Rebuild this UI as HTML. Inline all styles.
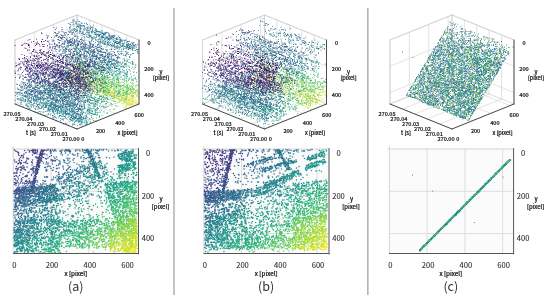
<!DOCTYPE html><html><head><meta charset="utf-8"><style>html,body{margin:0;padding:0;background:#fff}svg{display:block}text{font-family:"Noto Sans CJK JP","Liberation Sans",sans-serif}.b{stroke:#111;stroke-width:.24px}.l{stroke:#000;stroke-width:.22px}.t{stroke:#333;stroke-width:.08px}</style></head><body><svg width="550" height="300" viewBox="0 0 550 300" stroke-linecap="round" fill="none">
<rect width="550" height="300" fill="#fff"/>
<rect x="173" y="8" width="2" height="287" fill="#c4c4c4"/>
<rect x="367" y="8" width="1.6" height="287" fill="#b4b4b4"/>
<path d="M139 40L139 104" stroke="#dadada" stroke-width="0.75"/>
<path d="M77 129L139 104" stroke="#dadada" stroke-width="0.75"/>
<path d="M126.6 35L126.6 99" stroke="#dadada" stroke-width="0.75"/>
<path d="M64.6 124L126.6 99" stroke="#dadada" stroke-width="0.75"/>
<path d="M114.2 30L114.2 94" stroke="#dadada" stroke-width="0.75"/>
<path d="M52.2 119L114.2 94" stroke="#dadada" stroke-width="0.75"/>
<path d="M101.8 25L101.8 89" stroke="#dadada" stroke-width="0.75"/>
<path d="M39.8 114L101.8 89" stroke="#dadada" stroke-width="0.75"/>
<path d="M89.4 20L89.4 84" stroke="#dadada" stroke-width="0.75"/>
<path d="M27.4 109L89.4 84" stroke="#dadada" stroke-width="0.75"/>
<path d="M77 15L77 79" stroke="#dadada" stroke-width="0.75"/>
<path d="M15 104L77 79" stroke="#dadada" stroke-width="0.75"/>
<path d="M15 40L15 104" stroke="#dadada" stroke-width="0.75"/>
<path d="M77 129L15 104" stroke="#dadada" stroke-width="0.75"/>
<path d="M34.4 32.2L34.4 96.2" stroke="#dadada" stroke-width="0.75"/>
<path d="M96.4 121.2L34.4 96.2" stroke="#dadada" stroke-width="0.75"/>
<path d="M53.8 24.4L53.8 88.4" stroke="#dadada" stroke-width="0.75"/>
<path d="M115.8 113.4L53.8 88.4" stroke="#dadada" stroke-width="0.75"/>
<path d="M73.1 16.6L73.1 80.6" stroke="#dadada" stroke-width="0.75"/>
<path d="M135.1 105.6L73.1 80.6" stroke="#dadada" stroke-width="0.75"/>
<path d="M15 40L77 15" stroke="#dadada" stroke-width="0.75"/>
<path d="M77 15L139 40" stroke="#dadada" stroke-width="0.75"/>
<path d="M15 66.2L77 41.2" stroke="#dadada" stroke-width="0.75"/>
<path d="M77 41.2L139 66.2" stroke="#dadada" stroke-width="0.75"/>
<path d="M15 92.5L77 67.5" stroke="#dadada" stroke-width="0.75"/>
<path d="M77 67.5L139 92.5" stroke="#dadada" stroke-width="0.75"/>
<path d="M15 40L77 15" stroke="#cfcfcf" stroke-width="0.8"/>
<path d="M77 15L139 40" stroke="#cfcfcf" stroke-width="0.8"/>
<path d="M15 40L15 104" stroke="#cfcfcf" stroke-width="0.8"/>
<path d="M77 15L77 79" stroke="#cfcfcf" stroke-width="0.8"/>
<path d="M77 79L15 104" stroke="#cfcfcf" stroke-width="0.8"/>
<path d="M77 79L139 104" stroke="#cfcfcf" stroke-width="0.8"/>
<rect x="13.3" y="149.0" width="125.2" height="104.5" fill="#fbfbfb"/>
<path d="M51 149L51 253.5" stroke="#dedede" stroke-width="1"/>
<path d="M88.8 149L88.8 253.5" stroke="#dedede" stroke-width="1"/>
<path d="M126.5 149L126.5 253.5" stroke="#dedede" stroke-width="1"/>
<path d="M13.3 191.3L138.5 191.3" stroke="#dedede" stroke-width="1"/>
<path d="M13.3 233.6L138.5 233.6" stroke="#dedede" stroke-width="1"/>
<path d="M11.8 149L138.5 149" stroke="#d4d4d4" stroke-width="1"/>
<path d="M13.3 146.5L13.3 253.5" stroke="#d4d4d4" stroke-width="1"/>
<path d="M326.5 40L326.5 104" stroke="#dadada" stroke-width="0.75"/>
<path d="M264.5 129L326.5 104" stroke="#dadada" stroke-width="0.75"/>
<path d="M314.1 35L314.1 99" stroke="#dadada" stroke-width="0.75"/>
<path d="M252.1 124L314.1 99" stroke="#dadada" stroke-width="0.75"/>
<path d="M301.7 30L301.7 94" stroke="#dadada" stroke-width="0.75"/>
<path d="M239.7 119L301.7 94" stroke="#dadada" stroke-width="0.75"/>
<path d="M289.3 25L289.3 89" stroke="#dadada" stroke-width="0.75"/>
<path d="M227.3 114L289.3 89" stroke="#dadada" stroke-width="0.75"/>
<path d="M276.9 20L276.9 84" stroke="#dadada" stroke-width="0.75"/>
<path d="M214.9 109L276.9 84" stroke="#dadada" stroke-width="0.75"/>
<path d="M264.5 15L264.5 79" stroke="#dadada" stroke-width="0.75"/>
<path d="M202.5 104L264.5 79" stroke="#dadada" stroke-width="0.75"/>
<path d="M202.5 40L202.5 104" stroke="#dadada" stroke-width="0.75"/>
<path d="M264.5 129L202.5 104" stroke="#dadada" stroke-width="0.75"/>
<path d="M221.9 32.2L221.9 96.2" stroke="#dadada" stroke-width="0.75"/>
<path d="M283.9 121.2L221.9 96.2" stroke="#dadada" stroke-width="0.75"/>
<path d="M241.2 24.4L241.2 88.4" stroke="#dadada" stroke-width="0.75"/>
<path d="M303.2 113.4L241.2 88.4" stroke="#dadada" stroke-width="0.75"/>
<path d="M260.6 16.6L260.6 80.6" stroke="#dadada" stroke-width="0.75"/>
<path d="M322.6 105.6L260.6 80.6" stroke="#dadada" stroke-width="0.75"/>
<path d="M202.5 40L264.5 15" stroke="#dadada" stroke-width="0.75"/>
<path d="M264.5 15L326.5 40" stroke="#dadada" stroke-width="0.75"/>
<path d="M202.5 66.2L264.5 41.2" stroke="#dadada" stroke-width="0.75"/>
<path d="M264.5 41.2L326.5 66.2" stroke="#dadada" stroke-width="0.75"/>
<path d="M202.5 92.5L264.5 67.5" stroke="#dadada" stroke-width="0.75"/>
<path d="M264.5 67.5L326.5 92.5" stroke="#dadada" stroke-width="0.75"/>
<path d="M202.5 40L264.5 15" stroke="#cfcfcf" stroke-width="0.8"/>
<path d="M264.5 15L326.5 40" stroke="#cfcfcf" stroke-width="0.8"/>
<path d="M202.5 40L202.5 104" stroke="#cfcfcf" stroke-width="0.8"/>
<path d="M264.5 15L264.5 79" stroke="#cfcfcf" stroke-width="0.8"/>
<path d="M264.5 79L202.5 104" stroke="#cfcfcf" stroke-width="0.8"/>
<path d="M264.5 79L326.5 104" stroke="#cfcfcf" stroke-width="0.8"/>
<rect x="203.8" y="149.0" width="125.2" height="104.5" fill="#fbfbfb"/>
<path d="M241.5 149L241.5 253.5" stroke="#dedede" stroke-width="1"/>
<path d="M279.3 149L279.3 253.5" stroke="#dedede" stroke-width="1"/>
<path d="M317 149L317 253.5" stroke="#dedede" stroke-width="1"/>
<path d="M203.8 191.3L329 191.3" stroke="#dedede" stroke-width="1"/>
<path d="M203.8 233.6L329 233.6" stroke="#dedede" stroke-width="1"/>
<path d="M202.3 149L329 149" stroke="#d4d4d4" stroke-width="1"/>
<path d="M203.8 146.5L203.8 253.5" stroke="#d4d4d4" stroke-width="1"/>
<path d="M514 40L514 104" stroke="#dadada" stroke-width="0.75"/>
<path d="M452 129L514 104" stroke="#dadada" stroke-width="0.75"/>
<path d="M501.6 35L501.6 99" stroke="#dadada" stroke-width="0.75"/>
<path d="M439.6 124L501.6 99" stroke="#dadada" stroke-width="0.75"/>
<path d="M489.2 30L489.2 94" stroke="#dadada" stroke-width="0.75"/>
<path d="M427.2 119L489.2 94" stroke="#dadada" stroke-width="0.75"/>
<path d="M476.8 25L476.8 89" stroke="#dadada" stroke-width="0.75"/>
<path d="M414.8 114L476.8 89" stroke="#dadada" stroke-width="0.75"/>
<path d="M464.4 20L464.4 84" stroke="#dadada" stroke-width="0.75"/>
<path d="M402.4 109L464.4 84" stroke="#dadada" stroke-width="0.75"/>
<path d="M452 15L452 79" stroke="#dadada" stroke-width="0.75"/>
<path d="M390 104L452 79" stroke="#dadada" stroke-width="0.75"/>
<path d="M390 40L390 104" stroke="#dadada" stroke-width="0.75"/>
<path d="M452 129L390 104" stroke="#dadada" stroke-width="0.75"/>
<path d="M409.4 32.2L409.4 96.2" stroke="#dadada" stroke-width="0.75"/>
<path d="M471.4 121.2L409.4 96.2" stroke="#dadada" stroke-width="0.75"/>
<path d="M428.8 24.4L428.8 88.4" stroke="#dadada" stroke-width="0.75"/>
<path d="M490.8 113.4L428.8 88.4" stroke="#dadada" stroke-width="0.75"/>
<path d="M448.1 16.6L448.1 80.6" stroke="#dadada" stroke-width="0.75"/>
<path d="M510.1 105.6L448.1 80.6" stroke="#dadada" stroke-width="0.75"/>
<path d="M390 40L452 15" stroke="#dadada" stroke-width="0.75"/>
<path d="M452 15L514 40" stroke="#dadada" stroke-width="0.75"/>
<path d="M390 66.2L452 41.2" stroke="#dadada" stroke-width="0.75"/>
<path d="M452 41.2L514 66.2" stroke="#dadada" stroke-width="0.75"/>
<path d="M390 92.5L452 67.5" stroke="#dadada" stroke-width="0.75"/>
<path d="M452 67.5L514 92.5" stroke="#dadada" stroke-width="0.75"/>
<path d="M390 40L452 15" stroke="#cfcfcf" stroke-width="0.8"/>
<path d="M452 15L514 40" stroke="#cfcfcf" stroke-width="0.8"/>
<path d="M390 40L390 104" stroke="#cfcfcf" stroke-width="0.8"/>
<path d="M452 15L452 79" stroke="#cfcfcf" stroke-width="0.8"/>
<path d="M452 79L390 104" stroke="#cfcfcf" stroke-width="0.8"/>
<path d="M452 79L514 104" stroke="#cfcfcf" stroke-width="0.8"/>
<rect x="389.4" y="149.0" width="124.2" height="104.5" fill="#fbfbfb"/>
<path d="M427.1 149L427.1 253.5" stroke="#dedede" stroke-width="1"/>
<path d="M464.9 149L464.9 253.5" stroke="#dedede" stroke-width="1"/>
<path d="M502.6 149L502.6 253.5" stroke="#dedede" stroke-width="1"/>
<path d="M389.4 191.3L513.6 191.3" stroke="#dedede" stroke-width="1"/>
<path d="M389.4 233.6L513.6 233.6" stroke="#dedede" stroke-width="1"/>
<path d="M387.9 149L513.6 149" stroke="#d4d4d4" stroke-width="1"/>
<path d="M389.4 146.5L389.4 253.5" stroke="#d4d4d4" stroke-width="1"/>
<g transform="scale(0.5)">
<path stroke="#481a6c" stroke-width="3.00" d="M87 301zm-6 4zm-47-2zm20 15zm25-4zm1 1zm-4 12zm-40 10z"/>
<path stroke="#472f7d" stroke-width="3.00" d="M89 300zm-2 2zm0 0zm-1 2zm0-3zm0 1zm-1-1zm0 3zm-1-2zm0 5zm0 3zm0-10zm-1 0zm-1 9zm0 2zm0-4zm-1 0zm0-3zm-1 5zm-1 1zm0 0zm0 0zm-9-10zm-6 1zm-5 1zm-11 6zm-2 3zm-3 0zm-5 0zm-1-6zm0 3zm-1-3zm-7-5zm0 20zm9 1zm1-3zm2-3zm2 6zm4-7zm7 2zm23 2zm0 2zm0 3zm1-7zm0-1zm2 4zm2-2zm1-1zm0 1zm1-4zm0 2zm-5 10zm-3 7zm0 0zm-1-8zm0 2zm0 0zm-1 4zm-1 3zm-9-9zm-10 10zm-3-10zm-3 10zm-4 0zm-3 0zm-2-10zm-2 3zm-1 0zm0 1zm0 0zm-3-4zm-5 22zm2 0zm2-9zm1 9zm1-4zm7-2zm2-4zm19 3zm5-1zm4 4zm1 3zm2-4zm1 4zm1-6zm1 0zm-7 12zm-2 3zm-36-3zm3 11zm24-1zm11 3zm-8 19zm-14-5zm-10 2zm-4 7z"/>
<path stroke="#414487" stroke-width="3.00" d="M66 299zm30 0zm14 0zm74 12zm-11-9zm-52 0zm-16-2zm-4 0zm-8 1zm-1 0zm-4 7zm-2 0zm-1-6zm0 7zm0-6zm-1-2zm0 6zm-2-5zm-1 9zm-1-3zm-5-8zm0 2zm0 2zm-1 4zm-2-3zm-1-5zm0 2zm-1 3zm-1 2zm-1-6zm0-1zm0 1zm0 0zm-1 5zm0-3zm-2-2zm0 9zm0-6zm-3-3zm-3 3zm-3-4zm-4 5zm-3-4zm-18 1zm12 10zm3 4zm7 6zm12-2zm6-6zm2 0zm2 7zm0-6zm2 5zm1-3zm0-3zm0 3zm0 2zm1-6zm0 9zm2-2zm1 2zm1-2zm15 12zm-18-7zm-1 6zm-1-4zm0 0zm0 8zm0-2zm-1-1zm0-3zm0-3zm-2-1zm0 6zm0-3zm0 1zm-1-4zm0 8zm-2 1zm-9-10zm-8 3zm-3-1zm-4-1zm0 10zm-2-4zm-3-5zm-2-1zm0 2zm-3 8zm-5-2zm0 0zm-3-9zm2 14zm2 8zm1-6zm1-1zm5 6zm2-5zm2-3zm3 1zm3 2zm5 5zm6-7zm3 2zm1 6zm2-1zm0-2zm2-6zm1 10zm0-7zm1-1zm0 2zm1-5zm0 0zm0 10zm0-8zm0 1zm1 7zm0-8zm0 6zm0 3zm0-9zm0 5zm0 2zm0-1zm1-2zm0 1zm0-3zm0-3zm0 7zm38-7zm-40 11zm-1 5zm0-5zm0 1zm0 5zm-1 3zm0-7zm-1 1zm0-1zm-1 7zm0 1zm0 1zm-1-2zm0 1zm-14-5zm0-2zm-2 2zm-1-1zm-1 1zm-4-5zm0 7zm-3 3zm0-1zm-6 1zm-1-4zm-3-2zm-2 6zm-2-5zm0 5zm0 7zm0 4zm2-2zm1 4zm0-10zm0 4zm1 2zm11-7zm6 7zm1-4zm3 1zm1 0zm2 3zm5-2zm4-3zm0 1zm0-1zm1 5zm0-2zm0 1zm1-6zm0 5zm1 6zm0-11zm0 3zm0 2zm0-3zm1-1zm0 1zm-1 10zm-2 5zm0-4zm-1 6zm-1-6zm-1-1zm0 7zm0-1zm-1 2zm0 2zm0-6zm0-2zm0 7zm0-9zm-1 9zm0-2zm0 4zm-1-2zm0 1zm-4 0zm-3-7zm-2 7zm-3-6zm-3 4zm-4 2zm-2-2zm-1-5zm0 8zm-2-2zm-1-3zm-2 3zm-2-1zm0 3zm0 2zm2 2zm1-3zm5 9zm12-3zm7-5zm3 2zm0 4zm-21 14zm-6-9z"/>
<path stroke="#39568c" stroke-width="3.00" d="M132 299zm49 7zm0-2zm-1-1zm-1 3zm-1-3zm0 1zm-1-3zm-2-1zm-1 1zm-18 7zm-4-8zm-1 2zm-1 8zm-10-7zm-1-3zm0 3zm-2-3zm-1 2zm-1-1zm-2 0zm-2 5zm-1-5zm-7 4zm0-3zm-1 6zm-10-6zm-3-1zm-2 1zm-4 9zm-1-8zm0 3zm-1 0zm0-6zm-1 2zm-4-2zm-6 8zm-11 1zm-5-8zm-3 6zm-14 11zm0-1zm17 0zm4 2zm6 4zm3-8zm4 2zm2 1zm3-2zm3-3zm3 7zm1 0zm2 0zm0 3zm3-9zm2 8zm0-5zm17 3zm19 0zm2-3zm14-1zm-28 11zm-4-2zm-10 3zm-7 3zm-8-3zm-5 5zm-4-5zm0-2zm-3-2zm-1 4zm-1 7zm-1 0zm-11-2zm0-2zm0-4zm-1 8zm-1-1zm-4-4zm-5 3zm-2 2zm-1-9zm-1 4zm-23-2zm8 11zm9 5zm6-7zm2 3zm0-2zm1 5zm6 4zm20-5zm0-3zm1 1zm20-3zm27 2zm-14 10zm-8 9zm-5-6zm-21 2zm-4 0zm-16-6zm-2 6zm-1 2zm-3 2zm-4-7zm0-2zm-5 8zm-4-6zm-15 0zm-3 14zm2 3zm3-2zm1-3zm1-1zm2 4zm3 0zm1 2zm3-7zm1 6zm0-6zm1 2zm1 7zm3-7zm0 0zm0 1zm2 1zm0 1zm0 5zm1-7zm1 4zm0-5zm3 3zm0 2zm1-5zm1 6zm0-4zm0 3zm1-4zm0 6zm1-3zm2-7zm0 4zm3 5zm0-8zm1 3zm6 4zm5-7zm0 5zm19 4zm7-2zm1 14zm-14-9zm-8 3zm-2 5zm-1-1zm-7-5zm-1-2zm-1 6zm-1 2zm0-5zm0 7zm-3-7zm0 3zm-2-4zm0 4zm0 0zm-2-5zm-1 2zm-1-1zm-1 4zm-1-7zm0 5zm0-1zm0 5zm-1-8zm-1 2zm0-3zm0 2zm-1 5zm0 3zm0-7zm0 5zm0-3zm0 5zm-1-7zm0 8zm0-3zm-1 1zm0-6zm-1 6zm0 0zm-1 0zm-1-3zm0 3zm-1-7zm-2 2zm0-1zm0 6zm0-1zm-2 2zm0-2zm-1 0zm0-2zm-1-6zm-1 2zm0 3zm-1-2zm0-2zm0 5zm0 1zm0-4zm-2 6zm0-2zm-1-4zm0 8zm-1-11zm0 6zm0 3zm-1-3zm0 1zm0-3zm-2 4zm0-2zm0 5zm-1-2zm0-7zm0 7zm0-2zm0 1zm-2 0zm-1-3zm-1-1zm0 2zm-1-6zm0 10zm0-2zm0 3zm-1-2zm-1-6zm0 3zm-1-1zm-1 1zm-1 2zm-1 1zm0-1zm-2 3zm0-1zm-1 1zm0 4zm1 0zm1 8zm0-3zm1-2zm0 4zm2-5zm0-4zm1 1zm3 1zm0 3zm0 5zm0-1zm1-6zm0-2zm1 0zm0 5zm1-2zm2-4zm0 1zm1-1zm0 8zm0-2zm1-6zm0 5zm1-4zm1 9zm0-9zm1 1zm0-1zm1 7zm1-7zm1 3zm0 4zm3-9zm1 10zm1-5zm1 5zm1-7zm1 1zm0-2zm1 0zm0 3zm1 3zm2-5zm0 6zm2-6zm1-2zm4 1zm2 1zm4-1zm5-2zm5 3zm2 0zm-8 9zm-11 1zm-6 9zm-8 0zm0-6zm0 6zm-2-10zm-4 4zm0-4zm0 2zm-1 4zm-1 4zm-1-5zm0-2zm0-1zm0 7zm0-8zm0 8zm-1 0zm-3-4zm0 0zm-1-5zm-2 4zm0-3zm-3 6zm0-1zm-1-4zm0 6zm0-4zm-1-4zm0 0zm-1 9zm0-1zm0 3zm-3-7zm1 14zm0-2zm1 1zm1-2zm0-1zm1 3zm5-3zm8 3zm4-5zm0 5zm0 6zm-11 3zm-6 0zm-2 1zm6 25zm-7 7z"/>
<path stroke="#31688e" stroke-width="3.00" d="M165 299zm8 0zm1 0zm9 0zm17 0zm4 1zm-5 0zm-2 2zm-1 0zm0 6zm-2-7zm-1 5zm-2-6zm-9 11zm-2-3zm0-2zm-1-3zm0 5zm-1-1zm-1-5zm0 4zm0 2zm0 1zm0 1zm-1-10zm0 6zm0-2zm-1 1zm0 0zm0-5zm-1 1zm0 2zm0-2zm-1-1zm-1 1zm-2 0zm0 5zm-2-1zm-2-3zm-1 0zm-6-2zm-4 0zm0 7zm-8 3zm-2-2zm-4-5zm-1-2zm0 5zm-6-6zm-4 3zm-5-3zm0 10zm-5-8zm-26 8zm13 11zm3 0zm1 0zm2-7zm1 5zm6 4zm9-2zm5-5zm2 5zm0-3zm4 5zm15-11zm7 2zm5 9zm1-8zm4 2zm4-2zm2 8zm1-9zm1 0zm0-1zm1 3zm0-3zm0 0zm1 9zm0-3zm0-6zm0-1zm0 2zm1-1zm0 7zm1-2zm0 0zm2-6zm0 6zm0-1zm0 3zm0-3zm1 3zm2-3zm5 17zm-5-1zm-1-2zm0 3zm-1-10zm0 1zm0 0zm0 0zm-2 4zm-8 1zm-7 3zm0 0zm-2-2zm-10-1zm-4-2zm-15 6zm-1-8zm-2 5zm-8-7zm-2 8zm0 2zm-6-8zm0 0zm-2 2zm-1 2zm-22 3zm-5 2zm-3-9zm-12 20zm17-5zm10-4zm3 4zm1-1zm6 3zm5 2zm1-9zm11 11zm4-6zm1 5zm2-8zm1-2zm1 9zm6 0zm5-5zm3 1zm1-2zm23 5zm15-2zm1-1zm1-3zm4 9zm-40 11zm-6-2zm-1-6zm-4 4zm-4-6zm-1 2zm-3 5zm-1-5zm0 0zm-2 6zm-1 0zm0-1zm-1 4zm-3-11zm-3 2zm-1-2zm-3 9zm-4-4zm-1-5zm0 1zm-1 8zm0-8zm-3 9zm-3-3zm-4-1zm-3 5zm-9-5zm-3 0zm-28 14zm2-3zm18 4zm4-1zm1-5zm2-1zm1 6zm4 3zm4-1zm1-2zm3 3zm0-11zm3 10zm1 1zm9-10zm5 2zm1 5zm4-6zm2 2zm1-4zm3 6zm3-4zm3 1zm3-3zm-24 20zm-3-3zm-5-2zm0-3zm-1 10zm0-10zm-1 9zm-1-9zm-1 1zm0 2zm-1 1zm0 1zm-1-2zm0 8zm-1-5zm-1-5zm0 5zm-1-1zm0 4zm0-1zm-1-7zm0 2zm-1-3zm0 4zm0 0zm0 2zm-1-5zm0 0zm0 3zm-1 4zm-2 3zm0-7zm0-1zm-1 7zm0-10zm0 6zm-1-5zm0 3zm-1 3zm0-3zm0 6zm0-4zm-1 5zm0-6zm-1-2zm0 4zm0-5zm0 8zm-1-9zm-1 5zm0 3zm-1-4zm0 6zm0-5zm0 1zm0 2zm-1-4zm0-3zm0 0zm-1 9zm0-9zm-1 0zm0 0zm0 3zm0-4zm0 4zm0-5zm-1 5zm0 6zm-1 0zm0-11zm0 5zm0 2zm0 4zm-1-8zm-1 3zm-1-5zm-1 7zm-1-8zm0 4zm-3 1zm0-2zm0 3zm0 0zm-1 3zm-1-5zm0 0zm0 1zm0 3zm-1-4zm-2-1zm0 7zm-1 0zm-3 0zm-2-2zm-2-5zm-1 4zm0-6zm0 8zm0 0zm-2 2zm0-4zm-2 3zm0-2zm-3-1zm-1-3zm-2 6zm0 1zm-1-1zm-1 1zm0-4zm-1 4zm-1-6zm0 3zm0-4zm-1-1zm-1 5zm-1 2zm-2 0zm-7-4zm-4 4zm-1 5zm1-1zm2 2zm0 1zm7 5zm0-3zm1 1zm0 2zm1-10zm1 2zm1 6zm0-4zm1 6zm1-2zm0 3zm1-10zm0 5zm0 1zm1-2zm1 3zm1 3zm1 0zm0-10zm1 1zm1 3zm0 1zm1 4zm0-1zm0-4zm1-3zm0-1zm0-1zm0 3zm1 2zm0 0zm1 5zm0 0zm0-5zm1-1zm3 4zm0-8zm1 10zm0-2zm1 2zm3-2zm0-1zm2-6zm0 8zm0-6zm0-3zm2 1zm0 0zm1 4zm1 4zm1-2zm0-4zm1 6zm0-6zm1 2zm0 4zm1-5zm1-1zm0 0zm1-2zm0 10zm0-2zm0-5zm0 2zm1 0zm1-2zm0-2zm1 7zm0-3zm0 0zm2 5zm0-2zm2-7zm1-2zm0 11zm1-10zm0 10zm0 0zm1-9zm1 2zm0-2zm0-2zm2 4zm1 2zm2-6zm0 4zm1 5zm1 1zm0-2zm1-4zm0 1zm3 1zm1-5zm0 10zm1-4zm3 1zm2-6zm0 3zm3-5zm2 1zm3 2zm6 1zm15 0zm-10 9zm-13-1zm-3 5zm-9-4zm-1 6zm-1-6zm-4 6zm-1 0zm0-3zm-2 5zm-1-6zm-1 4zm-1-4zm0-2zm0 6zm-1-6zm-2 5zm-1 3zm-1-8zm-2 0zm0 0zm-1 3zm0 0zm-1-1zm0 6zm-1 0zm-1-8zm-1 3zm-2-1zm-2 7zm-1-1zm0-6zm-1 5zm0-2zm-3 0zm0 1zm0-2zm-1-2zm0 8zm0-9zm-1 9zm-2-2zm-1 2zm0-7zm-1 1zm-1 0zm0 1zm0 5zm-1-11zm0 1zm0 0zm-1 0zm0 5zm-1-2zm0 3zm-1 4zm-1-5zm-1 2zm0-6zm0-1zm-3 2zm-1-2zm0 3zm-1 2zm-1 0zm0 3zm0-3zm-2-4zm-1 1zm-1-3zm0 10zm-1 1zm-1-8zm0-2zm-1 3zm0 0zm-1 7zm-1-4zm0 3zm0-2zm-1-4zm0 3zm0-7zm0 8zm-1-6zm0 5zm-1-2zm-4-1zm0 7zm-1-11zm-1 7zm-1-2zm0 1zm0-1zm0 1zm-1 17zm2-11zm0 7zm0 4zm1-5zm0-3zm0-1zm0 6zm0-4zm2 7zm0-8zm2 3zm1 2zm0 1zm1-6zm5 1zm0 4zm2-5zm0 1zm2-2zm0 4zm1-4zm1 0zm1 0zm1 0zm1-2zm0 2zm1 3zm2-4zm0 9zm2-10zm0 4zm2-2zm1-1zm0 8zm0 2zm0-9zm2-2zm2 7zm1-5zm2 6zm0-5zm0 6zm0-6zm4 5zm24-6zm-15 10zm-7 2zm-2 3zm-12-3zm-4 5zm-1-2zm0-3zm-1 2zm-4-4zm0 2zm-2 0zm-2 5zm0 1zm0 0zm-1 3zm-1-11zm-1 7zm-3 1zm-1-2zm-2 3zm0-3zm-3 4zm0 0zm-4 0zm2 4zm0 2zm3 4zm1 3zm3-11zm1 10zm1-5zm0 5zm4-7zm5 8zm8-9zm1 8zm9-1zm10-9zm-16 13zm-11 2zm0 1zm-3-3zm-10 0zm-2 4zm-4 2zm-1-5zm9 16zm1-3zm3 0zm-11 12z"/>
<path stroke="#2a788e" stroke-width="3.00" d="M213 299zm43 6zm-5 4zm-1-8zm-3 3zm-3 4zm-1-1zm-1 1zm-4 0zm-1 3zm-7-10zm0 1zm-13 0zm-10-2zm-9 11zm-3-11zm-1 1zm0 5zm-3-1zm-4 3zm0-8zm-4 2zm0 5zm-1 3zm0-10zm-2 4zm-2 3zm-9-7zm-3 11zm-30-1zm-18 11zm21-4zm25 6zm4-5zm5-1zm6-2zm0-1zm1-2zm1 11zm3-10zm1 4zm1 1zm0-1zm1 6zm0-2zm1-1zm9-5zm2 1zm0 6zm1-7zm13 0zm15-1zm13 4zm14-1zm-19 14zm-31 2zm-3-9zm-1 7zm0-7zm-3 0zm-1 1zm-1 0zm-2 3zm-1-1zm0 8zm-1-5zm0 2zm-1-1zm0 4zm-1-10zm0 2zm0 3zm-1 1zm0-4zm0 5zm-1 0zm0-3zm0 0zm0-4zm0 7zm0 3zm-1-6zm0 4zm0-6zm-1-2zm-1 5zm0 1zm0-3zm-1 0zm-2 5zm0-6zm0 0zm-1 1zm-1-1zm0-1zm-4 9zm-1-1zm-10-1zm-1-3zm-2 4zm-2-1zm-12-8zm-8 9zm-33 1zm-12-2zm32 5zm3 7zm4-6zm1 5zm7 2zm3-6zm8-1zm0 3zm1 2zm1-8zm1 7zm0-1zm1 1zm1 2zm0 2zm1 0zm1-5zm0-2zm1-4zm1 8zm0 2zm1-4zm1 1zm2-7zm0 8zm3-7zm2 6zm1-7zm2 1zm1 7zm0-8zm1 6zm0-5zm3 4zm0-3zm0-1zm11 1zm1-1zm1 3zm2-4zm0 4zm1 3zm0 1zm0-3zm1 6zm0-2zm2 2zm9-4zm31 2zm-25 3zm-13 8zm0-5zm-1-1zm-1-2zm-1 4zm0 4zm0-1zm0-2zm0-1zm0-4zm0 9zm0-8zm-1-1zm0 3zm0 0zm0-1zm-11 4zm-2 4zm0-9zm-3 2zm-4 2zm0 2zm-5-2zm-2-4zm-1-1zm-1 0zm-7 8zm-4-3zm-2-5zm-1 0zm-2 8zm-1 3zm-1-9zm-1 8zm-2-4zm-1-2zm-2 3zm0-6zm-2 1zm-1 5zm-1-2zm-1-1zm-1 0zm0 5zm0-8zm-2 9zm-2-7zm-7-2zm0 5zm-2-1zm0 2zm-3 1zm-1 2zm-2-4zm-1 0zm0 1zm-1 4zm-9-1zm-13-4zm0 17zm10 0zm1-2zm0 1zm4 0zm1-1zm4-7zm4 2zm1 4zm0-4zm4 4zm4-2zm1 0zm0-4zm3 6zm0 1zm1-6zm2 8zm4-9zm1 5zm4-6zm0 1zm0 0zm1-1zm0 5zm0-1zm2 6zm9-8zm2 4zm1-3zm1 3zm1-3zm8 3zm12-1zm1 5zm-12 9zm-12 0zm-4-8zm-2 10zm-4-10zm-2 0zm-5 1zm-1 1zm0 3zm-7 5zm-2-9zm-2 4zm0-2zm-2 2zm0-3zm-2 2zm-3 4zm-4 2zm-1-1zm-1-3zm-1 2zm0-3zm-1 5zm-2-5zm-1 4zm0 1zm-1-8zm0 4zm0 1zm-1 4zm-1-8zm-1 6zm-1-8zm-3 3zm0-4zm0 2zm-1 3zm-1 0zm-2 2zm-3 2zm-1 0zm-1-8zm-1 4zm0 2zm0 3zm-2-1zm-6-7zm-3 3zm-1 2zm-4 3zm0-4zm-4 0zm0 2zm0 3zm-1-8zm-6 8zm-7-4zm-3 3zm2 12zm12-2zm2 1zm0 1zm2-6zm4 5zm0-1zm3-7zm0 8zm3-5zm1 2zm0-3zm0 5zm0-4zm0 2zm1-2zm0-3zm0 5zm0-4zm1-1zm2 0zm0 10zm0-10zm1 10zm1-4zm2-7zm1 5zm1 4zm0 2zm0-2zm1-1zm2-7zm1 9zm1-6zm0 7zm1-7zm0 7zm0-11zm0 11zm0 0zm2-4zm1-5zm0 3zm0-4zm1-1zm0 5zm0-4zm2 4zm1 2zm0 2zm0 0zm1-5zm1 7zm0-3zm0-8zm2 10zm0-5zm0-2zm1-1zm0 9zm0-8zm1 1zm0 5zm0 2zm0-8zm1 4zm1-1zm0 1zm0 1zm1-2zm2 4zm5 0zm1-7zm1 7zm2-4zm0-1zm1-3zm0 6zm11-5zm3 1zm3-3zm4 8zm3-1zm9-6zm-31 13zm-10-1zm-1 1zm-1-2zm0-1zm-5 6zm0-6zm-3 4zm-1-3zm-1 2zm0-2zm-1 0zm0-1zm-2 2zm-1 5zm0 0zm-1 0zm0-1zm-1-3zm0-1zm0-2zm0 4zm-1-2zm0 6zm0-5zm0 2zm0 5zm-1-4zm0 0zm-1 1zm0 0zm-1-3zm-1 0zm0 2zm-1 0zm-1-1zm-1-2zm0 2zm0-3zm0 4zm0 1zm0 3zm-1-7zm0-3zm0 3zm-1 5zm0-1zm0-1zm0 2zm-1-1zm0 1zm-1-2zm-2-4zm0 1zm0-3zm-1 2zm0 4zm0-5zm-1 4zm0-5zm0 8zm0 2zm-1 0zm-1-6zm-1 2zm-1 2zm0-8zm-1 9zm-1-4zm0 4zm-1-4zm0 5zm-1 0zm0-10zm-1 4zm-1-1zm0 5zm-1-3zm-1 1zm-2 0zm-1 3zm-1-7zm-1 9zm0-6zm-3 3zm-1 1zm-4-1zm0-2zm-2-6zm-2 2zm-5 5zm-1-2zm-1 4zm-1 2zm-1 0zm-6-4zm-1 4zm-5 11zm2-7zm10-1zm1-1zm0 7zm3-3zm1-3zm1 0zm6 4zm2 5zm7-11zm0 7zm2-4zm2 1zm0-2zm1-1zm4 3zm4-1zm0 1zm3 2zm0-3zm2 0zm1 8zm2-8zm0 4zm1 0zm1-5zm0-2zm0 2zm1 7zm2 0zm0-2zm6 1zm3-2zm2 1zm1-4zm0-1zm9 1zm5-2zm-9 18zm-1-3zm-7-1zm0 2zm0-2zm-7 0zm-3 6zm-2-9zm-3 0zm-1 1zm-4 2zm-2 4zm-2-6zm-4 5zm-2 4zm0 0zm-5-1zm0-1zm-1 3zm-1-1zm0-7zm-3-1zm-1 3zm0-1zm-2-3zm0 3zm-3-3zm-1 5zm0 5zm-1-4zm-1 3zm-3-10zm-4 6zm-1-5zm-3 7zm-1-2zm-1-5zm-1-1zm-4 6zm-9-2zm3 18zm1-3zm2 2zm2 2zm4-5zm0 5zm1-10zm0 10zm2-3zm2-2zm0 4zm1-1zm2-9zm1 6zm1-5zm0 4zm0-2zm1 3zm0 2zm0-7zm0 4zm1-3zm3 8zm1-9zm0 9zm1-3zm2 3zm1-7zm1 5zm0-3zm2 0zm0 4zm1-3zm0 2zm0-5zm1 6zm3-5zm0 6zm1-2zm0 1zm1-8zm0 8zm4-1zm0-5zm2-1zm5-1zm3 7zm6 2zm7-9zm5 3zm1 3zm4 1zm-13 6zm-18-1zm-1 2zm0 7zm-3-9zm-2 0zm-1 1zm-1 9zm-1-9zm-1 0zm0-1zm-1 6zm0-5zm0-1zm-2 2zm-2 0zm-2 7zm-2-3zm-1-6zm-1 2zm0 5zm-1-6zm-1 1zm0 5zm-1 3zm0-1zm-1-3zm-1-7zm0 10zm-2-10zm0 8zm0-5zm0 2zm0-3zm-2-1zm0 8zm-1 1zm0-7zm-3-3zm0 6zm-1-1zm0-2zm-1 8zm0-2zm0-1zm0-8zm-1 1zm0 0zm0 8zm0-7zm-1 5zm0 4zm0 0zm-1-11zm-1 2zm-2 7zm-1-4zm-2 0zm-2-1zm0-2zm-1 10zm0 5zm2 4zm0-2zm1 3zm1-6zm0 3zm0-1zm0 1zm0 3zm1-3zm1 1zm0-2zm0-3zm0 6zm1-9zm0 7zm1 2zm0-6zm0-2zm1 4zm0 2zm1-4zm0 6zm2-3zm0 3zm1-6zm0-1zm2 7zm0-4zm1 4zm1-7zm0 0zm0 8zm0-4zm1-1zm1-3zm0 9zm4-7zm0 0zm2 1zm1 0zm0 4zm1-3zm0 5zm1-10zm2 5zm3-5zm2 7zm4-4zm9-2zm5 5zm-23 8zm-1-2zm-1 2zm-1-3zm0 0zm-4 1zm-1 6zm-5-7zm-4 2zm-1 5zm-4-1zm0 3zm0-4zm-2-1zm0 7zm0-3zm-3 0zm0-6zm-2 1zm-1 4zm1 7zm2-1zm0 9zm1-10zm4 4zm2-2zm0 4zm3 1zm1-5zm0 6zm0-7zm0 5zm10-1zm5 0zm-13 9zm-4 5zm-8-6z"/>
<path stroke="#23888e" stroke-width="3.00" d="M207 299zm29 0zm34 11zm-3-10zm-1 3zm0 3zm-1 0zm0-2zm-1-4zm-1 7zm-2 0zm-1-4zm-1 2zm-1 3zm-1 2zm0-7zm-2 5zm-1-8zm-1 1zm0 7zm0-3zm0 0zm-1-4zm-1 4zm0-2zm-2 2zm0 4zm-1-2zm0 4zm-1-5zm0 0zm0 1zm-1-3zm-1 4zm-1 2zm-1-3zm-1-7zm0 9zm-5-8zm0 10zm-2-10zm-11 0zm-30 1zm-22 3zm-12-3zm22 19zm3-7zm6 0zm9 7zm19-5zm17-4zm1 0zm1 4zm0-4zm1 5zm0-3zm2 4zm0-1zm1-4zm1 5zm0-2zm1-3zm0 9zm0-5zm1 3zm1-8zm1 4zm2-2zm1 1zm0 4zm1 3zm0-2zm0-4zm2 1zm0 5zm0-9zm0 4zm1 5zm0-9zm1 8zm0-2zm1 4zm1-11zm2 9zm1-9zm0 7zm0-1zm1-6zm0 0zm1 1zm1 7zm2-1zm1-1zm3-3zm1 2zm0-1zm0 11zm-2-2zm-2-1zm-6 3zm-4 2zm0 4zm-1 1zm-4-4zm-3 5zm-1-1zm-1-5zm-2 2zm-1 0zm0 2zm0 2zm-2-1zm-1-3zm0 1zm-1 1zm0 2zm-1-4zm-1 0zm-1 4zm-24 0zm-2-2zm0-3zm-1 5zm-6-8zm-2 5zm-2-4zm-1 6zm-1-5zm-3 6zm-1-5zm0 2zm-1 1zm-1-9zm-1 8zm-1-1zm-2 1zm-1-7zm-1-1zm-2 3zm-3 6zm-2 2zm-32 8zm11 3zm1-2zm9-4zm1 0zm1 0zm0-4zm0 3zm1 1zm1-2zm2 9zm2-10zm1 6zm4 3zm5-8zm3 6zm1-5zm0 5zm1-2zm1-3zm0 6zm0-8zm1 1zm0 5zm1 4zm1-8zm1 5zm1 2zm1-1zm4-8zm0-1zm3 2zm1-2zm1 0zm0 10zm0-9zm2 6zm0 0zm4 2zm1 0zm0 1zm1-6zm8 4zm15-2zm2 4zm1-5zm4-2zm1-3zm1 6zm0-6zm2 1zm3 1zm0-1zm2 3zm2-4zm-4 15zm-24-3zm-3 8zm-14 3zm-1-10zm0 3zm-3 2zm0-1zm-1-1zm-3 3zm0 0zm-2 0zm-1-3zm-1-1zm-1 3zm0 0zm-2-3zm0 2zm-3-1zm0-2zm-1 1zm-1 7zm-1-4zm0-3zm0-3zm-2 11zm-2-3zm0-6zm-3 6zm0-4zm-1-1zm-1 2zm0 1zm-2 1zm-3 1zm-2-1zm-1-3zm0 0zm-4 1zm0-4zm-1 3zm0-3zm-6 3zm-7-4zm-17 10zm-14 9zm6-7zm6 11zm5-11zm0 2zm2 9zm1-9zm5 4zm2-1zm0 3zm3-5zm0 5zm4-4zm0 5zm4-4zm2 6zm1-5zm1 0zm1 4zm2-1zm0-7zm1 6zm2-8zm3 11zm2-9zm4 2zm4-3zm0 4zm0-3zm1 3zm2 0zm4-1zm3-3zm3 1zm2 0zm6-1zm1 2zm5 4zm0 2zm4 2zm16-5zm-13 8zm-17 0zm0 9zm-9-11zm-1 1zm-12 0zm-2-1zm-1 8zm-2-3zm0 4zm0 2zm-2-5zm0-6zm-1 9zm-5 0zm-1-7zm-2 1zm-2 5zm-2 2zm0-6zm-1-4zm0 2zm-1-1zm-3 5zm0-6zm-4 8zm-2 2zm-2-2zm-1-7zm-3 2zm-3 4zm0-7zm-2 11zm-3-5zm-2-4zm-8-1zm-9 7zm-2 1zm0-4zm-6 2zm-25 16zm13-7zm4 4zm7 3zm2-2zm10-3zm2 2zm2 0zm0-3zm4 0zm3 5zm3-7zm5 0zm0 7zm1-6zm1-3zm1 3zm0 1zm3 2zm2 4zm3-6zm5-5zm1 7zm0-1zm0 5zm1-2zm0 0zm1-9zm2 5zm0 3zm0-8zm1 8zm4 0zm4-5zm1 1zm1-2zm0 3zm0-1zm2-3zm2 1zm3 6zm4-4zm19 5zm4-7zm-27 16zm-13-2zm-1 7zm-4-4zm-11-2zm-7-4zm-1 1zm0-1zm-1-1zm-2 0zm-1 1zm-1 1zm-6 6zm-1-4zm-2 0zm-1-1zm0-3zm-1 4zm-1-3zm-2 5zm-2-2zm-1 7zm-2-10zm0 4zm0-3zm-1-1zm0 5zm-1 0zm0 0zm-1-4zm0 2zm-1 4zm-1-7zm-1 1zm-1-1zm0 4zm0 0zm0-2zm0-3zm-3 3zm-1 5zm0-5zm-1 3zm-2 2zm0-1zm0-4zm-1 0zm-3 0zm-1 6zm-1-9zm-1 9zm-6-6zm-21 8zm-9-6zm5 17zm11-5zm5 4zm6 2zm1-8zm3 6zm1-1zm3-8zm11 11zm1 0zm3-8zm0 4zm1 4zm3-1zm1-4zm0-3zm11 3zm12 4zm2-9zm3 1zm8-2zm1 8zm16-5zm-36 12zm-3 3zm-1-4zm-5 0zm-1 4zm0-3zm-1-3zm-2 6zm-3 1zm-2-3zm0 3zm0-1zm-1-1zm0-3zm-6 9zm-2-10zm0 8zm-1 0zm0-4zm-4-2zm0-1zm-1 5zm-1 2zm0 0zm-1-3zm0-5zm-3 9zm-1 1zm-1-2zm0-7zm-2 9zm-2-1zm0-10zm-1 4zm-2 2zm-1 1zm0-1zm-3-2zm0-2zm-6 1zm-1-1zm0 3zm-40 18zm5-8zm13 6zm3 1zm1 0zm1-4zm5 3zm1 2zm2-8zm0 5zm0-2zm0 4zm3-3zm1-1zm0-5zm2 10zm1-6zm0 6zm1-1zm0 0zm0-2zm2-1zm6 2zm2 1zm1-2zm0-1zm1 4zm0-7zm0-1zm0 6zm4-9zm0 7zm4-7zm1 7zm1 2zm0-3zm0-3zm1 0zm2 5zm1-2zm0 4zm2-4zm1 5zm1-9zm0 6zm2 1zm0-8zm1 10zm1-3zm0 0zm3-6zm0 8zm0-3zm3 4zm3 0zm1-11zm2 10zm1-8zm0 8zm12 5zm-1-2zm-6 3zm-8 3zm-1-4zm0 0zm0 3zm-2-4zm-3-2zm0 4zm-3-4zm-1 1zm-1 1zm-3 1zm-1 5zm0 0zm-1 0zm-1 1zm-1-9zm-1 4zm-1 3zm0 0zm0-5zm-1 0zm0-1zm0 5zm-4 5zm-1-1zm-1-9zm-5 2zm-4-1zm-2 6zm0-4zm0 1zm-1-2zm-1 1zm-2 4zm0-4zm-2-3zm-2 4zm0 2zm-1-3zm-2 4zm0 2zm0 0zm-1-9zm-1 9zm-1-2zm0-5zm-2 6zm-1-6zm0 5zm-5-7zm-3 8zm-5-2zm0 3zm-7-7zm-3 1zm-9 17zm0-5zm1-1zm3 5zm3-1zm0 2zm3 0zm3-2zm1-6zm1 4zm5-2zm1 5zm0-1zm0 1zm1-1zm3 1zm1-8zm1 6zm1-3zm1 5zm1-1zm0-3zm0-3zm0 3zm1 5zm1-4zm2 6zm0-11zm2 1zm1 6zm1 2zm2-9zm0 6zm1 4zm1-8zm1 0zm1 7zm0-1zm2-7zm0 2zm0-2zm0-1zm1 1zm0 7zm1-6zm0-1zm0 7zm0-6zm1 6zm1-2zm1 2zm2-6zm0 0zm1 0zm0 5zm7-2zm2-1zm4 2zm2-5zm2 2zm0 2zm5 4zm8-2zm-22 14zm-2 0zm-2-2zm-2 2zm-6-1zm-3-4zm-1-2zm-1 7zm-2-4zm-2 2zm-2-5zm0 5zm-2-4zm0 6zm-1-5zm-3 4zm0-5zm-1 1zm-1 4zm0-3zm0-2zm0-1zm-1 7zm-2-3zm-1-4zm-1 1zm0 7zm-1-10zm0 1zm0 6zm-2-7zm-1 9zm-1-6zm0 1zm-2 4zm-1 1zm0-8zm-1 5zm0 1zm-1-5zm0 9zm-1-5zm0-6zm-1 4zm0-4zm-1 7zm0 3zm-1-10zm0 6zm-1-4zm0 1zm-1 3zm0 3zm-1-7zm-1 6zm-2-7zm0 0zm0 10zm0-6zm-2 3zm0-4zm-3 1zm0 6zm-1-3zm0 13zm1-1zm0 3zm1 0zm1-6zm1 0zm0 3zm1-8zm1 0zm0 10zm0-6zm0 1zm1 1zm0 1zm1-4zm0-2zm0 10zm1-5zm0 3zm1-6zm1 3zm2 0zm1-4zm0 5zm1-4zm0 2zm1-3zm0 4zm1 2zm0 0zm0-7zm0 5zm1 2zm0-1zm0-3zm0 2zm1-5zm0 2zm2-3zm0 3zm3-1zm0 6zm0-6zm1 9zm1-8zm0 0zm1-2zm0 5zm0-6zm1 9zm0-1zm0-3zm1-4zm2 0zm0 9zm0-10zm6 4zm5 5zm9-1zm17-1zm-24 11zm-7 2zm-3-5zm-7 2zm-5 4zm-5-1zm0-5zm-1 5zm-1-5zm0 6zm0 0zm-2 1zm0-4zm-1-5zm0 7zm-3-3zm-1 0zm-2 2zm0 0zm0-1zm0 0zm-1-6zm0 7zm0 0zm0 4zm-2-10zm-1 10zm0-10zm-2-1zm1 13zm0 0zm0 0zm5-1z"/>
<path stroke="#1f988b" stroke-width="3.00" d="M273 310zm-1 1zm-4-2zm-3-6zm-1 3zm-2 1zm0 3zm0-4zm0-3zm0 8zm-3 0zm0-5zm-1 3zm0 1zm-1-2zm-1 2zm-2 1zm-2-10zm-3 6zm-8 2zm-1-1zm-3 1zm0 4zm7 1zm1-2zm1 7zm2-2zm0 0zm1 1zm1 3zm0-7zm1 8zm0-3zm1 3zm1-3zm1-7zm2 7zm0-5zm1 9zm0-9zm0 7zm1-7zm0 1zm1 2zm0 1zm1-3zm0 2zm1 6zm0-6zm0 0zm1 5zm0-3zm1-6zm1 8zm1-9zm3 0zm2 5zm1-2zm0 14zm-1-2zm0 1zm0-1zm-1 2zm-1 5zm0-4zm0-6zm0 6zm0 5zm-1-4zm0 0zm0-3zm-1 5zm0-3zm-1 4zm0-9zm-1-1zm-4 10zm0-5zm-1 2zm0 0zm-2-4zm-1 3zm0 1zm0 0zm-1 0zm0 4zm-1-4zm0-3zm-1-4zm0 10zm0-6zm0 1zm0-2zm-1 2zm-1 2zm-1 4zm0-4zm0-3zm-1 6zm-3-3zm0 2zm0 2zm-2-2zm-1 1zm0-3zm-1 3zm0 0zm-1-4zm-1 2zm-26-5zm-11 4zm-9 13zm3 2zm12-8zm7 6zm13-6zm9 2zm0 0zm1 5zm0-1zm0-6zm0 4zm2 0zm1-3zm0 4zm1-4zm1 5zm0 2zm1-6zm0-2zm0 2zm1 6zm0-9zm0-1zm1 0zm1 2zm0 3zm1-2zm1 8zm1-4zm1-2zm0-3zm0 0zm0-1zm1 2zm0 1zm1-2zm1 1zm0-1zm1 3zm2-5zm1 1zm0 1zm1 2zm2-3zm0-1zm3 5zm1 4zm1 0zm2-9zm1 2zm1-2zm1 0zm0 1zm1 8zm0 5zm-7 4zm-9-6zm0 5zm-7-3zm-1 0zm0 6zm-5-1zm-2-7zm-2 9zm0-6zm-2-1zm-4-2zm-9 9zm-1-3zm-2 5zm-1-6zm-5-3zm-1 6zm-3 1zm-2-9zm-3 0zm-3 8zm-14-1zm0 3zm-1-8zm-2 4zm-35 2zm-17 5zm34 7zm17 3zm2-3zm0-3zm7 5zm3-3zm2-4zm3-2zm0 3zm1-4zm6 10zm1-1zm2 0zm2-1zm1-2zm0 3zm0-8zm3 2zm2 7zm0-4zm1 1zm1 2zm1-5zm0 0zm3 1zm0-5zm1 8zm0 3zm1-3zm0-8zm0 7zm2-2zm0 3zm1 1zm0-4zm1 5zm0-7zm5 5zm0-1zm0 0zm3-4zm0 4zm1 3zm3-1zm6-2zm1-2zm2-1zm1 7zm0-8zm1 0zm3 4zm1-1zm3-1zm2 6zm5-4zm2-4zm-9 14zm0-5zm-2 4zm0-4zm-4 2zm-3 0zm-3 6zm-1 0zm0-7zm-4-1zm-2 2zm-3-2zm0 0zm0 7zm-2-7zm-1 6zm0 4zm-3-7zm0 0zm-1 0zm0-2zm-1 0zm-2 2zm-1 4zm0-3zm-2-1zm0-1zm-1 5zm0-6zm0 1zm0 6zm-2-8zm-1 0zm-1 11zm-1-5zm-1 5zm0-6zm-1-2zm0 6zm-1-7zm0 8zm0-7zm-1 6zm-2-8zm-1 2zm-2 0zm0 0zm-1-3zm0 6zm-4 2zm-6-6zm-5 4zm0 5zm-4-11zm-1 3zm-11 1zm-5-2zm-7 7zm-1-3zm0 0zm-5 2zm-4-4zm-37 11zm25 7zm0-1zm8-1zm2-4zm1 3zm0-5zm2 6zm15 1zm8-3zm0-2zm3 1zm0 1zm13 4zm4 0zm7-10zm5 4zm0-3zm2 10zm0-8zm3 0zm0 2zm6-1zm3 6zm4-8zm4 8zm2-4zm3-6zm6 9zm-12 6zm-9 6zm-1-2zm-9-5zm-8 3zm-4 5zm-5-10zm-24 11zm-2 0zm-3-5zm-6 2zm0-7zm-4 10zm-2-8zm0 1zm-4-1zm-1 3zm-3-3zm-1 5zm-30-6zm-5 9zm24 6zm13-3zm0 2zm5 6zm1-3zm10 3zm8-1zm3-4zm4 6zm30 0zm25-4zm-64 14zm-10-6zm-1-1zm-2 8zm-4-4zm-1-2zm-3 4zm-8 3zm-9-2zm-4 2zm-5-5zm-13 3zm-1-1zm-1-3zm0 3zm-4 3zm-8-1zm-33 12zm12-3zm9 3zm0-6zm3 3zm6-6zm8 10zm2-7zm0 2zm1 0zm3 3zm1-1zm0-1zm2-1zm1-2zm1 5zm1 1zm0 1zm0-7zm2 5zm0 1zm1 0zm0-3zm4 4zm1-7zm10 6zm7-4zm1-6zm2 2zm0 7zm2-8zm0-1zm1 11zm1 0zm4-1zm0 0zm2-2zm16 1zm17-1zm-38 4zm0 8zm-1-6zm-1 6zm-3 3zm-3-7zm-1 2zm0-4zm-2 2zm-1-2zm-4 6zm-2-2zm-2-4zm0-1zm-1 7zm0-7zm0 6zm-2-5zm0 7zm0-3zm-2-1zm-3 5zm0-9zm-2 9zm0-8zm-1 8zm0-4zm-1-4zm0 0zm0-2zm0 6zm-2-2zm0-2zm-3 3zm-2-3zm0 9zm-3-11zm0 10zm-1-6zm-1 1zm-2 2zm0-2zm-2 1zm-1 3zm-1-6zm-1 0zm0 8zm-5-5zm0-6zm-11 6zm0-2zm-2 5zm-8 1zm-1-8zm-11 21zm4-10zm0 0zm1 7zm5 2zm3-3zm5 0zm1-3zm1 3zm1-7zm1 0zm0 7zm1-1zm3 1zm0-5zm0-1zm0 7zm1 2zm3-4zm0-5zm2 8zm0-6zm1-3zm0 2zm1-2zm5 9zm0-7zm2 3zm1 0zm0 6zm0-4zm0 4zm1-2zm1 0zm0-2zm0-5zm1 6zm1-8zm0 7zm1-5zm1 8zm1-1zm1-2zm0-6zm0 7zm1-8zm1 0zm1 0zm4 6zm1-2zm2 6zm2-2zm3 0zm1-6zm1 2zm0 1zm0-1zm10 3zm2 0zm0-1zm2-1zm3 5zm15-10zm-22 12zm-10 2zm0 4zm-5-3zm-1-1zm-3 8zm-1-4zm-6 3zm-2-3zm0-4zm-1 4zm-2 2zm-1 1zm0-4zm-1-5zm-1 8zm0-7zm0 0zm-1 4zm-1-4zm-4 9zm-3-4zm0-5zm-2 4zm-2 2zm-2-3zm-2 5zm-1-1zm-1-8zm-1 1zm0 0zm0 6zm-1-1zm0 2zm0-7zm-2 0zm0 10zm-2-8zm-5 6zm-1-8zm-1 5zm0 3zm-2-3zm0 2zm0-8zm-1 4zm0 1zm0-1zm-1 2zm0 1zm-1-5zm0-2zm-1 11zm-6-2zm-1 2zm-1-6zm0 1zm-5 5zm-1-1zm0 1zm-1-5zm-10-2zm-6 7zm-1 10zm0 2zm4-1zm3-4zm3 2zm1 2zm1-7zm2 4zm0-5zm0 0zm0 5zm4-4zm1 7zm1 0zm1 0zm2-4zm0 1zm1-2zm1-5zm2 7zm3 0zm0 1zm5-2zm0-6zm2 8zm1-2zm1-1zm0 3zm0-6zm1 6zm1-8zm0 6zm1-5zm1 1zm3 0zm0 5zm1-2zm1-5zm1 1zm0 6zm0-1zm3 4zm1 0zm1-4zm4-1zm5 4zm0-8zm2 7zm1-8zm1 4zm1-2zm1-1zm3-1zm2 4zm2 3zm1 1zm5-1zm4 1zm-8 4zm-3 1zm-3 2zm-6 2zm-10 1zm-1 1zm-2 0zm-3-7zm0 7zm-1-4zm-6-1zm-2-1zm-2 8zm-1 0zm-1-4zm-1 0zm-2 1zm-1 5zm0-2zm-1 2zm0-11zm-1 11zm0 0zm-1-1zm0-5zm0-4zm-1 10zm-2-11zm-1 4zm-1-2zm0 5zm0 0zm-1-5zm0 0zm-1 9zm0-3zm-1-7zm0 8zm0 0zm-1 2zm0-4zm-1-2zm-1-1zm-1 3zm-1 2zm-1 1zm-1-2zm-1-5zm0 2zm-1-5zm0 2zm-2 3zm0-4zm-1 4zm0 5zm0-1zm-1-5zm-1 7zm-1-5zm-1-1zm-1-3zm0 2zm-3 7zm-4-11zm-2 12zm19 1zm6-1zm2 0zm11 0zm10 0z"/>
<path stroke="#22a884" stroke-width="3.00" d="M254 311zm6 7zm10 5zm2-8zm0 2zm-1 9zm-2 1zm0 4zm-1 2zm-2-7zm-3 5zm-3-4zm-2 1zm-1 2zm-7 1zm-9 3zm-3 7zm0 2zm2-1zm3-6zm6 3zm6-3zm1 4zm1-2zm0-2zm1 1zm10 10zm0-7zm2-4zm3 13zm-2 2zm-4 6zm0-2zm0 0zm0-7zm-4 1zm-8 7zm-14 0zm-1-1zm-2-2zm-3 4zm-45 7zm25 6zm4-1zm3-2zm1-6zm3 9zm1-1zm6-2zm1-1zm2 5zm1-4zm0 1zm2 0zm2-3zm1 2zm0 2zm1 1zm0-6zm1 4zm1-4zm1 7zm0-7zm0 5zm0-2zm1-3zm2 0zm0-2zm1 3zm0 4zm1 2zm1-8zm1 1zm0 6zm2-2zm0 3zm0-5zm2 2zm0-3zm4 0zm3 6zm1-8zm0-2zm1 3zm0 0zm0 4zm3 1zm0-5zm2 6zm0-4zm1 2zm1-3zm1 0zm-1 10zm0 7zm-3-9zm0 7zm0 0zm0-8zm-2 10zm-2-8zm-1-1zm-1 3zm0-1zm-1 8zm-1-5zm0-2zm-2-3zm-1 0zm-3 10zm-1-5zm-1 4zm0-9zm-1 3zm-1-2zm0 4zm-2-4zm0 4zm0-6zm-1 3zm0 6zm0 0zm-2-5zm-1 7zm0-4zm0 0zm-2 3zm-2 1zm0-11zm-1 11zm-1-8zm-4 0zm-1 4zm-1 2zm-1-3zm-3 3zm-1-3zm-1-2zm-1 0zm0 5zm-1 2zm0-7zm0-2zm-1 2zm-5 4zm0-3zm-1-3zm0 8zm-1 1zm-3-1zm0-4zm-1 3zm-24-6zm-4 2zm8 15zm3-2zm13 2zm1-8zm2 1zm0 10zm3-9zm1 6zm0 3zm0 0zm0-6zm0 5zm2-3zm1 3zm3 0zm0-1zm0 2zm0-3zm1-1zm1 1zm0-4zm2 5zm1-2zm2 4zm5-4zm0 2zm0-7zm1 1zm0 3zm1 4zm1-1zm1 0zm1-9zm1 0zm0 3zm0 2zm2-1zm1 0zm2-1zm1 8zm2-1zm3-6zm2 6zm2-9zm3 8zm0 1zm6-10zm2 7zm2-2zm1-3zm-5 11zm-3 2zm-4-2zm-6 0zm-6 8zm-4-2zm-1-7zm0 0zm0 3zm-2 2zm-2 4zm-4-6zm-1 7zm-1-1zm0-2zm-1 1zm-1-3zm-1-4zm-1-1zm-1 8zm-1-8zm0 10zm0-2zm-1-6zm-2 5zm0-2zm-1-5zm-1 5zm0 0zm-1 3zm-1-8zm-4 6zm-1 3zm0-7zm-11 8zm0-5zm-29 2zm-1-7zm-9 22zm24-7zm4-3zm4 6zm9-1zm14 0zm0-2zm3-2zm1-1zm1 7zm0 2zm0-6zm1 3zm1 1zm9-7zm6 0zm2 2zm0 0zm3 7zm1-5zm1-2zm4 5zm-13 16zm-3-9zm-3 3zm-2-5zm0 2zm-4 5zm-1-6zm0 1zm-2-2zm-7 1zm-4 3zm-6 1zm-1 0zm-12 4zm-9-9zm-4 11zm-22-8zm-7 3zm-48 17zm17-2zm5-1zm11 3zm10-1zm1 1zm9-2zm0 0zm0-6zm5 7zm2-1zm2 0zm0 2zm1-2zm1-9zm1 5zm1 0zm6 6zm3-3zm1 0zm1-6zm1 5zm0 1zm1-3zm3 5zm1-1zm0-7zm2 8zm4-3zm0 0zm0 0zm2 2zm1-8zm0 1zm16 4zm2 8zm-9 0zm-10 1zm-3 2zm-2-4zm-4 6zm-2-5zm0-2zm-2 7zm0-2zm-1-1zm-2 1zm-3-4zm-1 4zm-1-2zm-2 4zm0-5zm-2-1zm0 7zm-3 3zm0-1zm-1-3zm0-3zm0 2zm0 1zm-1-4zm-3 7zm0-6zm-2 7zm-1-1zm0-2zm-3-7zm0 6zm-2-7zm0 10zm0-8zm-1 8zm0-5zm-1 4zm0 0zm-2-1zm0 3zm-1-4zm-2-2zm-1 1zm-1-2zm-1 5zm-2 1zm-3-4zm0 3zm0-3zm-1 5zm-1-3zm-3-6zm-1 8zm-3-2zm-5 3zm-7-2zm-16 13zm3-10zm7 5zm1 0zm2-3zm1-2zm1 4zm0-4zm2 4zm10 4zm1-3zm1 0zm0 3zm1 0zm1-2zm0-1zm1-3zm0 3zm1 1zm1 4zm0-5zm1 1zm1-3zm1 3zm1-3zm3 8zm1-4zm2 1zm1 3zm2-7zm1 0zm1 5zm3-6zm1 4zm3-5zm1-2zm3 11zm1-2zm1-7zm2 2zm1-4zm0 4zm1 2zm2 2zm3-4zm0-3zm1 5zm2 1zm1 3zm9-2zm-14 9zm-3 1zm-2 1zm-2-7zm-3 7zm-2-7zm0 5zm-1 3zm0-8zm-1 2zm-2 3zm-5 4zm-1-7zm-11 3zm-3 6zm-1-7zm-3-1zm-1-3zm-3 3zm-2 0zm-2-3zm0 7zm-1 4zm0-6zm-3-4zm0 2zm0 2zm-3-2zm0 4zm0 2zm-3-1zm0-6zm-3 8zm-1-8zm-1 8zm-2-8zm0 9zm0-4zm-2-6zm-1 4zm-1 3zm-3 0zm0 0zm-1-1zm-1-1zm-10 2zm-4-1zm-7 1zm-3 2zm-24 3zm14 1zm2-2zm4 8zm2 3zm3-1zm9-1zm4-4zm0-1zm3 1zm1 4zm1 1zm0-8zm0 3zm3 2zm1 2zm0 2zm2-8zm3-3zm0 7zm1 0zm0 3zm2-6zm0 5zm1-4zm0 5zm0-7zm1 3zm4 5zm0-2zm2-6zm1 0zm0 3zm0-2zm0-2zm2 2zm0 4zm0-6zm1 0zm1 6zm1-2zm0 2zm0-3zm2-4zm3 10zm3-5zm11-3zm1 8zm4-8zm4-2zm8 5zm5 5zm-13 1zm-12 0zm-15 1zm-2 7zm-1-4zm-1-4zm-1 5zm0-4zm-1 4zm0-5zm0 1zm-2 3zm0-1zm-4 5zm0-6zm0-1zm-1 1zm-1 5zm-1 0zm-1 0zm0 2zm-1-7zm-1 2zm-1 7zm0-3zm-1-3zm0-1zm-1 7zm0-6zm-1 3zm-1-2zm0-3zm-2 7zm0 1zm-1-4zm-1-1zm-1 1zm-1 0zm0 4zm-2-4zm-1 0zm-5 4zm-5-3zm-4-5zm-2 1zm0 1zm-7-3zm-1 7zm-2 0zm-7 0zm-18-5zm-2 6zm52 3zm4-1zm11 0zm8 0zm2 1zm7-1z"/>
<path stroke="#35b779" stroke-width="3.00" d="M238 356zm2 14zm8-1zm0-3zm8-6zm3 7zm1 2zm3-4zm2 4zm2-6zm2 1zm2 2zm-1 11zm0 5zm-1 1zm-3-8zm0 5zm-1-1zm-1 1zm0-3zm-1-3zm0 9zm-1-4zm-2 2zm-1-4zm0-1zm0 7zm0-3zm-2-6zm-1 8zm-1-3zm-10 0zm-8-3zm-25 11zm9 3zm3 5zm4-9zm6 0zm0 1zm3-3zm2 2zm1 9zm1-7zm1 0zm3 5zm3 2zm0-1zm0 1zm1-4zm2 1zm1-1zm3 0zm1-5zm1 3zm0 6zm1-11zm3 5zm0 3zm1-6zm2-2zm1 1zm1 1zm1-1zm0 6zm1-3zm0 7zm2-10zm1 0zm2 0zm1 20zm-1 1zm0-7zm-4 8zm-1-1zm-1-3zm0-2zm0-4zm-4 5zm0 1zm-1 0zm-2-5zm-1 7zm-1-3zm-2-3zm0 7zm-1-1zm0-8zm-1 9zm0-9zm0 3zm-1-3zm0 6zm0 1zm-2 0zm0 3zm-1-8zm0-3zm0 9zm0-8zm-1 8zm-1-5zm-1 4zm0-6zm-1 0zm0 6zm-1-1zm0-1zm0-5zm-1 1zm-2 5zm-2-5zm0 1zm-2 4zm-2 2zm0-2zm0 2zm-2 0zm0-4zm-3 4zm-1 1zm0-7zm-1 5zm-2 1zm0-4zm0 1zm-1 4zm-1-2zm0 0zm-4 2zm-1-3zm-1-6zm-7 11zm3 6zm8-6zm0 10zm1-6zm3 4zm0-3zm1-4zm0 8zm2-8zm1 7zm0 3zm0-8zm1 0zm0 0zm1 3zm1-4zm1 2zm0 7zm2-4zm1-1zm1 2zm0-3zm1 2zm0-4zm0-2zm2-1zm4 5zm1 2zm1-3zm0-3zm0 9zm2-6zm0 3zm1 0zm1-4zm0-1zm1 1zm0 2zm1 1zm1-5zm0 1zm1 0zm0 7zm4 2zm0-4zm2-6zm1 10zm2-10zm5 0zm-6 11zm-3 7zm-1-4zm0-2zm-1 2zm-3-1zm-2 8zm-4-6zm-3 1zm-1 5zm-1-9zm0 6zm0-2zm0 1zm-1-4zm-2 1zm-1 7zm0-6zm-2 3zm-2-7zm0 5zm-1-3zm0-1zm-2 0zm-1 3zm-1 2zm0-4zm0 3zm0 4zm-3-2zm-1 1zm-1-4zm-1 4zm0 1zm0-8zm-1-1zm0 1zm-6 5zm-15 3zm-6 2zm-20-2zm-34 14zm22-3zm13 2zm2 1zm5-7zm0 6zm7 1zm1-2zm0-2zm0 3zm2 1zm1-4zm0-1zm4 4zm4-8zm5 8zm0 0zm3-4zm1 0zm3 4zm1 1zm1-7zm7 7zm3-11zm2 1zm1 2zm3 3zm0-3zm1 8zm4-6zm1 3zm0-1zm1-4zm4-1zm1 0zm4 0zm0 0zm2 6zm1-7zm11 0zm-12 15zm-15 0zm-15-1zm-3 5zm-2 0zm-4 3zm-1-6zm-1 6zm-1-4zm-2 0zm0-4zm-1 4zm-2-4zm-3-3zm-1 5zm-3 0zm0-5zm-1 11zm-4-2zm0-7zm-4 1zm-1-2zm-2 7zm-3 0zm-4 1zm0-2zm-1-3zm-1 5zm-3-8zm-1 10zm-2 0zm0-5zm0 3zm0-9zm-1 1zm-2 3zm0-3zm-3 5zm-1 3zm0-6zm-3 2zm-2 5zm-1-2zm-11-5zm-1 1zm-23 18zm15-6zm1 5zm5-9zm3 10zm1-3zm2 3zm3 0zm3-2zm3-6zm1 9zm0-2zm2-1zm1 3zm1-7zm0 5zm3-8zm0 7zm2-5zm1-3zm1 3zm1 0zm0 4zm1-6zm0 8zm3-4zm3 5zm1-4zm0 0zm1 3zm0 2zm1-10zm0 10zm1-3zm1-3zm11-1zm0 4zm0 2zm1-6zm3-3zm0 6zm0-4zm2 4zm0 0zm7-2zm5 6zm25-10zm-34 13zm-3-1zm-3-1zm-5 8zm-7-5zm-1-2zm0 3zm-5-3zm-3 1zm-1 8zm-2-9zm0 9zm-1-4zm-7-5zm-4 7zm0-3zm-1 5zm-3-4zm0 1zm0-4zm-1 1zm-2 1zm0-1zm-1 1zm-1-5zm0 5zm0 6zm0-1zm-2 0zm0-7zm-1 0zm-3 7zm0-7zm0 3zm-2 1zm-1-5zm0 1zm0 8zm-3-8zm-5 6zm-3-7zm-2 8zm-1-10zm-2 8zm-7-1zm-2 1zm-1-3zm-24 14zm0 3zm8-6zm7 6zm4 0zm2-2zm1 1zm1-1zm0 2zm1-7zm5 1zm7 0zm3 3zm0-4zm2 0zm0 4zm3-4zm1-3zm1 10zm0-1zm0-4zm1 6zm0-4zm0 1zm1-1zm2-6zm2-1zm0 9zm4 0zm0-7zm1-1zm1 0zm0 1zm0 3zm2-3zm0 7zm2-8zm0 8zm0-6zm2 5zm0-5zm0-3zm0 2zm1 6zm0-3zm3 5zm1-2zm1-1zm0 3zm3-10zm0 6zm1 1zm0-5zm2 4zm3 5zm6-10zm5 10zm21-8zm-28 10zm-9 2zm-3-2zm-2 2zm0 1zm-4-3zm-6 3zm-4-3zm-8-1zm-3 2zm-1-1zm-5 10zm0-10zm-1-1zm-4 3zm-5-2zm-4 8zm-3-2zm-1 1zm-6 1zm0-1zm-1 1zm-6 2zm-4 0zm0-6zm-6-5zm-3 4zm-2 3zm-13 2zm7 3zm16 0zm7 0zm17 1z"/>
<path stroke="#54c568" stroke-width="3.00" d="M266 369zm3 13zm-4-2zm-14 10zm14 4zm4-7zm4 8zm0-4zm1 5zm-1 10zm-1 1zm-1-9zm-1 7zm0-3zm-2-4zm-1 9zm-1-8zm-2 7zm0-8zm-2 7zm-1-2zm-1-6zm-2 8zm-2-6zm0 3zm-7 5zm-4-6zm-14-1zm-4 18zm10-3zm2-2zm6 3zm1 0zm1-8zm1 6zm4 5zm0-5zm0-3zm1 2zm0 1zm1-4zm1 2zm1 2zm0-1zm1 1zm0-3zm0-1zm3 0zm0 7zm1 0zm0-7zm0-2zm3 7zm1 4zm3-1zm0-8zm1 6zm0-3zm1 1zm1-3zm0 7zm2-6zm0 7zm0-1zm1 7zm-1-1zm0 4zm-2-3zm0-3zm-1-1zm0 6zm-1-5zm0 4zm-2-2zm0 2zm-1 1zm0 0zm-1-4zm-1 8zm-1-7zm0 5zm0-6zm-3 6zm0-6zm-1 4zm-4 4zm0 0zm-1-4zm-1 4zm-1-8zm-1-2zm0 1zm-1 3zm-1-1zm0 1zm-1-1zm0 2zm0 5zm-1-2zm-1 2zm-2-8zm-3-2zm-1 10zm0-2zm-2 0zm0 1zm-1-6zm-3-1zm0-2zm0 10zm-3-9zm-6-1zm0-1zm-1 7zm-30 16zm3-2zm11-8zm4 7zm2-3zm2 4zm8-4zm2 6zm3-9zm1 4zm1-3zm1 0zm2 3zm0 0zm0 5zm0-4zm1 1zm0 1zm1-1zm0-6zm2-2zm1 9zm1 0zm0-3zm0 2zm1-2zm0-5zm0 10zm1-3zm0 0zm0 2zm1-6zm1-3zm0 10zm2-5zm0-4zm1-2zm0 2zm0 9zm1-11zm0 8zm1-1zm2-3zm2-2zm1 4zm1-4zm0 7zm2-1zm0-7zm1 10zm0-1zm2-10zm0 7zm3 2zm1-1zm2-8zm1 10zm0-9zm0 8zm1-1zm1 3zm1-6zm-3 8zm-2 1zm-1 5zm-7-2zm-2-1zm0 5zm-2-9zm0 3zm-3 6zm-1-3zm0-2zm-1-1zm-1 4zm-1-7zm-2 4zm0 2zm0-4zm-2 1zm-2-2zm0 0zm-1 4zm0-4zm0 1zm-2-1zm0 7zm-1-7zm0 5zm0-6zm-1 5zm0 3zm-1-7zm-2 1zm-1-2zm0 1zm-2-1zm-1 5zm-1-5zm0 2zm0 6zm-3-2zm0-5zm-1 1zm-3 8zm-1 0zm-1-7zm-2 3zm0-4zm-1 7zm-1-1zm-4-1zm-1 0zm0-2zm-5 6zm0-6zm-15 2zm-4 1zm-27 13zm1 2zm6 0zm2-5zm3 2zm2 3zm10-10zm0 7zm2-2zm3-3zm3 4zm2 0zm1-3zm2 6zm0-8zm0 1zm0 4zm2-3zm1 1zm3 5zm1-9zm0 5zm1-3zm1 4zm1 1zm3-8zm1 8zm1-7zm0 6zm0-2zm0-4zm1 10zm0-10zm0 1zm1 4zm2-4zm1 0zm1 0zm0 8zm0 1zm0-11zm2 6zm1-3zm1 0zm1 1zm1-3zm0 10zm0-4zm1-1zm0-2zm0 0zm2-4zm0 8zm2-7zm2 3zm6 7zm0-9zm1-2zm1 2zm0 1zm1-2zm1 6zm1 1zm2-6zm2-2zm2 2zm0-2zm0 2zm3-2zm8 0zm9 9zm-21 11zm-19-3zm-1 0zm-1 3zm-2-6zm-3 7zm-6-3zm-1-1zm-1 2zm0-1zm-2-4zm0 9zm-1-8zm-1 2zm0-1zm-1 6zm-3 1zm0-7zm0 7zm-2-3zm-2 2zm-3-9zm-1-1zm-1 3zm-2 4zm0 1zm-1 3zm-1-8zm0 8zm-1 0zm0-10zm-1 0zm0 8zm-1 1zm-1-9zm-2 6zm-2-2zm-1 1zm0-5zm-1 7zm-1-1zm-2-4zm-1 0zm-1 3zm-1 5zm0-10zm-1 4zm0 4zm-2 0zm0-2zm-1 1zm-3-8zm-2 11zm-1-2zm-41 9zm29 5zm2-7zm5 7zm9-1zm2-8zm0 5zm0-3zm1 4zm2-8zm2 9zm2 1zm1-4zm0-4zm0-2zm1 11zm1-8zm4-2zm0 3zm0-2zm2 5zm1-3zm3 4zm0 2zm2-5zm1 5zm1-3zm4-4zm7 0zm0 1zm3-2zm0-2zm1 9zm5-3zm3-3zm1-2zm2 6zm-8 7zm-4 0zm0 1zm-9-2zm-2 0zm-1 3zm-3 0zm-15-1zm0 1zm-6-3zm0 0zm-6 3zm-1-1zm-1-1zm-1-1zm-4 2zm-7-3zm-4 1zm-16-1zm-16 12z"/>
<path stroke="#7ad151" stroke-width="3.00" d="M261 413zm12 5zm0-1zm1 10zm-2-4zm-1-1zm-2 9zm0-8zm-1 7zm-1-6zm-1 4zm-4-8zm-2 6zm-4 0zm-12 12zm0 5zm4-2zm5 1zm1-2zm2-5zm1 2zm0 3zm0 1zm1-2zm1 0zm0 1zm1-3zm1 5zm1-1zm1-1zm0-1zm0-1zm1 4zm1-6zm0 2zm1 2zm0 2zm0-1zm1-8zm1 7zm1 2zm0-6zm0 6zm1-2zm1-1zm0 0zm1-5zm0 4zm0 5zm0-5zm0 3zm1 6zm-1 2zm0-3zm0 0zm-2 7zm0-3zm-1-4zm-2 5zm0-7zm0 11zm-1-11zm0 1zm-1 5zm0 1zm-1-6zm-1 3zm0 1zm-1-3zm0 7zm-2-5zm-1 5zm0-8zm0-1zm-1 6zm0-3zm-1 5zm0-3zm0 1zm0-6zm-1 10zm-1-5zm0 1zm0-1zm-1 5zm0-1zm-2-1zm-1-2zm-1 5zm-1-1zm-1-6zm0 2zm0 1zm-1-6zm0-1zm-1 5zm-1 6zm0-9zm0 2zm0 6zm0-9zm-2 10zm0-2zm0-8zm-1 9zm-2-5zm0 3zm-1-7zm-1 4zm0-2zm0 5zm0-8zm-1 7zm-1-4zm-1 8zm-2-10zm-4 3zm-1 2zm-2-1zm-1 1zm0 5zm-29 10zm22 0zm0 1zm3 1zm0-10zm1 9zm0-1zm0-6zm0 3zm3-3zm1 6zm0-2zm0-1zm1 4zm1-4zm2-4zm1 6zm1-2zm1 2zm2-4zm0 6zm1-9zm0 5zm1-1zm1 0zm0-1zm3 7zm0-5zm0-2zm1 5zm1-1zm0-7zm1 2zm0 5zm0 1zm1 2zm0-4zm0-4zm1 7zm1 1zm1-8zm0 1zm1-2zm1 9zm1-7zm0 7zm1-4zm3-5zm0-2zm0 0zm2 11zm0-3zm1 1zm0-4zm0 4zm1-8zm0-1zm1 7zm1-3zm1 3zm1-2zm0-4zm3 1zm1-1zm0 10zm1-6zm1-1zm1 5zm0 0zm0 2zm1-3zm1-2zm0-6zm0 5zm0-5zm0 18zm-2-2zm-4-3zm-1 8zm-3-8zm-5 2zm-1-2zm-2 0zm-2 8zm0-3zm-2-2zm0-4zm0 4zm-1 1zm-1 5zm0-2zm-1-8zm-1 3zm-1 0zm-3 1zm0 2zm-1-5zm-3 9zm-4-5zm0-5zm-2 0zm0 9zm-1-7zm-1 1zm-1 6zm0 2zm-1-8zm-1 0zm-1 2zm-1 1zm-1 1zm-1-5zm0 6zm-1-2zm0-2zm-2 2zm-1-2zm-1-2zm-2 0zm-2 4zm-2 2zm-6 2zm-3-6zm-2 4zm0-6zm0 3zm-1 5zm-3-9zm-1 6zm-7 2zm-11 6zm2 2zm5 0zm1 4zm1-4zm7 4zm2-4zm1 0zm1-3zm4 0zm1-1zm1 9zm1-1zm5-6zm1 3zm2 5zm1-3zm3 1zm0 1zm4-10zm1 2zm0 6zm0-6zm2 4zm1 2zm1-1zm1-1zm2-3zm6-3zm10 4zm2 5zm2-9zm3 0zm1 0zm5 1zm4 1zm-5 14zm-20 1zm-13-3zm-2 4zm-3-5zm-7-1zm-1 7zm0-4zm-5-1zm-1 0zm-11 0zm-1-2zm-4 3zm-1 0zm-1 9z"/>
<path stroke="#a5db36" stroke-width="3.00" d="M258 439zm1 1zm3-2zm1 5zm1-1zm0 0zm4 0zm2 1zm1-3zm3 13zm-1 1zm-1-1zm0-3zm-1 2zm0-4zm-1 0zm-1 0zm0-1zm-1 1zm0 6zm0-2zm0-7zm0 0zm-1 8zm-4 0zm0-1zm0-5zm-2 2zm-2 4zm0-8zm-3 3zm-3 1zm-6 6zm-18-10zm-9 18zm5 2zm9 2zm4-2zm0-2zm0 2zm5 1zm1-1zm1 2zm3 0zm0-1zm1-7zm1 5zm3-2zm2 0zm0 1zm1-6zm3 9zm3 1zm0-2zm0-2zm0-3zm1 4zm0-3zm1 1zm0-2zm1 4zm0-1zm1-3zm0-2zm0 8zm2-10zm1 11zm0-11zm1 8zm0-7zm1 1zm0 1zm0 3zm1-1zm0 6zm1-2zm0 1zm0 1zm0-5zm1-2zm0 4zm0 3zm0 3zm-3 3zm0 6zm0-2zm-1-7zm0 0zm0 2zm-2 0zm0 1zm-1 3zm0-6zm0 2zm-1-1zm0-3zm-1 4zm0 3zm0 0zm0-6zm0 9zm-1-4zm-1 2zm-1-7zm0 2zm0 5zm-1-6zm0 3zm0-2zm-1 2zm0 4zm0 1zm-1-8zm0 0zm-1 1zm0 8zm0-1zm-2-1zm0-9zm0 0zm-2 10zm-1-4zm-1-6zm0 4zm-2 4zm-1 3zm0 0zm0-5zm-1-1zm0-3zm-1 3zm0-5zm-2 8zm0-7zm-1 5zm0-4zm-1 3zm0 0zm0-2zm-1-1zm0 0zm-1 1zm-1 6zm-2-5zm0-1zm-1-2zm-1 8zm0-4zm-2-2zm-2 2zm-1 1zm0 4zm-1-9zm0 3zm-1 3zm0-2zm-5 6zm-1-4zm0 1zm0-4zm-2-4zm-9 7zm6 9zm2 4zm2 3zm0-6zm1-3zm1 4zm1 1zm1 2zm0-7zm1-1zm0 0zm1 7zm0 2zm0-2zm0 3zm1-6zm3-1zm0 4zm1-2zm1-3zm0 0zm1 3zm0-1zm2 4zm1-5zm2 2zm0 1zm0 0zm3-5zm1 6zm1-6zm1-1zm0-1zm1 4zm0 0zm1 5zm0-9zm0 10zm2-8zm0 2zm0 6zm0-6zm1 3zm2-3zm0-4zm1 2zm1-1zm3 9zm0-3zm0-7zm1 0zm1 9zm0-5zm0 4zm0-8zm1 3zm1 8zm0-9zm0 7zm0-2zm0-2zm1 4zm1-5zm1 7zm0-9zm0 4zm0 1zm0-3zm0 0zm1-3zm2 7zm1 2zm1 0zm1-4zm1 5zm0-6zm1 0zm0-1zm1 5zm0-9zm0 17zm-4-4zm-2 0zm0 3zm-4-3zm-1 6zm-2-3zm0 7zm0-10zm-1 1zm-3 5zm0 4zm-2-7zm0 6zm-1-10zm-1 5zm0 4zm0 0zm-4-5zm0 5zm-2-5zm0-1zm-2-3zm-1 1zm-1 3zm-3 5zm-2 1zm-4-10zm-5 6zm0-5zm0 10zm-1 0zm-3-11zm-2 3zm-1-1zm-1 1zm0 5zm0-8zm-1 4zm-16-4zm49 12zm4 0z"/>
<path stroke="#d2e21b" stroke-width="3.00" d="M271 449zm0-5zm-29 18zm24-3zm4 8zm1 0zm2-5zm0-4zm1 18zm0-2zm-1 1zm-2 3zm-2-4zm0 2zm0-5zm-2 5zm-1-2zm0-5zm0 4zm-1 2zm-2 2zm-2-2zm0 3zm0-7zm-1 7zm-2-1zm-4-7zm-4 7zm-6-2zm-7 4zm-15 8zm3 0zm8 4zm4-5zm0-1zm1 6zm0-1zm1 1zm3-11zm0 9zm5 1zm0-2zm1 2zm1-4zm0 4zm1 0zm0-5zm2 0zm0 3zm1 3zm0-9zm4 9zm0-5zm2 4zm0-2zm1 1zm0-7zm1 2zm3 5zm0-7zm1 5zm3 1zm0 0zm1 3zm2-8zm0-2zm2 0zm0 1zm1 7zm-1 4zm0-1zm0 0zm-1 1zm-1 7zm0-2zm0-4zm-1 4zm0-2zm0 0zm0-2zm-1-2zm-1 1zm-1 10zm0-7zm0 6zm0-9zm-1 5zm-1-4zm-1-1zm-1 1zm0 5zm-1-3zm0 0zm-2 0zm-1 6zm0 0zm0 0zm0-5zm0 2zm-1 3zm0-4zm0 0zm-3 5zm0-9zm-1 1zm0 5zm0-2zm0 4zm-1 1zm0 0zm0-7zm-1 2zm0-1zm-1-4zm0 7zm0 0zm-1-7zm0 5zm0 5zm0-2zm-1-1zm0 1zm-2-4zm0 4zm-1-5zm-1 2zm-1-6zm-2 5zm0 2zm-1 0zm-3 2zm-3 1zm-1-3zm-3-1zm0 5zm0-9zm-1 2zm-2-1zm-1 7zm-3-9zm-1 4zm-1-2zm-2 7zm25 2zm8 0zm11 0zm4 1zm2-1zm2 0z"/>
<path stroke="#fde725" stroke-width="3.00" d="M269 472zm-16 10zm5 8zm9 1zm2 0zm2 0zm0 8zm-1 1zm-1-3zm-1 1zm0-6zm-1 4zm-2 3zm-3 4zm-1-2zm-11-7zm-14 7zm24 3zm1 1zm9-1zm2 1z"/>
<path stroke="#31688e" stroke-width="2.24" stroke-opacity="0.80" d="M104 116zm-28 39z"/>
<path stroke="#2a788e" stroke-width="2.24" stroke-opacity="0.80" d="M153 46zm-9 13zm4-1zm3 0zm3-9zm3-1zm-18 16zm-2 19zm-1 11zm-6-10zm0 0zm-2 3zm-4 6zm-10 13zm11-9zm-65 90z"/>
<path stroke="#23888e" stroke-width="2.24" stroke-opacity="0.80" d="M152 46zm-4 11zm0 0zm2 14zm0 0zm-8-8zm-12 19zm0-1zm19 0zm1 2zm0-10zm1 0zm3 0zm1 2zm4 7zm17 12zm-1-4zm0 0zm-9-3zm-15 3zm-12-5zm-1 6zm-1-7zm0 6zm0 0zm0-6zm0 7zm-1-6zm-2 6zm-4-6zm0-1zm0 0zm-1 3zm-5 6zm-8 14zm15-11zm1 7zm0 0zm6-1zm11-5zm2-1zm17 2zm1 3zm12 8zm-11 2zm-7-3zm-1 3zm-4 1zm-14 1zm-18-2zm-4 25zm-35 11zm9 5zm14-6zm-16 15zm-4 4zm0-3zm-9 5zm-1-4zm0 0zm-1-3zm-11 16zm12-7zm4 2zm4 15zm-2-4zm-18 3zm-6 4zm-16 9z"/>
<path stroke="#1f988b" stroke-width="2.24" stroke-opacity="0.80" d="M145 77zm5-4zm6 0zm6 5zm8 12zm-1 3zm-1-6zm-11 1zm-4 7zm-9-5zm-1 0zm0 0zm-6 4zm-4-1zm0 0zm-2 12zm1-2zm0-4zm1 4zm4-3zm0 2zm4 4zm3-8zm6 3zm3 4zm6-4zm12 1zm2 0zm2 2zm15 1zm9 12zm-27-5zm-7-3zm-2 10zm-3-7zm-1-2zm-1 2zm-1-1zm-2 7zm-4-8zm-1-1zm-1 1zm-2 0zm-3 3zm-3-3zm-3-2zm-3 1zm-3 7zm-6-1zm-7-6zm-7 19zm3 1zm17 0zm6-8zm12 4zm6-2zm6 5zm9-5zm-44 14zm0 4zm-11-8zm0-1zm0 0zm-1 0zm-19 8zm-7 9zm13-5zm5 2zm6 7zm11 2zm10 10zm-5-7zm-19 8zm-10-2zm-4 3zm-8-8zm-8 4zm0 1zm-5 2zm-3-1zm9 9zm1-3zm0 3zm9-5zm3 7zm5-7zm-2 17zm-16-4zm-19 7zm-1-6zm-1 4zm-1-1zm-2 5zm-1 5zm24-2zm15 0z"/>
<path stroke="#22a884" stroke-width="2.24" stroke-opacity="0.80" d="M183 95zm-41-1zm-9 9zm4-1zm13-2zm3 5zm0-3zm1 2zm1-8zm2 9zm0-6zm32 6zm5 14zm-3-1zm0 1zm-6-10zm-7 5zm-5 1zm0 0zm-4-2zm-2 1zm0-5zm-3-1zm-3 5zm-2 3zm0-6zm-3 2zm-1 4zm0-7zm-6 0zm-1 6zm-1-3zm-2 0zm-4-1zm-1-1zm-2 4zm-2 0zm0-5zm-2 10zm0 0zm14 4zm0-2zm3-1zm2 9zm1-7zm1-1zm2 6zm1 1zm0-5zm2 7zm3-5zm2 4zm3 0zm3-6zm0 4zm2-4zm3 4zm2 3zm4-6zm6 4zm2 1zm4 2zm7-8zm-18 11zm-6 3zm-7-4zm-13 5zm-10 3zm-12-1zm-3-3zm-4 4zm-12-9zm-5 1zm-8 22zm6-2zm4-7zm6 6zm3-8zm6 3zm0-3zm2 0zm0 11zm6-6zm1-2zm14 6zm3 1zm12 0zm28-5zm-33 11zm-6 3zm-2-2zm-17 1zm-1-6zm-2 1zm-12 4zm-5-5zm-7 8zm-1-3zm-9-4zm-4 10zm-3-1zm-1-3zm0 1zm0 5zm1 0zm3 9zm4-9zm5 1zm4 6zm7-3zm8 5zm4-7zm5 3zm2 0zm-13 14zm-1-6zm-6 9zm-11-1zm-7-10zm-2 8zm-12-7zm-1 6zm-5-4zm-9 18zm4-5zm23 3zm15-7z"/>
<path stroke="#35b779" stroke-width="2.24" stroke-opacity="0.80" d="M146 104zm0 0zm3-8zm36 21zm0 0zm0 2zm-6 0zm-24-5zm-3 5zm-4 0zm-1-4zm-4 3zm-5-3zm-3 14zm1-1zm0 0zm0 0zm3-2zm5-3zm4 6zm6 2zm9-5zm1 0zm1 5zm1-11zm5 10zm1-8zm1 5zm3 0zm0 0zm24 4zm0-10zm3 13zm-3 6zm-5-3zm-2 5zm-3-10zm-4 6zm-8 0zm-3 5zm-1-1zm-7-5zm0-5zm0 11zm0-7zm-1 5zm-4-9zm-1 8zm-1 0zm-5-8zm-1 5zm-3-1zm-7-4zm-3 10zm-1-5zm-16 5zm-5 6zm0 5zm0-5zm1 5zm0-1zm0 1zm0 2zm0 0zm0-3zm13 2zm4-5zm0 5zm0-7zm2 4zm7-5zm11-2zm18 9zm5-7zm0-1zm1 2zm1 7zm3-4zm1-6zm7 2zm3-2zm5 10zm8-1zm9-9zm2 5zm-21 8zm-3 3zm-29 7zm0-10zm-1 2zm0-1zm-6 4zm-1 4zm-3-1zm-2-3zm-7-3zm-1-3zm-1 4zm-1 2zm-9-4zm0 1zm-2-3zm-6 4zm-13 1zm-8 3zm-11 3zm-4-4zm0 6zm15 7zm17-1zm8-3zm4 2zm17-6zm10 0zm5 1zm4 3zm2-2zm1-1zm-19 12zm-2 4zm-1-2zm0 1zm-44 4zm-2-1zm-8-1zm-1-2zm-1 5zm-10-9zm-9 22zm8-4z"/>
<path stroke="#54c568" stroke-width="2.24" stroke-opacity="0.80" d="M159 114zm-24 14zm0 1zm1-1zm5 1zm1 2zm1-4zm1 2zm0 1zm1 0zm3 1zm6-3zm2-5zm3 2zm3-3zm1 3zm0-1zm2-1zm1 6zm5-5zm3 6zm0-1zm28 0zm8 11zm-2 2zm-7-3zm-2-7zm-3 2zm0 5zm-3-3zm-3 1zm-4 6zm-2 0zm-5 0zm0-2zm-1-2zm-1 4zm-3-5zm-1 1zm-1-2zm0 4zm-2-2zm-4-4zm-2 4zm0-3zm0 3zm-3-3zm-1-2zm0 3zm-1 0zm-1 1zm0 4zm0-6zm0-2zm-1 1zm-2-3zm-1 2zm0 1zm-2 1zm-1-2zm-3 9zm0-8zm-3 6zm-1-9zm-2 8zm0 0zm-1 0zm0-3zm-3 0zm-2 3zm-4 1zm-7 1zm-5-2zm-2 10zm1-2zm0 5zm0 0zm0-5zm1 5zm0 2zm0-7zm5 3zm1 4zm1-3zm4 3zm0-10zm4 7zm0-4zm4-1zm2 3zm1 1zm1-4zm4-2zm1 0zm2 10zm3-2zm0-6zm2 2zm2-2zm4-3zm1 3zm3 5zm1-3zm3-1zm0 0zm1 3zm0 0zm4 4zm1-6zm3 4zm2 2zm1-11zm2 4zm1 4zm0-8zm2 5zm1-1zm1-1zm2 2zm0-1zm1 2zm1 0zm2-6zm2 2zm2 6zm4-7zm1 8zm2 0zm6 0zm7-9zm1 4zm1 7zm4-9zm-2 18zm0 2zm-5-2zm-4 1zm-1 1zm0 0zm-3-2zm-2-4zm0 4zm-1-3zm-2 2zm-5-1zm-4-5zm0 8zm-1 2zm-6-5zm-2 0zm-1-1zm-5 3zm-5 1zm-15 2zm-5-4zm-2 1zm-5 1zm-2-2zm-3-1zm0 3zm-1-3zm-6-5zm-4 3zm-1 1zm-4-5zm-3 1zm-3 10zm-7-1zm-9 5zm1 0zm1-2zm20 5zm15 1zm8 2zm2-2zm4 1zm7-8zm0 0zm8 3zm2-1zm2 2zm3 1zm1 2zm0-7zm2 8zm12 3zm17-6zm2-3zm17 0zm5-2zm-14 13zm-34 2zm-3 8zm-6-2zm-9-1zm-1-3zm-5-3zm-2 5zm0 1zm0 0zm-2-7zm-11 10zm-4-10zm-5 3zm-1 5zm-3-7zm1 11zm46 2z"/>
<path stroke="#7ad151" stroke-width="2.24" stroke-opacity="0.80" d="M144 131zm0 0zm4-1zm9 0zm1-3zm1 2zm2 0zm0-6zm0 7zm9-3zm9 4zm26 11zm-3-2zm-2 1zm-2-5zm-2 3zm-4-6zm0 5zm-2-3zm0 8zm0-1zm-3-6zm-6 5zm-1-5zm-2 4zm-1 0zm-7 0zm0 2zm0-2zm-1-6zm-2 5zm0 1zm-1 2zm-2-1zm-2-6zm0 1zm0 1zm-1-3zm-2-2zm0 4zm-1 7zm0-4zm-1-2zm-3 0zm-1-4zm0 4zm-1-2zm-1 1zm-3-4zm-1 3zm-2 7zm-3-2zm-1 0zm-8 0zm0 1zm-2 1zm-11 11zm7-1zm0 0zm0 0zm4-6zm0 0zm4 2zm4-4zm3 1zm2 2zm2 5zm10 2zm1 1zm0-2zm3 0zm1-2zm0 0zm3-2zm0 6zm0-4zm1-5zm0-1zm3 8zm2-8zm4 5zm3-1zm2 3zm3-4zm0-2zm0 2zm1-2zm1 4zm0-6zm2 3zm0 0zm0-1zm2 1zm2 1zm1 7zm1-8zm0 2zm0 0zm1 6zm0-9zm1 9zm0-2zm0-7zm1 1zm3 4zm1-2zm1-1zm4-3zm2-1zm1 1zm2 10zm0-3zm0-8zm2 11zm9-8zm19 19zm-5-7zm-6 2zm-1-1zm-1-1zm-7 0zm-2 5zm0 1zm-2-8zm-1 5zm-1-4zm-2 3zm0-2zm-1 4zm-1-6zm0-1zm-2 4zm-2 3zm0-3zm-1 7zm0-7zm-1-2zm0 3zm0 4zm-1 1zm-1-5zm-2-1zm-3 1zm0 2zm0 1zm-2-2zm0-5zm0 7zm-1-7zm0 2zm-2 1zm0 3zm-1-6zm-1 0zm-1 6zm0-7zm-1 6zm-1-2zm-2-3zm-3 0zm-2 10zm0-1zm-1-4zm0-6zm-1 2zm0 0zm-2 0zm-1 1zm-1-3zm0 3zm-2-2zm-1 0zm-25 7zm-3 1zm-5-8zm-6 3zm21 11zm4-3zm5 4zm3-3zm4 1zm0 2zm8-1zm1 1zm0 5zm4 2zm2 0zm5-3zm1 1zm8 0zm1-1zm1-2zm3-2zm3-2zm1-2zm4 1zm3 3zm1-1zm0 4zm1-1zm0-3zm1-3zm2 8zm2 2zm1 0zm6-10zm7 8zm2-7zm-22 15zm-3-1zm-3 2zm-1-1zm-2 0zm-3-1zm-8-2zm-4-1zm-10 11zm-5-5zm-5 5zm-6-10zm-1 2zm-3 3zm-7 5zm36 2zm2 1z"/>
<path stroke="#a5db36" stroke-width="2.24" stroke-opacity="0.80" d="M142 129zm2 2zm5 0zm12-5zm8 1zm13 14zm-12 2zm-8-4zm-2-1zm0 1zm-1-1zm-1-3zm-4 3zm0-5zm-4 8zm-1-3zm0-6zm-22 19zm5 3zm4 1zm3-8zm0 5zm0-8zm4 5zm2 3zm1-7zm1 9zm1-4zm1 2zm1-6zm6 8zm1-6zm1 0zm1-3zm3 10zm0-5zm3 2zm0-8zm5 9zm1-5zm1-3zm0 10zm1-1zm1 0zm3-5zm4-1zm1 5zm4-2zm1 2zm2-3zm2-1zm3 4zm5-4zm2 0zm0 6zm8-3zm16 13zm-1 1zm0-1zm-1-1zm0 0zm-4 1zm0 0zm0-7zm-3 6zm-4 1zm-2-4zm-1 0zm-1-3zm0 4zm-2 2zm-2-8zm-1 10zm0 0zm-1-1zm-1 1zm0-8zm0 4zm-4 2zm-2 2zm-1-2zm-1 2zm-1-4zm-2 0zm0 1zm-2 1zm0-4zm-1 0zm-3 4zm-2-1zm-1 0zm-1-4zm0 4zm-1-6zm-3 7zm-2 0zm0-3zm-4 3zm0-2zm-2 1zm0-6zm-1 9zm-1 1zm-2-9zm-7-1zm-1 6zm0-2zm-3-4zm-2 5zm-2-5zm-1 3zm-2-1zm0 4zm0 4zm-6-1zm-2-7zm-1-2zm-1 3zm0 0zm-2 2zm-6-5zm-8 14zm27 1zm10-3zm3 10zm3-7zm4 3zm3-7zm1 6zm4 0zm2-6zm0 3zm0 1zm2 1zm0-3zm2 9zm0-5zm0 0zm3-1zm4 5zm1-1zm0-3zm0 1zm3 4zm2-4zm0 4zm3-9zm2 7zm2-5zm0 1zm0-2zm1-2zm0 8zm0 1zm4-7zm1 8zm4-6zm1-3zm1 7zm1-6zm1 0zm2 5zm1 1zm0-6zm5-2zm1 7zm1-8zm2 2zm1 8zm2-5zm0 4zm0-3zm1-1zm2-5zm5 8zm-1 9zm-7-1zm0 0zm-6-1zm0 2zm-1 6zm0 0zm-1-7zm-2 2zm-2-2zm0 2zm-3 1zm-3-1zm-1-1zm-3-5zm-2 0zm-5 2zm-2-2zm-2 2zm-2 1zm-3 2zm0 6zm-2-7zm-1 2zm-4-6zm-4 1zm23 13zm6-2zm17 5z"/>
<path stroke="#d2e21b" stroke-width="2.24" stroke-opacity="0.80" d="M167 142zm-1-1zm-16-3zm-1 3zm-2-6zm-1 8zm-1 0zm-10 8zm12 4zm0-1zm0 0zm0 1zm1-5zm5 2zm1-3zm0-4zm3 3zm0 2zm5 5zm1-9zm1 1zm0 7zm0 1zm2-9zm0-2zm1 8zm2 1zm3-9zm1 11zm4-9zm2 4zm4 5zm27 0zm14 12zm-3 0zm-9-10zm-2 10zm-3-6zm0-1zm-10 4zm-1 3zm-5 0zm-3-3zm-1-4zm-1-4zm-4 11zm-1-6zm-1 5zm-1-9zm0 10zm-1-4zm-3 3zm-4-1zm-2-8zm0 4zm-1 2zm0-7zm-2 0zm0 10zm-1-1zm-2-9zm0 11zm-1-7zm-3 3zm0-1zm0 1zm-1-2zm-2 6zm-2-6zm0-5zm-5 4zm-2-3zm0 6zm-1 3zm0 1zm-2-9zm-1 5zm-3 0zm-1-3zm0-3zm-5 5zm-1-2zm-1 1zm18 7zm2 2zm1 7zm1-6zm3 1zm5 1zm0-2zm1 3zm3 1zm1-7zm2 5zm1 4zm2 1zm0 0zm1-10zm2 2zm4-2zm0 0zm2 6zm2 3zm1-6zm3 5zm1 1zm0-8zm1-1zm0 1zm0 8zm1 1zm1-9zm1 9zm1-10zm0 11zm1-3zm1 0zm1 0zm2-5zm0 7zm1-4zm0-6zm1 0zm1 10zm0-1zm2-3zm0-6zm2 9zm0-4zm1 0zm1 5zm0-10zm0 10zm2-5zm1 2zm1 3zm1-7zm0 8zm3-5zm1-2zm1-2zm3 8zm5 1zm14-7zm7 16zm-1-2zm-1 5zm-1-11zm-1 9zm-5-2zm-1-7zm-4 7zm-1-7zm0 2zm-1 8zm-1-5zm0 0zm0 6zm-1-11zm0 5zm0-5zm-3 4zm-1 7zm-1 0zm-1-1zm-1-8zm-1 9zm-1 0zm-1-1zm-1-6zm-1 4zm0 0zm-1-5zm0 8zm0-2zm-1-8zm-1-1zm-2 6zm-1 4zm-1-8zm0 4zm0 0zm-3-4zm0 9zm-1-7zm0-3zm-2-1zm0 9zm-1-9zm-3 1zm-1 0zm-3 8zm-2 0zm-3-1zm-1-4zm-1-1zm-7-2zm-3-1zm0 6zm-7-5zm-2 3zm40 13zm3 3zm2-5zm1 2zm8-4zm1 0zm0 1zm3-2zm1 1zm0 0zm1 4zm1-3zm8 0zm1-2zm3 9zm15-1zm1-4z"/>
<path stroke="#fde725" stroke-width="2.24" stroke-opacity="0.80" d="M152 155zm8-3zm17 0zm35 12zm-16-5zm-5 3zm-2 5zm-2-1zm-1 0zm-7-5zm-1 1zm-2 3zm0-5zm-1 6zm-2 1zm-4-9zm-5 3zm0-2zm0-3zm-2 4zm-2 0zm-6-1zm-2 6zm0 0zm-2-6zm-10 0zm-6 3zm23 10zm12 4zm2-6zm4 2zm0-3zm1 9zm2-10zm1 5zm1 5zm1-9zm0 5zm1-4zm3-1zm1 7zm2 1zm0 0zm1-1zm1-6zm1 9zm2 0zm5-4zm1 2zm0 0zm0-6zm0-1zm0 3zm3-3zm2 4zm3-6zm1 8zm3-4zm4 7zm2-7zm24 19zm-6 0zm-1-5zm-1-3zm-2 7zm-1-1zm0-5zm-2 1zm-2 0zm-2 2zm0 0zm-1-2zm-1-3zm0 3zm-1-4zm0 3zm0 1zm0 6zm-1-10zm-1 3zm-1-4zm-2 8zm0 0zm-1-5zm0-1zm0 9zm0-10zm-1 7zm-1-7zm-1 1zm-2-1zm0 2zm0 0zm-1-3zm0 5zm-2 0zm0 0zm-1 0zm-1-3zm-1 1zm-1 2zm-1-2zm-2-1zm-3 2zm-13-2zm-2 8zm-12-10zm37 13zm21 7zm2 0zm0-6zm3 1zm0 2zm5 2zm1-7zm3 1zm5 3zm1 1zm0 2zm0-6zm0 1zm1 2zm0-2zm1-2zm0 2zm1 0zm2 0zm5 6z"/>
<path stroke="#414487" stroke-width="2.24" stroke-opacity="0.84" d="M113 70zm0 1zm0-1zm-1 1zm0 1zm4 7zm-36 37z"/>
<path stroke="#39568c" stroke-width="2.24" stroke-opacity="0.84" d="M142 45zm19 5zm-46 21zm-2 0zm0 0zm-1 0zm0 0zm0 1zm1 0zm3 2zm0 5zm1-4zm1 0zm0 5zm6 2zm1-8zm1 5zm15 12zm-13-7zm-4 4zm-8 6zm-15 0zm-1 0zm9 3zm0 15zm-7-3zm-1 8zm-9-5zm-22 16zm-8 14zm14 3zm-40 33zm15-8zm10 18zm-23 2zm-1-5z"/>
<path stroke="#31688e" stroke-width="2.24" stroke-opacity="0.84" d="M169 47zm-6 0zm-11-1zm0-2zm-2-1zm-4 1zm0-4zm0 4zm-9 3zm2 8zm2-6zm1 1zm4-1zm1-1zm6 6zm5 0zm0 0zm3-4zm1 3zm1 5zm4-7zm8-2zm8 16zm-5 4zm-1-3zm-11-1zm0 2zm-1-3zm-1-1zm-3-3zm-1 6zm0-3zm-4 3zm-5-3zm-4 2zm-2 0zm-3-3zm-2 0zm-3 1zm-3-3zm-5 7zm-13 12zm1 0zm2 2zm2 0zm2-3zm5-3zm4 6zm32 14zm-53 0zm-17 10zm3 2zm7-7zm22 7zm14-9zm4 0zm21 0zm-37 15zm-13 2zm-4-2zm-3-4zm-1 2zm-8-2zm-2 3zm-2 25zm-20 5zm-6 1zm-7-1zm-4 12zm0-1zm2 0zm0 0zm3-2zm2-4zm2 3zm5 2zm1 3zm2-5zm1 4zm1 1zm0-1zm18 8zm-24-5zm-2-1zm-2 7zm-4 0zm-3-1zm-1-2zm0 0zm-1 0zm0 6zm-3 1zm-1-7zm-4 5zm-6-1zm-8 14zm0 0zm2 1zm6-6zm3-4zm1 3zm0-3zm11 6zm1 4zm15-9zm-12 20zm-7-4zm-4-1zm-6-5zm-3 7zm-1-7zm-1 4zm-4 1zm-1 0zm-2 3zm-2-3zm-1 0zm0 6zm5 7zm2-1zm3-1zm14-4zm3 15zm-12 6z"/>
<path stroke="#2a788e" stroke-width="2.24" stroke-opacity="0.84" d="M173 46zm-9 1zm-2-2zm-3-2zm-2 0zm-2-3zm-6 0zm0 0zm-1 0zm-2 0zm0 4zm0 0zm-7 4zm1 11zm0-4zm0-1zm0 2zm0 1zm1-4zm7-1zm0 7zm1-2zm2 2zm3-5zm2-2zm1 2zm1-6zm0 5zm0-2zm1-1zm1 0zm1 8zm1-6zm1-1zm1 1zm4-1zm0 7zm0-5zm1 1zm1 0zm0 0zm1 4zm2-10zm1 7zm7 3zm8 7zm-6 1zm0-3zm-1 8zm-3-1zm-1-5zm-2-5zm-1 8zm-1-3zm-2 4zm-4-8zm-1 3zm-2 3zm-2 0zm-1 3zm-1-7zm-2 3zm-4-5zm-1 1zm0 0zm-1 1zm0-2zm-4 0zm-2 1zm-2-2zm0 7zm-2-1zm-1-5zm0 4zm-14 10zm7 6zm7 1zm7 1zm20-8zm1 1zm8-2zm1 9zm-25 11zm-2-4zm-1 3zm-4-7zm-3 5zm-1-1zm-2-5zm-3 1zm15 10zm1 1zm1 9zm5-10zm1 4zm19 2zm4 1zm-22 5zm-15 3zm-13 2zm-1-4zm-6 3zm-4 0zm-9 1zm-1-3zm-7 7zm-2 5zm5 7zm13-6zm2-3zm0 6zm1-1zm6 2zm6 2zm2 1zm-17 3zm-16 3zm-8-4zm-6 3zm-7 1zm0 0zm0 0zm0 0zm0 0zm-10 6zm0 1zm-5-1zm-12 11zm2 0zm12 1zm1 0zm2-1zm2 2zm0-2zm3-8zm7 1zm52 11zm-26 7zm-23 3zm-6-5zm-2-6zm-4 11zm-2-8zm-3 6zm-3-4zm-1-2zm0 6zm-1 0zm-2-4zm-1 2zm-2 2zm-1 1zm-1-7zm-1 0zm-2 7zm0 0zm0-5zm-1 2zm-7 2zm-6 9zm0-1zm0 0zm5 3zm3-5zm1 4zm0 2zm2-5zm4 2zm3-4zm3 4zm6 5zm1-7zm2 2zm0 0zm6-2zm18-3zm3 2zm4 7zm-18 6zm-17 2zm-2-4zm-5-1zm-1 1zm-1 4zm-3 2zm-1 0zm0 0zm-4-3zm-3 0zm-1-1zm-3 6zm-1 1zm-2-4zm-2-7zm0 0zm-1 5zm-1 0zm-3 0zm0 1zm-2 0zm0 2zm0 10zm1-5zm1 5zm4 1zm5 2zm5 2zm1 0zm3-10zm9 4zm1-4zm2 5zm1 1zm-4 15zm-11-3zm-9-6zm-1 1zm17 11z"/>
<path stroke="#23888e" stroke-width="2.24" stroke-opacity="0.84" d="M150 48zm4 11zm7-4zm4-4zm2 8zm24 10zm-11 1zm-1-5zm-1 3zm-7-1zm-8-1zm-3-2zm-1-1zm0-2zm-7 9zm-1-6zm-2-3zm-9 4zm-2-1zm-4 18zm0-5zm16-4zm13 10zm13-8zm4-2zm8 0zm15 20zm-4 0zm-3 1zm0-3zm-4 2zm-1-1zm-9 2zm-1-2zm-1-7zm-2 5zm-6-3zm-1 3zm-8 5zm-5-5zm-3 1zm-3 2zm-2-4zm-1-1zm-11-1zm0-3zm-2 1zm-7 4zm18 15zm6-1zm4-4zm2 6zm7-9zm2 1zm0 4zm0-5zm24 1zm3 10zm3-8zm5 5zm16 4zm-9 4zm-7-3zm-12 4zm-1-2zm-7 0zm0 2zm-1 6zm-1-11zm-7 5zm-1 5zm-3-5zm-1 0zm-5 3zm-22 1zm0 1zm-35-6zm33 18zm19-9zm5-1zm0 8zm3 0zm4-2zm18 5zm9-5zm18-1zm-23 10zm-49 7zm-3-2zm-18-6zm-4 8zm-1-1zm-9-4zm-13 3zm-1-2zm-20 5zm0-1zm10 9zm8-4zm9 4zm51 1zm4 14zm-4-7zm-7 4zm-5 4zm-9-11zm-1 11zm-6 0zm-8-5zm-4-3zm-12 6zm-4 0zm-8 1zm-6-10zm0 1zm-1 7zm-3-6zm-5 9zm-7-4zm-4 2zm0 0zm-10 6zm1 1zm8-3zm1 0zm7 9zm6-3zm2 2zm0-1zm1 1zm5-4zm1-2zm5 6zm0-5zm6 5zm1-8zm2 8zm0-5zm1-1zm2 7zm2-5zm1 6zm2-7zm1 4zm1-1zm1-6zm2 10zm21-8zm-29 12zm-6 3zm-2 2zm-1-8zm-3 0zm-2 6zm0 5zm-3-1zm-5-8zm-2 3zm-5-5zm-2 0zm-3 1zm0 1zm-4 1zm-12 8zm-3-1zm-9 1zm-1-3zm-10 13zm5-3zm4 2zm1 0zm1 1zm0-2zm1 1zm0 0zm1-5zm1 1zm0 0zm0 0zm1 0zm0 0zm1 2zm0 4zm3 0zm0-3zm1 1zm1-5zm3 8zm1-4zm1 3zm0-8zm1 7zm2-1zm1 3zm2-7zm0 5zm1-3zm4 0zm1 1zm1-7zm0 11zm0-9zm1 4zm7 0zm2 1zm0-3zm2 0zm11 4zm3-3zm14-2zm-9 13zm-7 0zm-8 2zm-2-2zm-1-2zm-6 3zm-4 4zm0-5zm-1-1zm-3 0zm-2 0zm-1 2zm-3-1zm0-3zm-2 5zm-3 3zm-3-2zm-1 3zm0-8zm-1 3zm-1-1zm0 2zm-9-1zm-2-1z"/>
<path stroke="#1f988b" stroke-width="2.24" stroke-opacity="0.84" d="M176 82zm18 13zm-6-1zm-1 1zm0-7zm-30 9zm2 6zm11-5zm0-1zm21-1zm10 5zm5-2zm2 5zm6-5zm-3 13zm-10 3zm-1 1zm-2 1zm-5-6zm-1 7zm-2 0zm0-6zm0 5zm0-4zm-1-1zm0 0zm-3-1zm-2 8zm-3-4zm-11 0zm-1 1zm-7-1zm-2-4zm-13 13zm1-4zm20 3zm0 5zm11-1zm1-6zm1-1zm3 2zm1 2zm2 6zm4-5zm1 1zm0-4zm6 7zm7-6zm1 3zm1 3zm2-1zm1-7zm0 4zm24 0zm-16 13zm-14-2zm-3-1zm-2 2zm-2-2zm0 2zm-4 0zm-1-1zm0 2zm0 2zm-5-7zm-1 9zm-1-4zm-1-6zm-6 3zm-3-3zm-3 0zm-57 16zm9 4zm5 1zm0-7zm6 4zm3-4zm1 1zm2 1zm8 3zm11 1zm3 2zm39-10zm-11 13zm-3 0zm-20 2zm-8-3zm-2 6zm-12 0zm-1 0zm-11-2zm-10 3zm-9-7zm-9 0zm-15 1zm-11 7zm-19 10zm25 2zm2-6zm5 4zm1 3zm2-7zm2 6zm2 3zm6 0zm3-4zm1 0zm2-5zm7-1zm10 4zm16 2zm5 6zm-13 5zm-9 3zm-11 2zm-1-11zm-2 11zm-5-1zm-3-3zm-4-4zm-6 2zm-2 3zm-2 0zm-1-8zm-7 4zm-9-4zm-3 3zm-36 15zm6-2zm0 4zm1 0zm3-4zm0 0zm4 6zm1-2zm4 0zm4-7zm13 0zm0 0zm2 3zm6-1zm5 0zm1 7zm1-3zm0-2zm5 0zm3 4zm0-4zm10 6zm2-7zm2 2zm22-4zm-17 10zm-12 2zm-2 2zm-1 4zm-5-7zm-3 7zm0-1zm-13-5zm-2 5zm-1-2zm0-5zm-2 3zm-4-3zm-8 0zm-2 4z"/>
<path stroke="#22a884" stroke-width="2.24" stroke-opacity="0.84" d="M161 94zm17 7zm25 2zm22 8zm-7-1zm-4 5zm-1-4zm-6 3zm-27 16zm7 0zm5-2zm0 1zm4 1zm7-3zm3 3zm0 0zm2-8zm2 3zm3 6zm3-2zm1 0zm1 0zm4 1zm1-1zm2-8zm8 20zm-2-6zm-9 5zm-2-7zm-8 3zm-3 0zm0-1zm-1 3zm0-1zm-5 4zm0-7zm-7 8zm-2-5zm0 2zm-2 1zm0-4zm-1-4zm-2 4zm-20 7zm-36 12zm21-6zm13 4zm0-5zm19 4zm2-5zm15-3zm2 4zm18-3zm16 1zm-17 18zm-22-3zm-6-2zm-2 0zm0-1zm-12 7zm-2-2zm-2-4zm-7-1zm-24 4zm-9-4zm-4-2zm-2 3zm-32 17zm41-4zm15 1zm6-2zm2-2zm11 4zm20-3zm14 5zm14 0zm29-1zm-84 12zm-5-1zm-4-4zm-4 7zm-6 0zm-9-2zm-8-5zm-3 10zm-2-1zm-2-5zm-25 3zm-1-1zm-1 1zm-24 13zm15-2zm3 0zm7 2zm6-3zm4 2zm5 0zm7-7zm2 10zm11-3zm1-6zm1 8zm15 0zm7-10zm26 16zm-38-1zm-12 8zm-7-11zm-1 4zm-3 3zm-3-5zm-2 5zm-10 3zm-5-9zm-4 6zm-3 0zm0-6zm-1 0zm9 11z"/>
<path stroke="#35b779" stroke-width="2.24" stroke-opacity="0.84" d="M215 117zm-1 13zm3-8zm6 1zm14 16zm-1 3zm-4 1zm-1-7zm-5-2zm-8 1zm-2 2zm-2 0zm-4-2zm-4 2zm0-3zm-1 1zm-15 19zm5-5zm1 2zm5-4zm2 7zm2-4zm3-1zm1 1zm1 5zm3-1zm2 1zm10-7zm6 1zm3 0zm6 0zm0-4zm13 12zm-4 6zm-12-7zm0 5zm-20-1zm-1-4zm-1 11zm-3-1zm-5-8zm-2 7zm0-9zm-10 4zm-6 7zm-4-1zm0-2zm-4 1zm-7-3zm-27 16zm8 0zm24-7zm7 6zm2-9zm5 0zm7 9zm0-8zm2 4zm3 2zm3 2zm2-9zm2 4zm2 5zm1-4zm47 10zm-40 5zm-7-2zm0 0zm-3-4zm-4-2zm-6 0zm-2 3zm-1-2zm-5 5zm-18 5zm-4-4zm-2 0zm-7-1zm-12-5zm-24 8zm-6 8zm7 6zm26-9zm11 1zm0-3zm0 2zm8-1zm0 0zm5 0zm7 3zm1 2zm10-1zm3 3zm27-3zm-66 7zm-14 3zm-4 4zm-15-1zm-5 0zm-11-4z"/>
<path stroke="#54c568" stroke-width="2.24" stroke-opacity="0.84" d="M202 141zm-7 11zm8 1zm3 1zm0 1zm1-3zm1 0zm7 3zm19-1zm2-4zm0 4zm25 11zm-4-5zm-4 2zm-1-1zm-6-1zm0-1zm-7-2zm-2 6zm0-5zm-1 2zm-1-3zm-1 2zm-1 3zm-2-4zm-5 8zm0-1zm-1-6zm-1 5zm0-5zm-3 1zm-3 4zm-1-3zm0 0zm-1 3zm-1-6zm-1-2zm-5 2zm0 8zm0-9zm-1-1zm0 11zm-5-11zm-6 8zm-3-5zm-1 7zm-4-1zm-1-5zm-9 19zm3-3zm13 2zm13-1zm6 1zm2-9zm2 0zm1 4zm2 1zm3-1zm3-4zm2 2zm4-1zm3 1zm1 2zm3 1zm1-2zm1 0zm0 1zm5-3zm3 2zm5-2zm8 1zm-25 11zm-5 9zm0-9zm-12 6zm-2 2zm-1 0zm-4-7zm-1 5zm0 0zm-1-6zm-4 8zm-1-6zm-7-3zm-4 0zm-21 5zm-3-5zm-7 7zm11 6zm12 4zm8 4zm4-9zm26 4zm12 2zm7-4zm-24 11zm-32 0zm-17-2zm-3 10z"/>
<path stroke="#7ad151" stroke-width="2.24" stroke-opacity="0.84" d="M210 153zm7-2zm8-1zm27 11zm-10 4zm-1-6zm0 6zm-2-1zm-1 0zm0 2zm-1-5zm0 2zm-1 3zm0-10zm0 10zm-1-1zm-1-4zm0 4zm-1 0zm-9-6zm0 6zm-11-7zm-1-2zm-12 10zm-3-2zm-2 15zm5-9zm1 1zm5-2zm2 7zm1-3zm3-2zm0-2zm3 3zm1 7zm1-6zm2-1zm3 0zm0-2zm4-2zm1 4zm0 6zm1-9zm0 7zm1 2zm3-8zm3 0zm2 6zm4-5zm4 5zm1 0zm0-6zm4 4zm0-6zm2 7zm1-2zm1 4zm1-1zm0 3zm0-9zm3-2zm6 7zm2 2zm1 0zm8 7zm-2 4zm-5-1zm-3 3zm-8-10zm-2 1zm-2 9zm-3-5zm-2-1zm-1 2zm-2-2zm-7 1zm0-1zm-2-2zm-4 0zm-1-2zm-4 1zm-7 4zm-2-3zm-1 4zm-6-2zm-1-3zm-3 6zm-1-7zm-5 4zm-1-1zm-8 17zm2-4zm5 2zm20-6zm15 6zm1-1zm1-2zm10 3zm13 0zm6-5zm-29 12zm-21-1z"/>
<path stroke="#a5db36" stroke-width="2.24" stroke-opacity="0.84" d="M241 155zm3 9zm-5-7zm-10 3zm-32 16zm24-5zm1 5zm0-8zm2 8zm0 0zm6 0zm5-4zm1-1zm0-1zm1 3zm4 2zm3-1zm1-3zm3 3zm4 5zm2-2zm5 2zm3-1zm1 1zm1 0zm3-2zm0 4zm-3 4zm-1-5zm-2 7zm-1 3zm-1-1zm0-8zm-2 0zm-2 7zm-1-1zm0 3zm-1-1zm-2-1zm-2-8zm0 0zm-2 6zm0 2zm-1-3zm0 4zm-2 1zm-3 1zm-1-4zm-1-4zm-1-3zm-3 10zm-6-3zm-1-6zm-1 0zm-2 3zm-8 4zm0 0zm-2-4zm-9 4zm19 4zm3 0zm0 10zm3-7zm0-1zm0 0zm3-2zm4 5zm1-4zm0 0zm3 5zm1-5zm7 3zm1-2zm1 9zm1-9zm0-1zm3 9zm2-2zm7-8zm1 11zm0-8zm7-3zm3 1zm-11 15zm-2-1zm-2 1zm-1 4zm-1-4zm-1-4zm-1 5zm-4-5zm-7 6zm-3-4zm-7 6zm-5-5z"/>
<path stroke="#d2e21b" stroke-width="2.24" stroke-opacity="0.84" d="M229 161zm14 12zm3 4zm8-5zm22 17zm0-3zm-2 5zm0-1zm-8-2zm-4 2zm-6-5zm-1 2zm-3-3zm-2 0zm-2 6zm-1-2zm-4-2zm0 0zm-6 1zm-9 4zm-11-11zm-3 14zm12-2zm4 4zm1-2zm4-1zm2 4zm3 1zm0 2zm4-4zm0 2zm1 2zm1-2zm2 3zm1 2zm2-8zm1 8zm1-5zm1-1zm2 6zm2-9zm3 0zm1 9zm1-6zm0 1zm0-2zm1 6zm0-4zm0-4zm0-2zm1 5zm1 3zm1-4zm0-3zm1 7zm3-1zm1 2zm4-8zm-4 17zm-4-3zm-1 4zm-1-6zm-1 4zm0-1zm-2 1zm0 1zm-1-1zm0-1zm-1 2zm-1-4zm-2 5zm-3-3zm-1 4zm-1 0zm0 2zm-1-3zm-1 0zm-4-4zm0 0zm-10-3zm-2 8z"/>
<path stroke="#fde725" stroke-width="2.24" stroke-opacity="0.84" d="M247 203zm10-4zm0-3zm1 1zm2-4zm1 5zm5 2zm5-5zm1 8zm2 0zm0-6zm2-4zm0 1zm0-1zm1 8zm0 0zm-3 6zm-1-3zm-1 6zm0-4zm-1 0zm-1-2zm-1 0zm-1 6zm0-1zm-1 2zm-1-4zm-2-3zm0 3zm-1 2zm-1-2zm-4 0zm-1-1zm0 2zm-1-4zm0 1zm-3 4zm-1-3zm-1 1zm-3-2zm-2 2z"/>
<path stroke="#481a6c" stroke-width="2.24" stroke-opacity="0.88" d="M55 119z"/>
<path stroke="#472f7d" stroke-width="2.24" stroke-opacity="0.88" d="M108 55zm3 4zm13 12zm-1 0zm-7-4zm-25 14zm15-1zm-1 14zm-8-10zm-26 18zm39-5zm-34 17zm-4-2zm-4-1zm-19 17zm0 0zm0 0zm6-6zm3 2zm8 3zm0-7zm35 9zm-41 5zm-8-2zm-21 23z"/>
<path stroke="#414487" stroke-width="2.24" stroke-opacity="0.88" d="M124 55zm2 16zm-4-2zm-4-4zm-2 2zm-4 0zm-2-2zm-19 16zm0 0zm3-5zm0 6zm1-7zm0 1zm3 6zm25-6zm0 1zm1-1zm5-1zm5-1zm1 8zm3-1zm2 1zm1 1zm3 1zm-26 1zm-9 3zm-14 4zm0-1zm-10 16zm3-1zm44-10zm-33 16zm-16 2zm-4 2zm-23 4zm2 4zm1 0zm4 1zm1-4zm0 10zm0-10zm5 0zm0 0zm0 0zm1 0zm1 0zm3 3zm0 4zm1-4zm1 0zm2 1zm4 6zm5-10zm0 8zm8-7zm0 7zm1-3zm8 6zm-11 5zm-7 3zm-7 2zm-4-8zm0 8zm-6-1zm-1-4zm-8-3zm0 0zm0 0zm-1 4zm-7 3zm-1-2zm0 0zm-1 0zm0 0zm-10 16zm6-4zm5-2zm26-1zm-14 8zm-17 11zm4 7zm3 11z"/>
<path stroke="#39568c" stroke-width="2.24" stroke-opacity="0.88" d="M160 56zm0 2zm21-1zm-7 4zm-43 9zm-8-10zm-5 3zm-7 2zm0 0zm-16 18zm9-3zm5-6zm9-1zm2-1zm1 3zm3 2zm2-4zm6 3zm3 4zm3 1zm1-1zm1 2zm0 1zm50-8zm-36 16zm-1 4zm-3-3zm-4-1zm-2-7zm0 7zm-2-7zm-1 5zm-2-5zm-1 2zm-3 1zm-7-1zm-3 1zm-2 5zm-5-5zm-6 3zm-2-3zm0 0zm-1-1zm-9 11zm19 5zm3-2zm4 4zm0 0zm1-4zm3 6zm2-10zm2 0zm23 11zm-8 3zm-12 3zm-3-1zm-1 1zm-4-1zm-6 6zm-1-7zm-3 5zm-2 0zm-26-6zm-9 5zm-9-2zm-4-2zm-1 11zm1-2zm5 4zm0-1zm1 8zm13-2zm48 1zm-16 7zm-6-1zm0 0zm-14 1zm-13-4zm-2 8zm-2-8zm-4-1zm-2 4zm-3 4zm-2-1zm-6 2zm-2-1zm-1-4zm-4 2zm-5 5zm-1-8zm-6 7zm-7 13zm0 0zm0 0zm11 0zm6-11zm2 1zm1 0zm2 10zm10-10zm1 1zm1 2zm6-2zm31 5zm-17 12zm-9 1zm-4 3zm-11-1zm-3-10zm-7 10zm-4-6zm-9-2zm-3 6zm-11 4zm2 8zm0-7zm6 5zm1-6zm1 8zm3 0zm3-4zm0 5zm8-6zm2-2zm1 1zm0 1zm4 7zm1-1zm2 0zm1-3zm0 4zm2 1zm2-4zm5 2zm3-3zm-1 12zm-5-3zm-10 7zm-5-1zm-4 0zm-4-6zm-5 7zm-2-3zm5 5zm2 1z"/>
<path stroke="#31688e" stroke-width="2.24" stroke-opacity="0.88" d="M125 59zm29-6zm2-1zm5 5zm5-1zm1-5zm2 1zm5 6zm0-3zm1 1zm1-4zm6 2zm2 1zm1 3zm5-1zm1 1zm20 9zm-2 2zm-9-6zm-5 6zm-4-5zm-1-3zm-4 2zm-1-3zm-2 2zm-3 0zm-2 9zm-2-9zm0 3zm-1-3zm-6-2zm0 0zm-55 8zm-4-3zm15 10zm0 0zm5 8zm30 0zm8-10zm5-1zm10 3zm13 5zm4-1zm4-4zm3-1zm8 6zm-30 9zm-23 4zm-2-7zm-4 4zm-9-1zm-13-3zm-18 4zm-17 2zm12 6zm2 1zm13 8zm24-4zm2-2zm6 6zm10-11zm13 0zm-17 14zm-2-1zm-10 7zm-16-1zm-5-7zm0 8zm-1-5zm-18 10zm13 6zm9-5zm14 12zm-38 0zm-1 6zm-7 3zm-24 0zm-7-6zm0 6zm-6-4zm-6-5zm0 4zm-1 0zm-1 14zm22-7zm2 1zm1 3zm8 5zm1-2zm13-2zm0 4zm3-10zm3 7zm14 1zm0-8zm-18 13zm-7 5zm-7 2zm-2-2zm-13-4zm-2 2zm-8 3zm0-6zm-12 9zm-2-6zm-3 6zm-3-1zm-1-7zm-1 0zm-7 21zm1-9zm0 0zm1 1zm2 3zm10 5zm1-2zm1-9zm0 8zm2-1zm0-3zm1 1zm3-1zm1 3zm1-4zm1 2zm2 4zm1-2zm4 4zm1-6zm0-3zm1 0zm3 1zm1 0zm1 0zm10 1zm2 3zm23 0zm0-5zm1 4zm-12 11zm-12 0zm0-5zm-2 1zm-4 6zm-3-5zm0 1zm-3 4zm-1-7zm0 1zm-2 4zm-3 6zm-5-10zm-1 8zm0-7zm-1 7zm-2-6zm0 6zm-2 2zm-1-11zm-1 2zm0 0zm-1-2zm-1 6zm0-2zm-1-3zm-1 2zm-1 4zm0-5zm-1 5zm-1 4zm0-8zm0 0zm-5-3zm-2 7zm0-1zm-1-5zm0 0zm-4 7zm7 4zm3 0zm1 1zm1 6zm0-5zm2 0zm1 0zm0-2zm3 6zm0 0zm2-4zm0 0zm4 4zm4 4zm1-2zm8 0zm1-4zm4 6zm7-4zm-25 6zm-3 1z"/>
<path stroke="#2a788e" stroke-width="2.24" stroke-opacity="0.88" d="M160 54zm10 3zm6 0zm2-2zm2 3zm1-6zm1 3zm2-1zm2 2zm0-2zm1-4zm6 9zm14 9zm0 1zm-3-2zm-5 2zm-1 2zm-5-9zm0 0zm0 0zm0 1zm-1 3zm-1 0zm-1-5zm0 3zm-2 4zm0 0zm-2-4zm-1 0zm0-3zm-5 10zm0 0zm-2-10zm-2-1zm-3 0zm0 4zm-4 5zm-2 0zm-2 1zm7 10zm1-8zm5 2zm1 0zm1-2zm1 0zm1 2zm0 9zm1-7zm1 4zm1-2zm0-2zm1 2zm1-2zm3 0zm1 3zm2-5zm2 9zm1-5zm2 1zm3-5zm3 3zm0 6zm3-2zm4-9zm2 10zm2 3zm-14 7zm-6-2zm-4-5zm-3 9zm-18-2zm-2-1zm-6-2zm-33 4zm10 10zm24-7zm7 7zm3 3zm4 0zm4-10zm1 6zm7-3zm1 6zm13-8zm3 8zm9 9zm-11-4zm-10 2zm-2 2zm-6-1zm-2-3zm-3 8zm-7-6zm-21 5zm-34-1zm-7 2zm-9 9zm20 0zm2 4zm5-2zm1 0zm3-7zm12 7zm3-4zm20-1zm29 8zm-18 1zm-14 3zm-1 0zm-1 0zm-4 6zm-15 0zm0-9zm-46 12zm25 3zm3 1zm4 1zm3 4zm-5 13zm-16-7zm-12 7zm-1-2zm-5-3zm-5 5zm-1-8zm-10 7zm-5-8zm-3 1zm-2 3zm-30 9zm23 8zm5-2zm1 0zm1-1zm5-8zm0 4zm6 3zm4-4zm1 2zm4 4zm1-6zm3 8zm4-3zm3-7zm3 7zm2 1zm2-3zm1-5zm0 5zm0-3zm1-2zm0-1zm1 9zm2-7zm2 0zm1-2zm2 1zm1 4zm11 1zm14 6zm-1 4zm-10 1zm-5 2zm-1-2zm-8 5zm-5 0zm-2-3zm0-5zm-2 0zm-1-1zm-5 5zm-1 2zm-6 1zm-1-1zm-11-4zm-2-2zm-1 2zm-1 4zm-2-6zm0 0zm-3 8zm-4-10zm-1 6zm-1 2zm-5 2zm-2-2zm-3-1zm-1-7zm-2 6zm-1-6zm-6 5zm0 2zm-1 5zm7 4zm2 4zm0 0zm2 3zm0-6zm1 4zm7-4zm3 5zm1-8zm4 0zm1 2zm0-4zm0 7zm1 0zm3-4zm1 3zm1-3zm2 2zm2-5zm10 4zm1 6zm5-4zm1 5zm12-2zm4-6zm0 0zm7 6zm10-9zm-33 13zm-4 9zm-6-3zm-5-4zm-3 5zm-3-7zm-1-1zm-4 9zm-2-4zm-2-5zm-5 2zm-1 8zm-3-3zm0-2zm-2 4zm-1-8zm-4 9zm-2-1zm15 4zm1 2zm0 6zm1-9zm4 1zm3 0zm4 0zm4 1z"/>
<path stroke="#23888e" stroke-width="2.24" stroke-opacity="0.88" d="M191 58zm9 11zm-7-9zm0 11zm0-2zm-8-5zm-16 5zm6 5zm7-2zm1 8zm1-6zm1 1zm0 0zm2 8zm3-7zm2 3zm1-5zm6 2zm4-3zm1 6zm1 3zm19 11zm-9-9zm-43 20zm3 1zm2 2zm0-7zm7 5zm1 1zm1 1zm2-3zm1 1zm0 0zm5-4zm2-1zm1 2zm2 0zm3 2zm0-4zm5 5zm2 0zm2 1zm5 1zm6 0zm4-4zm13 12zm-19 3zm-3-3zm-17-6zm-6 5zm-1 4zm-5-6zm0-4zm-4 8zm-10 0zm-14 3zm0 6zm6-2zm13 2zm10-4zm0 8zm1-4zm0-3zm3 1zm2 4zm0-3zm5-2zm9 3zm2-5zm0 6zm2 3zm2 0zm1-5zm7 2zm5 1zm3 3zm0 13zm-8-5zm-2-1zm-10 0zm-5-5zm-4 4zm-29 4zm-45 9zm2 1zm24 3zm5-3zm3 5zm20-3zm42-1zm8 1zm-32 6zm-19-2zm-23 7zm-7-1zm-1-5zm-10 0zm-48 12zm7 5zm9-3zm3-2zm1 9zm1-3zm5 4zm1-3zm0-2zm2 2zm8-4zm3 3zm6 3zm14-7zm1 8zm9-4zm-18 16zm-5-11zm-6 9zm-1-9zm-2 4zm0 1zm-1 1zm-3 2zm-11-8zm-1 0zm-2 1zm-5 7zm-2-1zm0-1zm-1-4zm-10 6zm-3-1zm-9 2zm0 0zm-14-3zm0-2zm-10 3zm9 8zm3 5zm2-7zm2 2zm0-2zm1 9zm3-3zm3-2zm0-5zm0 5zm1 0zm1-4zm1 6zm2-4zm5 2zm4 4zm1-7zm0 0zm2 2zm9-2zm4 9zm5-1zm1-10zm3 10zm1-6zm1 4zm0 2zm3-3zm2-7zm1 5zm2-3zm1-1zm3-1zm1 9zm8-7zm2-2zm1 8zm2-8zm6 1zm3 0zm-5 17zm-15-3zm-15 4zm-1 2zm0-9zm-1 3zm-1 8zm-3-1zm0-3zm-3-6zm-2 8zm-2 1zm-1-7zm-5 1zm-1-1zm-1 5zm-3-2zm-2 5zm-3-9zm-1 5zm-1 4zm-1-5zm0 4zm-2-5zm-4-3zm0-1zm-1 10zm0-2zm-3-9zm-1 5zm0-3zm-1 8zm-2-1zm0 1zm-1-3zm-3 2zm-4-2zm-1-1zm-11 0zm0-4zm1 12zm3 0zm10 5zm6-4zm0 5zm3-1zm2 3zm7-8zm6 4zm1 0zm1-4zm0 2zm1-4zm0 2zm3 1zm10 1zm5 6zm2-6zm3 2zm-36 7z"/>
<path stroke="#1f988b" stroke-width="2.24" stroke-opacity="0.88" d="M189 66zm5 6zm6 5zm1 27zm12-3zm5 5zm8 0zm10 9zm-7 4zm-5-9zm-13 4zm-6 3zm-3-7zm-12 13zm5 4zm7-3zm12 3zm4-3zm1 1zm0 1zm4 0zm1 0zm4-1zm5 0zm1-4zm9 8zm16 6zm-12-1zm-4-1zm-8 4zm-6 5zm-3 1zm-6-3zm-4-3zm-2 5zm0-7zm-1-1zm-6 1zm-2-3zm-8 11zm-15-7zm-12 3zm-37 12zm27-5zm13 7zm21-9zm16 4zm2-2zm10-2zm5 2zm0 6zm28 1zm-30 9zm-45-2zm-3 6zm-1-9zm-17 9zm-51 5zm4 4zm3 3zm1-3zm3-7zm22 9zm10-9zm1 5zm18-1zm19 1zm3-1zm2-1zm1 3zm0 0zm13-5zm3 6zm-1 14zm-52 0zm-3-1zm-5 2zm-10-1zm0-2zm-4 4zm0-1zm-4-5zm-6 3zm-1 1zm-1-3zm-2 5zm-1-1zm-5 0zm-1-5zm-8-3zm-9 21zm14-9zm3-2zm7 4zm5-1zm6-2zm1 10zm1 0zm2-3zm4 3zm7-11zm6 7zm8-7zm18 7zm6 2zm-42 4zm-6 5zm-1-1zm-7-5zm-1 10zm-3 1zm-12-9zm-2 3zm-1 0zm-4 5zm0-9zm-2 1zm-1 3zm-1 3zm0-7zm-1 8zm-1-5zm-1 2zm-4-3zm-2 4zm-2-4zm0 8zm-10-5zm-2 1zm-4 14zm29-5zm1-3zm0 4zm1-5zm2 0zm2 0zm4 5zm0-1zm3 2zm4-3zm0 4zm1-6zm1-1zm3 7zm4 2zm17-5z"/>
<path stroke="#22a884" stroke-width="2.24" stroke-opacity="0.88" d="M235 116zm-30 9zm8 4zm18-9zm9 4zm3 4zm2-4zm19 13zm-11 3zm-1-8zm-1 0zm-16 9zm-3-4zm-3-1zm-16 3zm-1 4zm5 1zm3 10zm0-8zm4 4zm7-2zm1 0zm0 3zm2 2zm4-5zm17-3zm13 6zm5 12zm0 0zm-9-5zm0 3zm-2-5zm-25 8zm-2-7zm0-1zm-7 1zm-2 0zm-6 2zm-1 8zm-6 0zm-5-7zm-10-2zm-42 6zm-8 4zm17 2zm5 2zm7 5zm7-3zm6-6zm3 11zm1-10zm6 1zm3 1zm3 2zm3 1zm6 4zm8-4zm0-4zm13 17zm-1 2zm-6-5zm-11 0zm-18 7zm-17-3zm-2 2zm-5-6zm-2 7zm-14-5zm-1-4zm-3 7zm-21-4zm-13 1zm4 16zm28-7zm4 4zm18-6zm5 6zm1-4zm1-3zm6 4zm9 4zm15 3zm-18 5zm-15 3zm-33-3zm-3 2zm-1-5zm-2-1zm0 6zm-2 2zm-11-3zm-7 3zm-22 8zm13-1zm9-2zm3 5zm0 0zm8-3zm4-2zm12 2zm5 4zm10 1zm6-8zm15 4z"/>
<path stroke="#35b779" stroke-width="2.24" stroke-opacity="0.88" d="M216 134zm2 20zm9 1zm3-1zm6-2zm14 2zm1-7zm22 16zm-5-6zm-1 3zm-2 6zm-1-6zm-6-3zm0 0zm-11 8zm-14-6zm-4 3zm-5 2zm-19 11zm7-1zm3 5zm0-1zm8-6zm1 1zm7-5zm0 5zm2 3zm4-6zm2 1zm1 0zm0 2zm14 2zm1-2zm2 5zm3 1zm6-1zm3 7zm-17-4zm-19 3zm-22 5zm-2-4zm-12 4zm-2-2zm-1 1zm-3 1zm-9-3zm-15 8zm39 6zm2 2zm15-9zm1-1zm9 0zm-22 16zm-10 2zm-6-2zm-6 2zm-1 5zm-1-7zm-5-3zm-19 9zm-19-7zm83 12z"/>
<path stroke="#54c568" stroke-width="2.24" stroke-opacity="0.88" d="M250 152zm7 9zm-1 1zm-8-3zm-20 8zm0-1zm-2 6zm5 2zm7 4zm4 0zm0-8zm2 8zm1-7zm1-1zm2 2zm6-1zm1 0zm1 4zm0-5zm2 4zm3 3zm0 2zm3-1zm1-3zm0 3zm0-5zm0 2zm0 0zm2-4zm5 0zm3 0zm-6 14zm-2-5zm-3 3zm-4 3zm-1 0zm-1 2zm-2-1zm0 0zm-1-5zm-2 3zm-4 3zm0-4zm-1-3zm-1 10zm0-11zm-1 0zm-1 11zm-4-2zm0-6zm-2-3zm-1 2zm-4 6zm-5 3zm-30 6zm4 3zm1-7zm5 9zm8-4zm8-2zm5-1zm19 4zm2-2zm2 2zm2-7zm9 1zm-41 14zm-5 3zm-5-3zm-19-3zm26 15z"/>
<path stroke="#7ad151" stroke-width="2.24" stroke-opacity="0.88" d="M263 166zm-9-2zm-1-1zm-20 10zm14 3zm2-8zm5 6zm0 2zm6-2zm2-1zm3 6zm0-11zm1 8zm3 2zm1-6zm2 2zm0-4zm3 0zm0 1zm0 8zm1 6zm-3-4zm0-1zm-2 7zm0-3zm-3 1zm-1 6zm-1-5zm-2 5zm0-8zm0 7zm0 0zm-1-5zm-1-5zm-1 2zm-5 2zm-1 3zm-1 2zm-4-1zm-3 3zm-5-11zm-1 3zm-1 4zm-7 4zm-32 1zm26 2zm10-1zm2 0zm4 2zm0-3zm9 8zm0-1zm1-7zm2 4zm-6 8z"/>
<path stroke="#a5db36" stroke-width="2.24" stroke-opacity="0.88" d="M261 165zm3 8zm5 5zm7-7zm0 14zm-1-3zm-3-1zm0 1zm-1 2zm0-3zm0 6zm0 1zm-4-2zm-1-4zm-2 8zm0-3zm0 3zm-2-6zm-5 4zm-8-6zm-2 0zm0 5zm-12 10zm5 5zm2-4zm1 2zm1-5zm4 7zm4-1zm0-2zm1-6zm11 9zm3-10zm1 4zm-13 12zm-2-1zm-3 8zm-2-10z"/>
<path stroke="#d2e21b" stroke-width="2.24" stroke-opacity="0.88" d="M274 190zm0-8zm-7 5zm-3 13zm4-8zm-7 13zm-10 5zm-5 5zm5 2zm1 0zm0 0z"/>
<path stroke="#fde725" stroke-width="2.24" stroke-opacity="0.88" d="M254 210z"/>
<path stroke="#440154" stroke-width="2.24" stroke-opacity="0.92" d="M52 97zm0 0zm0 0zm4 3zm5 15zm-22 4zm-1-1zm-5 13zm9-8zm-10 9z"/>
<path stroke="#481a6c" stroke-width="2.24" stroke-opacity="0.92" d="M83 66zm-28 34zm19 13zm-20 0zm-1 4zm-4-2zm0 1zm0-1zm0-4zm-1 7zm-10-1zm-6 9zm4 3zm0 0zm9-5zm1 3zm2-3zm3-4zm2 6zm0 1zm1 1zm1-7zm0 4zm1-3zm1 1zm3-3zm1 1zm1 10zm1-1zm1-8zm3 4zm16 0zm-4 7zm-4 1zm-2 8zm-5-10zm-3 0zm-10 2zm-4 3zm-11-2zm0 0zm-3 3zm16 17zm2-6zm3-1zm2 7zm-3 5z"/>
<path stroke="#472f7d" stroke-width="2.24" stroke-opacity="0.92" d="M113 56zm31 13zm-7 0zm-7-4zm-47 1zm0 0zm12 6zm2 0zm11 9zm13-6zm12 4zm3 5zm-17 1zm-9 25zm-14 9zm-8 0zm-15-7zm-5 7zm-18-3zm-1-1zm-16 16zm5-1zm2-2zm0-2zm7 4zm0-1zm3-6zm0 7zm0-7zm3 0zm2 8zm1-3zm4 1zm7-7zm2 5zm4 4zm1-1zm2 1zm2-1zm1 0zm5 1zm2-5zm6 2zm13-2zm22 7zm-39 0zm-7 1zm-9 3zm-3-5zm-2 2zm-1 1zm-2 8zm-1-6zm-6-5zm0 10zm-1-2zm-2 2zm0 0zm-1-9zm-2 4zm-8-2zm-1 1zm-1-2zm-3 3zm-2 4zm-4-9zm-2 10zm0 4zm1 1zm0-1zm5 3zm4 4zm3-5zm3 4zm4 2zm4-6zm7 2zm7-3zm3 1zm25 0zm13 5zm-45 3z"/>
<path stroke="#414487" stroke-width="2.24" stroke-opacity="0.92" d="M135 70zm-3-5zm-4 6zm-1-7zm-3-1zm-31 7zm-9-3zm39 9zm16-1zm2 4zm1 4zm1-5zm2 0zm4 1zm0 1zm5 1zm2-4zm0 6zm10-2zm2 14zm-5-1zm-1-2zm-5-3zm0-3zm0 3zm-16 0zm-1 2zm-12-2zm-3-2zm-6 5zm-5-1zm-3 2zm-2-5zm-13 10zm1 5zm2-2zm21-2zm10 2zm1-4zm5 2zm4 1zm9 3zm15-4zm10-3zm-29 14zm-5 9zm-13-6zm-5-3zm-17 5zm-3-6zm-5 6zm-9 4zm-5-4zm-25 1zm-1 14zm6-2zm7 0zm3-2zm3 2zm5 2zm10 0zm12-4zm3-2zm5 0zm12 6zm4-6zm8-2zm7 19zm-14-7zm-12 3zm-1-3zm-2 5zm-1-7zm-6 4zm-2-3zm-1 0zm-2 0zm-1-1zm-3 0zm0 11zm-1-11zm-2 3zm-1 3zm-7-4zm-1-2zm-2 3zm-1 6zm-2-9zm-6 2zm-19 8zm-19 0zm4 8zm9 5zm1 0zm1-1zm6-4zm2-4zm2 6zm3-2zm6-3zm1 1zm4 1zm15-4zm1 3zm1-3zm0 0zm1 1zm3 7zm2-1zm22-3zm18-4zm-40 15zm-10-4zm-13 5zm-11-3zm-5 5zm-8 6zm8 0zm16 2zm9 14zm-13 0zm-6-2zm-2 0z"/>
<path stroke="#39568c" stroke-width="2.24" stroke-opacity="0.92" d="M227 71zm-3 0zm-16-3zm-9 3zm-8-2zm-58-3zm-3 3zm9 13zm2-4zm4 3zm1-5zm6 5zm9-2zm3 2zm3 1zm50 7zm-38-3zm-6 3zm-2-3zm0 4zm-1-1zm-1 6zm-2-2zm-4-6zm-1-1zm-1 3zm0 0zm-4 1zm-1-3zm0-1zm-1 3zm0-1zm-3-4zm-2 0zm-2 2zm0-2zm-4 3zm-2-2zm-6 5zm-8 4zm-2 1zm-2-7zm-3 3zm-2 0zm-4 0zm-2-2zm-4 4zm-3 0zm22 10zm1 1zm9-6zm2 4zm7-6zm2 11zm6-2zm16-5zm2 2zm0-6zm2 7zm1 0zm1 2zm0-6zm3 7zm0-5zm1 4zm2-6zm2 3zm1 2zm2-1zm-10 12zm-8-4zm-2 1zm-30-4zm-4 2zm-12-2zm-5 4zm-6 1zm-10 1zm-14-5zm7 12zm17 2zm6 1zm14-3zm8 4zm0 3zm5-1zm4 3zm2-1zm0-9zm5 1zm9 4zm1 2zm13 5zm-12 11zm-6-5zm-3-1zm-6-1zm-18-4zm-2 11zm0 0zm-2-9zm-2 9zm-1-7zm-2-2zm-6-1zm-2 8zm0 0zm-1-3zm0-2zm-4 4zm-4-2zm-2-4zm-2 4zm-3-3zm-23 0zm-36 4zm39 8zm1-2zm8 1zm7 4zm1-1zm7-1zm3 3zm1 4zm3-11zm5 2zm3-1zm0 10zm5-8zm11-3zm4 2zm-13 10zm-1 1zm-18 10zm-7-10zm-7 4zm0 0zm-2-2zm-1 6zm-5-2zm-1-3zm0 3zm-1-3zm-10-4zm-1 2zm-16 1zm-17-2zm5 15zm27 3zm1 4zm1-4zm7-6zm8 4zm3 5zm3-5zm13 0zm2 0zm18-5zm14 4zm-22 13zm-10-4zm-4 10zm-3-5zm-3-1zm0-3zm-3 0zm0 3zm-1-5zm-10 7zm-4-4zm-2-1zm-1 4zm-2 1zm-1-3zm-1 7zm-1-8zm-3 8zm0-3zm-3-7zm-2 0zm-2 4zm-1 10zm10 3zm1 4zm5-4zm3 2zm4-6zm6 18zm-7-6z"/>
<path stroke="#31688e" stroke-width="2.24" stroke-opacity="0.92" d="M220 70zm-2 1zm0-3zm-4-3zm-1 0zm-1 2zm-2 1zm-2 1zm0 2zm-1-4zm0 2zm-1-3zm0 1zm-2-6zm0 5zm-2-2zm-1 5zm-2-5zm-1 0zm-1 4zm0 2zm-2-8zm-1 4zm-1-3zm-3 6zm-37 10zm11-4zm33-3zm1 1zm0-1zm2 11zm0 0zm1-3zm3-5zm1-1zm3 2zm1 3zm1-2zm0-2zm0 5zm2-3zm0 1zm1-3zm1-2zm0 3zm0-3zm2 2zm1 2zm1-5zm0 6zm1-6zm0 0zm1 3zm1 3zm2-5zm1 0zm2 2zm2 6zm2 1zm3 1zm-4 12zm-3-2zm-3-2zm-3-5zm-3 4zm-3 2zm-4-3zm-1-2zm-1 2zm-4-4zm-3 1zm-1-2zm-3 0zm-10 5zm-32 2zm0 0zm0 1zm0-3zm-10-2zm-20 15zm7-5zm21 10zm11-9zm4 6zm0 3zm2-9zm2-1zm2 6zm7-1zm2 0zm1 2zm2 3zm25-2zm4 4zm-18 9zm-2-3zm-9-7zm0 8zm-4 1zm-20 0zm-4 0zm-37 4zm7 4zm5-2zm8 3zm10-3zm3-1zm7 3zm3-3zm5 1zm40 0zm-35 10zm-2 7zm-22-3zm-3-1zm-11-1zm-4 8zm-4-2zm-2 0zm-28-6zm4 15zm4-1zm2-5zm1 10zm4-2zm2 2zm3 0zm25-6zm-7 13zm-32-5zm-60 18zm14 4zm20-1zm1 1zm21-6zm30-2zm3 9zm11-6zm0-3zm-18 18zm-4-4zm-4-2zm-4 6zm-2-5zm-2 2zm-2-4zm-3-1zm-1 5zm-1-3zm-1 7zm-1-6zm0-2zm0 9zm0-8zm0 7zm-1-8zm0-1zm-1 1zm-1 4zm0-4zm-1 0zm0 7zm0-7zm-1 3zm-5-3zm0 4zm-1-2zm0 4zm0-6zm-1 1zm0 3zm-1-3zm0 7zm-3-3zm-3 3zm0-8zm-3 5zm-1 0zm-1-2zm-3 6zm-3-6zm-5 4zm-4-6zm-1 0zm5 11zm1 4zm2-5zm1 9zm2 0zm0-9zm1 7zm0 0zm1-1zm2-2zm0-2zm0 0zm2 4zm5-1zm5 1zm1-2zm1 1zm3-1zm2-1zm5-1zm1 3zm0-4zm5 8zm1-7zm0 2zm3 5zm2-8zm0 2zm2 1zm3 6zm1-10zm1 8zm1 2zm11-7zm-13 13zm-3 4zm-2-8zm-1 0zm-2 1zm-3 6zm-4-4zm-1 8zm-2-5zm-3 4zm-3-10zm-2 10zm-4-9zm0 1zm-3 8zm-7 1zm3 2zm17 1zm8-2zm1 6zm19-3zm-25 11z"/>
<path stroke="#2a788e" stroke-width="2.24" stroke-opacity="0.92" d="M230 71zm-12-3zm-1-2zm-3-1zm-2-1zm-2 1zm0 3zm-1-2zm-3 1zm-1-3zm-3 0zm0 4zm-1-3zm0 0zm-2 5zm-1-7zm-2 0zm1 9zm4 10zm3-8zm0 1zm0-2zm2 2zm0-2zm0 2zm1 0zm1 8zm3 0zm1-9zm2 1zm1 0zm0 1zm1 0zm1 1zm0 6zm2-2zm0-4zm0 4zm1-7zm0-2zm0 1zm1 1zm0 4zm1-2zm2 0zm3-3zm6 4zm2 6zm3-7zm1 7zm3 9zm-1-2zm-1 5zm-2-2zm-2-6zm-1 3zm0 2zm-2-5zm-3 5zm-1-3zm0 2zm-2 0zm-2-1zm0-3zm-1 4zm-1-1zm-1 2zm0-3zm0-5zm-1 5zm-3-1zm-2-1zm-1 2zm0-3zm-1 3zm-3-5zm-1 3zm-1 0zm-3 0zm0-2zm-5-1zm-1 2zm0 4zm-3-2zm-25 5zm48 6zm3-1zm1-2zm27 0zm-16 20zm-2-1zm-13 3zm-11-3zm0-2zm-4 4zm-6-2zm-25-4zm-43 15zm7-2zm18-4zm10 5zm44-5zm3 8zm2 3zm7-1zm0-2zm2-7zm16 9zm4-3zm5-5zm-27 20zm-4-2zm-45-7zm-1 0zm-13-1zm0 0zm-1 8zm9 4zm6 9zm10 2zm7-1zm23-8zm-43 16zm-5 2zm-10-3zm-7 4zm0-8zm-13 9zm-3 0zm-4 0zm-3-2zm-39 10zm12-4zm19 5zm0-3zm2 7zm2-4zm5 3zm1-1zm11-9zm14 10zm1 7zm-9 1zm-6 1zm0-2zm-1 1zm-7-6zm0 8zm-1-5zm0 4zm-1 1zm-2 1zm-4-9zm-2 11zm-1-2zm-2 0zm-3-5zm-5-3zm0 5zm-4 5zm-13-11zm-5 11zm-9-2zm8 12zm1-1zm9-5zm1-3zm1 9zm0-9zm8 2zm1-1zm0 1zm3 4zm4-2zm2 5zm2-1zm3-4zm1 0zm3 7zm1-2zm3-2zm3-3zm1-4zm4 1zm1 10zm6-5zm1-2zm3 4zm2 0zm7 0zm8 3zm-20 9zm-4 2zm-11-2zm-3-1zm0-5zm-1 5zm-1-5zm0 6zm-1 0zm-1 0zm-2-8zm-8 9zm-2-1zm0 2zm0-3zm-1-2zm0-2zm-8-1zm-2 6zm-6-3zm0 1zm-1 0zm0 3zm-2-9zm0 11zm0-11zm0 4zm-1-1zm-2 1zm0 6zm0 1zm-1-4zm0 0zm-1 2zm0 0zm-4 10zm4 1zm5-1zm5-5zm1 2zm0-4zm1 6zm1-3zm1 1zm0 3zm2-6zm0 0zm2 2zm4 3zm3 0zm1 5zm1-10zm2 8zm1-5zm1-3zm6 4zm9 2zm2-5zm26 18zm-19 0zm-18-4zm-2 5zm-1-6zm-3 5zm-6-2zm-2-6zm-2 8zm-1 0zm-1-5zm0 0zm-11-1zm-4 1z"/>
<path stroke="#23888e" stroke-width="2.24" stroke-opacity="0.92" d="M204 71zm-9-8zm3 20zm7-8zm1-3zm11 7zm6-2zm0-1zm4-1zm3 2zm17 17zm-1-2zm-3 1zm-1-1zm-2 3zm-2-11zm-4 2zm0-1zm-1 7zm-3 1zm-1-6zm-1 2zm-8-4zm-3 0zm-3 1zm-2 8zm-1-6zm-2-4zm-3 2zm14 20zm17 1zm6-9zm5 13zm-15 0zm-2 0zm-9 7zm-6-6zm0-3zm-1 4zm-5 6zm-2 0zm-10-3zm-9-7zm15 12zm5 4zm1-5zm3 0zm3 6zm1-4zm2 1zm8-3zm1 1zm1 7zm6 2zm14 0zm1-9zm2 8zm12-6zm7 7zm-1 4zm-29 0zm-1 5zm-9-5zm-1 3zm-5 3zm-1-8zm-4 3zm-18-2zm-1 0zm-11 4zm-4 14zm21-5zm33 0zm14-2zm-9 15zm-37-3zm0 6zm-35 5zm-34 7zm24-1zm14-4zm1 10zm4-11zm17 16zm-20 0zm-3-3zm-6 9zm-4-4zm-6-2zm-3 7zm-3-7zm-5 4zm-2-5zm-3 8zm-1 0zm0-2zm0 2zm-4-6zm-3 3zm-7-8zm-2 1zm-3-1zm-2 6zm-1 2zm-12-1zm-21 9zm21 1zm10 2zm2 4zm2-3zm0-4zm2 6zm0-2zm13-2zm0 4zm2-8zm1 7zm7-8zm7 2zm2-3zm1 9zm2-3zm1 4zm22-1zm19-8zm10 14zm-44 2zm-13 0zm-6 1zm-4-6zm-4 2zm-4 7zm-3 0zm-2 1zm0-2zm-12 1zm-1 2zm-4-3zm-2 1zm-2 2zm0 0zm-6-7zm-2 2zm-2 2zm-8 3zm-2-7zm-4 16zm10 3zm5 0zm0-8zm2 2zm1 3zm2-6zm0 4zm1 4zm3-3zm0-1zm3-1zm1 4zm1-9zm0 2zm2 9zm1-3zm1-2zm2-3zm0 6zm1-3zm0 2zm1-3zm2-3zm1 7zm1 1zm0 0zm1-6zm5 7zm5-10zm3 8zm0-9zm2 6zm2-3zm8 0zm4 3zm9 2zm9-2zm-16 15zm-9-1zm-7-6zm-1 1zm0 0zm-1 5zm-4-5zm-4-3zm-3 4zm-2 1zm-1 0zm0 4zm-2-8zm-1 4zm-6-2zm-6 5zm-3-2zm-4-3zm0 3zm-8-5zm-2-1zm-6 3z"/>
<path stroke="#1f988b" stroke-width="2.24" stroke-opacity="0.92" d="M252 95zm0 17zm-1-2zm-14 3zm-1-3zm-26 6zm-2 13zm16-7zm6 5zm7 1zm12-1zm5-5zm11 4zm1-2zm1 4zm10 14zm-6-7zm-3 3zm-3-4zm-7-2zm0 8zm-11-7zm-6 10zm-3-5zm-22-2zm12 10zm8 1zm2 0zm2 5zm0-8zm0 4zm3 6zm7-8zm3 6zm13-8zm2 0zm0 0zm5 1zm-2 11zm-21 0zm-1 0zm-13 3zm-23 7zm-2-3zm-19 4zm-9-2zm15 3zm5 9zm4-2zm17-7zm14 18zm0 0zm-2-1zm-17-5zm-9 1zm-14 1zm-1-2zm-1 10zm0-4zm-17-5zm-4 10zm-29-4zm-17 7zm11 1zm6 1zm2 7zm10-2zm6-8zm2 10zm3-7zm14 5zm6-5zm4-1zm5 2zm9-2zm1 8zm4-7zm18-4zm-6 16zm-45 4zm-1-8zm-7 11zm0-2zm-8-1zm-1 0zm-5-8zm-2 9zm-6-2zm-2-5zm0 1zm-1-3zm-4 1zm0 10zm-5-7zm-1 5zm-7 1zm-14-2zm-1 7zm1-1zm2 5zm1-3zm1-3zm5 7zm2 0zm6 2zm0 0zm2-3zm1 0zm1 4zm2 0zm3-11zm7 5zm4 4zm0-3zm7-5zm5 4zm4-2zm2-1zm6 4zm8 0zm10-4zm2 12zm-9-2zm-6 9zm-7-6zm-6 8zm-2 0zm-2 0zm-10-10zm-1 6zm-1-2zm-3-5zm-1 5zm0-2zm-10-2zm-4 0zm-3 4zm-3 6zm0-9zm-3 8zm-4-5zm-13-1zm-18-2z"/>
<path stroke="#22a884" stroke-width="2.24" stroke-opacity="0.92" d="M261 142zm-2-3zm-4 4zm-9-1zm-1-10zm-7 11zm-5 1zm1 5zm16-1zm4 2zm1-2zm8 5zm14 1zm-5 5zm-1-3zm-4 10zm0-6zm-3-1zm-5-3zm-1 3zm-4-3zm-5 4zm-15-3zm7 21zm7 13zm-2-11zm-6 4zm-1 2zm0-1zm-2 3zm0 0zm0-4zm-1-3zm-4 2zm-4 4zm-11-6zm-11 3zm-18-2zm4 17zm6-2zm1-4zm8 6zm3 4zm0-4zm2-3zm4 2zm4 1zm4 2zm3 1zm0 0zm1 0zm-4 8zm0-1zm-11 3zm-1 3zm-6-5zm-10-5zm0 0zm-2-1zm0 0zm-38 18zm5 3zm4 2zm1-9zm4-2zm7 10zm2-7zm1 6zm4 2zm16-5zm14 4zm1 0zm0 0zm-11 5zm-19-3zm-2 3zm-12 3zm-9-6zm-2 8zm-4-8zm-14 1zm-15 1z"/>
<path stroke="#35b779" stroke-width="2.24" stroke-opacity="0.92" d="M247 151zm24 5zm0 0zm-37 19zm26-3zm-5 11zm-1 0zm0 1zm-1-1zm0 5zm-2 0zm0 0zm-5-2zm-8 3zm-31 5zm24 9zm8-1zm-6 10zm-2-1zm-15 2zm-4-5zm-1 7zm-5-11zm-19 13zm2 1zm6 1zm8 2zm11 5zm15-8zm-36 12zm-10 5z"/>
<path stroke="#54c568" stroke-width="2.24" stroke-opacity="0.92" d="M257 177zm3-1zm-6 7zm-1 2zm0 3zm-1 0zm-1-3z"/>
<path stroke="#440154" stroke-width="2.24" stroke-opacity="0.96" d="M56 80zm4-1zm7 4zm6-5zm7 14zm-5-8zm-1 4zm0-1zm-1 2zm-1-3zm-9-2zm-4 6zm0 4zm-2-5zm0 2zm-1-3zm-3-1zm-3-1zm-2 2zm-3 2zm-1 0zm0 0zm-14 1zm20 5zm9 4zm4 6zm2-3zm2-1zm5 3zm0-1zm8-4zm1 6zm3-1zm2 1zm-2 3zm-6 10zm0-8zm-1 6zm-6 0zm-2-4zm-1-1zm-4-2zm-20-1zm19 19zm10 3zm0 0zm5-4zm0-4zm0 4zm11 3zm1-5zm1 2zm1 1zm1-2zm3 5zm-10 6zm-3 5zm-6-8zm-4-2zm-2 3zm-10 3zm-1-1zm26 10zm1 1zm5-3z"/>
<path stroke="#481a6c" stroke-width="2.24" stroke-opacity="0.96" d="M103 75zm-24 14zm-2-2zm-33 4zm16 15zm7-4zm7 3zm5 0zm3-1zm79-1zm-71 16zm-7-10zm-2 6zm-6 3zm-1 0zm-1-1zm-7 0zm-5-4zm-23 15zm12-6zm3 1zm5 6zm7 2zm11-1zm4 1zm1-2zm1-5zm1-3zm1 5zm9 0zm4-4zm8 18zm-7-1zm-2-5zm-2 8zm-3-8zm0 5zm-1-1zm-1 3zm-6-8zm-1 5zm-2-1zm0 0zm-6-5zm-12 9zm-1 2zm-6-8zm0 1zm-1 4zm-1-5zm0 1zm-3-3zm-5 12zm13 3zm2-2zm5 3zm2-3zm2 0zm2 1zm1 1zm1 1zm1 6zm1-3zm3 0zm5-6zm4 4zm0-6zm4 4zm9 5zm2-7zm-9 11zm-4 5zm-6-4zm-4 9zm-9-4zm-4-2zm-6-3z"/>
<path stroke="#472f7d" stroke-width="2.24" stroke-opacity="0.96" d="M149 68zm-43 15zm57-5zm22 15zm-2-5zm-47 5zm-53-9zm97 12zm-20 13zm-15 9zm-12-2zm-40 1zm-2 2zm-46-2zm31 4zm5 10zm3-1zm3 1zm9-3zm9 3zm5-5zm5 4zm17-10zm9 9zm17 9zm-16 5zm-2-3zm-8-4zm-7 4zm-2 0zm0-6zm-2-2zm0 9zm-10-2zm-6 1zm-1 2zm-2 1zm-1-5zm-4-2zm-1 0zm-1-2zm0 5zm-1-2zm-2 4zm0-2zm-2-4zm0 2zm-4 2zm0-1zm-2 4zm-2-1zm-3-4zm-3 4zm-1-5zm-15 2zm-6-1zm6 7zm3 8zm3-1zm1 0zm6-4zm1 4zm0-2zm0 5zm2-6zm1 4zm0-4zm5 6zm3-8zm1-2zm2 9zm3-7zm10 1zm5 8zm2-2zm2-2zm0-6zm2 5zm1-4zm2 1zm0 1zm1-1zm3 2zm2 1zm10-6zm9 9zm1 1zm-9 8zm-4-3zm-2 1zm-10-2zm-1 0zm-6 5zm-12-5zm-3 4zm-3 0zm-4 0zm-2 5zm0-6zm-2-3zm-1 7zm0-3zm-1 3zm0-1zm-2 3zm0-11zm-4 8zm0 1zm-2-9zm-3 6zm-8-3zm23 9zm7 2zm10 3z"/>
<path stroke="#414487" stroke-width="2.24" stroke-opacity="0.96" d="M121 76zm37 6zm3-3zm3 0zm33 9zm-5 5zm-6-2zm-1 3zm-3-1zm-1-3zm0-1zm-5 6zm-5-1zm0-4zm-2-6zm-2 5zm-2-4zm0 1zm-10 2zm-6-2zm-6-2zm-39 5zm37 13zm1 4zm1-7zm4 4zm2-5zm2 0zm9 3zm3 3zm6 2zm9-8zm11 2zm8 4zm0-1zm2 0zm6 6zm-5 0zm-2 8zm-24 1zm-5-8zm-7 4zm-1-4zm-3 9zm-1-1zm-1-3zm-13 0zm-2-7zm-1 9zm-1-2zm-4-3zm-9 3zm-7-2zm-7 6zm-34 10zm30-2zm18-3zm7 7zm7-2zm4 1zm4-7zm3-3zm2 9zm14-1zm28 2zm2 1zm-40 2zm-8 6zm-10 1zm-8-8zm-1 9zm0-5zm-4 3zm-9 2zm-4 1zm-11-7zm-8 5zm-1-6zm-7 5zm-24-1zm7 14zm7 2zm26-10zm3 4zm6 6zm1-4zm3-5zm5 8zm1-7zm0-2zm1 8zm3-5zm8-2zm1 2zm1 5zm2-8zm5 10zm2 0zm15-6zm3 0zm-14 10zm-4 2zm0 1zm-4-4zm-4 1zm-2 1zm-6 0zm-1-3zm-2 3zm-1 0zm-1-1zm-1-2zm0 11zm-7-3zm-6-1zm-3 1zm-5-8zm-3 8zm-1-8zm0 2zm-1 9zm-5-4zm-1 2zm-2-5zm-2 4zm0-5zm0 5zm-1-2zm-5 2zm-3 0zm-3-8zm-1 1zm-1 10zm-3-8zm-3 2zm-5-2zm14 17zm9-3zm3-3zm10 0zm5 0zm5 1zm4 2zm16 8zm-1 1zm-15 4zm-8-5zm-2 0zm-1 8zm-1 2zm-1-9zm-6 3zm-10 0zm18 10zm6 2zm18-3z"/>
<path stroke="#39568c" stroke-width="2.24" stroke-opacity="0.96" d="M159 83zm10-3zm14 2zm9-1zm37-8zm16 7zm-13 5zm-32 10zm-2-7zm-19 5zm-1-2zm-13 1zm-16-6zm16 13zm1 0zm4 4zm5 2zm1-8zm3-1zm5 4zm3 1zm0-1zm1 6zm0-2zm0-1zm0-4zm2 4zm3-5zm2 4zm13 11zm-3-1zm-3-1zm-2 0zm-1 8zm-8-6zm-1 0zm-4 1zm-4-1zm-8-5zm-3 10zm-11-6zm0 1zm-4 5zm-8-9zm-33 15zm1 6zm4-2zm13 3zm9-2zm0-6zm4 3zm4 5zm5-7zm10 2zm6-3zm4 8zm1-2zm5-4zm4 1zm1 1zm2-2zm0 3zm3 1zm0 0zm2 0zm13-4zm12-4zm1 1zm8 9zm-2 4zm-26 5zm-9 2zm-2-7zm-4-2zm-3-1zm-1 2zm-1 7zm-1-9zm0 10zm-6-4zm-7 1zm-1 0zm-9-6zm-2 4zm-6-5zm0 9zm-9-4zm-3 0zm-69 7zm30 7zm15-2zm7 2zm4 2zm0 1zm2-1zm6-6zm0 0zm4 1zm2 2zm2 3zm3-5zm3 2zm2 3zm9-8zm3 3zm0-2zm1 4zm2-2zm1-3zm3 9zm6-8zm2 7zm9-6zm1 7zm1-9zm4 1zm17 5zm-44 9zm-2-1zm-3 3zm0 5zm-3-10zm0 2zm-1-3zm-22 4zm-5 5zm-9 0zm-5-9zm-1 7zm-11 4zm-3-2zm-8 12zm0-4zm2 6zm3-2zm7 0zm1-2zm11-2zm10-2zm0 8zm9-6zm12-4zm1-1zm1 8zm5-3zm6 4zm11 2zm-11 1zm-26 8zm-1-4zm-3-3zm-4 1zm-4 7zm-2-6zm-1 7zm-3-8zm-3 8zm-8 1zm-3 0zm-13-1zm-2-5zm-2 5zm12 3zm7-1zm0 4zm2 4zm2-3zm0 2zm1-1zm0 0zm0-4zm1 4zm2 1zm3 1zm2-1zm0 2zm0 0zm1-1zm6-6zm3 0zm1 0zm1 7zm4-7zm0 5zm3-3zm2 5zm17 0zm19-1zm-32 4zm-7 5zm-6-3zm-8 8zm-8-3zm-4 4zm-1 0zm-6-4zm3 8zm4 4z"/>
<path stroke="#31688e" stroke-width="2.24" stroke-opacity="0.96" d="M218 71zm-2 8zm2 0zm6-6zm1 1zm1 5zm1 4zm5-6zm1 2zm0 0zm1-2zm1 2zm2-7zm2 3zm3 4zm0 2zm8-1zm2 0zm3 3zm12 5zm-3 7zm0-10zm-1 6zm-2-2zm-1 3zm0 2zm-2-4zm-1 1zm-2 3zm-1-8zm-4 7zm-1-9zm-1 8zm0-4zm-3 2zm-4-6zm-1 1zm-1 3zm-1-4zm-1 1zm-1 2zm-2 0zm-1-1zm0 8zm-1-1zm-1-8zm0-1zm-12 7zm-40-6zm-14 15zm3 6zm20-1zm10 2zm3-4zm28-4zm14 3zm4-3zm1-2zm7 9zm2-7zm2 14zm-12-3zm-20 1zm-4 7zm-5 1zm-2-4zm-5-2zm-3 3zm-5-6zm-1 5zm-1 0zm0-1zm-5-6zm-1 4zm-1-1zm-1-1zm-3 0zm-1 0zm-22 0zm6 12zm2 1zm9 3zm2 2zm9-1zm3-4zm6-2zm7-1zm10 3zm5 6zm5-1zm15-3zm3 10zm-43 5zm-3-6zm0-1zm-1 9zm-8-4zm-1-1zm-7 3zm-2 0zm0-7zm-18 3zm-42 15zm19 4zm4-11zm4 6zm6 3zm1 0zm3-8zm6 4zm5 4zm1-7zm10 5zm5-4zm2-1zm0-2zm1 10zm5-7zm20 8zm-27 2zm-20 1zm-5 3zm-9-3zm-1 9zm-1 0zm-1-11zm-5 10zm-2-3zm-12 4zm-20 7zm2 2zm4-1zm2-3zm5 1zm9 3zm7-1zm0-2zm5 1zm10 3zm4-6zm9 2zm23 3zm2 5zm-31 10zm-7-3zm0-7zm-4 5zm-3-3zm-1 0zm-3 0zm-3 0zm-1-3zm-4 0zm-3 9zm-4-3zm-1 4zm-4 0zm-3-2zm-2-3zm-4-1zm-6 6zm-5-3zm-6 1zm-14-3zm2 7zm10 9zm4-4zm3 0zm1 0zm5 5zm2-1zm1-6zm2 8zm8-5zm2 2zm0 1zm2 2zm2 0zm0-9zm0 2zm1-4zm0 9zm1-1zm1-3zm1 3zm2-4zm1-3zm11 9zm2 0zm0-3zm1-3zm0 5zm2-2zm2-4zm9 6zm1-3zm1 0zm3-4zm-8 12zm-6 2zm-1 5zm-1 0zm-6-5zm-1 2zm-2 2zm-1 0zm-1-4zm-4 4zm-3-7zm0 2zm-1 1zm-7-1zm-3 8zm0 0zm-2-2zm-3 0zm-3-2zm0-5zm-2 7zm-2 0zm-1-3zm-3 4zm0-1zm0-4zm-1-1zm-2-3zm0 4zm-1 1zm-2 0zm-2 1zm-2-5zm-2 1zm9 12zm4-2zm0 2zm4 1zm3-3zm8 5zm6 0zm1 3zm0-4zm1-3zm0 8zm1-3zm3 4zm7-6zm0-4zm17 15zm-35 6zm-10-10zm18 20z"/>
<path stroke="#2a788e" stroke-width="2.24" stroke-opacity="0.96" d="M217 77zm6 0zm1-3zm0 6zm1-8zm2 4zm4 6zm1-4zm1-2zm1-1zm4 4zm1-4zm1 6zm0-5zm1 3zm0-3zm1 6zm0-2zm1 2zm2 0zm3-1zm7 2zm2 0zm2 0zm9 7zm0-5zm-2 9zm-1-6zm0 6zm-4-5zm-4-2zm0 8zm-1-7zm-1 1zm-1 1zm0-6zm0 10zm-1-5zm0 3zm0-3zm0 2zm-7-2zm0 2zm0 0zm-1-5zm-1 6zm-2-5zm-1-3zm-1 5zm-1-4zm-1 2zm0 7zm-1-7zm-1 8zm-1-8zm-5 8zm-1-10zm-44 18zm46-5zm2-2zm2 1zm0 6zm1 1zm0-2zm2-4zm1 0zm1 5zm6 0zm5 0zm2-6zm0 9zm0-9zm3 1zm0 7zm3-9zm1 1zm5 1zm8 1zm2 0zm1 7zm1-6zm-17 15zm-3-6zm-6 2zm-2 7zm-7-10zm-19 1zm-22 12zm21 3zm7 3zm5 4zm1-5zm3 5zm13-3zm14 0zm0-4zm-9 8zm-8 9zm-12-8zm-7 0zm-9 8zm-5 1zm-15-6zm-30 13zm33 0zm3-4zm36-1zm11 4zm-66 15zm-5 0zm-6-2zm-38 12zm22 4zm1-1zm30 0zm23 9zm-13-4zm-27 2zm-7 8zm-1-7zm-7 3zm-7-1zm-27 1zm-21 2zm8 7zm13 1zm2 1zm2-5zm7 8zm3-8zm1 10zm8-4zm7-1zm13-4zm0 8zm4-2zm1-5zm2 7zm2-3zm3-6zm3 2zm6 4zm2 3zm4 0zm7-3zm6-4zm-5 9zm-24 0zm-1 5zm-10 1zm-9 2zm-5-1zm-3-5zm-1 4zm-1-1zm0-3zm-5 2zm0-1zm0 1zm-4 3zm-8-5zm-3 2zm-1 7zm-2 0zm-1-1zm0-2zm-4 3zm-1-2zm0 1zm-3 0zm-3-3zm-6-1zm-7 3zm0-2zm6 14zm9-1zm0-3zm1-1zm2 6zm1 1zm4 0zm3-5zm1 1zm0 1zm2 3zm0-3zm2-1zm0 4zm0-10zm1 5zm2-4zm0 2zm1 7zm3-3zm0-5zm0-1zm4 0zm1-1zm0 9zm1-9zm2 6zm1-7zm0 6zm5 5zm4-7zm0 2zm1-6zm1 3zm1-1zm2 1zm6 6zm15 2zm2-5zm-19 6zm-4 10zm-1-10zm-3 10zm-1 0zm0-10zm-3 2zm-1 0zm-1 3zm-2-3zm-1 6zm-2-1zm-4-3zm-1 3zm0-1zm-1 5zm-5-4zm-2 3zm-2-9zm0 8zm-7-9zm-6 5zm-10 0zm3 9zm9-1zm1 4zm5-5zm4 6zm6 4zm7-10zm5 5zm9-1zm3-2zm2 1zm1-3zm1 0z"/>
<path stroke="#23888e" stroke-width="2.24" stroke-opacity="0.96" d="M219 78zm8 5zm5 0zm10 0zm8-2zm20 12zm-11 0zm-3-3zm0 1zm0 0zm-2 3zm-4-1zm-4-6zm-2 6zm-9 1zm11 4zm6 5zm5-5zm5-2zm3 3zm2 8zm3-11zm0 5zm1 0zm0 0zm3 1zm0-3zm1 5zm0 0zm1 2zm1-6zm-19 19zm-6-11zm-4 9zm-5-9zm-6 16zm14 3zm2 1zm1-5zm1-3zm3 5zm3 1zm4 2zm0 0zm0 0zm0 0zm0-4zm-17 18zm0-7zm-1-3zm-2 7zm-1-5zm-2-1zm-3 7zm0-2zm-1-2zm0 0zm-5-3zm-4-1zm17 13zm1 6zm2-5zm4 2zm0 0zm-51 17zm0 13zm0-10zm2 8zm29-3zm-15 12zm-20 4zm-13-2zm-14 4zm-20 8zm10 1zm2 3zm7-2zm5-2zm1-7zm0 4zm3 3zm4-4zm2 1zm3 0zm7 4zm8 3zm0-11zm1 11zm3-11zm7 4zm8 0zm-30 12zm-1 4zm-3 1zm0-3zm-2 2zm-4-5zm-2 7zm-1-3zm0-7zm-15 11zm0-2zm-4-3zm-1 1zm-1-5zm-1-2zm-2 3zm-7 7zm-2 1zm0-9zm-31 5zm-3 5zm2 8zm12 3zm5 0zm5-7zm3 1zm1 2zm2-4zm8-3zm13 6zm1 4zm0-5zm1 6zm2-3zm7-2zm1 4zm1-10zm1 3zm0-3zm1 5zm0-5zm1 9zm0-4zm1 5zm0-6zm4-3zm6 3zm1 4zm3-7zm1-1zm1 9zm-5 3zm-1 0zm-11 0zm-5 10zm0-3zm-4-1zm-7 1zm-2 2zm-1-1zm-3-2zm0 3zm-2-9zm-1 9zm-1-1zm0-3zm-1 3zm-1 1zm0-6zm-4 2zm0 0zm0-5zm-1 11zm-1-11zm0 1zm-1 3zm0 0zm-3-2zm-1-2zm-2 5zm-4-3zm-1-1zm-2 6zm-1-3zm-9-1zm6 17zm11-6zm5-2zm1 0zm0 0zm1 8zm1-7zm0 1zm2 6zm2 1zm0-6zm2-3zm1 1zm2 1zm3-1zm0 4zm1-3zm1 7zm4-4zm4 0zm2 1zm0 0zm1-6zm1 4zm0 5zm0-5zm0 0zm2 0zm1 2zm-11 6z"/>
<path stroke="#1f988b" stroke-width="2.24" stroke-opacity="0.96" d="M268 96zm-9 17zm-10 16zm-8 14zm-9-9zm16 17zm4-1zm1-2zm8 0zm-49 30zm1 13zm-42 10zm25 0zm3-7zm3-1zm1 4zm0 6zm1 0zm9-7zm1 0zm0 0zm1 3zm1 6zm-8 9zm-5-10zm-3 3zm-1 5zm-4 3zm-1-5zm-4 3zm0-5zm0 1zm-14-1zm-7-2zm-30 21zm25-2zm1-7zm13 5zm2-7zm0 1zm2 9zm0-4zm0-4zm8 2zm2 1zm0-2zm0 6zm3 1zm2-9zm2 15zm0 2zm-8-6zm-1 1zm-1 0zm-2 0zm-1 8zm-3-3zm-20 5zm-1-2zm-6-5zm0 6zm-1-1zm-5-2zm-1 4zm0-3zm-2-1zm-2 1zm-2-1zm9 8zm5 0zm5 4zm1-1zm5-3zm4 6zm1-1zm0-2zm0-5zm1 2zm6 1zm1 0z"/>
<path stroke="#22a884" stroke-width="2.24" stroke-opacity="0.96" d="M208 213zm0 1zm-2-1zm-3 0zm-15 14zm4-3zm8 1zm8-2zm0 1zm-9 9zm0 1zm0-2zm-4-3zm-2 7zm-13 3zm-8-2zm-33 2zm30 1zm8 0zm3 4zm7-3zm5 1zm0 0z"/>
<path stroke="#35b779" stroke-width="2.24" stroke-opacity="0.96" d="M199 233zm0 0zm-7 9z"/>
<path stroke="#440154" stroke-width="2.24" d="M83 83zm2-4zm3 4zm12 5zm-1 0zm-11 5zm0-4zm-2 4zm-1-4zm-28 2zm10 8zm1 0zm8 8zm4-6zm1 1zm1-3zm5 4zm1 0zm6 4zm0-2zm3-1zm4 1zm4 1zm7-4zm6 0zm10-3zm4 1zm49 19zm-13-5zm-7-2zm-4 5zm-3-8zm-2 5zm-1 2zm-5-5zm-1 4zm-3-2zm-15 2zm-1 2zm0 2zm-1-3zm-3-8zm-3 9zm-1-5zm-3 3zm-6-4zm-1 1zm-1 7zm0 0zm-2-1zm0-7zm-4-2zm-2 4zm-2-2zm0 4zm-1 3zm-2-4zm-2-3zm0 1zm0-1zm-2-2zm-1 2zm-6-3zm-9 2zm33 21zm7-9zm1-1zm2 1zm1 7zm1-8zm3 2zm2 0zm1 1zm0 1zm0 0zm1-5zm0 5zm0 0zm6 0zm0 4zm0 0zm0-2zm3 1zm0 1zm1-3zm1 3zm3-6zm1 6zm2-9zm2 10zm8-4zm2-4zm3 6zm0 2zm2-3zm10-2zm5 5zm1-1zm0 2zm4-5zm2-5zm-2 12zm-1-1zm-1 0zm-3 6zm0-5zm-1 0zm-3 2zm-1-2zm0 8zm-1-7zm-1 8zm-1 1zm0 0zm0 0zm-1-3zm-1 0zm-1-7zm0 4zm-3 5zm-1-10zm-1 5zm-2 5zm-1-5zm0 3zm-1-5zm-1 4zm0 3zm-2-2zm-1-7zm-2 6zm0 4zm-1-5zm0-3zm-1 3zm0-4zm-1-2zm0 2zm-3 7zm-1-8zm-5 7zm-3-7zm-1 3zm-6-1zm-6-1zm-1 4zm-1-2zm-1 4zm-1-1zm-1 3zm0-2zm-1 0zm-3-2zm-3 1zm-2 0zm-9-3zm-9 0zm-8-1zm-6-3zm9 15zm8-3zm14 0zm4 4zm5-4zm2 2zm5 2zm0 3zm1-2zm1-4zm0 3zm1 0zm2 2zm3-1zm3 3zm1 1zm3 0zm0-6zm2 3zm4 5zm1-8zm2 6zm2-3zm2 4zm1-6zm1-2zm3 1zm1 8zm0-4zm5-5zm2 9zm2 0zm6-7zm0-3zm3 10zm0-9zm2 1zm0 0zm0-2zm1 2zm0 0zm0 0zm-6 9zm-6 1zm-1 3zm-2-1zm-4-3zm0 6zm-1 5zm0-8zm-3 1zm-1 4zm-1-5zm0 0zm-1-2zm-1 1zm0 1zm0-2zm-5 9zm-3-2zm0 3zm-1-2zm-4-5zm-1-3zm-1 0zm-1 10zm-1-11zm-2 5zm-12 6zm12 2zm4 3zm12 3zm8 3zm7-5zm3-5zm3 1zm-47 15z"/>
<path stroke="#481a6c" stroke-width="2.24" d="M118 94zm-4-2zm-14 3zm-29-4zm32 9zm2-4zm71 22zm-36-9zm-9 2zm-10 8zm-13-8zm-4 5zm-1 0zm-7 3zm-11 10zm14 2zm1-3zm2-2zm5 0zm1-4zm3 7zm3-6zm0 7zm0-1zm1-1zm2 2zm4-5zm6 2zm6-7zm2 10zm2-1zm4 1zm49-5zm18 15zm-31-8zm-7 11zm-3-3zm-4 2zm-3-7zm-2-2zm-1 8zm-5 1zm-2-5zm0-2zm-2 2zm-1-2zm-11 8zm-6-8zm-3 2zm-2-5zm-1 10zm-1 1zm0-10zm-3 10zm-3-11zm0 7zm-3-1zm-2 3zm-2-9zm0 5zm-2 1zm0 4zm-2 0zm0 1zm-3-8zm-3 5zm-19 10zm7-1zm1 6zm0-1zm5-6zm6 1zm4-1zm1 4zm2-7zm2 1zm1 6zm1-4zm1-1zm1 2zm5 4zm0-8zm0 9zm1-6zm1-3zm0 6zm0-4zm1-1zm4 2zm1-1zm1 3zm1-3zm0 4zm2-5zm0 8zm1-7zm4-2zm0 7zm1 0zm0-3zm1 5zm1-9zm1 6zm1-3zm0 4zm3-4zm4 6zm0-3zm2-6zm2 1zm0 4zm2 3zm2 2zm3-6zm1 4zm1 1zm3 1zm0 0zm3-7zm1 3zm1 4zm3-1zm1-5zm2 6zm1-11zm0 3zm1 0zm0 0zm1-1zm0 1zm1 1zm3 8zm-5 3zm-2 7zm-3-1zm-1-3zm-2-3zm0 7zm0-5zm-1 1zm0 4zm-5-9zm0 6zm0 4zm0-1zm0 0zm-1 1zm0-5zm-2 2zm0 2zm0-10zm-1 10zm0-9zm-1 6zm0-7zm-2 11zm0-11zm-2 7zm-1-6zm-4 9zm0 1zm-3-9zm-2 1zm0-2zm-2 7zm0-1zm-1-1zm0 4zm-2-9zm-1 4zm0 1zm-1-1zm-4-5zm-2 9zm0-7zm-1 3zm-2 2zm0 4zm-1-1zm-1-9zm-1-1zm0 3zm0-1zm-1 3zm-1-2zm-1 2zm-2 0zm-3-4zm0 5zm-1 2zm-3-4zm-1 0zm0 5zm-4-1zm-4-8zm-5 2zm0 8zm-6-10zm-4 4zm-11-3zm21 14zm8-2zm6 3zm1-3zm1 7zm9 3zm4-7zm1 2zm2-6zm2 0zm0 6zm1-1zm4-4zm3-1zm0 9zm2-4zm0-3zm1 0zm1 2zm2-4zm1 6zm2-5zm6 2zm1 5zm0-3zm1 5zm1-5zm3-5zm0 7zm0-1zm4-5zm0 9zm1-9zm4 7zm0-7zm1 5zm0-4zm0-2zm0 7zm0 0zm1-5zm0 7zm1-4zm-10 18zm-1 0zm-5-2zm0 0zm-5-2zm0-3zm-2 3zm-8 2zm-1-3zm-1-2zm-1-2zm-21-2zm36 17z"/>
<path stroke="#472f7d" stroke-width="2.24" d="M186 91zm-67 3zm13 5zm28-1zm42-1zm1 1zm26 7zm-5 13zm-18-8zm-20 2zm-40 5zm-10 1zm-2-5zm-15 12zm37 1zm12 5zm0-5zm1 5zm2-5zm0 0zm4 3zm0-8zm2 8zm2 1zm2-6zm0-4zm4 10zm3-7zm1 8zm15-6zm5 10zm-1 5zm-10-3zm-10-4zm-5 6zm-12-7zm-19 11zm-6-1zm-8-7zm-31 8zm0-4zm-4-7zm-18 17zm0 0zm1 1zm4 2zm9-1zm0-3zm6 7zm1-3zm0-1zm2 2zm0 1zm1 1zm2 0zm1-10zm5 10zm3 0zm1-8zm0 1zm0 4zm1-1zm0-5zm2 1zm1-3zm1 6zm0-2zm2 3zm3-5zm1 0zm1 1zm2 7zm1-5zm0 5zm2-4zm0 3zm1-1zm0 3zm2-10zm0 1zm1 4zm3 5zm2-4zm6-2zm1 0zm1 3zm3 0zm0-2zm9 5zm0 0zm9-9zm16 3zm11-5zm-16 17zm0 3zm0 0zm-2-8zm-1 8zm-18-1zm-5 3zm0-4zm-2-1zm-3-1zm-1 6zm-1 0zm0 1zm-2-1zm-1-6zm-6-1zm-1 2zm-1 5zm0-1zm-3 1zm0 0zm0-5zm-1 1zm-1-2zm-4 6zm-2-3zm-3-3zm-1 6zm-2-10zm-2 9zm-1 2zm-2-9zm-1 3zm-1-3zm0 8zm-2 1zm-1-10zm0 6zm-1 0zm-2 1zm-1-1zm-1 1zm-6 3zm-1-1zm0 1zm-7-2zm0-2zm-1 8zm3 1zm6 5zm0-4zm4-5zm0 7zm1 1zm1-5zm2 7zm0-9zm0 3zm1-1zm0 1zm3 7zm2-5zm0-2zm5 5zm2-5zm1 7zm0-9zm6 1zm0 8zm5-7zm3 4zm1-6zm1 0zm0-1zm1 8zm1-7zm4 7zm1-6zm0 1zm1 4zm3-6zm3 0zm1 5zm0-5zm2-2zm0 4zm0 2zm1 3zm1 0zm2-5zm0-1zm1 1zm3 7zm1 0zm0 0zm0-9zm2 8zm0-3zm1-4zm2 3zm1-3zm1 6zm4-5zm2-3zm6 4zm-10 7zm-1 0zm0 0zm-3 2zm0-1zm0 1zm-4 8zm-2-6zm0-3zm-1 10zm0-10zm-4 1zm-1 9zm-3-10zm-1 2zm-4-3zm0 8zm-2-7zm-1 6zm-1-7zm-2 10zm-1-9zm-3 7zm0 3zm-4-7zm-19-2zm-1-2zm0 3zm0-3zm-3 0zm-5 8zm20 7zm9-3zm1 0zm7 3zm3 1zm5-3zm0 4zm-17 10z"/>
<path stroke="#414487" stroke-width="2.24" d="M198 95zm0 0zm-2 0zm-1-5zm-14-3zm-39 18zm4 2zm6-9zm42-2zm1 4zm9 4zm3-6zm1 7zm6-3zm8 1zm14 13zm-5-5zm-1-2zm-8 5zm-3-2zm0-3zm-4-1zm-10 5zm-8 4zm-3-1zm-6-3zm-3-2zm-6-2zm0 1zm-8 8zm-3-1zm-14-8zm-22 22zm27-2zm1-2zm0-4zm0 7zm2 0zm9-3zm6-1zm2 3zm0-6zm1 6zm2-5zm1-2zm3-1zm3 3zm1 3zm5-1zm5-1zm2 4zm2-5zm4-3zm4 3zm3 4zm1-4zm10 4zm6-5zm2-3zm2 4zm0-1zm-18 9zm0 7zm-10 2zm0 0zm-1-1zm0-6zm-1 7zm-1-9zm0 3zm0 6zm-2 0zm-1-2zm-2 3zm-2-6zm-1-2zm-1 3zm-6-3zm-2 8zm-13-8zm0-2zm0 10zm-1-4zm-1 3zm-9 0zm-6 0zm-4-4zm-4 6zm0 0zm-4-1zm0 0zm-6-2zm-19 3zm-15 11zm16-3zm4-3zm1 4zm5 1zm2-5zm3 6zm1-8zm2 8zm1 0zm4 1zm6-4zm2 4zm0-6zm4 6zm2-10zm1 3zm1-1zm2 1zm0 6zm2-6zm2-3zm0 10zm0-5zm3-6zm1 2zm0 2zm0 0zm1 1zm1-3zm2 0zm1 8zm1-1zm1 0zm1 0zm2-4zm0-4zm0 10zm1-6zm0 6zm5-11zm23 9zm4-7zm-8 20zm-1 1zm-7-10zm-4-1zm-3 5zm-5 2zm0-4zm-1-3zm-1 6zm-2 2zm-2 3zm-1-3zm-1-2zm-3-4zm0 6zm-2 3zm-1-2zm0-7zm-1 5zm-2-7zm-1 10zm-1-2zm-1-5zm-3 1zm-2 4zm-1 3zm0-11zm-2 4zm0-2zm0-1zm-6 10zm0-4zm0-5zm-1 2zm-3 5zm-3-1zm0 0zm-2-5zm-3 6zm-1-1zm-1-2zm-27 2zm-10 3zm-5-6zm1 13zm6-5zm5 8zm5 2zm5 0zm1-4zm1 0zm0 3zm1 0zm1 1zm1-10zm1 8zm2 1zm6-4zm8-6zm4 5zm4-3zm3 2zm7 2zm2-5zm0 5zm1 0zm2-4zm1 7zm2-3zm0 4zm1-5zm3 1zm3-3zm0 4zm5-2zm2-4zm0 3zm0 5zm2 1zm0-9zm5 13zm-8-1zm-1 4zm-4-4zm0 1zm-3 8zm-1-4zm0-3zm0 7zm-5-4zm-4-4zm-1 9zm-3-6zm-2-5zm-1 0zm-2 10zm-3-6zm-5-4zm-1 10zm-8-6zm-1-4zm-1 6zm-18 13zm3-7zm3 5zm10-1zm4-1zm2 1zm1 3zm1-3zm8-2zm4 3zm8-2zm9 9zm-18 11zm-8-3zm-2-1zm-7 3zm-2-1zm0-3zm-3 8zm25 1z"/>
<path stroke="#39568c" stroke-width="2.24" d="M272 90zm-8-4zm-4 6zm-5 1zm-61 13zm10-9zm8 2zm2 7zm4-1zm5-6zm19 7zm2 1zm-5 2zm-3 7zm0 0zm-1-2zm-8 4zm-1 1zm-2-7zm-1 2zm-3-5zm-2 5zm-2-4zm0 6zm0-3zm-4 6zm-1-11zm0 4zm-3 5zm-11-1zm-4 0zm0 2zm-12 0zm-9-5zm-10 12zm11 1zm1 3zm4 2zm1-1zm6-7zm5 4zm8 0zm9-7zm5 10zm2-1zm2-6zm2 2zm3-2zm3 4zm2 1zm3-7zm3 1zm1 0zm1 5zm2-3zm0 0zm4 2zm-7 11zm-4-2zm-9 2zm-3-1zm-6 4zm-3 1zm0-2zm-2-5zm-3 7zm-4-9zm-1 9zm-1-4zm-7-3zm-3-1zm-10 3zm0 0zm-11 3zm-28 14zm6 0zm26-9zm8 7zm5 4zm4-5zm4-3zm0-1zm4 0zm0 1zm6-1zm13 5zm3-6zm0-1zm7 5zm-14 17zm-5-7zm-1-1zm-2 7zm-4-6zm0-1zm-4 4zm-3-3zm-1 1zm-4-4zm-2 7zm-2 3zm-11 0zm-2-3zm-1 0zm-1 3zm-4-10zm-6 0zm-5 11zm-1-11zm-29 20zm5 3zm3-4zm9 4zm11-1zm14-6zm4 5zm1-1zm4-8zm2 9zm1-7zm1 4zm2-6zm5 4zm0-1zm10 0zm1 1zm-1 13zm-9-1zm-1-4zm-2 10zm-1-8zm-1 4zm-2-4zm-2-2zm-2 2zm-3 3zm-2 5zm-11-8zm-1 3zm-2-1zm-2-4zm-1 3zm0 4zm-3 4zm-1-2zm-6-3zm-1 2zm-1-5zm-4-2zm-7 1zm-19 19zm2 2zm2-2zm9-6zm6 0zm26-2zm0 3zm3-2zm5 2zm6-1zm7 6zm0 0zm0 0zm0 0zm3-5zm3 10zm-18 4zm-1 2zm-4 0zm-5-3zm-5 2zm-1-6zm-8 3zm-1 5zm0-4zm-5-3zm-1 3zm-6-1zm-5 1zm-5-5zm27 18zm5-5zm1 9zm2-2zm3-1zm0-7zm0 0zm1 3zm0 7zm0-7zm0-3zm4 2zm2 2zm0-2zm0 0zm-25 10z"/>
<path stroke="#31688e" stroke-width="2.24" d="M273 94zm-4-2zm0-1zm-1 0zm0 1zm-2 3zm-1-8zm-4 1zm-2 6zm-2-6zm-1 3zm0 4zm-42 6zm45-4zm2 0zm3 1zm2 2zm0-3zm-5 13zm-7-2zm-24 1zm-12 8zm-25-4zm-26 18zm41-10zm13 9zm19-5zm-18 9zm-2 1zm-3-3zm-9 4zm-5-3zm-22 20zm34-7zm0 6zm4-4zm6 2zm0 0zm0 0zm0 0zm-14 15zm-1 0zm0 0zm-9-3zm-2-1zm-10 4zm-2-6zm-18 8zm-36-10zm44 12zm12 7zm9-7zm3 2zm7 11zm-12 2zm-10-2zm-14 5zm-36 4zm-11-2zm15 14zm3-3zm1-1zm10-6zm3 9zm2 1zm1-7zm10 7zm4-7zm1 7zm1-1zm8-7zm6 7zm0 0zm2 1zm-6 3zm-15-1zm-2 5zm-3 3zm-4-5zm-7 1zm-3 1zm-1-1zm0 5zm-1-8zm-3 6zm-2 0zm-9-4zm0 2zm-1 0zm-1 4zm-7-8zm-7 2zm11 15zm0 4zm4-3zm3-3zm6 3zm1-1zm0-3zm0 4zm3 1zm0-2zm1 2zm1 2zm4 0zm2-8zm2-3zm1 1zm2 0zm10 9zm1 0zm3-5zm-10 7zm-1 6zm0 0zm-2-5zm-1 2zm-1-1zm0-1zm0 1zm0 4zm0 0zm0 0zm-1 3zm0-3zm-1-6zm-2 10zm-3-4zm-2 1zm-2-1zm0 0zm-3-4zm-1 7zm-2-3zm0-2zm-4-4zm-2 0z"/>
<path stroke="#2a788e" stroke-width="2.24" d="M271 89zm-3 2zm0 0zm-2 0zm-1-4zm-5 2zm-2 5zm0 1zm-10-8zm-2 4zm12 6zm2 1zm5 2zm0 0zm0 0zm0 7zm0 0zm0 0zm0 0zm-3 2zm-77 70zm17-7zm6 10zm-7-2zm-20 0zm-5 9zm-6-3zm-27 11zm13 3zm18 1zm2 1zm4-2zm5 1zm5 1zm4-2zm-2 4zm-1 3zm-23-2zm-1 1zm-4 7zm-5-5zm-4 0zm-5 0zm-16-3zm-11 14zm19 4zm7 4zm4-8zm6-3zm6 6zm4-5zm2 0zm5 2zm0 0zm-4 18zm-1 0zm0 0zm-3-2zm-1 2zm-2-3zm-1-1zm-2 1zm-1 0zm0 4zm-3-8zm-1 7zm-1 1zm0-1zm-1-8zm-7 8zm-5 4zm3 9zm3-2zm3-6zm5-1zm3 1zm1 7zm2-5zm0-3zm1 3zm1 0zm0 0z"/>
<path stroke="#23888e" stroke-width="2.24" d="M275 89zm-13 4zm-3 22zm-52 59zm0 8zm-10 20zm-11 4zm-8 16zm7 0zm0 0zm-12 8zm0 3zm-3 4zm-3 0zm-27 0zm15 14zm5-2zm0 1zm4-2zm0-4zm-13 13z"/>
<path stroke="#440154" stroke-width="3.00" d="M420 304z"/>
<path stroke="#481a6c" stroke-width="3.00" d="M435 299zm28 2zm0 5zm-1 1zm0 3zm-16-6zm-16 1zm-7-3zm-9 5zm0-4zm-3 3zm-1 3zm0-9zm2 15zm6-1zm1 4zm42-5zm1 8zm0 1zm-6 9zm-41 4zm-2-1z"/>
<path stroke="#472f7d" stroke-width="3.00" d="M467 300zm-1 0zm0 5zm0 1zm0-4zm-1 3zm0-1zm-1-1zm0 3zm0-5zm0 7zm0-6zm-1 7zm0-2zm-1 3zm0-10zm0 8zm-3 0zm-3-6zm-4 0zm-1 4zm-3 1zm-3-1zm0-6zm0 0zm0 11zm-1-1zm-1 1zm-2-1zm-2-10zm-1 2zm-4 3zm-4-3zm-1 0zm-2 0zm-1 0zm-1 8zm-4-10zm-1 5zm-2 5zm-2-4zm-1 3zm-1-4zm-3 11zm2-3zm4 4zm2-5zm0 8zm0-3zm1-5zm4 5zm1-2zm1 5zm2 3zm1-11zm2 7zm2 4zm1 0zm7-6zm1 6zm3-2zm1-3zm3-4zm1 9zm1-5zm3-3zm4 5zm2-5zm1-1zm0 0zm1 7zm1-6zm0 5zm1-7zm-3 13zm-1 6zm-1-5zm0 0zm-1 2zm0-2zm-1 6zm0-5zm-1 7zm0-8zm-1-2zm-1 10zm-4-10zm-1 3zm-3 2zm-1-6zm-10 3zm-2 5zm0-4zm-2 1zm0-5zm-5 3zm-4 0zm-1-3zm-3 8zm-1 1zm-2-8zm-3 4zm-1 0zm-1-5zm0 14zm5 4zm5-2zm0 2zm3 2zm2-6zm1-1zm1 5zm3-3zm2-1zm11 1zm3-1zm6 9zm1-8zm0 2zm1 0zm1 3zm0-7zm0 2zm1 1zm0-4zm0 3zm1 2zm1-3zm1-1zm-5 18zm-2-1zm0-4zm-16 2zm-1-4zm-1 8zm-8-5zm-12 7zm-2-10zm-2 21zm18-4zm1-4zm1 9zm16 0zm3-8zm3 7zm-4 4zm-2 10zm-11-7zm-13-4zm-7 3zm-5 0zm0 8z"/>
<path stroke="#414487" stroke-width="3.00" d="M485 307zm-4-3zm-8-2zm-4-1zm-2-1zm-1 1zm0 5zm-1-5zm0 7zm-1-6zm0-2zm0 10zm-1-2zm-1-3zm0 3zm-1 2zm0 0zm0-7zm0 1zm0 4zm0-6zm-1-2zm0 11zm-6 0zm-4-10zm-4 2zm-2 2zm-2-3zm-2 9zm-3-6zm-2 4zm-2-7zm-7 0zm-1 4zm-6-6zm8 20zm2-2zm1 1zm0-4zm0 5zm10 0zm3-1zm2-2zm5 0zm1 1zm2-5zm0 1zm1 9zm4-11zm0 6zm0-2zm0 3zm2-4zm0 7zm0-5zm0-4zm2 4zm0-3zm1 3zm0 0zm10 5zm-12 3zm0 1zm0 1zm-1-2zm-1 7zm0 2zm-1-5zm-1 6zm-1-5zm-1 3zm-1-3zm-2 0zm0-6zm-7 0zm-1 3zm-3 4zm-4-1zm-6 5zm-6-4zm-15-3zm1 17zm5 2zm8-7zm0-3zm2 6zm0-1zm3 4zm5-2zm2-3zm1-3zm0-2zm0 9zm0-3zm2 0zm0 0zm0 3zm2-6zm4 2zm1-5zm3 5zm3-2zm0-3zm0 10zm1-5zm1 5zm0-9zm1 3zm0-2zm0 4zm1-3zm1-2zm0 7zm1-7zm0-1zm9 11zm-12 9zm0-8zm-1 8zm0-5zm-1-3zm0 7zm0-6zm-1 1zm0-1zm0 10zm0-11zm-1 3zm0-2zm0 6zm0 4zm-1-7zm-1 4zm-3-4zm-2 2zm-1 4zm-2-9zm-6 0zm-1 7zm-6-7zm0 10zm-5 0zm-3-5zm-4-1zm0 5zm-6-3zm0 5zm2 10zm5-8zm1 6zm2-2zm0 3zm2-4zm0-5zm0 5zm1 3zm1 0zm0 1zm8-8zm1 2zm3-3zm1 7zm2-4zm2 7zm2-8zm1 0zm3-1zm0 10zm1-2zm0-3zm0-4zm0 9zm0-11zm1 9zm0 1zm0-4zm1 0zm0-4zm0 9zm0 0zm0-10zm1 2zm0 1zm0 2zm1-2zm1-4zm0 5zm3-2zm-6 10zm-1 4zm0-3zm-1 5zm0-5zm-1 9zm0 0zm-1-10zm0 5zm0 5zm0 0zm-3-11zm-4 10zm-1-3zm-5-2zm-8 6zm-2-7zm-3 2zm-2 5zm-1 0zm-1-1zm-1 0zm-1-4zm0 4zm-1-6zm-1 7zm-3 0zm0 6zm2 0zm3 4zm2-2zm0-6zm6 1zm1 3zm5 1zm1 4zm1-7zm2 7zm1-6zm6-1zm1 2zm4-4zm3 0zm1 1zm0 1zm6-1zm-35 10zm-4 6zm-3-6z"/>
<path stroke="#39568c" stroke-width="3.00" d="M498 299zm62 3zm-1 1zm0 3zm-1-2zm-1-4zm-1 2zm-1 1zm-3-3zm-16 2zm0 0zm-11 3zm-1-3zm-10 0zm-1 9zm-6-11zm-4 3zm-3-3zm-1 2zm-1-1zm-1 5zm-1 3zm-4-8zm-1 0zm-3 0zm-4 0zm0-1zm0 2zm-3 5zm-3 0zm-5-3zm-3-4zm0 9zm-1-9zm-5 5zm-5-5zm-8 1zm8 16zm14 2zm6-1zm4 1zm0-7zm3 7zm1 1zm0-2zm8-6zm10 4zm12 6zm7-2zm2-6zm2 0zm12 1zm2 4zm27 11zm-62-5zm-3 4zm0-4zm-3 2zm-6 2zm-7 4zm-11-2zm-1-6zm-7 7zm-9-4zm-4 1zm-2-3zm-44 16zm40 3zm3-7zm1 3zm7-2zm46 3zm-50 17zm-2-7zm-1 3zm-1 3zm0-8zm-1 2zm-1 2zm0 5zm0-9zm-1 2zm0 1zm-2 0zm-1 4zm-2-8zm-5 8zm-28 7zm5 6zm1-10zm4 1zm4 5zm9 1zm4-3zm1 7zm2-6zm3-1zm1 7zm0-7zm1 0zm1 6zm0-4zm1-3zm0 0zm1 5zm2 1zm2-3zm22 0zm3 16zm-10 0zm-1 1zm-1-3zm-4 3zm-1-1zm-6-2zm-2 2zm-4-10zm-1 4zm-1-3zm0 9zm-1-4zm0-3zm0 1zm0 7zm-1-5zm0 4zm0-3zm0 2zm-1-3zm0 1zm-4 2zm0 0zm-2 2zm-1-4zm-1 2zm-1-4zm0 5zm0 1zm-1-8zm-3 7zm0 0zm-4 0zm-2 1zm-4-1zm0-10zm0 11zm-8-11zm-5 8zm0 9zm1-3zm0 7zm0 1zm0-8zm0 5zm1-7zm0 3zm0-3zm1 9zm0-2zm0-4zm0 0zm1 5zm1 0zm2-4zm0 1zm1-3zm1-2zm0 1zm0 10zm0-4zm1 2zm0-2zm0-5zm1 1zm1-1zm0 9zm0-3zm0-3zm1-4zm0 6zm1 1zm0 3zm0-4zm0 3zm0-9zm0 5zm1-2zm0 0zm1 7zm0-5zm2-5zm0 10zm0-8zm1-3zm0 9zm0-2zm2 0zm0-6zm0 9zm0-5zm3-4zm1 6zm0 0zm0 0zm1-7zm0 0zm0 11zm0-5zm1 1zm1-5zm0 7zm0-9zm2 0zm1 5zm0 2zm1-1zm0 2zm1-7zm1 8zm0-8zm1-1zm0 11zm0-10zm2 0zm0 9zm0-9zm2 0zm0 6zm1-6zm4 9zm2-8zm4 4zm1 0zm2-6zm0 1zm0 1zm1-1zm1 0zm0 7zm3-7zm5 3zm-5 10zm-3-2zm-7 4zm-7-1zm0-1zm-4 3zm-2-5zm0 3zm-2-1zm0-2zm0 1zm-2 0zm-2 0zm-2 2zm0-1zm0 7zm-2-4zm0 0zm-2-5zm0 6zm0-6zm0 8zm-1-8zm0 6zm0-2zm-1 1zm0-5zm-1 6zm-1-2zm0 1zm0-5zm0 1zm0 1zm0-2zm-2 1zm0-1zm-1 6zm-1-5zm0 7zm0 0zm0-7zm0 4zm-1 0zm-1 3zm0-3zm-1 3zm0-6zm-1 1zm-1 3zm-1 2zm0-5zm0 2zm0 0zm-1 1zm0-3zm0-2zm-1 0zm-1 8zm0-3zm-1-4zm0 4zm0-5zm0 5zm-2-6zm0 7zm0-2zm-1-1zm-1 0zm0-4zm-1 13zm1 5zm1 3zm1 1zm5-7zm1 5zm1-6zm4 5zm7 1zm5-6zm-20 15zm-4 14z"/>
<path stroke="#31688e" stroke-width="3.00" d="M527 299zm12 0zm33 0zm10 2zm-4-1zm-1 6zm-12-4zm-1 8zm-1-2zm0 2zm0 0zm-1-5zm-1 2zm0-1zm0 0zm-1-4zm0 0zm0 8zm0-6zm0 1zm0 3zm-1-8zm0 11zm0-8zm0 2zm0 4zm-1-3zm0-5zm-1 2zm0 0zm-1-3zm0 6zm0-3zm0 2zm0-2zm-1-3zm0 4zm0 2zm-3 2zm0-6zm-1 2zm-2 5zm-1-9zm0 8zm-18 1zm-2-7zm-1-2zm-11 2zm-2-1zm-2 4zm-6-5zm1 23zm5 0zm3-7zm4 5zm0-1zm0 1zm1 2zm0-2zm1 2zm2-2zm0-7zm2 5zm1 4zm0-4zm2-1zm0 1zm1-1zm1-2zm0 3zm1 4zm1-5zm1 3zm1-4zm1 4zm1-2zm1 0zm1-4zm1 0zm1 4zm4-4zm5-3zm13 3zm1 2zm0-2zm2 1zm1 5zm1-2zm1 4zm1 0zm1-3zm3-4zm4 2zm10 5zm-11 6zm-1 0zm-2-3zm-3-2zm0 3zm-2-3zm0 5zm-1-5zm0 2zm-5 2zm-2 0zm-2 3zm-1 0zm-3 0zm-3 4zm-2-4zm-9 3zm-5 1zm0 0zm-1 0zm-4-10zm-3 3zm-1-2zm-4 0zm0 8zm-3-8zm-3 2zm-2-1zm-1-1zm-1 4zm-1 2zm-4-5zm0 2zm-1 2zm-1-6zm-1 2zm0 0zm-2 1zm-1 7zm-3-6zm-1 3zm-1-5zm-3 6zm-4-2zm-11-6zm10 13zm1 8zm8 0zm7-3zm3-3zm1-1zm2-3zm4 2zm1 6zm4 3zm6-4zm0 1zm0-6zm3 0zm1 0zm1 3zm1 2zm0 1zm5-7zm0 0zm1 0zm1 0zm1 1zm3 6zm1-7zm2-1zm29 2zm4-2zm2 3zm-24 13zm-44 4zm-9-5zm-9 6zm-1-5zm-3-3zm0 7zm-3-7zm-9 1zm-1-1zm0 8zm-6-2zm-2-4zm-37 12zm39 1zm5-2zm5 1zm5 6zm10-6zm7 1zm10 7zm2-7zm23 6zm-35 8zm-4 1zm-2 0zm-2-1zm0 2zm-3 1zm-1-1zm-5 0zm-4 1zm-2 2zm0-1zm0-1zm-1 2zm-4-3zm-7 3zm0 0zm-1 0zm-1-1zm-5 0zm0 0zm-4-2zm-3-5zm-2 7zm-4 1zm0-1zm0 0zm-14 1zm-5-1zm0 0zm-20 8zm1 1zm4 3zm4 1zm2-4zm3-1zm1-4zm1 2zm1 6zm1 1zm1-5zm0 5zm0-3zm1 2zm0-3zm3-6zm0 6zm1-5zm0 8zm3-5zm0-5zm0 4zm1 6zm1-6zm1-4zm0 7zm1-7zm0 11zm1-2zm1-4zm1 5zm1 1zm1-8zm0 7zm0-2zm0-2zm2-3zm0 8zm0-10zm0 7zm0-5zm1 8zm0-7zm1 4zm1 1zm0 1zm1-6zm1 1zm0-4zm1 2zm0 7zm0 0zm0-5zm1 3zm0 3zm1-6zm0 0zm0-1zm0 4zm2-3zm0 1zm0 0zm0 1zm0-6zm1 3zm0-2zm0-2zm0 2zm0 8zm1-4zm0-3zm2 0zm0 7zm0-8zm1 5zm2 3zm0-9zm0 9zm1-2zm0-3zm0-2zm1 2zm0 4zm0 2zm0-10zm2 6zm0-4zm1 5zm0-7zm0 8zm0 1zm0-10zm0 0zm2 6zm0 0zm0 0zm0-4zm0 9zm0-6zm1 2zm1 0zm2 0zm0-3zm0 0zm1 3zm1-2zm0 4zm0 1zm1-10zm0 3zm1 8zm0-7zm1-2zm1-2zm1 9zm5-8zm4 10zm5-11zm6 1zm-12 11zm-7 10zm-5-9zm-2-1zm-1 0zm-2 1zm-3-1zm-1 2zm-2 0zm-1-1zm-1 1zm-1-1zm-1 1zm-2-2zm0 0zm-1 2zm0-1zm-3-1zm-1 1zm-1 1zm-1 1zm-1 2zm0 0zm-1-3zm-3 3zm-2 0zm0-1zm-2-2zm0 9zm-1-11zm0 0zm0 4zm0 0zm-1-2zm0 1zm-1 2zm-1 1zm0-6zm0 4zm0 0zm0-2zm0 6zm-1-3zm-1 5zm-1-9zm-1 1zm-1 4zm-1 0zm0 1zm0 3zm-1-3zm-1-2zm-1 5zm-1-6zm0-4zm0 1zm0 3zm0 6zm0 1zm-2-3zm-1-3zm-1 0zm0 3zm-1-6zm-1 6zm0-1zm-8 1zm-1 3zm-3-9zm0 6zm-2 0zm0-2zm-1 1zm0 12zm0 0zm3-6zm1 7zm2-6zm1 0zm1 8zm3-10zm4 5zm3-4zm2 1zm0-1zm4-1zm2 6zm1 0zm3-6zm3 11zm1-11zm2 1zm0 2zm1 1zm1 5zm1 0zm9-2zm0 4zm1-9zm2 0zm0-2zm11 1zm-17 19zm0-5zm-2-1zm-4 3zm-1-5zm0 8zm-10-7zm0 5zm-5 2zm0-1zm-2-7zm-1 3zm0-3zm-1 0zm-4 3zm0 5zm-2 2zm-1-2zm-2-4zm-2-1zm-2 1zm0 7zm-1-6zm-1-4zm-2 10zm-1-10zm-2 0zm0 2zm3 10zm0 0zm0 2zm3 0zm2 8zm0-11zm0 4zm3-2zm0 4zm1-1zm1-4zm1-1zm2 9zm1-9zm2 10zm2-1zm5-4zm-14 7zm-1 4zm-2-3zm-7 1zm-1 1zm0 1z"/>
<path stroke="#2a788e" stroke-width="3.00" d="M621 300zm-6 0zm-6 2zm-2 0zm-3 0zm-8 2zm0-4zm0 0zm-3 0zm-4 2zm-2 0zm0 6zm-6-2zm-1 0zm-3-1zm-3-3zm-4 2zm-3 3zm-1-7zm-2 10zm-1-8zm-3 0zm0 8zm-3-8zm-1 4zm-1-2zm-2-4zm-2 2zm-13 0zm-26 21zm1-1zm11-2zm4 3zm0-3zm3-1zm0-3zm5-1zm3 2zm1-2zm0 2zm2-4zm1 6zm1 0zm1-1zm1-1zm3-1zm2 1zm2-1zm4-2zm1 2zm2-2zm4 1zm0 0zm0-2zm0-1zm1 2zm0 3zm0-2zm1 3zm1 0zm0 1zm1-2zm1 5zm1 1zm6-3zm1 3zm1-1zm0-1zm2-4zm0-5zm1 10zm2 0zm0-1zm2 2zm0 0zm0-9zm4 9zm0-1zm3-2zm24-5zm1 1zm14-4zm0 4zm-6 16zm-35-8zm-3 1zm-1 1zm-1-2zm-6 11zm0 0zm-2-3zm0 1zm0-7zm0 1zm0 1zm-1-1zm-1 2zm0 3zm-1-3zm0 0zm-1-4zm0 3zm-1 2zm0 4zm0-7zm-1-1zm0 1zm0 5zm0-1zm-1-6zm0 1zm0-1zm0 8zm-1-7zm-3 0zm-2 1zm0-1zm-1 1zm0 0zm-1 3zm-2 0zm0-2zm-2 3zm-1-3zm-1 2zm-1-1zm-2 2zm-2 4zm0-2zm-1-2zm-1 0zm-4 3zm-1-10zm-1 9zm0 0zm-1 1zm0-2zm0 3zm-2-2zm-4-8zm-5 10zm-4 0zm-18-1zm-6-5zm-3 11zm9 6zm10-7zm0-2zm2 5zm3-5zm1 4zm2-1zm1-1zm1 4zm1-4zm0-1zm1 5zm0-1zm0-6zm1 1zm2 4zm4 0zm0-3zm1-1zm0 3zm2-2zm1 0zm5 4zm5-6zm1 2zm3-2zm4 10zm3-8zm10 2zm1-3zm1 0zm1 2zm1 0zm0-3zm0 1zm1 2zm2-3zm3 10zm10-10zm4 6zm-12 7zm0 0zm-6 7zm-3-3zm-1 3zm0 0zm-8-2zm0 5zm-3-5zm-11 0zm-8 0zm-8 2zm-1-2zm0 0zm-12-4zm-8 2zm-2 4zm-8 1zm-32 7zm18 5zm25-5zm10 2zm3 4zm1 1zm0-5zm1 3zm0-4zm2 0zm1-1zm1 5zm1 1zm1 0zm0-1zm0-3zm2 1zm1 0zm1-2zm0 1zm1-3zm1 1zm1 4zm2-1zm0-4zm0 0zm0-2zm0 2zm1-2zm2 4zm2 3zm1-4zm0-3zm1 2zm0 2zm0 5zm3 1zm4 2zm-14 0zm-4 1zm-3-1zm-2 4zm-3 1zm0-4zm-1 6zm0-5zm-2 6zm0 2zm-1 0zm-3-11zm0 11zm-7-4zm-1-4zm-1 8zm-1 0zm0-3zm-4-4zm0 5zm-2 1zm-3-1zm0 0zm-5 1zm-1-5zm-1 4zm-6-2zm-1 2zm-6-1zm-1 2zm0 1zm0-1zm-4 0zm-7-2zm-1 1zm-1 1zm-6 0zm-14 1zm-10-1zm-22 10zm14 1zm7-9zm5 8zm3-2zm2-3zm2 7zm1-1zm3-5zm1 7zm1 0zm1-7zm0 2zm2-5zm2 10zm0-3zm0-3zm4-3zm0 5zm1-7zm1 11zm0-1zm3-8zm0 8zm0-3zm1-2zm2 3zm0-5zm1 8zm0 0zm0-6zm1 1zm1-3zm2-3zm1 6zm0-2zm1 1zm0-2zm1-2zm3 6zm1-1zm1-5zm0 3zm2 5zm0-9zm0 7zm1-7zm1 4zm0 1zm1 2zm0-7zm3 0zm3 5zm0 3zm0-5zm3 5zm1 1zm1-9zm3 1zm1 5zm1-6zm3 2zm0 4zm1-4zm3 1zm0 2zm1-4zm5 1zm0 2zm1-3zm1-1zm4 0zm1 1zm9 5zm13-3zm-13 14zm-12-3zm-31 2zm-5 5zm-2-9zm-3 6zm-1-2zm-5 0zm-1 6zm-1-8zm0 6zm-2-4zm-5-1zm0 4zm0 1zm-1 1zm-1-5zm-2-2zm0 2zm-2-4zm-1 5zm-1-4zm0 10zm-4-10zm0 0zm-4 3zm0 7zm-6-9zm-1 6zm0-1zm-4 1zm-1-3zm-1-3zm0 3zm-1-2zm-2 1zm-1 1zm-3 4zm-12 7zm5 1zm3-2zm1 2zm1-4zm0 4zm0 1zm4 5zm4-2zm1 2zm1-8zm0 6zm2-7zm0 7zm1 2zm2-4zm0 0zm2 0zm0 3zm1 0zm1 1zm3-9zm2 4zm1-5zm2 5zm0 1zm7 0zm1-4zm1 7zm0-5zm2-4zm3 7zm1-5zm2 1zm4-3zm1-1zm1 3zm2 1zm1 5zm1-5zm-10 10zm-5 2zm0 6zm0-7zm-2 6zm-4-6zm0 6zm-1-7zm-1 6zm0 3zm-1-3zm0-5zm0 1zm-2 0zm0 1zm-3 5zm-1-1zm-1-1zm0 3zm-1-9zm-1 8zm-1-9zm-7 3zm0-3zm-1 3zm0 3zm-2-4zm-1 6zm-3-4zm-4-1zm-1 3zm0 1zm-4 2zm-2-3zm-2-2zm0 2zm-3 0zm-3-1zm-1 3zm-3 0zm0 1zm-8 1zm-1 3zm1 0zm1-2zm1 5zm1 6zm0-5zm1-1zm3 4zm2 1zm0-4zm0-3zm1 7zm0-1zm1 2zm0-1zm1-9zm1 0zm0 3zm1 7zm1-11zm0 5zm1 5zm3-9zm0 8zm1-7zm1-1zm1 6zm0-5zm0 9zm1-8zm1-3zm0 0zm0 3zm1 8zm1-11zm1 5zm1 0zm1 4zm1-8zm0 4zm1 1zm0-3zm1 4zm3 1zm1 3zm0-5zm1-2zm0 2zm0 1zm0-4zm1-1zm2 2zm2 1zm3 4zm1 0zm1-3zm10-4zm2 0zm12-2zm-21 15zm-3 0zm-6-1zm-1 1zm-1 2zm-5 1zm0-2zm-2-2zm-3 3zm-1 2zm-3-2zm-1 1zm-2 4zm0 1zm-1-8zm0 2zm-1-2zm-1-1zm0 7zm-2-8zm0 4zm-2-2zm-1-1zm-1 5zm0 2zm-1-2zm-2 3zm0-4zm-1 3zm0-3zm-1-5zm-1 8zm-3-3zm-1 0zm-1-6zm-1 5zm0-4zm-1 1zm0 8zm0-8zm-1 17zm1-2zm0 2zm1 0zm1-4zm0 6zm2 0zm2-7zm1-2zm1 4zm1 6zm0-1zm1-2zm1 1zm0-6zm0 8zm1-10zm1 3zm0 1zm2 1zm5 1zm3-4zm1 8zm0-5zm2 1zm3-4zm31-2zm-35 16zm-1 0zm-2 3zm-8 3zm-3-1zm-4-7zm-1 8zm-4-4zm-2-4zm-1 20zm3-9zm0-1zm2 0zm1 5z"/>
<path stroke="#23888e" stroke-width="3.00" d="M624 299zm24 4zm0 0zm-2 8zm-1-7zm-2 6zm0 1zm-1-9zm-1 3zm-2-4zm0 7zm0 0zm0 3zm0-4zm-1 4zm-5-3zm-3 1zm-5 2zm-1 0zm-6-10zm-25 1zm-1-2zm-4 2zm-13-2zm6 21zm2 2zm5 0zm5 0zm13-11zm8 7zm1-3zm1 2zm0 1zm1-7zm0 1zm1 2zm1 4zm1 2zm0-1zm0-4zm2 2zm0 1zm1-5zm1 3zm0-3zm0-1zm0 0zm1 5zm1-1zm1-5zm0 0zm1 2zm0 2zm1 1zm2 0zm2-2zm0-2zm0 3zm0-4zm2 11zm2-11zm3 1zm2 0zm0 9zm2 0zm5-8zm-3 11zm-15 0zm-5 7zm0 1zm-2-7zm0 9zm0-4zm-6-2zm-1 6zm0-6zm-1 6zm0-1zm0-2zm0 2zm-3-3zm0 3zm-15-1zm-6-9zm-4 1zm0 0zm0 0zm-1 0zm0 0zm-1 1zm-3 0zm-2-2zm-1 3zm-3 5zm-1-7zm-2 2zm-1 3zm0-6zm-2 3zm0-3zm-2 2zm-1 1zm-1 0zm-4-1zm-1 1zm0 6zm-3-5zm-4 1zm0-1zm-1 1zm-5 2zm-19 8zm14-3zm6 5zm20 1zm5-6zm1 2zm3 1zm1 8zm5-5zm1 5zm1-3zm0 2zm2-1zm0 2zm0-5zm2 1zm1 2zm1-2zm2-2zm2 6zm3 0zm2 12zm0-9zm-2-2zm-2 4zm-2-3zm-8 2zm0-2zm-1 3zm-3 0zm0 2zm0-2zm-1 0zm0 4zm0-4zm-2 6zm0-7zm0-1zm-1 3zm-1 0zm0 0zm0-1zm0 2zm-1 4zm0 0zm0-7zm-4 8zm0-3zm0-4zm0-2zm0 5zm-1-5zm-2 3zm-1 1zm0 1zm-1 1zm-1-6zm-1 8zm0-4zm-1 2zm0-8zm-1 9zm-1-4zm-1 4zm-1 0zm-1 1zm0-1zm0 2zm0-3zm0 3zm-1 0zm-1 0zm0-1zm-10 1zm-1-11zm-11 4zm-12 0zm-7 2zm9 10zm2 6zm0 1zm1-2zm0 2zm0-2zm1-3zm0 5zm1-1zm0 1zm0 0zm1-2zm3 2zm1 0zm1-1zm1-8zm0 6zm1-7zm2 5zm0 3zm0-7zm1 4zm0-2zm2 6zm0-1zm0-3zm1 0zm0-4zm0 5zm2-3zm0 4zm0-5zm1 7zm1-3zm0-1zm1-4zm0 6zm0-3zm1 6zm0-3zm0 0zm1-3zm0-4zm0 1zm0 9zm1-9zm1-2zm1 0zm0 11zm0-11zm2 3zm0-2zm1-1zm0 8zm1-6zm1-1zm0 10zm1-5zm1-5zm2 7zm1-5zm0 0zm1-2zm0 4zm1 0zm1-4zm0 5zm0-5zm0 10zm3-8zm19 4zm2-7zm23 6zm15-1zm-38 10zm-2 2zm-9 2zm-7-2zm-7 2zm-3-5zm-3-1zm-1 9zm-1-9zm-2 9zm-2 1zm-1-4zm-2-5zm0-1zm-2 2zm0-3zm-2 5zm-3 2zm0-1zm-1 1zm0 0zm-1-1zm-1 2zm-1-8zm0 8zm-1 1zm-1-7zm0 0zm0-1zm-1 7zm0-7zm0 0zm0 8zm-1-6zm-1 6zm-1 2zm-1-6zm-1-5zm-1 2zm0 8zm-1-6zm-1-1zm0 8zm-2-6zm0-3zm-1 3zm0-2zm-1 3zm-1 0zm0-4zm0 9zm-1-5zm-3-2zm0-2zm-1 7zm-1 0zm0 0zm-1 2zm-1-3zm0-5zm-2 2zm-2 1zm-1-2zm-2 5zm-5-1zm-17 0zm-21 7zm14 8zm5 0zm2 0zm2-5zm1 3zm1 0zm10-1zm1 0zm0 0zm0-6zm3 5zm2-1zm1 3zm3-9zm0 7zm1 4zm0-5zm1-2zm0 0zm2-4zm3 0zm3 6zm1-4zm4 3zm0-2zm1-2zm1 2zm1 1zm0-4zm2 10zm2-10zm0 1zm2 3zm0 4zm1 1zm3 0zm3-7zm1 2zm1-1zm2-3zm3 6zm4-1zm3 2zm1-1zm1 0zm2 1zm0-5zm-12 17zm-2 3zm-2-8zm-10 5zm0-2zm-17 6zm-3-4zm0 4zm-5-9zm-4 6zm-2 2zm-1-5zm-1 4zm-1 2zm-10-1zm-6-10zm0 6zm-10 0zm-12 4zm-1 9zm2-2zm1-5zm4 8zm0-1zm6 1zm1-4zm2 7zm1-5zm3 5zm4-6zm1 4zm1 0zm1-5zm0-1zm3 7zm4-9zm0 8zm34-3zm21 3zm3-1zm-19 11zm-3-3zm-17 0zm-2-3zm-3 10zm-7-6zm-2-1zm-6 7zm-1-8zm-4 6zm-2-6zm0-2zm-1 5zm0 1zm-1-1zm0 2zm-1 0zm-3 3zm-2-3zm0-1zm-1-2zm-1-5zm-1 3zm-1-3zm0 9zm-2-9zm0 1zm-1 7zm-1-1zm0-6zm-1 2zm0-3zm-1 6zm0 2zm-1 1zm-1-3zm-1 1zm-6 2zm-2 1zm-1 0zm0-2zm-1 0zm-1-1zm0-4zm-6 8zm-4 0zm-4-6zm-7-5zm-12 11zm-9 12zm4 0zm3-10zm3 3zm0 6zm1-1zm4 0zm1-9zm0 4zm1-4zm1 3zm1 3zm2 3zm1-4zm1-3zm0 4zm0 5zm0 0zm1-8zm0 7zm1-3zm0-3zm1-4zm1 10zm1-7zm1 3zm1 0zm1-5zm1 4zm1-2zm1 3zm1 4zm0-6zm0-3zm1 8zm2-9zm1 5zm2 4zm1-7zm2 9zm1-5zm1-2zm0-3zm1 10zm1-11zm1 3zm0 7zm1-10zm1 5zm1 4zm2-2zm0 2zm1-1zm0-5zm1 2zm2 0zm2-2zm0 7zm1-10zm4 2zm3 0zm1-1zm5 1zm1 2zm0 5zm6-5zm7-2zm2 2zm9 1zm-22 7zm-8 6zm-10-6zm-1 5zm-7 6zm-2-7zm-1 0zm-3-2zm-1 1zm-4 6zm0-3zm-3-4zm0 9zm0-6zm-1-3zm0 1zm-1 7zm-4-10zm-3 5zm0-4zm0 5zm0 4zm-1-9zm-2 6zm0-3zm-1 0zm0-1zm-1-1zm-1 8zm-1-7zm0-2zm-1 8zm0-8zm0 4zm-1 0zm-1 4zm-1-3zm0-5zm0 6zm-1 4zm-2-7zm-1-4zm0 2zm-2 1zm0 8zm0 0zm-4-6zm-2 1zm0-4zm-1 0zm0 8zm0 0zm0-4zm0 5zm-3-4zm-1-2zm-2 6zm-3-3zm-1 13zm3-1zm1-2zm1 3zm3 2zm0-1zm0-4zm0 5zm1-3zm0 0zm4-7zm0 3zm2 6zm0-8zm2 0zm3 4zm1 0zm0-5zm2 8zm0 1zm3-10zm0 7zm1 1zm0-4zm1 1zm1-1zm1-3zm1 9zm1-10zm0 7zm0-7zm4 11zm1-10zm0 7zm0-5zm1 4zm0-1zm1 3zm0-6zm2 1zm0 2zm1-3zm0 7zm1-1zm1-4zm2-5zm0 8zm3-5zm1 6zm4-6zm2 2zm0 0zm2-3zm2 1zm0 4zm10 4zm21-2zm-22 13zm-19-6zm-3 6zm-2-5zm-1-3zm-1 2zm-1 6zm-3-3zm-1-7zm0 11zm-1-9zm0 8zm-1-7zm0 2zm-1 6zm-1-3zm0 0zm-1-7zm0 2zm-4-3zm0 10zm-1-2zm-2-4zm0 3zm-1-6zm-1 5zm0 1zm-1-5zm0 1zm-1-2zm-2 3zm0 6zm0 1zm-1-3zm0 1zm-1-7zm-1 5zm-2-6zm0 3zm-1 0zm-1-3zm0 2zm0 5zm-2-4zm0-3zm0 9zm0-1zm-1-7zm-1 4zm-1 3zm0-1zm0-2zm-2 4zm-1-1zm0-2zm-2-4zm-2 6zm0 3zm1 8zm0-8zm0 5zm0 1zm2 5zm1-10zm0 9zm1 1zm1-8zm1 8zm0-9zm1 7zm4 0zm1-4zm1 4zm1 2zm2-6zm3 0zm2 5zm2-5zm0-4zm1-1zm6 9zm1-3zm2 0zm0-2zm1 2zm2-6zm2 2zm5 4zm6 5zm-5 2zm-22 0zm-1 1zm0 1zm-5 2zm-1-3zm-2-2zm0 2zm-2 4zm-2-4zm-1 6zm-6-8zm-1 5zm-2-2zm6 9z"/>
<path stroke="#1f988b" stroke-width="3.00" d="M653 302zm-1-2zm-2 10zm-1-2zm0-1zm-2-2zm-1-5zm0 6zm-1 4zm-1-4zm-1-1zm-1 3zm0 0zm-4 3zm-2-2zm-5 2zm-23-10zm-19 22zm20-6zm7 1zm1-2zm2 0zm3 0zm1 2zm3-4zm2 3zm4 6zm1 0zm6-1zm2-9zm0 10zm4-11zm1 7zm1-5zm1 9zm0-4zm2 4zm0 1zm0 1zm-1 0zm-1-1zm-2 1zm0 2zm0 1zm-2-4zm-3 0zm-1 0zm-2 1zm0 5zm-1-6zm0 1zm-1 4zm0 0zm-1 1zm-1 0zm0-6zm-1 0zm0 3zm0 5zm-2-2zm0 3zm-1-1zm0-2zm-1 4zm0-9zm0 7zm0-5zm-1 4zm0 0zm-1 1zm-1-2zm0-3zm-1 3zm-1 2zm0-2zm0 3zm-1-6zm0-1zm-2 8zm0-7zm0 7zm0-3zm-1 2zm-1 0zm0 0zm-2 2zm0-4zm-1-1zm-55-4zm22 12zm2 8zm1-1zm8 2zm2-1zm1-2zm0-1zm0-2zm1 6zm13-8zm0 0zm0-3zm1 0zm0 3zm1 2zm2-3zm1-1zm2-1zm2 0zm3 5zm16 0zm-25 9zm-8 5zm-4-7zm-10 5zm-2-3zm-3 2zm0 0zm-1-4zm-1 7zm0-5zm-1 8zm0-10zm0 6zm0-5zm-2 2zm-3 2zm-3-2zm-1-2zm-2 10zm-1-6zm0 4zm-2 1zm0-4zm-2-1zm-30 2zm-2 15zm17-3zm1 3zm1-9zm7-1zm4 5zm3 1zm4-4zm6-2zm7 11zm0-5zm1 2zm2 1zm2 2zm3-1zm1 0zm2-2zm0 0zm1 1zm0-3zm5 1zm1 4zm1-1zm2-4zm1 1zm4 4zm1-6zm11 5zm0-1zm1-6zm2 4zm1 0zm1-3zm1 0zm2-4zm1 3zm2 0zm0 0zm4 0zm3 1zm12 2zm-29 10zm-1-4zm-6 0zm-2 6zm-2-5zm-2 3zm-1 5zm-2-8zm-1-1zm-1 0zm-1 5zm-3 0zm-3 1zm-2-5zm0 6zm-1-7zm-1 5zm-1-4zm-1-1zm-2 10zm0-2zm-2-8zm0 8zm-3-2zm-1 2zm-1 2zm0-4zm-1 4zm-4-1zm0-4zm-2-5zm-3 2zm-1 7zm-1-4zm-2 2zm-1-5zm-8 1zm-2 7zm-1 0zm-3 1zm-3-9zm-2 7zm-10 0zm-11-7zm-39 13zm24-1zm3 5zm4-4zm1 8zm1-7zm10 6zm1-9zm7 0zm4 10zm1-9zm9 4zm3 3zm2-4zm1 3zm2-3zm3-3zm2 7zm3-1zm1-3zm1-5zm1 7zm1-2zm2 2zm1 4zm3-6zm0 4zm7-7zm0 0zm3 0zm1 0zm0-2zm2 0zm2 1zm5 5zm0-4zm3 1zm11 4zm-8 8zm-9-3zm0 6zm-1-1zm-1 2zm-1 0zm-3 0zm-5-4zm-10 3zm-1-4zm-3 1zm-6 1zm-3 0zm-2 4zm-4 3zm-7-8zm0 3zm-1 0zm-5 1zm-4-1zm-3 5zm-12-3zm-5-2zm-1 3zm-4 2zm-32 12zm5-4zm11-2zm11 5zm4 0zm0 1zm3-5zm1 3zm3-5zm1 5zm6 1zm4-1zm1-3zm1-5zm8 7zm2-3zm0-4zm7 10zm1-11zm2 0zm0 1zm7 2zm0-2zm9-1zm0 7zm1-6zm0 6zm1-4zm2-3zm0 2zm11 4zm11 8zm-21 5zm-20-4zm-4 0zm-2 7zm-1-6zm-6 0zm-9-1zm0 3zm-9 1zm-1-2zm-1 6zm-1-7zm-2 7zm-1-4zm0 0zm-7 0zm-6 2zm-4-2zm-4-6zm-2 2zm-1 4zm-2-3zm-5 5zm-4-8zm-5 3zm-9 7zm-7-3zm-11 2zm-12 6zm7 5zm5 2zm4-3zm3 1zm1-5zm3 1zm5 4zm0 0zm2 0zm0-5zm1 3zm1 1zm2 1zm1-6zm4-3zm0 5zm2 0zm1 6zm0 0zm2-9zm2 2zm1-4zm1 8zm0-5zm2 7zm1-4zm3-2zm8-1zm3 1zm8 2zm0-5zm3 0zm5 8zm1 2zm3-3zm1-1zm2-6zm2-1zm4 3zm16 1zm-5 17zm-4-3zm-7-1zm-7-5zm-8 2zm-1-2zm-7 11zm0-3zm-3 3zm-5-3zm-1-6zm-1 9zm-2-4zm-2-6zm-6 2zm0 8zm-2-9zm0-1zm-2 10zm-2-2zm-1 0zm-1-4zm0-1zm-1 5zm-1-7zm-1 3zm-1 3zm0-2zm-1 0zm-1-1zm-2 6zm-2-11zm-2 7zm-2-6zm-1 3zm-2 1zm0-3zm-1 8zm0-7zm-4 0zm0 3zm-2-5zm-1-1zm-4 10zm-1-2zm-3-2zm-5 3zm-16-5zm-16 13zm5 3zm1-3zm10-3zm8 9zm7-1zm1 1zm0-5zm2 4zm0-1zm3-8zm0 5zm0 4zm0-10zm0 10zm3-1zm1-7zm2 5zm1-4zm2 5zm1-1zm3-7zm0 6zm1-2zm0-4zm1 0zm1 2zm1 9zm3-4zm0-6zm1 1zm0 0zm0 1zm1 8zm0-3zm2 3zm3-3zm6-3zm0 1zm2-4zm2 5zm2-6zm0 1zm0 6zm1-8zm1 9zm0-3zm1 0zm1-6zm0 3zm1 5zm4-8zm0 7zm8 2zm1-2zm2 3zm3-6zm1 1zm3 3zm2-3zm4 4zm12-8zm-17 18zm-11-5zm-3 2zm0 2zm0-5zm-5 6zm-1-5zm-3 6zm-2 1zm-2-1zm0 3zm-6-8zm0 7zm-3-9zm-4 3zm-1 1zm-7 2zm-4 4zm-1 0zm-2-1zm0 0zm-1-3zm0 1zm-2-8zm0 5zm-3-2zm-1-2zm0 2zm0 8zm-1-8zm0-2zm0 6zm0-7zm-1 10zm0-3zm0-1zm0-4zm0 7zm-2 0zm-2 1zm0-4zm-1 2zm-1-8zm-1 9zm-1-1zm-1 2zm-2-9zm0 5zm-2 5zm0 0zm0 0zm-1-5zm0 4zm0-6zm-1-2zm0 8zm0 1zm-1 0zm0-2zm-1-1zm-1-8zm0 11zm0-3zm-4-1zm-3-3zm-1 5zm-1 1zm-3-5zm-4 4zm0 0zm-5-7zm-3 4zm9 11zm3-1zm0 6zm1 1zm4-7zm2-4zm1 7zm3-4zm2 0zm1 2zm1 6zm1-8zm1-3zm0 10zm1-2zm0 3zm1-9zm2 7zm0-9zm0 11zm1-10zm0-1zm2 7zm1-7zm1 5zm2 3zm2-3zm2 4zm0 0zm0-2zm1-2zm1-3zm2 5zm0-1zm1 1zm1 3zm0-10zm2 8zm0-3zm1-2zm0 2zm1-4zm0-1zm0 3zm1-1zm0 2zm2 7zm4-8zm0-3zm5 6zm12-2zm1-1zm2 5zm10-2zm-1 9zm0-2zm-7 1zm-7-2zm-6 1zm-1 4zm-11-4zm-5-1zm-1 3zm-3 1zm-4 1zm0-3zm-3 3zm-1-1zm-3 1zm-1-1zm-1 7zm-4-10zm-3 4zm-5-1zm-1 3zm0-3zm-3-4zm0 8zm-3-4zm-1-2zm0 5zm0-6zm-6 6zm-4-5zm-7 9zm-1-8z"/>
<path stroke="#22a884" stroke-width="3.00" d="M644 310zm-24 10zm29 0zm2 4zm0 1zm-7 0zm-10 6zm-10 0zm-1 3zm-23 13zm32-5zm1 0zm10 1zm-35 28zm2 0zm1 0zm2-2zm3-5zm1 2zm1 3zm0-4zm5 4zm0 1zm0 1zm3-4zm3 1zm2 3zm1-6zm3 4zm1-3zm3 5zm2-9zm2 0zm4 9zm1-9zm1 6zm1 0zm2-8zm1 3zm0 3zm0 12zm-1 1zm-1 1zm-1-3zm0 4zm-1-6zm-4 4zm-2-1zm-1-4zm0 4zm-1 1zm0 1zm0 0zm-1-1zm-1-2zm0-3zm-3 3zm0 2zm-1-7zm0 6zm0-5zm0-1zm-1 3zm0 3zm-1-2zm-4 6zm-1-5zm-2 6zm0 0zm0-8zm-5 1zm-1 1zm-2 0zm-1 3zm-3 1zm0 1zm-2 1zm-2-1zm0 0zm-1-4zm-1 2zm-1 2zm-1 0zm-1-1zm-1-8zm-1 2zm-3 5zm0-3zm-3-1zm-1 2zm-4-4zm-15 2zm-6 12zm5-3zm3 10zm3 0zm0-5zm2 0zm0 0zm0 1zm3 0zm0 0zm1-7zm3 9zm1 2zm0-7zm1-3zm1 2zm1 4zm2-1zm3 3zm3-7zm1-2zm0 10zm1 0zm1-8zm2 5zm3-4zm3 2zm0-5zm0 4zm1 4zm1-3zm1-3zm1 9zm2-9zm0 2zm1 5zm2-6zm1 1zm1-3zm1 2zm1 0zm4 6zm1-4zm1 4zm0-8zm4 2zm1 4zm0-4zm0-1zm1-1zm2 6zm3-3zm1 7zm6-8zm3 0zm0 20zm-14-11zm-1 9zm-2-7zm-4-1zm0 9zm-7-8zm-4 8zm-2-7zm-1 1zm-1 0zm-6 3zm-7 3zm-2-1zm-7-4zm0-3zm-1 5zm-1-5zm-1 9zm-1-11zm-1 1zm-1 0zm-2 6zm-5-4zm0 4zm-2 1zm-1-8zm-4 11zm-6-1zm-5 0zm0 1zm-1-1zm-10-1zm-5-3zm-20 13zm5 3zm22-9zm9 7zm1-6zm3 3zm3-5zm0 9zm4 1zm7-8zm3 8zm2-2zm0-8zm1 10zm2-10zm2 8zm1-6zm1 3zm1 5zm0-8zm3 0zm2 8zm0 1zm7-1zm2-10zm1 3zm2-3zm5 5zm2-2zm4-3zm19 7zm-27 12zm-10 1zm0 2zm-9-4zm0 3zm-1-5zm0 5zm-1-8zm0-1zm-6 2zm-2 2zm-1-4zm-1 4zm0-1zm-3-2zm-1 8zm-2-3zm-3-1zm-1 4zm-2-3zm-1-5zm-8 9zm0-2zm-3-7zm-5 8zm-3-4zm-4 3zm-2-6zm-3 6zm-1-6zm-1 7zm-4-6zm-1 6zm0 0zm-11 0zm-36 13zm10-6zm5 7zm14-3zm4 3zm4-8zm1 1zm4-2zm0 5zm1-7zm4 7zm0-1zm1-1zm1-1zm3 7zm0-2zm1 1zm2 0zm0-6zm1 1zm2 3zm2 3zm5-7zm1-2zm2-1zm11-1zm3 3zm0 8zm4-7zm2-4zm2 4zm4-4zm2 7zm1-1zm20 0zm-39 6zm-3 7zm-10 0zm-2 3zm0-6zm-1 1zm-1 1zm-3 1zm-2-7zm-2 6zm-1-3zm-2 3zm-4 3zm-2-7zm-1 9zm0-9zm-6 3zm-1 2zm-3-1zm-3 2zm0-2zm0-6zm-3 11zm0-6zm-1 2zm-3 0zm-3-6zm-10 6zm-8 4zm-1-7zm-3 4zm-4-8zm-3 5zm-34 13zm3 3zm29-9zm5 7zm0-4zm1 3zm2-1zm2 2zm1-6zm1 8zm1-4zm9-4zm3 10zm1-10zm1 3zm2-4zm1 8zm1-1zm0 1zm6-2zm5 4zm0 1zm0-3zm0-6zm3 6zm0-8zm0 3zm1 8zm1-11zm6 8zm0 1zm0-4zm6 2zm6-5zm10 0zm14 13zm-12 5zm-10-2zm-2-1zm0 0zm-7 4zm-2-7zm-6 2zm-5 3zm-2-1zm-2-5zm-1 8zm-1-3zm-3 5zm0-6zm-1 5zm-1-3zm0-4zm-1 7zm-1-1zm-2-1zm-3-7zm-1 9zm-1 0zm-1-1zm0 2zm-1-1zm0-2zm-1-2zm-2-2zm0-3zm-1 5zm0 5zm-1-7zm-2 3zm0 2zm-1-9zm0 10zm0 0zm-1 1zm-1 0zm-1-2zm0-7zm-2 7zm0-5zm0 1zm-5 0zm-1-1zm-1 0zm0 6zm-1 1zm-3-4zm0-5zm0 9zm-2-1zm-2-1zm0-3zm0 4zm0-8zm0 3zm-1-4zm-3 0zm0 5zm-2-3zm-2 1zm-5 7zm-10-11zm-5 11zm-13-1zm-1-8zm-15 20zm28-6zm8-1zm0-1zm2 5zm0-1zm3 5zm2-1zm1-4zm1 0zm2-3zm3 2zm0 2zm1 4zm1-2zm1-2zm1-7zm1 2zm0 4zm1-5zm1 7zm0-4zm1-2zm0 9zm1-7zm0-2zm1 5zm1-5zm7 4zm1 5zm4-11zm0 7zm0-5zm0 6zm0 1zm1-4zm0-1zm1-3zm0 5zm0-3zm0 8zm1-1zm0 0zm1-9zm1 0zm0 0zm0 4zm0-5zm0 10zm2-4zm1-1zm5 3zm3 0zm2-8zm0 5zm0 2zm0-3zm3 3zm0 1zm0-3zm3-5zm0 3zm1 0zm5 0zm0 3zm1 5zm3-4zm3-2zm7 0zm2-5zm-9 14zm-13-2zm-6 6zm-6-5zm-2 3zm-1 1zm0-4zm-1 2zm0-1zm-1 0zm-2-1zm-1 2zm-5-3zm0 0zm-3 1zm-1 2zm-1 3zm-1-3zm-4 1zm0 0zm-1 4zm-1-5zm0-2zm-1 1zm0 1zm-3 0zm0-2zm0-1zm-1 0zm-1 7zm-5-7zm-1 2zm0 2zm-2-1zm-2-3zm-1 0zm-2 1zm0 4zm-2-4zm0-1zm-1 0zm-4 0zm-3 0zm-2 3z"/>
<path stroke="#35b779" stroke-width="3.00" d="M634 368zm1-4zm4 6zm11 0zm0 0zm3-4zm0-1zm1 6zm0 8zm-2-6zm0-1zm0 11zm-1-3zm-2-4zm0 7zm0-5zm-2 5zm0-5zm-3 0zm0-4zm-5 9zm-1-1zm-5-1zm-1 2zm-4 0zm-2-5zm-23 4zm2 4zm7 6zm6-3zm0 1zm2 0zm0-1zm1 4zm9-2zm1-3zm1 1zm1 4zm0-7zm1 6zm2 1zm1-3zm1-5zm1 7zm0-1zm1 0zm0-1zm2-4zm0 1zm2-2zm3 2zm1 7zm1 1zm2-4zm2 4zm1-6zm0-2zm-1 12zm0 0zm-3 1zm0 4zm-4-4zm0 1zm-1 0zm0-1zm-2-4zm-2 4zm-2 2zm0-6zm-5 9zm-2-4zm-3 2zm0 2zm0-6zm0-3zm-1 11zm-2-5zm0 5zm-3-10zm-1 3zm0-1zm-1 3zm-2-5zm0 9zm-2 1zm0-6zm-1 6zm0-1zm-1 0zm0-4zm-3 5zm-1-4zm-3 2zm-4-2zm-2 0zm0-5zm-1 7zm-1-6zm0 6zm-3 0zm-9-4zm-1 2zm-26 15zm8-4zm5 3zm12-2zm1-4zm2 5zm6 2zm4-8zm0 4zm2 4zm2-6zm0 5zm1-5zm1 3zm3 3zm2-10zm0 1zm0 4zm1-4zm0 8zm2 0zm3-7zm2 2zm0 7zm1-7zm3-2zm1 2zm0 2zm1 2zm1-6zm2 6zm0-3zm0 5zm1-4zm2 4zm2-3zm0-5zm1 9zm2-6zm1 2zm1 4zm0-3zm1 1zm1-2zm1-7zm1 7zm1 0zm2 1zm2 1zm1-9zm0 3zm0-3zm1 3zm4-1zm1 1zm0-3zm2 6zm-1 7zm-20 3zm-3 0zm-3 1zm0-3zm-2 0zm0 5zm-1 4zm-2-4zm0-1zm-1 2zm-1-2zm-4-5zm-3 3zm0-2zm-4 6zm0 3zm-1 0zm0-3zm0-6zm0 3zm-1 2zm-1-5zm-2 3zm0-3zm0 4zm-4 3zm0-6zm0 4zm0-5zm-2 2zm0-2zm0 3zm0-1zm-1-1zm-1 1zm-1 5zm-3 2zm0-2zm-1-3zm-6 2zm-3-5zm0-2zm-5 5zm-7 5zm-20 0zm5 10zm10-5zm3 6zm2 1zm5-2zm2 1zm0-7zm2-2zm3 9zm1-9zm2 6zm2-4zm1 2zm1 0zm0 5zm1-2zm1-6zm4 1zm2 8zm0-7zm8 5zm1-6zm11 2zm1 0zm3 1zm8-6zm12 2zm-37 12zm-7 0zm-8 6zm-1-5zm-2 8zm-3-1zm-1 0zm-3-1zm0-6zm-1 5zm0 2zm-1-6zm-1 4zm0-5zm-1 3zm0-6zm-1 9zm0-2zm-1-4zm-1 6zm-2-5zm-1 1zm-1 1zm-2-1zm-1 5zm-3-5zm-1 5zm-1-3zm-1 0zm-2-3zm-2-4zm-1 7zm-3-1zm-4 2zm-1-8zm-3 8zm-1 2zm-2-2zm-37 10zm27 1zm3-3zm2 4zm11-4zm4 3zm2 1zm3-3zm4 4zm1-1zm0-5zm0 5zm1-1zm1 2zm4-5zm3 2zm1-2zm0-1zm20 6zm-4 10zm-18-1zm-2-3zm-3 6zm-2-8zm0 1zm-2-2zm0 9zm-3-5zm-2 3zm-1 3zm0-4zm-1-3zm0-3zm-1 7zm0-2zm-2 4zm-4-3zm-2-1zm-1 2zm-2 4zm-1 0zm-1-5zm-3 3zm-3-1zm0-8zm0 3zm0 6zm-1-7zm-1 5zm0 4zm-1 0zm-1-6zm0-2zm0 1zm-3-3zm-5 10zm-5-2zm0 2zm-1-2zm-2-7zm0 7zm-1-3zm-8 1zm-6 4zm-7-11zm-2 10zm-3-9zm-2 4zm-14 17zm2-4zm7 2zm5-6zm5 4zm4 3zm0-5zm1-3zm2 4zm1-2zm0 5zm0-5zm1 6zm0-2zm3 2zm2 1zm0-1zm0-9zm1 4zm0 1zm0 2zm0-4zm1-2zm0 0zm4 8zm2 2zm0-3zm1 0zm0-2zm2 5zm0-11zm0 11zm2-6zm0-3zm2 6zm0 3zm1-1zm0-5zm4 5zm1-8zm2 8zm1-1zm0-7zm3 5zm1-4zm1 6zm2-9zm3 3zm0 7zm2 1zm4-9zm1 4zm1-6zm0 4zm2 0zm1 1zm1-1zm3 3zm5-6zm0 1zm5-1zm5-1zm2 12zm-7 1zm-5 1zm-11-2zm-1 0zm-2 0zm-7 4zm-4 0zm-3 0zm0 1zm-3-5zm-2 4zm-2-2zm-1 2zm-4 2zm-2-3zm0-1zm-1 1zm0 0zm-1-3zm0 0zm-4 2zm-2 0zm-1 0zm-1-1zm-1 7zm-5 3zm0-8zm-2 4zm-1 0zm-1-1zm0-3zm-2 3zm-4-2zm-1-2zm-3 1zm-1-3zm-4 2zm-1 5zm-4-4zm-1 1zm0 1zm-2-5zm-2 3zm-12 3zm-12-1zm60 7z"/>
<path stroke="#54c568" stroke-width="3.00" d="M653 381zm-32 14zm17-2zm11-1zm4 2zm0-3zm0 11zm-3-3zm-3-2zm-3 10zm-6-9zm0 3zm-4 5zm0-3zm-10 2zm-16 13zm5 0zm1-1zm4-5zm3 4zm6 2zm5-4zm1 4zm1 0zm1-8zm4 6zm0-7zm3 5zm2 1zm1 1zm1 1zm1-5zm0-1zm0 8zm2-2zm2 1zm1-2zm0-3zm1 3zm2-6zm-3 11zm-1 10zm0 0zm-1-5zm-1-5zm0 1zm-1 0zm-3 7zm-1-7zm0 6zm-2 1zm-1-5zm0 3zm-1 4zm-2-10zm-2 5zm0-6zm-4 6zm-1-3zm0 4zm-1-3zm-2 1zm-2-2zm0 1zm-4 0zm0-2zm-1 0zm-1 2zm-4 3zm-1-4zm0-1zm-1 7zm-1-6zm-6 7zm-20 12zm4-3zm0 0zm1-3zm1 2zm0 2zm2 0zm0-2zm1-1zm0 2zm1-3zm0-2zm1-2zm0 9zm0-4zm2 6zm1-7zm1 5zm3-4zm0 6zm0-7zm2 0zm0 2zm3 4zm0-6zm1-1zm0 3zm2-2zm1 1zm0 1zm1-5zm2 0zm0 3zm1-3zm0 4zm2 1zm0-6zm1 3zm1 5zm0-2zm0 1zm1-2zm0-2zm3 0zm2-3zm2 5zm0-4zm2 2zm3-2zm2-1zm4 4zm0-2zm1 0zm2-1zm4 1zm0 1zm1-2zm4 5zm-23 8zm-5-1zm-1 10zm-3-2zm-6-2zm0-7zm-5 7zm-3 2zm-1-5zm-2-2zm0 9zm0-4zm-2 1zm-4-8zm-2 1zm0 10zm-1-8zm-2 7zm0-6zm-1 0zm-2-3zm0 4zm0-4zm0 4zm-1-2zm0 1zm-1-1zm0 7zm-1-10zm-2 2zm-2 5zm0 0zm-5-3zm-1 3zm-2-2zm-2 1zm0-4zm-20 16zm6 5zm0-5zm2 5zm3-1zm0-2zm9-5zm0-2zm2 6zm1 4zm1-7zm0-2zm2 5zm2-4zm3 2zm2-3zm8 8zm0-9zm0 4zm1 0zm2-5zm1 5zm3 4zm9-7zm4 7zm1 2zm17 0zm-12 2zm-8 3zm-4 1zm-5-5zm0 5zm-1-4zm-2 8zm-2-5zm0 1zm-6-5zm-2 2zm-2 4zm-3 3zm-3 1zm-1 0zm-4-1zm-4-1zm0 2zm0 0zm-1-3zm-2-1zm-1-3zm-3 8zm0-1zm-1-6zm-1-1zm-1-3zm-1 8zm0-2zm0 2zm-1 0zm-5 2zm-4-3zm-3 4zm-2-8zm-2 8zm-10 0zm-30 9zm0-6zm13 3zm12 0zm0 3zm1-7zm4 6zm6 1zm0-2zm2 4zm2-6zm0 4zm2-2zm1-4zm1 4zm1-1zm1 4zm1-6zm0 4zm0-4zm2 4zm4 3zm3-1zm1-9zm0 7zm2-7zm1 4zm2 1zm2-3zm1 5zm1 3zm2 1zm1-10zm1 9zm2-5zm1 0zm1 4zm1-9zm1 2zm0 0zm0 0zm4-2zm1 11zm3-1zm14-3zm8-1zm14-3zm-44 10zm-6 5zm0-6zm-9 3zm-1 0zm-2 1zm-6-2zm-2-2zm-1 3zm-3-3zm0 1zm-1-1zm-1 2zm-2 7zm-1-3zm-1 1zm-6-5zm0-2zm-9 5zm0 0zm-5-4zm0 1zm-8-2zm-8 11zm-1-11zm-24 3z"/>
<path stroke="#7ad151" stroke-width="3.00" d="M652 429zm-1 1zm-1-7zm-2 8zm-2-5zm-1 3zm-1 2zm-2-3zm-1 0zm-1-7zm-1 9zm-40-2zm-7 13zm4-1zm0 3zm1-7zm2 0zm5 0zm2 7zm2-7zm1-1zm3 5zm2 2zm1-3zm4 3zm0-3zm2-2zm0-3zm2 2zm0 4zm0-3zm0 1zm1 3zm3-1zm1-2zm5 1zm1-5zm0 6zm0-1zm4-3zm1 5zm1-2zm0 0zm0-4zm0-1zm1 0zm2-2zm0 4zm0 4zm1 1zm2-6zm1 5zm2-8zm0 11zm1-8zm0 3zm1 5zm1-11zm1 2zm-3 15zm0-3zm-4-1zm-4 1zm-3 1zm-5-2zm-1 0zm-1 3zm0 5zm-1 0zm-3 0zm-2-2zm-3-7zm-1 2zm-2 4zm-1-6zm0 1zm0 2zm-1 2zm-1-5zm-1 8zm0-8zm-1 9zm-2 1zm-1-9zm-1 2zm0 2zm0-1zm-1 7zm-2-3zm-1-3zm-1 5zm-1-8zm-1 1zm-1 1zm0 4zm0-1zm0 3zm-1-9zm0 4zm-2-5zm-1 0zm-1 2zm-4 0zm-2 5zm-3-2zm-2 2zm-1 4zm-1 2zm3 4zm0 5zm0-7zm0-2zm3 4zm2 0zm0-2zm2 3zm1-3zm0 5zm0-8zm1 5zm5-1zm0 6zm1-5zm0 3zm1-6zm2 7zm2-7zm2 0zm0 6zm4 1zm0 0zm1 0zm0-4zm2 4zm1-6zm0 1zm0 4zm2-4zm1 5zm4-3zm1-5zm0 7zm0-5zm2 1zm2 3zm2-6zm3 6zm2-2zm1 0zm0 4zm1-5zm3-3zm2 10zm2-4zm6-5zm-3 17zm-1 2zm-12 0zm-5-5zm-8 4zm-2-5zm-1 7zm0 1zm0-9zm-3 5zm-1 0zm-1 3zm-2 1zm0-6zm-1-2zm0 7zm-1-4zm0-2zm-1 6zm-1-8zm-1 3zm0 2zm-1-2zm0-5zm-3 10zm-1-3zm-3 1zm-1 3zm0-5zm-1-3zm0 0zm0 4zm-1-2zm0-1zm-1 4zm0-1zm-3-1zm0 5zm-1-9zm0 5zm0-2zm-1-5zm-1 9zm-1 0zm0-1zm-1 2zm0-3zm0-5zm-1 7zm0-4zm0 2zm0-1zm-4 5zm-1 0zm-3-5zm-13 2zm-6-6zm-15 21zm4 0zm6-8zm11 5zm1 2zm1-10zm0 3zm3 7zm1-4zm2 5zm2-9zm1 9zm0-3zm1-8zm2 0zm1 5zm0 1zm3-3zm1-3zm0 0zm0 7zm0-1zm1-1zm0 0zm4 4zm0-9zm1 8zm0-2zm1-2zm0-2zm3 8zm0-1zm1-4zm2 5zm0-6zm0-4zm0 3zm4 0zm2-1zm1 7zm1-5zm1-1zm2 8zm0-3zm1-4zm4-3zm1 1zm1 2zm7 1zm1-5zm1 10zm2-10zm6 2zm14-2zm-24 13zm-14 8zm-10-5zm-2-4zm-1 2zm-4-1zm-1 2zm0-3zm-3 5zm-3-1zm-4-4zm-2 3zm0 0zm-1 7zm-1-8zm0-2zm-3 5zm-4 0zm-3 5zm-11 1zm-7-7zm-5-3zm-2 5zm-6-6z"/>
<path stroke="#a5db36" stroke-width="3.00" d="M653 431zm-30 9zm0-5zm3 0zm2 5zm4 1zm2 1zm7-1zm1 2zm0-6zm3 5zm1 0zm1-2zm1 2zm0-3zm0-3zm1 3zm1 4zm1-6zm0 1zm-1 15zm-3 1zm0-2zm-1 3zm-2-10zm0 8zm-1-5zm-1 1zm-1 0zm-2 4zm0 1zm-2-4zm0 0zm-1 4zm0-10zm-2 7zm-1 0zm-4-5zm0 3zm-4 5zm-1-1zm0-3zm-1 4zm-5-4zm-1 1zm-6 4zm-6-2zm-1-6zm-17 19zm0-7zm9 6zm4-6zm2-2zm0 5zm3-5zm1 10zm0-6zm2 2zm1 2zm0-6zm1 7zm5-2zm3-8zm3 2zm3 7zm1-6zm0 2zm1 2zm1 1zm0 3zm1-3zm0 2zm0-6zm0 5zm1-3zm1 4zm1-6zm0-4zm1 8zm0-8zm0 11zm0-11zm1 8zm1 1zm0-1zm1 1zm0-8zm1 1zm1 1zm1 0zm1 1zm0 7zm1-5zm2-1zm1-3zm0 5zm0-7zm1 1zm0-1zm1 2zm0-2zm0 2zm0 3zm1 6zm1-8zm0 6zm2-3zm2-5zm0 7zm2-3zm1 13zm-1 0zm-7-3zm-2-3zm0 5zm-2 0zm0 5zm0-2zm-2-2zm0-1zm-1 6zm0-9zm-1 6zm-2-3zm-2-3zm0 1zm-1 7zm-1-3zm-1-3zm-1 1zm0 0zm-1 2zm-1-2zm-1 0zm-1 2zm-1 4zm0-1zm0-4zm-1 3zm-1-8zm-1 2zm-2 8zm0-2zm0-4zm-2 4zm0 2zm-1-2zm-3-3zm0-3zm-1 3zm0-3zm-1-2zm-1 8zm0-1zm-2-4zm0-1zm0 8zm-2-7zm-1-2zm-3 8zm-1 0zm-1-8zm-1 6zm-1-2zm-1-4zm-1 2zm0 7zm-1-9zm-1 5zm-2 4zm-6 12zm1-7zm0-1zm1 8zm0-1zm1 0zm2-1zm0 1zm1-8zm0-2zm3 4zm1 6zm1 0zm3-1zm0-4zm3-2zm2 6zm1 1zm1-3zm0 1zm0-3zm1-3zm0 7zm1-6zm0-3zm2 4zm1 3zm2 1zm0 0zm1-6zm1 3zm2-3zm1-1zm2 5zm1 4zm0-6zm0 0zm1 6zm1-8zm0 5zm0-4zm2 5zm0-8zm1 0zm0 2zm4 6zm0-1zm1 4zm4-1zm0-10zm0 7zm2-1zm3-2zm1 7zm6-7zm0-2zm1 13zm-2-3zm-2 0zm-3 1zm-2-1zm-2 4zm-2-1zm-3-1zm-4 2zm-3-3zm0 2zm0 5zm-2-1zm-1-4zm-4-3zm-4 4zm-2 3zm-2-6zm-4 4zm-1-3zm-1 0zm-1-1zm-2 1zm-3 5zm0-4zm0 1zm-2 1zm0 0zm-2-4zm0 0zm-5 2zm0 3zm-1 0zm0-2zm-4 5zm-2-3z"/>
<path stroke="#d2e21b" stroke-width="3.00" d="M647 454zm-3-6zm-2 5zm-13 12zm0-1zm1-1zm3 1zm1-7zm4 3zm2-4zm3 4zm1 6zm2 1zm3-8zm3 1zm2 8zm-2 4zm-2-1zm0 1zm-2 0zm0-2zm-1 2zm-1 4zm0 0zm-5-1zm-1-7zm-4 7zm-1 2zm-3-3zm0-1zm-4 3zm-1 3zm0-2zm0-9zm-2 11zm-3-2zm-1-5zm0 3zm-12-1zm-22 8zm22 0zm8 9zm3-5zm1 1zm2 4zm1 0zm6-2zm1-6zm0-3zm1 1zm2 8zm0 2zm2-4zm0 1zm0-5zm5 8zm2-3zm0 1zm0-9zm1 7zm1 2zm0-7zm1 8zm1-10zm0 2zm0 4zm0-4zm1 7zm1-7zm0 2zm3-4zm0 7zm0-3zm2 5zm-1 4zm0 1zm-4-1zm-1 1zm-3 5zm-1-4zm-1-2zm-2 5zm-5-3zm-2 3zm-5 1zm0-4zm0-1zm-1-1zm-1 1zm-1 2zm-2-4zm0 4zm-2-1zm-1-3zm-1 6zm-4 2zm0-4zm-7 2zm0-4zm-2 2zm0 0zm-2 1zm-2 1zm-1-3zm-1 1zm-3-2zm-4 0zm-9 1z"/>
<path stroke="#fde725" stroke-width="3.00" d="M639 463zm13 5zm-3 9zm-5-3zm-2 2zm-17 9zm11 6zm5 0zm8-5zm4-2zm1 9zm-2 1zm0 4zm-1-3zm-1 3zm-1-6zm0 3zm-1 4zm0 1zm-1-6zm-4 5zm-10-7zm-1 6zm-1-1zm-6-1zm-4 1zm-5-2zm-10-2z"/>
<path stroke="#31688e" stroke-width="2.24" stroke-opacity="0.80" d="M492 103zm20-5zm-44 32z"/>
<path stroke="#2a788e" stroke-width="2.24" stroke-opacity="0.80" d="M503 82zm0 1zm5 0zm-9 14zm0-1zm12 2zm4 0zm-26 39zm-42 25zm-9 8zm4 5zm-10 5zm-8 9z"/>
<path stroke="#23888e" stroke-width="2.24" stroke-opacity="0.80" d="M519 51zm-16 31zm5 1zm8-2zm11-5zm36 15zm-32-6zm-8 3zm-12-2zm-3-2zm-11 9zm-2-6zm-1 4zm-6 10zm0 1zm11-5zm0-1zm0 0zm0 1zm4 7zm12 1zm21 2zm9 5zm-5 5zm-7-9zm-13 0zm-15 4zm-5 0zm-5 1zm-19 18zm11-2zm0-8zm29-1zm39 5zm-34 10zm-28 4zm-17-7zm-3 10zm31 4zm-40 21zm-17-6zm0 0zm-9 9zm0 3zm11-5zm3 6zm15 15zm-8-7zm-11 5zm-11-6zm-5 5zm-2-2zm-6 5zm2 9z"/>
<path stroke="#1f988b" stroke-width="2.24" stroke-opacity="0.80" d="M542 83zm24 10zm-4-2zm-14-4zm-11 4zm-8-6zm-1 1zm-1 8zm-26-2zm13 9zm1 4zm1-3zm0 0zm2 4zm3 0zm2-8zm4 5zm1-5zm5 9zm28-3zm3-4zm-5 9zm-1 10zm-2-1zm-4-2zm-8 0zm-9-7zm-26 8zm-4-7zm15 14zm8-1zm5 1zm4 1zm2 5zm5-4zm7 5zm5-5zm-4 11zm-1-3zm-24 5zm-45-5zm5 21zm1 0zm2-5zm5 2zm43-8zm-23 21zm-19 0zm-12 2zm-1 0zm-7-11zm-9 5zm0 0zm0 0zm-14 0zm-1 2zm-14 10zm7 3zm0-3zm1-1zm0 4zm15 2zm6-6zm10 0zm4-1zm1 0zm4 0zm-7 16zm-12 2zm0-8zm-2 2zm0 0zm0-3zm-5 3zm-1 4zm-1-7zm0 1zm0 3zm-5 5zm-1-8zm-2 4zm-2 0zm-5 1zm-2-2zm-4-3zm0 0zm0 0zm0 0zm-5-1zm-9 12zm0 0zm2 5zm1 2zm12-3zm46 4z"/>
<path stroke="#22a884" stroke-width="2.24" stroke-opacity="0.80" d="M532 94zm-20 11zm3-1zm0 1zm0-1zm14 3zm2 0zm18-4zm5 4zm1-9zm19 11zm-8 3zm-7 7zm-2-1zm-6-7zm-3 6zm-2-3zm-7 5zm-2 0zm-1-5zm-6 5zm-1-10zm-1 1zm-3 1zm-1-2zm-13 0zm-4 5zm0-1zm-17 15zm28-8zm3 2zm1 7zm1-6zm5 2zm0 6zm4-6zm7 1zm0 2zm4 3zm0 0zm24-5zm-3 8zm-2 8zm-6-6zm-15-3zm-8 10zm0 0zm-3-5zm-6 3zm-27-1zm-12 6zm5 9zm4-8zm2-1zm7-1zm6 9zm25-9zm8 1zm4-1zm9 3zm-29 18zm-9-4zm-2-1zm-6 2zm-6-2zm-7 3zm0-7zm-1 8zm-4-2zm-3-5zm-3 0zm-6 8zm-4-10zm0 0zm-1 0zm-2 7zm-5-2zm-21 17zm0 1zm16 0zm3-1zm1-10zm8 0zm1 8zm0-1zm2-3zm1-2zm11 0zm11 4zm1 5zm5-8zm0-3zm3 0zm0 11zm10-7zm7 3zm0-1zm2 3zm-2 9zm-17 1zm-2-2zm-5 5zm-1 0zm-7-10zm-5 10zm-15 0zm-5-7zm-7 0zm0 2zm-2 1zm-1-3zm-1-2zm-5 10zm-2-5zm0-5zm-1 5zm0-3zm0 3zm-10-3zm-10 1zm18 13zm21-3zm2 3zm2-4zm9 6zm0-2zm12-5z"/>
<path stroke="#35b779" stroke-width="2.24" stroke-opacity="0.80" d="M531 107zm51 12zm-12-5zm-42 1zm-15 12zm5-2zm10-5zm15 1zm2 1zm17 7zm11-4zm17 18zm-9-7zm-4 6zm-20-7zm-3 5zm-4-1zm-8-1zm-22 1zm-4-2zm-5 5zm-12-9zm-2 4zm-1-5zm-6 19zm0 0zm0 0zm2 0zm3-6zm6 10zm21-8zm16 0zm17-1zm6 7zm17-4zm5 1zm-9 9zm-10-2zm-5 3zm-12 0zm-1 6zm-1-5zm-10 1zm-13-6zm-3 6zm-1 2zm-7-5zm0 0zm-1 0zm0 0zm-9 6zm-3-7zm-1 5zm0-1zm-2 0zm0 5zm-7-9zm-4 0zm0 9zm-1-1zm-21 13zm16-8zm10 8zm19-5zm7 5zm1-9zm0 6zm2-3zm3-3zm0 6zm2-5zm3 4zm2 1zm10 3zm4-5zm1-5zm16 16zm-2-1zm-25 7zm-14-8zm-5-2zm-1 6zm-5-3zm-10 0zm-2-4zm-3 3zm0 0zm-2 7zm-2-1zm-2-1zm-20 4zm10 5zm7 2zm17-5zm15 0z"/>
<path stroke="#54c568" stroke-width="2.24" stroke-opacity="0.80" d="M535 119zm-8-5zm-32 16zm17-2zm0 1zm7-2zm4 0zm0 0zm3 1zm3-4zm1 2zm2 4zm3 1zm0 0zm62 6zm-13 5zm0-4zm-1 2zm-4-2zm-7 5zm-5-8zm-1 6zm-3-9zm0 7zm-2-6zm-2 2zm-6 1zm-10 4zm-3-2zm-2 1zm0 0zm-1-6zm-3 9zm0 0zm-4-4zm-1-5zm0 6zm-2-2zm-1 4zm-1-2zm0 4zm-2-11zm-2 0zm-4 3zm-3 5zm-2-2zm-4 5zm0-4zm-9-6zm0 0zm-1 9zm-10 13zm2-4zm10-2zm7-5zm0 0zm1 0zm1 2zm2 0zm1 2zm1 5zm1-5zm1-1zm3 8zm5-1zm1-8zm2 5zm3-7zm5 2zm1-1zm1 9zm3-1zm7-3zm2-2zm2-3zm1 9zm3-1zm3-7zm3 7zm0 0zm3-3zm5-5zm5 5zm4-3zm9-1zm3 1zm9 8zm5-5zm3 4zm-22 3zm-14-1zm-8 10zm-2-9zm-2 1zm-12 0zm0 2zm-4 0zm-3 0zm0 4zm-4 2zm-4-6zm-6 0zm-3 2zm-1 5zm-5-8zm-12 5zm-3 1zm-13-8zm0 1zm21 21zm6-2zm3-8zm7 9zm15-10zm3 2zm4 2zm5-2zm10 4zm2-3zm13-3zm-15 16zm-9-2zm-12 8zm-37-6zm-6 5zm0-8zm-1 8zm-19-3zm-9-5zm43 12zm42 10z"/>
<path stroke="#7ad151" stroke-width="2.24" stroke-opacity="0.80" d="M511 129zm11-2zm1 0zm2-7zm1 8zm5 1zm5 2zm1-6zm0 6zm5 0zm2-11zm0 9zm43 14zm-11-3zm-3 2zm-1-6zm-4 1zm-3-2zm-4 7zm-1-8zm-6 1zm-3 6zm-1-3zm-1 5zm-1-6zm-1 0zm-4 3zm0-5zm-3-1zm-1 9zm0-2zm-2-6zm-2 6zm0-9zm-1 10zm-1-10zm-8 10zm-14-2zm-4 1zm-8-8zm-5 12zm1 5zm6 0zm3-5zm0-1zm4 0zm1 11zm7-11zm2 0zm0 0zm1 2zm0-1zm5 9zm3-1zm9-6zm2 1zm0 5zm1-1zm2-7zm12 6zm2-4zm2 4zm0-6zm0 2zm3 3zm3 5zm1-4zm5-7zm8 11zm7-7zm8-4zm1 1zm2 5zm9 17zm-12-5zm-3 3zm-3-6zm0-1zm-1 2zm-2-1zm-3 2zm-2 0zm-2-5zm-5 10zm-1-10zm-1 4zm-5 1zm-3 1zm-7-3zm-4 2zm0-4zm-2 5zm-1 2zm-2-5zm0-1zm0 9zm0-6zm-1 1zm-1 0zm-2-6zm-2 8zm0-3zm0-3zm-6-2zm-2 3zm-3 2zm-1 1zm-5-1zm-2 5zm-9-8zm-1 5zm-3 3zm-2-7zm-2 0zm-4-2zm-4 5zm0-1zm-1 0zm-1 4zm20 4zm1 4zm9-3zm2 5zm2-3zm1-2zm2 1zm3 1zm1 3zm2-1zm1 2zm3-1zm4-6zm6 6zm10 4zm9-1zm0-8zm3 1zm2 5zm1 1zm0 0zm4-8zm1 0zm7 3zm26 4zm-33 5zm-2 10zm-2-3zm-16-5zm0 7zm-8-10zm-4 4zm-6 6zm-2-6zm-1 0zm-1-4zm-2 11zm-9-7zm-22-1zm-11 4z"/>
<path stroke="#a5db36" stroke-width="2.24" stroke-opacity="0.80" d="M523 131zm3-10zm0 5zm4 5zm2-1zm1 0zm64 13zm-10 0zm-21 0zm-3-10zm-21 7zm-13-4zm-4 6zm-9-6zm-22 14zm11-6zm6 9zm2-9zm10 10zm4-3zm3-6zm1 6zm9 2zm0-9zm1 0zm0 9zm12-2zm2-5zm0 7zm8-1zm1-2zm0-1zm1 6zm6-7zm1 7zm1-8zm0 2zm3 2zm2-5zm2 9zm2-9zm4 6zm1-3zm2-3zm7 5zm10 16zm-2-2zm0-4zm-3 3zm-2 0zm-4 0zm-3-3zm-5-1zm-2 0zm-1 5zm-3 0zm-7 1zm-3-6zm-1 6zm-3-9zm-2 6zm-3-7zm-1 9zm0-9zm-6 3zm-1-3zm-1 6zm0-3zm-1-1zm-3-1zm-4 3zm-5 5zm0-1zm-2-6zm-5 0zm-1 2zm-7 7zm-4-2zm-2-1zm0 1zm-2 0zm-2-8zm-2 2zm-2-1zm-1 5zm-1-2zm-1 5zm-1-7zm-1 0zm-1 5zm-1 1zm-1-2zm-6 0zm0 0zm0 0zm-1 3zm-1-5zm0 0zm0 0zm12 14zm2-7zm2 1zm4 6zm0 1zm1-5zm4 0zm3 7zm2-4zm3 1zm2 1zm1 1zm0-1zm0 3zm1-3zm2-3zm0-2zm5 4zm5-7zm3 3zm2 6zm1 0zm0-3zm9-5zm1 2zm2-2zm2 6zm0-5zm1 3zm1-1zm0 0zm2 2zm7-6zm11 6zm6 4zm12-10zm8 5zm1 3zm0 1zm3-3zm2 9zm-13-2zm-5 1zm-2 2zm-8 3zm-11-7zm-3 9zm-2 0zm-14-5zm0 5zm-4-9zm-1 2zm-1 1zm0 3zm0-6zm-2 1zm0 7zm-5-7zm-2 3zm0-4zm-4 4zm-1-1zm-23-3zm51 13zm6 2zm4 5zm10-3z"/>
<path stroke="#d2e21b" stroke-width="2.24" stroke-opacity="0.80" d="M526 128zm5 10zm-4 4zm0 0zm0 0zm-8 11zm10 0zm2-4zm3-5zm3 10zm1-10zm1 3zm3 7zm3-2zm20 3zm1-3zm5-3zm3 3zm2-5zm18 2zm12 17zm-1 1zm-11-6zm-1 6zm-7-4zm0-5zm-2 7zm0 1zm-2-8zm0 8zm-4-3zm-5 0zm-1 3zm-2-7zm-4-3zm-5 7zm-3 4zm-1-5zm-5-2zm-1 7zm0 0zm-2-6zm-6 5zm-2-3zm-5-4zm-7-3zm-4 8zm-7 0zm-2-1zm0-2zm-4-2zm-1 1zm0-2zm0 1zm-2 2zm-12 2zm-3 1zm-1 1zm25 6zm2 1zm0-1zm6 8zm1-4zm10-6zm0 0zm0 9zm0-9zm4 2zm6 5zm1 1zm2-8zm3 7zm10-4zm4 5zm2-6zm2 7zm1-8zm2-2zm3 10zm3-6zm1 7zm3-11zm2 6zm0 0zm0-6zm7 5zm4 0zm4-3zm5 2zm2 7zm4-10zm0 8zm6-6zm6 12zm-1 5zm-4-8zm-4 0zm-3 10zm-2-4zm-4 0zm-2-3zm0 6zm-2-3zm-2 0zm-2-3zm-2-1zm-3-2zm-2 5zm-1 6zm-5-7zm-2 0zm-6 5zm0 0zm-2 0zm-3 2zm-3-1zm-2-2zm-1-2zm0-5zm-3 4zm-2-1zm-13 3zm-12-5zm64 11zm8 1zm5-1zm0 0zm1 4zm14-1z"/>
<path stroke="#fde725" stroke-width="2.24" stroke-opacity="0.80" d="M520 154zm4-1zm1-2zm11-6zm3 10zm7-6zm5-1zm9 7zm32 11zm-2-7zm-5 8zm-6-2zm0-9zm-15 8zm-4-1zm-2-3zm-5 5zm-2 1zm0-10zm-9 1zm-1 4zm-3-1zm0-3zm-1 0zm0 4zm-2-2zm0-1zm-1 0zm-23 0zm0 3zm0-3zm30 20zm2-7zm3 3zm9-2zm0-1zm1 3zm5 1zm2-7zm1 7zm2 2zm2-4zm1 6zm7 0zm0-1zm3-3zm0-7zm5 11zm2 0zm18-9zm11 6zm7 3zm6 3zm-2 3zm-7 4zm-2-9zm-1 0zm-1 0zm-1 9zm-4-1zm0-5zm-5 3zm-3 0zm-1-5zm-5 1zm0 5zm-2 2zm0-8zm-2 5zm-1-6zm-8 3zm-9 1zm-4 5zm-3-9zm11 16zm20-1zm9-3zm3 0zm4 0zm4 4zm1-3zm0 1zm2-1zm1 3zm1-2z"/>
<path stroke="#414487" stroke-width="2.24" stroke-opacity="0.84" d="M474 81zm31 8zm-34 15zm6 3zm2-3zm-14 5zm-1 1zm-8 4z"/>
<path stroke="#39568c" stroke-width="2.24" stroke-opacity="0.84" d="M491 65zm-3 4zm-1-4zm-1 0zm-2 0zm-11 16zm1 0zm0 0zm0 0zm29 5zm-1-1zm-7 9zm-1-2zm-2-4zm-1-4zm-10 7zm0 0zm0 0zm-5-1zm-8 3zm-8 14zm5-1zm1-3zm1 0zm2 3zm2-2zm11-5zm0 9zm-2 5zm-6 3zm-1-5zm0 0zm-9 4zm-5-3zm0 6zm-4-10zm-15 23zm11-8zm-3 16zm-10-6zm-10 14zm13 8zm1-11zm2 5zm-39 27zm52 3z"/>
<path stroke="#31688e" stroke-width="2.24" stroke-opacity="0.84" d="M533 47zm-2 0zm-9-5zm-1 0zm7 9zm3-1zm4 0zm21 16zm-8 3zm-5 1zm-2 0zm-1-3zm-1 1zm-8-8zm0 3zm-14-2zm-10 1zm-16 5zm-1 1zm-1 0zm-3-3zm-6 15zm26-1zm12 11zm-3 1zm-2 3zm-2-2zm-6-1zm-10-1zm-4 2zm-1 0zm-9-1zm0-1zm-21 17zm3 0zm13-11zm0 0zm1 11zm2-10zm4 2zm11 2zm-12 15zm-5-2zm-9 2zm0 0zm0 1zm-5 1zm-4-6zm27 16zm6-5zm46-3zm-61 16zm-41 5zm0 2zm-9 4zm5 5zm10-6zm0 5zm0-1zm19-3zm61 0zm-68 12zm-8 4zm-1-6zm-10 3zm-3 5zm-4-7zm-2 8zm-20 10zm3-4zm1 0zm0-1zm0 1zm0 0zm7 4zm2 2zm1-10zm2 0zm8 7zm0-4zm7 3zm0 0zm8 0zm1-1zm8-2zm-25 12zm-6 2zm-5-5zm-11 17z"/>
<path stroke="#2a788e" stroke-width="2.24" stroke-opacity="0.84" d="M528 44zm-2-7zm-1 6zm-4-1zm10 9zm6-2zm8 4zm5 5zm17 8zm-6-2zm-17-4zm0 7zm-4 2zm-3-8zm-36 8zm-2-5zm-2 0zm-9 2zm-3 0zm9 8zm9 4zm17-1zm7 4zm1 0zm9 13zm-17-8zm-6 4zm-3-2zm-1 3zm0 3zm-3-1zm-22-4zm-10 7zm1 3zm22-3zm23 2zm4 6zm1 3zm7-2zm3-8zm5 10zm7-5zm2 1zm1 12zm-16 2zm-6 2zm0-10zm-15 3zm-1-1zm-44 10zm42 9zm15-1zm19-6zm10 6zm-60 4zm-38 6zm-4 2zm-5 2zm-6 7zm1 1zm2 0zm1-3zm1 4zm1 1zm1-4zm7 6zm56-11zm2 6zm1 5zm7-4zm-59 9zm-3-1zm-3 7zm-7-2zm-4-7zm-12 3zm-5 7zm0 0zm-18 11zm0 0zm6-7zm3-3zm2 5zm3-4zm9 5zm1-3zm3 0zm2 1zm0 3zm3-2zm3-1zm0 2zm2-2zm0 7zm3-4zm2-7zm1 9zm2 1zm0-6zm14-4zm2 5zm9 7zm-29 1zm-3 5zm-4 3zm-5-7zm0 5zm-2 2zm-2-6zm-2 3zm0 0zm-1 2zm-3-7zm-4 3zm-6-3zm-4 2zm-2 1zm-2 12zm3-2zm2-2zm3 8zm2-1zm1-3zm1 5zm2 1zm2 0zm1-8zm3 8zm2-5zm2-4zm3 0zm0 2zm9 4zm-5 7zm-6 0zm-1 0zm-27 1z"/>
<path stroke="#23888e" stroke-width="2.24" stroke-opacity="0.84" d="M559 60zm-10 11zm-60 9zm16-6zm55 19zm-19 0zm-4-2zm-5 4zm-7-4zm-11 4zm-11-10zm-8 6zm19 16zm15-4zm5-7zm3 6zm3-6zm2 3zm0 7zm0-9zm7 8zm13-1zm6-6zm7-2zm0 0zm1 8zm5-3zm-22 15zm-14-8zm-6 0zm-18 6zm-6-2zm-5 6zm-1-2zm-3 2zm-18 3zm25 2zm4 2zm4 3zm17 0zm0 3zm2-2zm13-8zm3 7zm14-7zm2 1zm4 2zm12 3zm-34 16zm-54-7zm-58 14zm9 4zm25-3zm24-6zm6-1zm0 2zm1 1zm1-2zm5 2zm12 5zm20-1zm-61 11zm-4-4zm-12 2zm-6 7zm-8-2zm0-1zm0-8zm-14 4zm-17 19zm4-7zm4 6zm7-10zm8 5zm4-3zm1 6zm7 2zm2 1zm2-2zm0-8zm3-1zm2 3zm1 0zm0 1zm2 3zm1-4zm1 3zm2 0zm5-2zm0-1zm8 4zm3 3zm8 1zm21 2zm-6 6zm-36-4zm0 6zm-5 2zm0-9zm-3-1zm-3 9zm-3-1zm-2 0zm-1-4zm0 2zm-3 0zm-2-2zm-2-3zm-3 5zm-4 3zm0-5zm-1-3zm-3 4zm-2-3zm-2-3zm-4 7zm-5 4zm0 0zm-3-3zm-7-7zm0 9zm-5 9zm0 0zm10 4zm2-6zm2 3zm3-2zm6-6zm5 11zm0-7zm0 6zm3-6zm1 6zm2-3zm0 0zm2-3zm3 7zm3-5zm5-6zm1 10zm2-1zm1-6zm6 3zm3 5zm23-8zm-35 12zm-2 1zm-1 1zm-3-3zm-16 4zm0 0zm-5-5zm-2 0zm-5 2zm0-3zm-2 1zm-20 0z"/>
<path stroke="#1f988b" stroke-width="2.24" stroke-opacity="0.84" d="M525 107zm59-4zm-24 13zm-4-1zm-3-2zm-40-1zm-6 6zm54 8zm4-3zm9-2zm1 1zm6 1zm3 13zm-7 0zm-2 7zm0 0zm-1-1zm-17-8zm-1 2zm-28-2zm-17 5zm-30 15zm24-7zm1-3zm15 4zm7-4zm33 6zm18-4zm8 1zm-54 19zm-3-10zm-19 1zm-29 4zm-18 16zm2-8zm13 4zm1-1zm2 2zm0 3zm1-2zm1 1zm2-3zm1 5zm4-8zm5 2zm10 4zm7 3zm28-9zm11 5zm-26 14zm-2-5zm-2-1zm-1-1zm-4 3zm-2 0zm0 2zm0-7zm-2 4zm-3 3zm-4-1zm-4 4zm-4-6zm-11 3zm-4 2zm-2 2zm-4-3zm-1 1zm0 0zm0-1zm-1 0zm-3-2zm0-4zm-2 6zm-15-4zm-3 3zm0 0zm-1 4zm-7-2zm-1-5zm-33 15zm1-1zm13 3zm11-7zm1 0zm5-2zm2 8zm0-1zm7 0zm2 2zm5-3zm3 0zm0 1zm2-5zm2 3zm4 2zm2 2zm1 0zm5-5zm2 5zm1-6zm0 5zm1-3zm2 6zm0 0zm0-2zm0-7zm2 8zm2-8zm1-2zm1 1zm0-1zm1 5zm1-4zm0 6zm0 4zm1-5zm1-4zm0-1zm1-1zm9 4zm17 3zm-8 12zm-37-1zm-9-2zm-4-4zm-10 10zm-11-2zm-12-7z"/>
<path stroke="#22a884" stroke-width="2.24" stroke-opacity="0.84" d="M576 102zm36 29zm5 6zm-21 1zm-8-6zm-4 11zm0-10zm-1 0zm-6 10zm-2-1zm0-4zm-18-5zm-25 13zm15 3zm20 6zm6-9zm3 1zm4 3zm0-5zm3 0zm1 5zm3-2zm6 7zm12-4zm8-5zm-39 14zm-23 6zm-58 10zm17 2zm1 0zm11-4zm4 3zm13-8zm8 9zm12-2zm0 5zm-16 3zm-4-3zm-12 8zm-1 0zm-5-2zm0-5zm-2 5zm-2-6zm-2 4zm0 3zm-2-1zm-1-4zm-2 0zm-3 1zm-8-3zm-3 5zm-3 5zm-5 0zm-23-2zm3 4zm1 1zm1 3zm1 0zm6 5zm6-2zm4-3zm3 4zm1-5zm6-1zm3 5zm1-4zm11 4zm6 2zm3-3zm23 1zm4-6zm-10 11zm-4 1zm-20 6zm-3-1zm-2-5zm-2 8zm-1-5zm-6-3zm-4-1zm-19 2zm-21 3z"/>
<path stroke="#35b779" stroke-width="2.24" stroke-opacity="0.84" d="M602 131zm8 11zm-3-1zm-8-3zm-12 4zm-20 1zm-22-11zm18 23zm4-2zm6-7zm2 3zm11 5zm6-10zm4 6zm1 0zm9-4zm4 3zm6 5zm11-5zm-20 13zm-5-2zm-1 4zm-3-8zm0 2zm-2 0zm-1 3zm-15 2zm-4-3zm-2-1zm-8-2zm-6 10zm-3-5zm-28 17zm2-1zm14 1zm20-10zm0 1zm6-1zm1 0zm3 4zm18-4zm-1 18zm-11 3zm-11 0zm-3-4zm0 3zm-8-1zm-1 1zm-7 0zm-3-1zm-7-6zm-1 1zm-2-2zm-15 3zm0 7zm-4-2zm-37 11zm7 2zm16-5zm16 6zm10-8zm2 5zm7-2zm3-2zm7 4zm0-3zm1-5zm1 7zm5-7zm12 8zm0-4zm12 5zm-4 11zm-1-3zm-26-1zm-28-4z"/>
<path stroke="#54c568" stroke-width="2.24" stroke-opacity="0.84" d="M596 138zm-30 17zm5-2zm5 2zm13-8zm8 0zm3-1zm2 2zm3 5zm9 1zm8-6zm3 7zm0 11zm-3-8zm-1 7zm-1 1zm-1-6zm-9 4zm-1-8zm0 11zm-2-9zm-1 3zm0 2zm-2-3zm0 1zm-1-2zm-2-3zm-4 0zm-2 0zm-2 1zm-4 9zm-4-4zm0 1zm-2 2zm-3-2zm-8-2zm-5-1zm-15 5zm4 10zm6-6zm12 4zm0 4zm5-2zm2 3zm2 0zm0-5zm2-1zm1 2zm7-3zm0-2zm5 4zm3 5zm21-5zm-5 7zm-14 1zm-11 2zm-5 4zm-9-7zm-1 0zm-16 10zm-14-4zm-16 15zm46 0zm2 0zm6-6zm4 0zm5 5zm15 5zm-23 3zm-45-4zm-30 7z"/>
<path stroke="#7ad151" stroke-width="2.24" stroke-opacity="0.84" d="M588 151zm10-7zm6 6zm5 1zm1 4zm1-2zm2 1zm2 1zm2-2zm13 14zm-2-2zm-6-2zm-2 4zm-2-11zm0 3zm-1 8zm-1-3zm-2-2zm0 4zm-2-2zm0 2zm-4-2zm-1 2zm-1-3zm-1-2zm-3-4zm-8 4zm-12 4zm-8-8zm-1 6zm0-2zm-13 11zm0-4zm3 7zm2 4zm2-3zm13-5zm18-2zm0 0zm0-1zm0 3zm8 8zm5-9zm0 6zm1-2zm8-1zm3-3zm9 7zm4 2zm1 10zm-7-3zm-3-2zm-1-1zm-2-1zm0 0zm-4-1zm-6 1zm-7 0zm-3-1zm-2 7zm-2 1zm-3-4zm0 0zm-2-1zm-5 5zm-2-4zm-5 1zm-7 3zm0-9zm-4 2zm-2 5zm-1-1zm-3-3zm-4 1zm1 11zm3 0zm8 1zm17-3zm5 4zm4-4zm3 7zm22-3zm1 0zm8 7zm-3 1zm-25-1zm-2 3zm0-1zm-21 7zm-16-5zm-2-1z"/>
<path stroke="#a5db36" stroke-width="2.24" stroke-opacity="0.84" d="M634 164zm-4 3zm-11-1zm-9-1zm-2 2zm-2-7zm-2 2zm-1 3zm-21-2zm3 12zm12 1zm1-8zm9 0zm1 10zm1-1zm4-6zm7 3zm8 4zm3 0zm2-9zm11 10zm4 10zm-5-4zm-4 5zm-1 0zm-3-2zm0 1zm-7-8zm0 4zm-8 3zm-4 2zm-1 0zm-1 1zm-7 0zm-1-6zm-3-3zm-3 3zm-1 6zm-4-1zm-3 0zm-11 1zm-3-8zm-4 6zm5 4zm6 5zm0-6zm1 2zm2 0zm3 0zm3 6zm1-5zm0 6zm1 2zm7-4zm0 4zm3-9zm2 7zm0 0zm4-7zm2-1zm0 8zm4 1zm2-5zm1 5zm1-5zm0-1zm3 4zm7 2zm0 0zm1-3zm1 0zm4 1zm1 1zm-4 3zm-3 0zm-5 0zm-5 3zm-4-1zm-7 8zm-5-3zm-1-1zm-1-6zm-6 5zm-34-5z"/>
<path stroke="#d2e21b" stroke-width="2.24" stroke-opacity="0.84" d="M609 173zm15 5zm1-4zm2 5zm5-3zm20 15zm-1-1zm0-9zm0 9zm-1-2zm0 0zm-1-3zm-3-2zm0 2zm-4 0zm0 6zm-1-7zm-1 7zm-1-4zm-5 1zm-2-4zm-4-1zm-16 5zm-10 14zm5-9zm3 1zm2 1zm4 6zm1-6zm1 2zm7 6zm3-6zm1-1zm1 3zm1-3zm3 4zm3 0zm0-6zm1 6zm0 1zm0 0zm1 0zm5 0zm1-3zm3 0zm3-4zm0 0zm-20 15zm-9-3zm-6 4zm-1 5zm0-3zm-9-1zm-2-7zm-1 5zm-9-2zm-1-1z"/>
<path stroke="#fde725" stroke-width="2.24" stroke-opacity="0.84" d="M606 179zm41 3zm-1 8zm-12-3zm0 4zm-1-9zm-5 9zm-18-2zm-7 1zm3 8zm4-5zm7-1zm6 10zm2 0zm4 1zm1-1zm0-6zm4 3zm3-3zm4-1zm0 4zm0 1zm1 0zm6 3zm-1 1zm-12 3zm-3 3zm0-3zm-8-2zm-3-1z"/>
<path stroke="#481a6c" stroke-width="2.24" stroke-opacity="0.88" d="M454 77zm-37 51zm5-4zm1 0zm3 2zm1-6zm3 12zm-21 8zm0-1z"/>
<path stroke="#472f7d" stroke-width="2.24" stroke-opacity="0.88" d="M453 77zm0 0zm15 41zm-51 10zm0 0zm4-1zm2 3zm0 0zm2 0zm1-4zm2 1zm2 1zm1 2zm1-5zm6 6zm0-4zm2-3zm2 5zm10-3zm13 0zm-11 9zm-17-1zm-8-2zm-10 0zm0 0zm-11 8zm-3 5z"/>
<path stroke="#414487" stroke-width="2.24" stroke-opacity="0.88" d="M481 58zm0 0zm12 6zm-4 1zm-3-5zm-2 2zm-17 7zm-2-1zm0 0zm0 0zm-13 9zm10-3zm4 6zm57 0zm4 35zm-21-7zm-16 9zm-1 0zm-9-1zm-13-3zm0-4zm-2 7zm-10 3zm-8-4zm-19 12zm1 0zm18 3zm3-10zm4 6zm7 1zm1-3zm5 5zm15-3zm2-6zm26 10zm-38 2zm-8 7zm-11-7zm-4 1zm-2 2zm-5 1zm-1-2zm-4 4zm0 4zm-4-6zm-11 6zm-7-1zm1 6zm3 5zm2-7zm1 8zm21-2zm5 1zm1-4zm21-2zm-25 11zm-26 0zm-2 1zm20 25z"/>
<path stroke="#39568c" stroke-width="2.24" stroke-opacity="0.88" d="M566 59zm-7 7zm-20-4zm-6 4zm-29 1zm-2-4zm-1 7zm-2-7zm0 1zm-2 1zm0 1zm0-5zm-2 5zm0-1zm0 0zm-10-5zm-1 0zm-1 11zm-6 10zm23-4zm9-3zm5-2zm1 1zm4 6zm1 16zm-7-2zm0 1zm-8 1zm-1-1zm-4-6zm-15-2zm-3-1zm6 21zm5-3zm17 1zm1 0zm1 2zm2 0zm21-9zm2 2zm-11 12zm-9-3zm-5 4zm-4 6zm-3-10zm-4 11zm-1-3zm0-7zm-10 9zm-27-1zm0-6zm-3 1zm7 9zm5 1zm2 1zm2 0zm5 1zm4-1zm2-2zm11 2zm11 7zm21 6zm-25-2zm-18 0zm-11-1zm-1 6zm-3-7zm-9 5zm-4 4zm-36-2zm6 6zm35-1zm2 4zm17 6zm14-5zm-26 11zm-5-3zm0 4zm-2-4zm-3 9zm-9-1zm-1-9zm-1 0zm-13 4zm-4-3zm-2 0zm-9 7zm-9-4zm0 2zm-2 2zm-4-7zm1 14zm3 8zm2-6zm9-4zm13 9zm2-7zm0-2zm2 3zm7 4zm8-6zm-16 21zm-1-8zm-4 5zm-1-3zm-2 1zm-4-2zm-8-3z"/>
<path stroke="#31688e" stroke-width="2.24" stroke-opacity="0.88" d="M541 58zm1-1zm6 2zm14-5zm1 5zm18-2zm8 11zm-18-7zm-3 9zm-7-3zm-4 0zm0 3zm-63-2zm-10-8zm-7 9zm-4-6zm3 20zm18-3zm1 0zm15-7zm0 5zm4-2zm1-3zm1 7zm7 2zm15 1zm7-11zm0 0zm16 0zm1 6zm0 0zm24 2zm-18 7zm-4-2zm-7 10zm-31-10zm-1 10zm-1-11zm-1 7zm-6 0zm-5 1zm-19-7zm-5 10zm-1-6zm-8-3zm-2 11zm35 9zm0-6zm0 5zm4-3zm6-6zm6 9zm4-2zm8-3zm1 1zm39 14zm-35-4zm-9 1zm-2-4zm-2 0zm-7 6zm-1-2zm-4-1zm-10 3zm-5-5zm-13 9zm-5-7zm-5 11zm26 3zm24 12zm-21-5zm-8 2zm-55 10zm14 9zm0-4zm14-2zm21 7zm1-9zm4 6zm-14 15zm-5-10zm-6 4zm-2 3zm-1-4zm-5 6zm-1-6zm-9 6zm-1-3zm-1 3zm-3-9zm0 6zm-3-6zm0 0zm0 8zm-2 2zm-4 0zm-11-4zm0 0zm-4-2zm-13 15zm2 4zm2-7zm1 7zm3-3zm2 3zm4-1zm15-1zm2-4zm1 4zm1 2zm1 0zm2-11zm5 7zm1-4zm2-2zm1 3zm1 6zm4 0zm10-2zm1-7zm6 2zm2 3zm0-4zm-35 12zm0-1zm-2 8zm-1-9zm-3 2zm0 0zm-1 2zm-4 6zm0-10zm-2 7zm-5-7zm0 0zm-1 11zm-13-1zm13 10zm6-3zm0-3zm5 9zm6-10zm2 1zm2-2zm17 0z"/>
<path stroke="#2a788e" stroke-width="2.24" stroke-opacity="0.88" d="M551 57zm32 11zm-8 2zm0-2zm-5-1zm-4-7zm-8 7zm-6-1zm-5-1zm-29 6zm-9-10zm-30 0zm9 13zm24 7zm7-8zm28-1zm5 2zm5 5zm6 3zm8-3zm8-6zm0 5zm1 5zm1-3zm1-8zm1 1zm1 7zm9-4zm2 1zm1-3zm3 0zm-28 13zm-2-1zm-29 3zm-1 5zm-8-4zm0-2zm-3 0zm-7-1zm-13 6zm-12 13zm19 0zm11-5zm8-3zm5 2zm18 6zm0-1zm17-5zm29 17zm-12-6zm-10 5zm-2-3zm-16-3zm-12 4zm-1 0zm-8-3zm-18-3zm-14 2zm-2 5zm-2-2zm31 8zm5 0zm21 5zm3-2zm5-4zm3 2zm-40 20zm-14-9zm-25 11zm56 1zm9 9zm-22 6zm-2-3zm-3 1zm-6-2zm-33 11zm-1-2zm-13-5zm-10 1zm-4 4zm-12-8zm-16 4zm11 18zm0 0zm1-4zm0 2zm4-8zm2 10zm6-2zm2-1zm11 1zm5 1zm8-9zm6 5zm2-3zm5 7zm3-1zm-1 8zm-2-5zm-19 11zm-5-6zm-1-4zm-2 1zm-1 6zm-3-2zm-6 4zm0-6zm0-3zm-1 8zm0-7zm-1 1zm-1-2zm0 7zm-2-5zm-4-3zm-1 9zm0-6zm-11 3zm-2 2zm0 1zm-1-1zm-4-5zm-11 0zm4 11zm7 3zm2 0zm1 5zm10 0zm5-7zm2 0zm2-3zm0 8zm1 2zm4-5zm2 0zm0 0zm1 6zm3-5zm6 3zm8-3zm3 1zm9 7zm-14 3zm-10-4zm-5 9zm-1-3zm-6-3zm-2 4zm-10-8zm-3 9zm-2-2zm-3 1zm0-5zm17 12zm6 2z"/>
<path stroke="#23888e" stroke-width="2.24" stroke-opacity="0.88" d="M570 58zm7 12zm0 0zm-9 0zm-16 3zm41 7zm-9 13zm-38 1zm-1 1zm-23-2zm17 7zm6 3zm4-6zm22 3zm11 5zm35 11zm-10-4zm-3 7zm-5-6zm-1 0zm-2 2zm0-3zm-6 3zm-2-6zm-5 8zm-5-6zm-2-1zm0 5zm-8 2zm-4-1zm-21-5zm10 17zm1-1zm24 1zm11-2zm17 1zm29-2zm-21 12zm-4 2zm-1-5zm-3 4zm0-4zm-3 0zm-40 6zm-32 2zm-10 11zm12-5zm6 0zm8 6zm1 0zm43-2zm2-7zm12 10zm3-1zm-72 13zm-47-1zm-37-6zm-2 14zm28 3zm4 0zm2 2zm7-3zm19 1zm17 2zm27-11zm-16 17zm-6-3zm-1 4zm-12 2zm-9 3zm-1-11zm-1 1zm-3 9zm-12-4zm-3-6zm-1 5zm-7 6zm0-9zm-4 5zm-5-1zm-2 1zm-17 4zm-2-6zm-11 8zm13 0zm2 0zm4 6zm7-4zm1 6zm3-2zm3-6zm2 9zm2-2zm1 3zm3-6zm3-4zm2 10zm3-9zm4 6zm10 0zm2-2zm4-6zm5 3zm2 1zm2-4zm13 19zm-3-1zm-6 3zm-1-9zm-2 0zm-2 10zm-12-4zm-1 3zm-11-6zm-2 5zm-3-5zm-3 3zm-1-1zm-1 6zm-1-6zm-5-4zm-1 9zm0-10zm-2 8zm-2 3zm-2-7zm-1-1zm-14 0zm-10 8zm-8-3zm-2 5zm15-1zm5 2zm0 3zm4-4zm1 2zm1 0zm6-3zm4 5zm9-2zm10 3z"/>
<path stroke="#1f988b" stroke-width="2.24" stroke-opacity="0.88" d="M547 97zm57 14zm-8-3zm-9 21zm10 2zm8-9zm1 4zm26 6zm-16 3zm-7 3zm-1-3zm-3 2zm-14 1zm-2 2zm-17-6zm-17 4zm0 4zm-9-9zm-4 16zm50 0zm1 1zm2-3zm1 3zm5 3zm3-1zm4 2zm2-3zm2 6zm0 0zm-28 4zm0-1zm-21-2zm0 1zm0 0zm-89 17zm2-2zm44 0zm33-3zm7 2zm5 6zm39-10zm-35 19zm-8-5zm-12 0zm-7-2zm0 1zm-7 8zm-10-2zm-3-1zm-1 3zm-30-4zm-20 11zm8-1zm1 5zm1-4zm4 5zm1-3zm4 1zm1-7zm3 6zm10 1zm2 3zm0-4zm2 0zm1-3zm0 3zm1 3zm0-2zm4 2zm1-4zm1 5zm1-1zm1-4zm5-1zm3 0zm4-1zm1 3zm2-5zm6 4zm9-1zm31 2zm-1 7zm-25 7zm-10 0zm-5 0zm-10 2zm0-11zm-1 4zm-1 4zm-1-7zm-2 6zm-2 1zm-1 1zm-2-9zm-2 10zm-2-1zm-2 2zm-2-6zm-3 3zm-1-6zm-3 8zm-6-8zm-2 8zm-1-5zm-2 5zm-3 1zm-2-11zm-9 3zm-3-2zm-7 8zm-17-8zm15 15zm10 4zm1-3zm2-5zm1 0zm4 3zm2 6zm11-5zm5-4zm1 0zm2 1zm23 1zm4 7zm3-8z"/>
<path stroke="#22a884" stroke-width="2.24" stroke-opacity="0.88" d="M623 122zm11 1zm-2 17zm-3 3zm-7-2zm-6-8zm-12 3zm-4-1zm-23 8zm15 6zm5 2zm10 4zm25-11zm18 21zm-29-8zm0 5zm-8-4zm-8 0zm-5 2zm-6 4zm-3 2zm13 7zm1 1zm1-1zm4 10zm-3-3zm-29 5zm-20 4zm-30-9zm-28 16zm2 3zm52 3zm4-3zm20-6zm7 5zm-4 11zm-1 6zm-16-9zm-9-2zm-11 11zm-1-6zm-3 5zm-2-3zm-6 1zm-3 2zm-1 0zm-5-1zm-1-6zm-7-1zm-2 4zm-5-6zm-1 1zm-10 1zm0 16zm31-5zm37 3zm14 0zm16 7zm-42 1z"/>
<path stroke="#35b779" stroke-width="2.24" stroke-opacity="0.88" d="M607 152zm27 1zm1 1zm2 0zm15 5zm-2 6zm0 0zm-1-2zm-1-1zm-2-6zm-11 11zm-8-1zm-1-1zm-1 0zm-1 1zm-12-4zm-5-2zm-2-1zm-43 17zm21 1zm12-9zm3 6zm5-1zm4 0zm1 4zm4-6zm11 5zm9 1zm3-5zm6-3zm0-1zm0 11zm-16 3zm-2 1zm-2 2zm-10 3zm-12-5zm-25 15zm4 4zm8 1zm11-2zm6 1zm17-10zm-21 14zm-2 0zm-29 3zm-27 5zm-8 0zm-3-2zm-1 4zm40 1z"/>
<path stroke="#54c568" stroke-width="2.24" stroke-opacity="0.88" d="M652 159zm-1 6zm-1-2zm0 0zm-2-1zm-2 3zm-1 2zm0-1zm-3-1zm-2-1zm-2-1zm-4 2zm-3-4zm-12 6zm-3-2zm-11-5zm-15 11zm3 7zm10-6zm4-1zm1 3zm3 2zm2 3zm1-1zm4-5zm3 1zm5 5zm0-6zm2 1zm1-6zm2 10zm4-2zm1-8zm1 6zm1 0zm1 1zm3-2zm1 1zm2 1zm1-2zm4-1zm-20 14zm0-5zm-3 10zm-1-1zm-3-9zm-6 9zm-3-4zm-3 2zm0 0zm0 0zm-1-6zm-7 7zm-12 10zm5 1zm3 1zm15-3zm2 4zm1-9zm1 5zm1-1zm2-3zm1 8zm11-3zm-12 12zm-12-5zm-14-1zm-3 6zm-2-3zm-1 6zm-10-1zm15 3zm1 11z"/>
<path stroke="#7ad151" stroke-width="2.24" stroke-opacity="0.88" d="M636 163zm-1 4zm0 0zm-4-8zm-8 7zm-29 11zm25 2zm2 0zm4-9zm2 1zm2 2zm6-3zm2 4zm1 2zm2-5zm2-1zm3 9zm1-7zm1 2zm0 0zm1 0zm-12 17zm-1 0zm0 0zm-6-1zm0-6zm-2 7zm-3-11zm-3 2zm0 9zm-1-9zm-3 5zm-2-1zm-2-6zm-3 2zm-5 1zm-3 7zm-3-2zm-1 4zm8 9zm3-8zm2 8zm2-4zm0 2zm2-6zm3 4zm4 2zm3-5zm4-1zm2 0zm1 4zm-11 13zm-2-4zm-1 1zm-3-2zm-2 5zm0-1zm0-2zm0-3zm-1 2zm-4 0zm-43 9zm43 5z"/>
<path stroke="#a5db36" stroke-width="2.24" stroke-opacity="0.88" d="M643 167zm-5 12zm8-2zm0 2zm-4 12zm0 0zm-1 0zm-2-5zm-1-2zm-2 7zm-7-9zm-5 9zm-1-7zm-18 14zm6-3zm2 7zm4 1zm7-2zm1 2zm0-2zm6-2zm1 0zm1 3zm0 0zm3-10zm-10 16zm-6-1zm0 5zm-3-1zm-1-3zm-4-3zm-1 1zm6 10z"/>
<path stroke="#d2e21b" stroke-width="2.24" stroke-opacity="0.88" d="M636 175zm-4 22zm3 2zm-14 5zm0 6zm-4 5zm-6-8zm11 11z"/>
<path stroke="#440154" stroke-width="2.24" stroke-opacity="0.92" d="M434 90zm-14 14zm7 3zm7-1zm0-4zm2 2zm2 0zm5 6zm-3 8zm-1-2zm-20-2zm-2 5zm0 0zm-10 5zm4 2zm7 2zm3 2zm12-3zm10 1zm13 3zm-44 3zm-3 0zm19 15zm5 0zm2 6z"/>
<path stroke="#481a6c" stroke-width="2.24" stroke-opacity="0.92" d="M419 104zm9-4zm0 0zm0 0zm0 0zm19 6zm0 8zm-6 1zm-6-6zm-3 10zm-8-5zm0 1zm0 0zm-5 0zm-12 9zm9-4zm7 11zm1-5zm6 3zm3-4zm3-4zm2 7zm0-8zm1 3zm0 7zm1-9zm10 7zm10 14zm-1-9zm-8 4zm-4-3zm-4 4zm-1 3zm-2-9zm0 2zm0 6zm-1 0zm-3-7zm-5 9zm-4-9zm-6 5zm-6 2zm-5 7zm0 0zm5 2zm4-4zm5 7zm0-5zm2-3zm1 10zm3-2zm2-4zm0 1zm1-2zm6 3zm2-4zm3 0zm2 1zm0 4zm2 3zm6-4z"/>
<path stroke="#472f7d" stroke-width="2.24" stroke-opacity="0.92" d="M457 74zm20 6zm4-1zm0-5zm7 3zm-29 17zm-22 5zm42-1zm4-2zm-59 18zm4 12zm16 4zm12 0zm6 1zm8-1zm20 12zm-1 1zm0-7zm-16 1zm-1 4zm-2 0zm0-7zm-2 0zm-1 0zm-1 1zm0 1zm-2-1zm-2 7zm-1-5zm-3 5zm-1 1zm0-10zm-2 7zm0-6zm0 9zm-1-1zm-1-5zm-1 5zm-1-7zm0-2zm0 5zm-1 2zm-1 0zm-1-1zm-1-1zm-1 2zm-2-1zm-3-2zm-1 0zm-2 3zm-2-5zm-3 0zm-1 6zm-8 1zm-3-10zm-4 18zm0-6zm6 9zm8-6zm3 2zm2 4zm5-1zm1-6zm6-2zm3 1zm3 4zm6-4zm3-1zm1 3zm6-1zm10-1zm-23 16zm-7 5zm-3-5zm-9 1zm14 11zm6-5z"/>
<path stroke="#414487" stroke-width="2.24" stroke-opacity="0.92" d="M514 69zm-8-2zm-33 12zm20 0zm4-3zm13-3zm10 4zm4 2zm7 3zm1-3zm10 6zm-10 7zm-37-4zm-8-3zm-18 9zm-9 12zm16-9zm1 0zm0 0zm18 2zm12 5zm3-8zm2 9zm48 4zm-7-1zm-21 6zm-68 1zm-19 15zm29 0zm4 1zm11-3zm2 3zm2-3zm6 3zm0-7zm1 3zm2 0zm33 11zm-2 3zm-11-6zm0-2zm-1 1zm-1-2zm-17 0zm-1 7zm0-1zm-1 2zm-12-2zm-3-4zm-13-2zm-7 10zm-2-4zm-1 0zm-10 1zm-4-7zm-12 4zm-8 14zm3-2zm7 3zm31-4zm0 3zm1-4zm3 7zm7-8zm1 0zm2 3zm0-3zm1 5zm1 2zm0-6zm7 0zm14-1zm-5 14zm-16 5zm-19-4zm-1 0zm-4 0zm-1-4zm0 0zm-1 0zm-7 2zm-8 4zm0 0zm-4 2zm-5-5zm-2 1zm-8-2zm-5 5zm9 6zm15 5zm8-1zm7 3zm1-3zm12 0zm-15 15zm-3-1zm-14 0zm-5-2z"/>
<path stroke="#39568c" stroke-width="2.24" stroke-opacity="0.92" d="M573 71zm-63-2zm-37 5zm17 7zm7-6zm2 4zm20 1zm0-5zm1 2zm1 2zm4-4zm1-2zm3 4zm1 1zm2 4zm40-9zm23 22zm-8-6zm-19 0zm-21 1zm-3-5zm-2 5zm-5 2zm-2-7zm-1 2zm-39 5zm-13-5zm27 14zm8-3zm9 5zm6-2zm4 1zm11 2zm9 3zm6-8zm6 13zm-2-1zm0 8zm-1-8zm-1-1zm-5-2zm0 1zm-8-1zm-7 10zm-1-2zm-7 0zm-2-3zm-2 1zm-3-2zm-3-1zm-17-1zm-22 16zm7 2zm0-7zm0 7zm1-3zm3 6zm1 0zm1-4zm5 1zm0-2zm5 5zm3-4zm1 0zm4 4zm19-1zm10-7zm2 3zm2-5zm1 0zm2 4zm-19 16zm-1-6zm-1 4zm-3-1zm-1-5zm-2-1zm-4 4zm-1 0zm-1 2zm-6 2zm0-8zm-2 0zm-5 0zm-2 1zm-9 0zm-2 8zm-18 1zm-33 9zm11 0zm13-2zm6 0zm4 1zm8 2zm15-3zm2-5zm29 1zm-15 14zm-21 3zm-1-6zm-1 0zm0 9zm0-1zm-2 0zm-2-8zm-5 7zm-3-1zm-7-3zm-1-1zm-3 5zm-3 1zm-4-5zm-24 15zm6 1zm3 1zm2-6zm2 0zm7 2zm4 7zm3-4zm9-7zm0 5zm2 1zm0-1zm17-5zm5 1zm10 4zm-25 9zm-2 6zm-6-6zm-8 2zm-4 6zm-3-7zm-5 1zm-5-1zm-2 8zm-1-3zm-2 1zm-2 2zm-1-10zm-5 6zm18 10zm13-2zm3 0zm5 0zm6-2zm-5 17z"/>
<path stroke="#31688e" stroke-width="2.24" stroke-opacity="0.92" d="M598 69zm-5 2zm-11 0zm-1-2zm-10 0zm-2-4zm-60 15zm15-8zm53 4zm0 4zm15-6zm7 2zm1-1zm7 6zm1-4zm1 5zm14 6zm-11-2zm-16 7zm-4-4zm-13-3zm-28 8zm-9-1zm-2-3zm-1-4zm-2 0zm-5 3zm-14 6zm-12-1zm-6-3zm-3-4zm-6 0zm22 20zm2-9zm5 0zm1 2zm0-3zm23 5zm4 3zm1-1zm2 1zm2 1zm0-10zm2 6zm0-6zm2 7zm2 1zm14 3zm-2 7zm0-1zm-8-4zm-14 1zm-4 8zm-11-4zm-13 3zm-3-1zm-5 0zm10 14zm6-6zm1-2zm6 4zm10 1zm39-4zm38 7zm-63 5zm-14 8zm-11-2zm-4 1zm-1-4zm-2-2zm-5 0zm-23-2zm-33 20zm19-2zm13 1zm33-7zm2-2zm26 5zm7 8zm-9 10zm-20-6zm-22 0zm-1 1zm-1 2zm-1-2zm0-1zm-5-2zm-4 6zm0-1zm-8-4zm-4-1zm-1-1zm-2 5zm-2-1zm-9-3zm-10 4zm-26 9zm3-1zm5 3zm3 4zm3-4zm6 3zm8-2zm1-3zm9-4zm14 5zm2 4zm13-2zm4-1zm2 1zm41-4zm-47 14zm-6-4zm-9 5zm-2 1zm0 1zm0-7zm-3-1zm-1 8zm0 3zm0-11zm-1 3zm-1-3zm-3 4zm-1 4zm-1-7zm-4 9zm-1 1zm-7-3zm-6-8zm-1 1zm-4 2zm-3-2zm-12 11zm4 1zm11 1zm4 4zm1 0zm1 2zm2-8zm2 8zm2-4zm0-2zm0 8zm5-10zm4 3zm2-1zm1-2zm0 1zm4 6zm0-6zm2 2zm2-2zm3 3zm1 0zm1-4zm0 4zm22 18zm-10-10zm-14 11zm-12-11zm-3 10zm0-4zm-8-5zm-1 5zm-7-2zm19 16zm2-7zm2 8zm5-4zm23-1z"/>
<path stroke="#2a788e" stroke-width="2.24" stroke-opacity="0.92" d="M591 71zm0-2zm-7 1zm-8 1zm-1-2zm-62 6zm31 8zm25-11zm13 10zm1-7zm4 5zm0 1zm8-1zm1-7zm2 1zm2 4zm1 0zm3 3zm7-7zm0 10zm0 7zm-3-5zm-2-1zm-6 3zm-6 6zm-3-6zm-3-2zm-1 7zm-25 2zm-3-7zm-17 2zm0-6zm-4 8zm-8-6zm-4 0zm-3 14zm23 1zm17 3zm1 3zm5-3zm16 0zm2 3zm4-11zm14 0zm0 21zm-34-1zm-8 2zm-3-4zm-35 5zm-2 2zm15 3zm8-2zm12 9zm22-3zm1 2zm8-7zm3 6zm1 2zm1-1zm1-5zm2 6zm11-4zm2 4zm22 1zm-28 2zm-2 4zm-57 8zm1 8zm2-7zm5-2zm7 5zm7 3zm38-6zm-30 18zm-3-2zm-21-1zm-2 2zm-54-4zm-21 12zm1 4zm0-2zm5 2zm4 2zm2-8zm3 4zm5 5zm3-3zm3-5zm21 8zm0-6zm43-1zm-31 16zm-15-1zm-3-1zm-2 0zm-1 0zm-3 3zm-10-2zm-6-7zm-1 7zm-3-4zm-6 2zm-1 4zm-4-2zm-4-6zm0 9zm-7-4zm-2 0zm-4 3zm0 1zm12 8zm2-1zm2 5zm1-6zm3-1zm2 8zm2-8zm4 2zm1 2zm0-6zm2 8zm1-5zm1-1zm3 0zm1 7zm3-3zm1 3zm0-9zm1 4zm1 2zm2-7zm0 7zm2-7zm3 9zm2-8zm7 1zm9 5zm4 0zm-13 6zm-1 5zm-4-6zm0 10zm-2-1zm-2-3zm-2 0zm-2 4zm-6-2zm-6-5zm0-2zm-1 5zm0-3zm-2 8zm0-9zm0 3zm-1 2zm-2-6zm0 4zm0 1zm0-3zm-1-1zm-3 0zm-3 1zm-1 4zm-1 4zm0 0zm0-1zm-1 1zm-1-10zm0 8zm-3-1zm-2 2zm-1-2zm-18-8zm17 23zm0-9zm2 6zm1-7zm3 8zm1-2zm4-7zm1 10zm1-10zm0 0zm1 11zm1-4zm0-3zm5 1zm7-5zm0 2zm0-1zm2 0zm7 3zm3-2zm5 8zm11-6zm-26 12zm-15-4z"/>
<path stroke="#23888e" stroke-width="2.24" stroke-opacity="0.92" d="M618 85zm-6 3zm-3-1zm-6 2zm-21-3zm-5-2zm-25 14zm10-1zm52 0zm-1 22zm-86-4zm49 9zm11 3zm8-6zm6 4zm19-4zm2 3zm1-1zm2-1zm1 1zm1 2zm5 2zm2-4zm4 10zm-23 3zm-4 7zm-21-5zm5 16zm6-8zm1 0zm6 3zm-27 18zm-8-2zm-3-2zm-18 2zm-40 13zm19-9zm47 4zm9 4zm9-9zm12 11zm0-2zm-39 12zm-41-9zm-1 6zm-46 11zm10 0zm4 5zm6-9zm10 3zm3 2zm3 0zm4-2zm0 2zm2 0zm9 3zm4 1zm1-7zm7-2zm13 6zm-3 9zm-10 0zm-3 3zm0 4zm-8-4zm-7 2zm-9-8zm-1 7zm-6 2zm-4-7zm-1 6zm-1 0zm0-2zm-10-2zm0 6zm-2-7zm-4 4zm-3 3zm-5 0zm-19 5zm10 6zm9-1zm3-9zm10 8zm1-3zm11 4zm3-7zm3 2zm2 1zm1-4zm4 7zm3 3zm0-10zm3 6zm1-4zm3 1zm3 7zm10-7zm18 2zm3-3zm5 7zm-18 8zm-21-3zm-3 2zm-2-2zm-1 1zm-11-1zm-2-3zm0 4zm-2 0zm-4 4zm-1-6zm-5 2zm-3-1zm-1-2zm-4 0zm-10 2z"/>
<path stroke="#1f988b" stroke-width="2.24" stroke-opacity="0.92" d="M625 104zm-13 14zm-2-1zm16 7zm8-4zm17 8zm-15 9zm-9 4zm-12-4zm-26 4zm19 8zm8 5zm19-4zm2-2zm6 9zm-22 4zm-5-4zm-3 3zm-4 5zm0-9zm-28 21zm14-5zm19 4zm4-6zm-30 19zm-2-2zm-63-2zm-4 6zm-3-4zm42 5zm4 2zm3 9zm12-6zm5 1zm11 3zm4 3zm-13 8zm-7-4zm-7-1zm-5-3zm-10 8zm-9 2zm0 0zm-5-6zm-1 4zm-2 0zm-2 0zm-2-3zm-29-4zm-39 20zm29 2zm21-11zm1 4zm4 3zm0-6zm2 2zm1 2zm2 4zm2-1zm0-2zm2-2zm2-2zm0 6zm5-8zm1 10zm1-3zm0-4zm0 2zm1 2zm1-3zm1 4zm2-6zm0-2zm2 8zm1-2zm1-5zm3 10zm8-5zm0 0zm1 1zm1 3zm0-3zm26-5zm-15 10zm-4 2zm-5-2zm-8 2zm-11-2zm-1 7zm0 0zm-8-7zm-2 3zm-1 0zm-13 0zm-3 7zm-1-2zm-3-5zm-2-3zm-2 0zm-15 2z"/>
<path stroke="#22a884" stroke-width="2.24" stroke-opacity="0.92" d="M638 125zm-8 26zm7-3zm6 9zm-12 7zm-1 1zm-14-8zm-13 17zm18 4zm-36 10zm-6-6zm-3 18zm6 0zm12-3zm7 10zm-11 6zm-20 2zm0-4zm-4-4zm-41 10zm6 5zm1 2zm4-2zm10-6zm1 5zm5-2zm3 2zm9 0zm15-3zm7-1zm2 1zm0 0zm3-2zm-18 12zm0 0zm-13 5zm-1-4zm-4-1zm-20 0zm-15 9zm-5-7z"/>
<path stroke="#35b779" stroke-width="2.24" stroke-opacity="0.92" d="M637 137zm1 27zm-15-3zm-3 17zm10-5zm-12 9zm-43 21zm19-6zm10 11zm-34 5zm-41 13zm62-7zm1-3zm2 0zm1 11zm0 0zm-31 5zm-9-1z"/>
<path stroke="#54c568" stroke-width="2.24" stroke-opacity="0.92" d="M625 179zm-8 3zm-25 40zm3 5z"/>
<path stroke="#7ad151" stroke-width="2.24" stroke-opacity="0.92" d="M616 190z"/>
<path stroke="#440154" stroke-width="2.24" stroke-opacity="0.96" d="M433 70zm3 13zm27 8zm-4 3zm-1-4zm-5 2zm-1-1zm-2 0zm-6-1zm-6-6zm-5 2zm-11 3zm1 10zm5-3zm5 1zm2 4zm17 2zm7-6zm3 1zm2-1zm1 0zm2 0zm3 4zm4 18zm-7-6zm-5 3zm-4 3zm-4-4zm0 2zm-10 2zm-5-2zm-2-6zm0 7zm-4-10zm-3 5zm14 8zm1 10zm2-9zm3 5zm1 0zm1-6zm4 2zm1 1zm1 7zm0-9zm1 9zm2-6zm6-1zm4-3zm1 4zm3-3zm11 9zm-6 8zm-2 0zm-4-2zm0 0zm-26-1zm-7 2zm-5-2zm-1 0zm8 13zm10 4zm10-3zm7-2zm1-4zm0 3zm-8 16zm-8-3zm-4-4z"/>
<path stroke="#481a6c" stroke-width="2.24" stroke-opacity="0.96" d="M466 111zm-2 1zm-2 2zm-8 3zm-4-1zm-1-8zm7 18zm5 5zm2-6zm6 6zm1 0zm2 0zm2-5zm0-1zm1-2zm1 8zm8 12zm-7-7zm-2 7zm-2-6zm-2 0zm-1 6zm-5-6zm-1 2zm-11 1zm-10 1zm-2 11zm1 2zm3-4zm2 0zm5-3zm4 0zm1 0zm1-1zm2 0zm0 5zm0-3zm2 1zm1-5zm6 2zm2 7zm1 0zm6-4zm0 0zm3-4zm2 1zm0 6zm1-8zm0 8zm12 3zm2-2zm18-1zm-7 5zm-6 7zm-4 0zm-3-7zm-6 3zm-1-3zm0 7zm-6-2zm-2 0zm0-5zm-1 5zm0-2zm-4-1zm-5 5zm-4-3zm-3 5zm0-4zm-3-2zm-2 0zm-4-3zm-2 7zm-4-2zm43 7z"/>
<path stroke="#472f7d" stroke-width="2.24" stroke-opacity="0.96" d="M538 84zm-21 6zm-7-4zm-22 5zm-14-1zm10 10zm13 5zm7-7zm6 1zm0 11zm-23 1zm-44 2zm0 0zm15 15zm12-6zm40 21zm-35 0zm-14-1zm-17 4zm3 1zm0-1zm9 5zm3-7zm1 8zm3 2zm2-9zm1 4zm2-3zm2 8zm1-2zm1-8zm0 11zm0-2zm3 1zm2-8zm2 2zm4 0zm0 3zm1 1zm0 2zm1-5zm1-2zm3 1zm2 4zm3 1zm5-1zm1 0zm0 1zm0-7zm1 7zm0 0zm1 0zm0 0zm3-5zm1 7zm1 0zm3-5zm1-6zm2 0zm2 7zm0 1zm3-4zm5 1zm3 17zm-5-4zm-1-2zm-3 0zm0 7zm-3-9zm-7-2zm-4 3zm0-2zm0 10zm-2-10zm-3 1zm-1 0zm-7 7zm0 2zm-1-9zm-2 3zm-3 5zm-2-10zm-1 0zm-6 4zm-1-2zm-2-1zm0 10zm-2-4zm-3-7zm-7 3zm0-3zm-3 3zm17 9zm3 1zm21 12z"/>
<path stroke="#414487" stroke-width="2.24" stroke-opacity="0.96" d="M489 78zm52 4zm34 11zm-2 0zm-19-6zm-3 0zm-10 6zm-5-9zm-10 8zm-15 7zm11 4zm-8 5zm-22 4zm-7 4zm0 13zm20-5zm2 1zm1-5zm8 3zm30 6zm25 1zm18-8zm-43 19zm-8-2zm-2-4zm-11 6zm-5-2zm-46 4zm-6 2zm3 7zm14-6zm5 7zm0-5zm1 7zm5 0zm1-3zm1 0zm0 0zm2 2zm2 1zm9-3zm1-1zm2-5zm4 8zm0-7zm2 5zm2-1zm3-2zm1 3zm6-4zm2-3zm3-1zm16 5zm4 0zm4 2zm20 6zm-48 2zm-5 6zm-5 0zm-2-3zm-1 4zm-1-3zm-1-2zm0 5zm-2-6zm-3 3zm-2-1zm-3 4zm0-5zm-2-1zm-8-3zm0 3zm-13-3zm-2 10zm-4-2zm-2-8zm-1 10zm-2-3zm0-1zm-7 1zm-14 2zm-4 8zm2-6zm2 9zm10 0zm7-4zm2 1zm1 0zm1-3zm1-3zm1 9zm0 1zm1-5zm1-4zm0 7zm4-4zm5-2zm4 3zm0 0zm0 6zm1-9zm2 1zm1 3zm18-2zm-1 13zm-1-5zm-23 7zm-6 2zm-2 0zm-6-3zm-6 0zm-1-3zm17 13zm5-1zm1-2z"/>
<path stroke="#39568c" stroke-width="2.24" stroke-opacity="0.96" d="M516 83zm20-3zm90 11zm-17-5zm-36 6zm-2 1zm-1 1zm-2 0zm-3-2zm-1-4zm-5 6zm0-1zm-5-8zm-3 2zm-1-1zm-2 9zm0-8zm-20 6zm-9-9zm-10 5zm-2 4zm-4-7zm-3 6zm-2 2zm0 12zm2-7zm6-2zm4 1zm16 4zm17 4zm3-1zm19-5zm4 0zm1 0zm7-1zm6 2zm19 1zm31-6zm-34 20zm-13 3zm-10-4zm-3 4zm-24-8zm-2-1zm-5-2zm-6 9zm-15-2zm-4-1zm1 8zm7 4zm35-1zm1 1zm2 5zm13-2zm4-4zm1-5zm5 8zm6-4zm3-1zm6 2zm2 1zm-19 10zm-2 0zm-1 0zm-4 4zm-2 0zm-2 0zm0-1zm-2 0zm0 0zm0 0zm-1-1zm-3 0zm-1-1zm-15 1zm-6 2zm-7 1zm-1 1zm-5-5zm-23 6zm20 3zm4 4zm1-4zm5 2zm2 1zm3-4zm2 0zm1-1zm4 2zm7-1zm0 0zm2 5zm4-1zm0 3zm6 0zm3 3zm1-9zm1 4zm0 4zm-26 8zm-3-1zm-11-5zm-12 5zm-2-1zm-5 0zm-1-1zm-1 6zm-3-9zm-4 5zm-11 0zm-20 1zm-29 1zm20 11zm13 1zm6 1zm11-7zm3 7zm5-3zm9-5zm0 10zm2-9zm9 8zm1-6zm8 3zm3-1zm4 5zm3-4zm4 1zm13 13zm-37-8zm-1 11zm-18-11zm-2 8zm-5-5zm-2 4zm-1-1zm-5 3zm-2-3zm-9 2zm-2 1zm-12-5zm10 8zm5 5zm6 6zm0-8zm1-2zm2 7zm7-3zm6-3zm1 1zm4 6zm11-6zm3 3zm-10 12zm-13 3zm-8-9zm0 6zm5 8zm10 4zm3-5zm28 2z"/>
<path stroke="#31688e" stroke-width="2.24" stroke-opacity="0.96" d="M528 83zm69-2zm27 1zm22 7zm-4 3zm-7-4zm-1 5zm-8 2zm-2-1zm-1-2zm-1-1zm-3 3zm-2-5zm-6-5zm-4 1zm-2-1zm-33 10zm-3-1zm-15-9zm-5 1zm-36 15zm15 2zm12 4zm10-10zm11 1zm3 2zm2 3zm3-1zm1 3zm8 1zm0-6zm10 3zm8 4zm24-1zm1-2zm2-3zm11-4zm3 10zm0 0zm-5 4zm-10-2zm-33 1zm-1 2zm-1 2zm-13 3zm-3 2zm-4-2zm-6-7zm-8 4zm-3 2zm-2-5zm-1 0zm-3-1zm-21 10zm39 9zm0 0zm2 1zm5-2zm0 1zm5 3zm11-10zm4-1zm0 11zm3-6zm7-3zm3 3zm30-1zm-30 17zm-6-7zm-13 3zm-1-4zm-2 5zm-1-6zm-5 4zm0 2zm-2 0zm-1-6zm-8 1zm-4 4zm-4 0zm0 0zm-16 0zm-19 14zm26-6zm3 3zm1 0zm8 7zm13 0zm1-11zm7 8zm13 0zm-9 9zm-9-1zm-1-3zm-26 1zm-27 12zm0 0zm1 0zm2-2zm4 5zm7 2zm4 2zm5-2zm1 4zm0-11zm27 6zm11 5zm3-11zm-5 20zm-35-8zm-5 8zm-3-4zm-5 4zm-7 2zm-6 1zm-6-6zm-3 3zm-3 3zm-3-5zm-8 4zm-6-4zm-16 4zm-2 10zm8 3zm3-5zm2 0zm2-1zm11 0zm1 2zm3-7zm1 11zm1-10zm2 10zm2-3zm1-6zm2 8zm6-4zm1-6zm4 6zm5 5zm7-8zm0 0zm8 3zm10-5zm4 7zm4-1zm-20 7zm0 0zm-1 8zm-4-8zm-1 6zm-1-3zm-2 0zm-5 0zm-2-1zm-3 1zm-1-1zm-8-3zm-7 1zm-3-1zm0 2zm-2-3zm-6 9zm-2-2zm-4-3zm-4 6zm-3-9zm-5 0zm14 14zm6-2zm4 6zm6-7zm1 2zm1 0zm4 8zm1-7zm6-2zm0 0zm3-1zm4 5zm5-2zm23 6zm-24 4zm-12 2zm-16-3zm17 14z"/>
<path stroke="#2a788e" stroke-width="2.24" stroke-opacity="0.96" d="M630 80zm19 10zm0-1zm-1 0zm-4 4zm-2 2zm-2-1zm-4-10zm-1 5zm-8-4zm-1 0zm-2-1zm-5 1zm-2 4zm-1 0zm-34 6zm-63 4zm16 7zm4-4zm13 1zm8-1zm2-6zm10 6zm8-1zm2 6zm28-3zm1-4zm3-4zm2 5zm0 0zm2-3zm2 0zm1 8zm3-2zm4-2zm6-5zm2 1zm1 8zm5-6zm7-2zm-17 12zm0 0zm-16 9zm-4-2zm-18 2zm-32 8zm6 0zm18 2zm7-4zm6 2zm4-5zm9 4zm7-6zm3 1zm1 7zm9-4zm5 4zm-7 8zm-4 4zm0-7zm0 7zm0-3zm-1 1zm0-1zm0 1zm0-1zm-9 2zm-30 0zm0 0zm-18 0zm-11-4zm36 13zm4-3zm19 7zm0 0zm-12 5zm-19 3zm-35 6zm-21 5zm71 11zm-20 6zm0 0zm0 0zm-2-1zm-6-2zm-16 6zm-9-3zm-1-1zm-2 4zm-2-6zm-3 4zm-6-7zm-1 8zm-6-4zm-3-5zm-20 5zm0 16zm8 1zm14-3zm11 0zm0-1zm1-3zm7 2zm0-2zm1 3zm2-2zm3-2zm9 1zm1 0zm1 1zm0 6zm2-2zm0-7zm14-1zm4 1zm-5 13zm-5 3zm-10 2zm0 0zm-8-1zm-1 2zm-11 0zm-1-8zm0 9zm-2-2zm-3 1zm-4-8zm-1 8zm-3-3zm-2-1zm0 4zm-2-1zm-1-6zm-1-2zm-1 1zm-1 4zm-1 5zm-1-10zm-2 0zm-1 3zm-3-3zm-1 2zm-3 1zm-1-3zm-3 0zm-3 8zm-2-8zm0 4zm-4-3zm-6 0zm-11 7zm13 7zm1 8zm0 0zm5-6zm1 4zm1-2zm5 4zm2-3zm1-8zm2 10zm1 0zm0 1zm4-7zm3 0zm3 3zm6-5zm3 5zm2-5zm12 3zm2-2zm1 1zm3-4zm11 0zm-11 17zm-6 1zm-11-5zm-5 9zm-1-5zm-1 3zm0-7zm0-1zm-5 6zm0-6zm-3 1zm-4-1zm0 2zm-5 7zm-12-9zm19 12zm3 11zm19-9zm2 7zm0 0z"/>
<path stroke="#23888e" stroke-width="2.24" stroke-opacity="0.96" d="M632 86zm-54 11zm20 10zm15-10zm16 1zm17-2zm3 1zm-19 18zm-33 1zm-7-8zm-1 8zm-16 6zm14 3zm14-3zm12 0zm24 6zm0 0zm-12 10zm-1-1zm0 0zm-24 45zm0 0zm-2 0zm-1-1zm-35 0zm-22 10zm-13 0zm-12 10zm17-1zm11-5zm9 6zm1-6zm7 5zm4 2zm2 1zm2 0zm18-7zm0 0zm-10 11zm-5-2zm-4 10zm-6-3zm-2 3zm-5-5zm-1-1zm0 4zm-10-6zm-1 2zm-1-5zm-8 1zm-8 3zm-1 0zm-3 5zm-32 13zm11-3zm11 4zm15-2zm1-4zm2 6zm1-5zm0-6zm0 0zm1 7zm1-2zm4 5zm2-7zm0 1zm2-1zm0 0zm7 2zm1-4zm2 1zm1 1zm2-2zm1 2zm1 1zm4-3zm0-1zm0 0zm3 7zm1 1zm2-6zm1-2zm1 1zm-7 19zm-6-6zm0 6zm-2-4zm0 1zm-7-2zm-2 4zm-1-7zm-1 5zm-5 3zm0-7zm-7-1zm-4 3zm-1-1zm0 7zm-1-7zm-1 3zm-20-1zm25 16zm2-6zm3 0zm12 0zm2 5zm0-7zm6 1zm5-1zm-29 14z"/>
<path stroke="#1f988b" stroke-width="2.24" stroke-opacity="0.96" d="M625 137zm-25 45zm-2-1zm-12 15zm-26 17zm0-1zm-9-2zm-20 17zm5-3zm1-4zm11 3zm4 2zm2 2zm0-2zm4-8zm3 4zm3 1zm7 1zm-2 5zm-2 3zm0-1zm-5 2zm0 1zm0 0zm-2 3zm-6 0zm-1 2zm-3-3zm-16-4zm-1 5zm-2 0zm-2 2zm0 1zm-15-7zm-10 0zm11 12zm30 3zm1 0zm0 0zm0 0zm2-5zm8-1z"/>
<path stroke="#22a884" stroke-width="2.24" stroke-opacity="0.96" d="M570 204zm-8 17zm5 2zm-7 15zm-17-4zm2 13zm0 0z"/>
<path stroke="#35b779" stroke-width="2.24" stroke-opacity="0.96" d="M556 241z"/>
<path stroke="#440154" stroke-width="2.24" d="M432 106zm0-2zm18 3zm24-5zm1 5zm0-4zm1-4zm1 8zm0-4zm3 2zm2-2zm4 1zm12 0zm19 1zm17 5zm-3 7zm0-8zm-6 10zm0-4zm-2 4zm-3-4zm-2 0zm-2-3zm-3 6zm-1-7zm-3 7zm-7-9zm-1 5zm-3 0zm-1-3zm-1 8zm-1-10zm-6 7zm-1-7zm-8 10zm-1 0zm0 0zm-1 0zm-6-5zm-2 0zm-2 5zm-1-5zm-4-1zm-1-4zm-15 1zm-1 9zm5 5zm19 4zm4-1zm2 3zm7 0zm1-7zm1 3zm1 0zm2 0zm2 2zm1 3zm1-3zm1-5zm3 3zm1 0zm0-1zm2 1zm0 0zm1 1zm0-2zm1 1zm1-5zm0 0zm2 3zm5-2zm2-2zm1 11zm1 0zm1 0zm0-1zm1-4zm0-2zm2 0zm2 7zm1-10zm1 1zm0 5zm1-7zm0 9zm1-7zm1 2zm1 4zm0-8zm1 10zm1-2zm2 1zm4-7zm0 3zm1 1zm1 1zm1-5zm0 2zm1 1zm2 2zm0 2zm2 2zm0-5zm4 0zm0-4zm1 6zm1-2zm3 5zm1-3zm1 3zm2-1zm1 1zm-1 4zm-1 0zm0 3zm0-4zm0 8zm-1-4zm-1 1zm-1 3zm0-8zm-4-1zm0-1zm0 11zm0-3zm-2-4zm0 5zm-2 2zm0-10zm-2 10zm-1 0zm-1-1zm-1-7zm0 5zm0-4zm0 4zm-1 0zm-1-6zm-1 9zm0-9zm0 7zm-1-1zm0 1zm-1-1zm0-2zm-1 0zm0 0zm-1-4zm0 4zm0 1zm-1 2zm0-7zm-1 2zm0 2zm-1 5zm-3-7zm-1 1zm-1-2zm0 7zm-2-7zm0 8zm0-9zm-4-1zm0 0zm-2 9zm0-4zm-1 0zm0-6zm-1 11zm0-6zm-2-5zm0 9zm-2 2zm0-1zm-1-4zm0 3zm-2-7zm0 3zm-3-4zm-1 7zm0-7zm0 7zm-2 0zm0 3zm-1-5zm0-1zm-1 6zm-1-5zm-1 0zm0-4zm-1 0zm-1 3zm-1 1zm-3-1zm-1-2zm-3 1zm-2 1zm0-4zm-1 4zm-2-5zm-10 1zm7 22zm3-7zm19-2zm3-2zm2 3zm1 1zm3 1zm7 1zm4 1zm1-3zm0 4zm2 0zm1-3zm0 6zm0-10zm0 4zm0 0zm1 1zm0 3zm2-7zm1 6zm1-8zm5 3zm0 7zm2 0zm1 1zm0 0zm1-4zm0 4zm0 0zm0-1zm1-5zm0 0zm1 2zm0 4zm0-11zm2 10zm1-2zm5 3zm0-11zm0 3zm1 5zm4-8zm-2 13zm-1 1zm0 9zm-1-2zm-1-6zm0-2zm0 7zm-8-1zm0-7zm0 0zm-4 9zm-4-7zm-1 9zm-1-9zm0 9zm-1-11zm0 0zm-1 1zm-2 10zm-1-2zm-1-2zm-1 2zm-1 0zm-1 2zm-2-11zm-2 0zm-2 6zm-7 5zm-2-6zm-5-2zm-2-3zm-1 9zm-3-3zm-4-2zm-14 3zm-3-2zm23 8zm11 6zm1 0zm8 0zm3-3zm9 0zm0-4zm2 0zm1 1zm4 9zm2-7zm0 7zm2-10zm0 4zm0 0zm2 4zm2-6zm0 1zm-18 15z"/>
<path stroke="#481a6c" stroke-width="2.24" d="M481 91zm-9 3zm11 13zm81 12zm-5-2zm-58-7zm-8 0zm-2 0zm-2-2zm-26 14zm5 5zm21 0zm7-4zm8 0zm12 4zm9 4zm23-2zm3-3zm18 8zm-17 4zm-3 5zm-2-4zm-1 2zm-3-6zm-5 5zm-7-1zm-7-2zm-5-4zm0 8zm-1 2zm-2 0zm-5-1zm-3 1zm-2-1zm-2 0zm-1-1zm-6-2zm-2 0zm-3-1zm-1-5zm0 0zm-1 0zm-13 7zm-3 14zm16-10zm4 1zm8 6zm2-3zm4 3zm11-5zm0 4zm1-2zm0 3zm1-4zm2-3zm1 1zm0 5zm1 3zm2-9zm1 11zm1-8zm1 6zm3 0zm1-3zm0 5zm2-4zm2-6zm4-1zm1 10zm0 1zm2-3zm0-4zm4 5zm2 0zm-2 14zm0 0zm-1-2zm0 0zm0 0zm0-8zm-1 4zm-2 1zm0 2zm-1 0zm0-8zm-1 3zm-1 7zm-2-4zm-2 1zm-4-2zm0 0zm-1-3zm0 7zm-1-6zm-1-2zm-4 1zm0 6zm-1 2zm-5 1zm0-5zm-1 0zm0 3zm-2 0zm-3-6zm-1 2zm-1 5zm-1 0zm-3-3zm0-4zm0 3zm-4-3zm-1 2zm-1 1zm0-3zm0 0zm-2 8zm-1-1zm0-5zm-1-4zm-2 6zm-4 3zm0 1zm-1 0zm-2-7zm-1 4zm-4-4zm-2 6zm-2-5zm-1 0zm-2 4zm0-4zm-4 12zm8-4zm3 8zm2-7zm0 2zm1 1zm4-4zm1 3zm1 3zm1 0zm2-4zm0 0zm1-3zm3 2zm0-2zm1 0zm2 0zm3 11zm5-2zm2-6zm3 4zm0 3zm2-6zm0-2zm0 0zm1 4zm0 0zm4-3zm1-3zm1 9zm0-5zm2-3zm1 5zm3-2zm2-1zm0 6zm1 1zm5-6zm0-3zm1 8zm0 0zm0 0zm1-8zm0 2zm2-1zm2 4zm1 0zm1-6zm1 1zm3 3zm-12 13zm0-2zm-6-3zm0 4zm-1-3zm0 0zm-1 4zm-1 1zm0 1zm0 0zm-3-3zm-3 1zm-2-2zm-6 3zm-5-4zm-16-2z"/>
<path stroke="#472f7d" stroke-width="2.24" d="M483 93zm8 14zm51 0zm3-9zm47 2zm-17 19zm-4-3zm-40-8zm-3 11zm-2-3zm-6-4zm-1 18zm22 3zm-3 4zm-45 7zm5 11zm7-7zm17 7zm1 0zm4-7zm1-2zm14 9zm7-1zm15 6zm-2 6zm-5 0zm-7-9zm-1 10zm0 0zm-6-4zm0 0zm-3 0zm-1 4zm0-2zm-1 0zm0-4zm-2 5zm0-4zm-1 5zm-1-7zm-2 3zm0-4zm0 1zm0-1zm-1-1zm-1 7zm-2-2zm0 2zm-2-3zm-4-1zm-1 0zm-1-1zm-5 3zm-1 2zm-9-5zm-2 7zm-1-2zm-7 0zm-5-1zm-2-5zm-14-1zm-5 8zm21 4zm0-2zm0 2zm1-2zm5 0zm3 9zm1-3zm1-5zm0 8zm2 0zm3 1zm1-6zm1-1zm3 6zm5-9zm0 0zm0 7zm1 1zm2-3zm0-4zm1 2zm1 4zm2 4zm1-1zm0-2zm1-2zm1 1zm3 1zm1-2zm1 0zm2-3zm0-3zm0 8zm2-8zm1 5zm0-1zm1-1zm1-1zm1 9zm2-5zm1-3zm2-1zm1 5zm1 1zm0 2zm3-8zm2 4zm0 4zm0 1zm1 0zm0 0zm1-11zm0 11zm0 0zm3-9zm1 5zm0 1zm2-7zm3 8zm-7 4zm-3 0zm-3 1zm-2 0zm-1-2zm-1 6zm-1 0zm0 0zm-3-3zm-1 0zm0 0zm-1 2zm-5-5zm0 0zm-3 6zm0-4zm-3 6zm-3-5zm-1 3zm0-1zm-3-2zm-3 1zm0 0zm-4-3zm-14 3zm-4-1zm13 20zm3-4zm21 0zm4-3z"/>
<path stroke="#414487" stroke-width="2.24" d="M566 88zm-9 17zm22-4zm11 1zm3 1zm13 2zm-38 7zm-17-1zm0 4zm-7-2zm-20 0zm2 7zm7 10zm18-3zm10 1zm1-4zm1 4zm6-5zm9-2zm-29 32zm19 2zm12 0zm13-9zm-9 11zm-14 5zm-3 2zm0 2zm0 1zm-2-10zm-1 9zm-1-10zm0 8zm-2 0zm-6 1zm-7-5zm-7 6zm-8-4zm-2-1zm-1-3zm-5-2zm-1 0zm-5 11zm-6-4zm-8 1zm-1 1zm-18-2zm0 16zm10-3zm1-3zm14 5zm0 0zm0-5zm2-5zm4 4zm2-1zm1-1zm4 0zm1 2zm2 0zm5 6zm1-7zm1 4zm3-6zm0 4zm4 1zm1 1zm1-5zm1 0zm1 6zm1 0zm3-4zm4-1zm2 0zm1 4zm0 0zm1-5zm0 5zm0 0zm0 1zm2-3zm1 0zm0-2zm1 6zm1-9zm0 9zm2 7zm-2 4zm-2-8zm-4 5zm0-5zm0 1zm-1-1zm0 0zm-4 3zm-1 0zm-1-3zm-12 8zm-5-3zm-1-2zm-3-1zm0 3zm0 0zm-2 3zm0-8zm-5 8zm-1 1zm-3-8zm-14 9zm-1-4zm-3-2zm-3 7zm-2-9zm-1 7zm7 10zm1-4zm4 4zm2-4zm14 5zm3 0zm4 1zm9-6zm3 3zm-6 7zm-1 7zm0 0zm-2-2zm-10-3z"/>
<path stroke="#39568c" stroke-width="2.24" d="M557 83zm15 12zm0 0zm-1-6zm-2 4zm-38 14zm10-1zm1-4zm24 3zm16-6zm3-1zm5 1zm2 4zm10 1zm6 3zm5 11zm-3-7zm-4-3zm-5 6zm-2 2zm-14 3zm-5-10zm-3 7zm-2-1zm-6 4zm-9 0zm-13 0zm-7-8zm19 19zm1-2zm1-5zm7-1zm6 1zm3 4zm14 0zm18 1zm5 5zm-30 9zm-4-4zm-4 3zm-51 14zm13-1zm4-9zm7 0zm7 9zm23-6zm3 1zm3-3zm2 0zm2 0zm1 15zm0-1zm-7 1zm-2-3zm0 0zm-3 3zm-1-3zm0 6zm-1-6zm0 0zm-1 4zm0 0zm-3-4zm-1 7zm-2 0zm-1-8zm-4 2zm0 1zm-1 2zm-8 4zm-11-2zm-5-8zm-9 10zm-22 11zm31 2zm0-4zm3-5zm9-1zm4 8zm2-7zm5 7zm4 11zm-3-3zm0-4zm-1 0zm0-1zm-3 2zm-1-1zm-2 4zm0-5zm-9 5zm-1-5zm-3 5zm0 5zm-14-6zm0 7zm-3-1zm-4-9zm-10 6zm-2 3zm-5-4zm-5-1zm0 14zm2-6zm0 4zm1 0zm11 6zm3-4zm2 3zm3-5zm2 4zm6-4zm2 1zm0 1zm0 4zm2-10zm6 5zm3-2zm3 2zm4 3zm8-9zm2 1zm-13 17zm0 1zm-6 3zm-7-2zm-1 0zm-3-4zm-2 1zm-2-2zm-2 1zm-1 7zm-5-11zm-8 2zm-1 2zm-1-1zm-4 9zm28 0zm-2 18zm-5-2z"/>
<path stroke="#31688e" stroke-width="2.24" d="M542 102zm38-6zm9 5zm18 5zm30-9zm0 0zm0 0zm0 0zm1 0zm-22 13zm-4 8zm-12-8zm-2 2zm0 6zm-1-4zm-9-1zm-16 6zm-8-2zm0-6zm-4 4zm-12 2zm21 4zm3-1zm9 7zm1-3zm1 4zm8 3zm20-1zm1-10zm-7 20zm-7-7zm-13 9zm-5-4zm-6 2zm5 14zm14-10zm2 3zm-5 14zm-1 6zm0-1zm-7-10zm-16 32zm-2-5zm0 1zm-15 4zm-42 13zm14-1zm14 3zm11-5zm14-5zm1 0zm3 0zm3 2zm-14 10zm-5 3zm-1 3zm-6-3zm-1 6zm0-6zm-1 0zm-1 2zm-4-2zm-1 6zm-6 1zm-6-9zm-2 7zm-14 2zm15 6zm8-3zm3 0zm4-2zm7 3zm2 5zm0 1zm10-7zm-17 19zm-4-2zm-3-7zm-1 4zm-2 5zm-1-8zm-9 4z"/>
<path stroke="#2a788e" stroke-width="2.24" d="M598 105zm39-7zm-24 12zm-10 5zm-24-6zm-7 10zm9 5zm0 3zm19 1zm5 4zm-2 0zm-9 10zm-6-6zm7 8zm4 0zm0 0zm0 0zm-10 19zm-43 14zm31-8zm-19 15zm-26 18zm7-3zm27-4zm1 0zm0 0zm-8 10zm-1 0zm-1 2zm-1 6zm0-1zm0 0zm-33-5zm3 12zm12 8zm2-11zm1 2zm1-1zm2 1zm-7 19zm-1 0zm-2-9zm0 9zm0-6zm-1 5zm-3-2zm0 0zm-6 1zm-4 3zm10 9zm0-5zm0 0zm3-2zm0 0zm1 0z"/>
<path stroke="#23888e" stroke-width="2.24" d="M615 127zm-17 16zm-65 92zm-2 12zm3-7z"/>
<path stroke="#1f988b" stroke-width="2.24" d="M554 218z"/>
<path stroke="#472f7d" stroke-width="2.32" stroke-opacity="0.80" d="M877 100zm14-1zm-13 15zm-5 26zm-4 2zm-12 14zm-11 4zm-19 19zm20-3zm4 13zm-16-1zm-22 3zm8 1zm29 9zm4-8zm-2 12z"/>
<path stroke="#414487" stroke-width="2.32" stroke-opacity="0.80" d="M899 59zm16 6zm-5 4zm-2-3zm-19-3zm-2 4zm-8 13zm2-2zm1-2zm11 4zm1-5zm1-3zm1 4zm10 8zm-6 7zm-2 0zm-3-1zm-11 0zm-1 4zm-8-2zm-8 14zm4 0zm1 1zm3-4zm2 0zm7-5zm2 8zm1-7zm3 0zm2 1zm3 0zm2 1zm4-3zm-8 19zm-5-2zm-1-1zm-7 5zm-1-11zm-5 3zm-6 4zm-8 2zm0-5zm-3 4zm2 15zm4-1zm5-2zm7-8zm0 6zm7 1zm1-5zm3-1zm0 0zm6-1zm-12 19zm0-2zm-4 4zm-1-1zm0-4zm-1 4zm0-5zm-3 3zm-7-3zm-3 6zm-8-6zm-1-1zm-8 4zm-10 16zm5 0zm3-5zm4-5zm0 4zm3 5zm9-1zm1 3zm2-9zm2 4zm5-4zm2 0zm2-1zm4 7zm-6 11zm-3-2zm-6 2zm0-2zm-2 4zm0-2zm-1 1zm-2-3zm-7-4zm-6 0zm-2 3zm-2 3zm-11 14zm4 1zm5-1zm17-1zm8 2zm1-4zm-4 16zm-2-6zm0-4zm-5 8zm-4-3zm-1-1zm-3-4zm-2 0zm-7 6zm-1 1zm-7-2zm-5 0zm-1 5zm-1-10zm-3 12zm5 2zm2 0zm3 1zm5-1zm2 2zm5 4zm1-5zm3 5zm2-8zm0 3zm4 7zm2-5zm1 2zm3-2zm-3 7zm-4 1z"/>
<path stroke="#39568c" stroke-width="2.32" stroke-opacity="0.80" d="M895 58zm13-9zm1 5zm2-6zm-11 17zm0-4zm0 6zm-2 1zm-9-3zm-2 4zm-6 9zm2-3zm3 5zm5 2zm3-5zm3 3zm5-1zm6-7zm-10 22zm-1-9zm0 2zm-7 2zm-1 4zm-4-9zm-1 10zm-1-3zm0-1zm0 5zm-3-6zm-2 3zm-1-7zm0 1zm-1 9zm-5-1zm-7 10zm4 1zm3 2zm2-2zm5-8zm2 2zm0 1zm1-4zm0 5zm2 6zm0-8zm4 0zm3-1zm6 5zm0 2zm4-7zm-3 10zm0 4zm-6-3zm-1 3zm-1-2zm-2 0zm-1 9zm-5-9zm-1 7zm-1-9zm0 3zm-2 7zm-1-5zm0 4zm0 0zm-1-6zm-6 1zm-2 7zm-2 0zm0-4zm-3-6zm-2 4zm-1-1zm-1 3zm-1 1zm0 9zm8 1zm1-1zm14 4zm1 1zm2-3zm2-1zm0-4zm3 6zm-6 4zm-1 0zm-1 10zm-3-6zm-1 1zm-2-3zm-3 8zm0 0zm-3-8zm-4 2zm-4-4zm-4 10zm-3 0zm-1-4zm-1-2zm-1-4zm-2 8zm-2-3zm0-1zm-2 3zm-3 4zm-2 11zm7-6zm0 4zm0-1zm2-5zm4 0zm2 7zm2 2zm2-6zm2 0zm0 4zm4-6zm1 5zm1-1zm1 4zm2-1zm1-3zm4 4zm1-1zm2-7zm-9 13zm-2 7zm-1-1zm-2-2zm-1 2zm-5-7zm-1-3zm-3 8zm-3-1zm-1 3zm-1-8zm-5 2zm-3 4zm-3 3zm-4-10zm-2 2zm5 10zm0-1zm3 6zm1-6zm0 1zm4 2zm2-3zm0 0zm1 11zm0-6zm4 0zm1 1zm2-1zm0 6zm3-8zm1 5zm5-6zm1 0zm3 3zm2-4zm-6 13zm-6 2zm0 4zm-3-3zm0 2zm-4 3zm-4-6zm-2-2zm-1 4zm-2-3zm-6-2zm0 5zm-1-1zm-1 2zm-3 3zm-1-1zm-6-3zm-1-4zm-1 3zm-7 5zm0-2zm15 4zm1 3zm1-1zm3 3zm10-1zm4-4zm1 4zm1 7zm2-5zm0-2z"/>
<path stroke="#31688e" stroke-width="2.32" stroke-opacity="0.80" d="M896 53zm5 6zm6-2zm6 13zm-7-8zm-2 2zm-1-2zm-4 2zm-9 19zm4-5zm0 3zm7-3zm2 4zm0-7zm1-2zm4 0zm0 9zm2-5zm-6 13zm-4-5zm-4 2zm0 8zm0-9zm-1 6zm0-2zm-4-6zm-5 0zm-4 8zm-1-8zm-1 11zm-1-1zm-1-5zm-4 4zm-2 0zm-1 1zm-4 4zm0 6zm3-6zm3 2zm1 4zm1-4zm3 0zm3 6zm5-1zm3-1zm0-3zm3-1zm3 0zm1 4zm2 6zm-1 2zm-4-2zm-2 2zm-7 0zm-1-3zm-2 3zm-2 7zm-1-6zm-7-2zm0 5zm-1-7zm0 2zm-1 6zm0-6zm0 1zm-1-1zm-1-1zm-3 9zm-6-3zm-2 3zm-8 12zm0 0zm3-1zm5 1zm1-5zm1-6zm3 0zm2 10zm1-2zm1-3zm0 6zm1 0zm0-10zm1 2zm1 4zm3-3zm0-4zm0 1zm1 0zm2 6zm2-2zm4-3zm1 6zm2-1zm4-6zm0 7zm-3 5zm-1 4zm-3-3zm-1 0zm-8 6zm-3-7zm-1 2zm-2 5zm-8 3zm-1-10zm-1 5zm-1 2zm0 0zm0-1zm-5-6zm-4 6zm-3 4zm-3 8zm3-2zm4 4zm1-1zm1-6zm1 0zm8 1zm0 3zm4-6zm0 5zm0 0zm3 5zm6-8zm1 2zm7 4zm-6 7zm-1-2zm-1 6zm-4 1zm-3-6zm-4 5zm0 0zm-3-6zm-1 3zm0 3zm-4 1zm0-1zm-3-1zm-5 4zm-1 0zm-2-5zm-9-1zm-9 15zm1-3zm0 2zm4-3zm1 5zm2-6zm1 8zm0-2zm1-2zm2 3zm2-9zm5 11zm0-5zm1 4zm2-9zm4-1zm2 8zm2-2zm2 5zm2-5zm3 3zm1-9zm4 6zm2-3zm-6 17zm0-8zm-3 3zm0 2zm-3-5zm0 10zm-3-7zm-2 6zm-2-6zm-1 3zm0-1zm-1-5zm0 10zm-2-8zm-2-1zm-1 9zm0-10zm-3 3zm0 5zm-4-1zm-4-3zm-8 5zm-2 0zm0-9zm-3 12zm5 1zm0 0zm4 2zm13-3zm1 7zm4-2zm1 6zm4-2zm0-4zm3-5zm1 3zm3-3zm2 0z"/>
<path stroke="#2a788e" stroke-width="2.32" stroke-opacity="0.80" d="M901 59zm4 0zm4-9zm3 8zm3 10zm-2 1zm-6-3zm-2-5zm-2 9zm0-1zm-8-7zm-1 3zm-1 1zm-2-6zm-2 6zm-2 2zm-8 13zm2-3zm1 5zm2-1zm0-10zm1 5zm2 5zm2 0zm11-5zm1-1zm1 1zm1 0zm-4 17zm-1 0zm-1-9zm-2 10zm-5-2zm0-1zm-3-6zm0 1zm-2 4zm-5-1zm0 5zm-2-4zm-12 12zm1 0zm1-4zm1 2zm1 1zm1 3zm3-1zm0 2zm0-6zm0-2zm3 3zm4 1zm2 2zm1-6zm2 6zm3 1zm4 0zm3-2zm-2 6zm-8-1zm0 9zm-5 1zm0-8zm-3 4zm-1 5zm-1-2zm0-1zm-1-3zm-2-1zm-4 7zm-2-11zm-2 11zm-2-9zm-4 7zm-10 13zm1-2zm1-1zm3-2zm0-3zm2 3zm5 5zm1-5zm1 6zm1-11zm1 1zm1-1zm4 9zm11-5zm1 5zm0 1zm0-1zm1-2zm4-2zm3-4zm-8 18zm-1 4zm0-5zm-2-5zm-1-1zm-1 7zm-5-5zm-1 2zm-1 5zm-2-6zm0 6zm-1-8zm-1 6zm-1 1zm0-4zm-1 4zm-6 0zm-3-6zm0 3zm-1 5zm-1-1zm0-4zm-1 1zm0 1zm-6-4zm-1 2zm-2 6zm-2 0zm-8 12zm4-1zm0-4zm4-4zm0-2zm1 7zm3 3zm1-2zm1 2zm1-7zm0 2zm2-1zm2 0zm0-4zm6 2zm0 1zm1 1zm3-2zm0 2zm5 3zm3-7zm0 11zm4 2zm-4 1zm-2 4zm0-6zm-3 6zm-1 4zm-2-9zm-1 8zm-2-8zm0 3zm-2 4zm-1-8zm-1 8zm-5-5zm-1 6zm-1 1zm-3-10zm0 9zm-1-6zm0 3zm-2 5zm-1-9zm-1-2zm-1 4zm-3 4zm-2-7zm0 2zm-3 2zm-10 16zm4 2zm1-3zm0-8zm5 5zm1 3zm2-5zm0 0zm2-1zm1 9zm1-11zm3 4zm1-3zm2 10zm1-8zm1 2zm3-4zm3 6zm2 1zm1 3zm0-3zm5-8zm1 3zm0 3zm1 4zm0-10zm1 6zm1 1zm1-7zm3 0zm-4 12zm-4 11zm-5-10zm-1 5zm-3-1zm-1 4zm0-4zm-1 6zm-2-2zm0-4zm-5 6zm-3-1zm0-4zm0 4zm-2-8zm-4 5zm-1-5zm-1 2zm-1 5zm0-3zm-2 0zm-4 1zm-2-2zm-4-5zm0 1zm0 0zm-3 5zm15 7zm6 5zm3-6zm4 11zm0-7zm2-3zm1 6zm1-3zm9-3zm-10 12zm-1 0z"/>
<path stroke="#23888e" stroke-width="2.32" stroke-opacity="0.80" d="M904 47zm-4-3zm0 14zm13-5zm9-1zm-19 15zm-1 3zm-1-2zm-5-2zm-2-1zm-2-1zm-1 5zm-12 11zm1-1zm4-4zm5 3zm2 4zm3-4zm1-3zm3 2zm3-1zm2 2zm1 3zm3 3zm-5 2zm-2 8zm-1-6zm0 5zm-1-1zm0-6zm-1 8zm-5-1zm-4-1zm-10-2zm0 4zm-3-3zm-5 8zm0-3zm12 4zm1-3zm2 5zm1 0zm7 1zm3 2zm2-6zm3-3zm-8 14zm-4 6zm-1-1zm-1 4zm0-11zm-1 3zm0-3zm-2 9zm-7-6zm0-2zm-3 3zm-1 6zm-2-10zm-1 5zm-3 3zm0 2zm-3-8zm0 9zm-6-3zm-9 15zm3 0zm0 0zm3-10zm0 3zm0-1zm9-2zm1 8zm3-5zm1 3zm1 4zm0-11zm2 3zm0 1zm0 6zm5 1zm0-2zm0 0zm1-3zm1 5zm2-9zm5-2zm5 4zm-9 13zm0 0zm-1 6zm-1-5zm-1-3zm-6 5zm0 0zm-2 1zm-1-4zm-1-1zm0 2zm-1 1zm-3 1zm0-4zm-1 1zm-10 1zm0 3zm0-8zm-1 8zm0-2zm0-1zm-1-2zm-1 7zm-4-5zm-3 2zm-1 1zm-6 8zm0 5zm3-2zm1 0zm3 0zm2-8zm1 7zm1-3zm2 4zm5-5zm2-1zm5 6zm0-3zm6-4zm4 3zm3 3zm2 2zm4-8zm-9 18zm-1 0zm-1 2zm-1 0zm-1-8zm-1 1zm-1 9zm-2-1zm-3-2zm-1-5zm-5 3zm0 5zm-1-11zm-6 4zm-1-4zm0 11zm-1-5zm-2 5zm-1-11zm0 8zm-1-3zm0 0zm-1 1zm-1 4zm-9-7zm-10 19zm2-5zm0 3zm7 0zm0 2zm1-5zm1-4zm4 2zm1 1zm0 2zm2 0zm3-6zm0 6zm3-4zm0 6zm2 0zm3-8zm2 8zm1-3zm1 1zm0 2zm1-1zm0 2zm0-7zm1 1zm3 1zm4 4zm2-5zm0 3zm1-2zm-6 11zm-1 2zm-1 0zm-1-5zm-4 10zm-3-7zm-2 3zm-2-1zm0 0zm-2 6zm-1-4zm-1-2zm-2-5zm-1 9zm-6-3zm-1 0zm-2 2zm-2-7zm-2 8zm-2-5zm-6 9zm13 3zm0-1zm9-3zm0 3zm1-3zm0 8zm4-2zm1-3zm1 3zm3 5zm3-7z"/>
<path stroke="#1f988b" stroke-width="2.32" stroke-opacity="0.80" d="M907 46zm-13 11zm0 0zm1-2zm19 10zm-19-5zm-9 17zm0 4zm2-1zm9 1zm2-7zm6 1zm1 5zm1-7zm-4 17zm-2 5zm-2-9zm0-1zm-2-1zm-34 23zm7-3zm3 2zm2-1zm1 2zm4-3zm0 2zm1-2zm2-1zm1 2zm10-7zm-2 13zm-2-1zm-2 7zm-2-8zm-10 2zm-5-3zm0 2zm-3 4zm-1 3zm-2-4zm-4 2zm-1-3zm-1 8zm4 4zm0-4zm7 5zm4 1zm6-2zm1 4zm10-7zm-10 21zm-4-7zm-1-1zm-1 9zm-1-8zm-2 6zm-9 1zm-1 1zm-1-11zm-5 9zm0-9zm-1 8zm-20 13zm5 2zm1-7zm6-4zm2 10zm1 0zm4-4zm4-5zm0 3zm4 7zm2-5zm1 1zm2-4zm1 7zm1 0zm0-8zm6 2zm0 3zm1-1zm-3 11zm0-5zm-1 5zm-2 6zm-8-10zm-1 5zm-19-5zm-3 8zm-3-3zm-3-6zm-2 7zm-2 1zm-6 10zm2-2zm6 5zm1-2zm2 0zm2-1zm5-2zm1-4zm5 7zm1-5zm3 0zm1 1zm3 6zm0-3zm4-6zm3 8zm4-4zm-6 10zm-7 9zm-3-9zm-3 1zm-1 7zm-6-9zm-4 1zm-7 8zm-3-10zm-11 9zm5 3zm2 1zm3 1zm4 0zm0 2zm2-3zm6 4zm3 2zm1-1zm2-2zm1 5zm4-3zm0-4zm0 6zm2-8zm1 3zm0-3zm0 8zm1-5zm1-2zm0-1z"/>
<path stroke="#22a884" stroke-width="2.32" stroke-opacity="0.80" d="M902 48zm3 3zm10-3zm-12 23zm-12-5zm-3 0zm-2 5zm-7 10zm8-3zm14 4zm2-2zm1-4zm1 1zm1 9zm-5 5zm-2-3zm-5-4zm-1 3zm-5 4zm-1-4zm-1-3zm-11 3zm-7 11zm6 4zm4 0zm1 0zm3-6zm6 10zm2-10zm4 10zm0-1zm1-6zm1-3zm2 8zm-8 11zm-9 2zm-2-3zm-9-4zm-3 1zm-2-1zm-4 0zm-1 3zm-11 17zm14 0zm3-9zm19 8zm-24 4zm-5 10zm-3-3zm-12 8zm8-2zm7 3zm10 4zm2 1zm5-1zm1-8zm0 11zm-5 11zm-1-11zm-1 8zm-2-7zm-3 9zm-4-9zm-9-1zm-6 10zm-8 1zm-5-5zm-9 14zm6 0zm4 0zm1-5zm1-1zm0 0zm4 7zm4 2zm12-4zm4 2zm6-3zm-4 11zm-4-4zm-2 1zm-5 3zm-8 5zm-1-4zm-2 2zm-10-1zm-2 0zm-1 1zm-2-7zm-4 10zm23 8zm0-4zm4 1zm8 0zm4-3zm-12 11z"/>
<path stroke="#35b779" stroke-width="2.32" stroke-opacity="0.80" d="M901 45zm1 6zm10 15zm-7 5zm-24 10zm12 7zm-7 7zm-5 5zm0 9zm-10 5zm-7 5zm-8-2zm16 12zm-17 5zm-2 6zm-5-5zm-4 19zm5-6zm24-1zm-4 20zm0 0zm-20 0zm-7-11zm-13 15zm1 7zm2-3zm25 1zm7 2zm-14 12zm-10-3zm-5-1zm-3 10zm17 0z"/>
<path stroke="#54c568" stroke-width="2.32" stroke-opacity="0.80" d="M905 71zm-18 9zm9-7zm-12 19zm-2-2zm-7-4zm22 12zm-31 22zm15 4zm-18 23zm-11 24zm-5 16zm-30 4zm31 15z"/>
<path stroke="#7ad151" stroke-width="2.32" stroke-opacity="0.80" d="M910 69zm-4 2zm-1-5zm-12 4zm-6 11zm5 1zm14-4zm-17 20zm5 1zm-14 13zm-32 19zm33 8zm-15 0zm-1 3zm-3-3zm-6 11zm3 17zm-32 7zm2 4zm10-8zm6 7zm-3 10zm-3 2zm-4-5zm-3 12zm8-4zm4 0z"/>
<path stroke="#a5db36" stroke-width="2.32" stroke-opacity="0.80" d="M901 68zm-14-1zm-4 5zm14 12zm-17 4zm2 15zm8-6zm8 9zm-18 8zm-5 1zm-4-2zm-10-3zm-5 20zm17-3zm7 10zm-6 0zm-37 23zm-13 15zm18 4zm14-9zm-24 24zm23-2z"/>
<path stroke="#d2e21b" stroke-width="2.32" stroke-opacity="0.80" d="M894 58zm8-7zm-12 10zm0 3zm-3 6zm11 11zm1 9zm-5 5zm-7-3zm-10 3zm14 12zm-36 12zm21 3zm2 21zm-7-9zm-3 2zm-2 6zm-1 0zm-8-6zm-13 16zm2-1zm6 0zm6 3zm17 2zm-4 1zm-3 5zm-6-3zm-8 8zm-6-3zm-23 14zm3-8zm7 6zm15-8zm8 6zm-5 17zm-1-1zm-10-9zm-10 12zm12 4zm2-1zm9-4z"/>
<path stroke="#fde725" stroke-width="2.32" stroke-opacity="0.80" d="M901 56zm-12 43zm8 6zm-23 14zm-22 7zm7-2zm0 5zm13-2zm-21 16zm-8 12zm2-11zm10 6zm10 14zm-29 4zm15 0zm15 4zm-20 10zm-13 2zm-5 3zm-3-3zm-2 3zm12 5zm20 4z"/>
<path stroke="#472f7d" stroke-width="2.32" stroke-opacity="0.87" d="M915 100zm5 6zm-2 12zm-1-8zm-12 0zm-2 5zm21 14zm-39 18zm23 14zm-28-3zm14 11zm-37 38z"/>
<path stroke="#414487" stroke-width="2.32" stroke-opacity="0.87" d="M923 58zm3 5zm-20 19zm4 0zm4-5zm3 4zm9-3zm8 3zm3 0zm0 2zm3-11zm1 7zm4 6zm-11 9zm-9-6zm-3-4zm0 1zm-6 10zm-6-2zm-1-2zm-10 13zm6 0zm2 2zm0-7zm2 3zm6-1zm1-4zm8 10zm4-5zm2 5zm1-3zm-8 12zm-3 3zm-2-8zm-1 7zm-2-3zm-3 4zm-2-7zm-6 5zm-7-7zm-1 14zm1 2zm6-6zm9 6zm1-4zm11 0zm-15 10zm-6 4zm-4 7zm-20 6zm4 0zm1-5zm4 0zm1 3zm0 6zm4-5zm2 5zm1-7zm2 8zm7-9zm4 17zm-2-2zm-5 7zm0-6zm-2 2zm-3 0zm-1-3zm-5-2zm-4 2zm0 7zm-6-11zm-2 8zm-2 3zm-1-1zm-12 11zm6 0zm1 1zm0-6zm1-2zm2 9zm2-7zm7 6zm5-3zm0 4zm6-6zm1 3zm1-7zm8 10zm-9 2zm-1 3zm-2 2zm-4-4zm-2 5zm-3-4zm-1 3zm-7 4zm-4-3zm-5-1zm-1 0zm-8 15zm3-9zm10 2zm1 0zm1 3zm9-5zm2 6zm2 7zm-10-1zm-5 7zm-2-2zm-2 0zm-5-4zm-6 3zm22 8z"/>
<path stroke="#39568c" stroke-width="2.32" stroke-opacity="0.87" d="M947 70zm-7-7zm-2 0zm-7-3zm-8 6zm-7 10zm4 5zm2 1zm14-9zm4 8zm-12 6zm-2 8zm0-7zm-2 7zm-1 0zm0-2zm-2 1zm-5-6zm-6-1zm-2 2zm-4 2zm-2 16zm4-1zm0 0zm3-9zm5 2zm3 4zm1-2zm0-1zm1 5zm10 9zm-3-6zm0 10zm-2-8zm-4 2zm-8 7zm-6-11zm-4 3zm-11 18zm1-5zm2 2zm1-3zm1 7zm1 0zm2-10zm0 7zm2 3zm6-5zm3-1zm1 2zm1 1zm5 1zm1-4zm0-1zm2 0zm3 6zm0 2zm1-2zm1-8zm-7 14zm-1 5zm-4-5zm-6 8zm-1-11zm-4 7zm0-7zm-2 1zm-2 1zm-3 5zm-5-5zm-1 3zm-3 2zm-4-1zm-1 2zm-2 8zm1 0zm6 2zm1 3zm4-2zm9-6zm0 3zm1 5zm1-3zm5 1zm0 2zm1-3zm0-2zm1 5zm4-7zm0 3zm-6 15zm0-4zm-1-3zm-1 0zm-1 7zm-8-5zm-1 3zm-2 1zm-2 3zm-1-3zm-1 4zm-1-10zm0 3zm-13 7zm-7 4zm3 7zm1-3zm1 3zm0-4zm3-1zm1-1zm0 0zm1 7zm0-7zm1-4zm3 6zm1-5zm4 10zm2-9zm3-1zm0 0zm4 2zm5 5zm0-7zm0 14zm-3 2zm-1 3zm-1 0zm-2-5zm0-2zm0 0zm-2 0zm-2 2zm0 0zm-2-3zm-3 1zm-12 9zm-1-7zm-7 8zm-1-8zm0 7zm-5 6zm0-1zm1 8zm4-7zm5 5zm1-4zm1 0zm2-4zm0 0zm0 6zm2-2zm0 4zm5-6zm2-1zm3 2zm3-1zm-3 15zm0 3zm-2-7zm-6 4zm-1-1zm-1 0zm-1-3zm-3 3zm-4-3zm0 4zm-5 0zm-5 0zm-1-5zm-1 1zm0-1zm-3 1zm26 10z"/>
<path stroke="#31688e" stroke-width="2.32" stroke-opacity="0.87" d="M924 58zm1 0zm17 6zm-2 2zm-6-3zm-3 7zm0-7zm-1 4zm-12 2zm3 12zm1-9zm0 6zm3 3zm12 0zm4 11zm-1-5zm-3 8zm-2 0zm-3-1zm0-5zm-1-5zm-2 4zm-1 6zm-2 1zm-1 0zm-3-2zm0 1zm-4-6zm-6-4zm-3 8zm-10 10zm1 5zm2-9zm0 8zm1-1zm2-9zm1 6zm1-1zm2-4zm3 0zm0 6zm1 3zm1-4zm0 5zm4-1zm1 0zm4-8zm6 4zm3 4zm1-7zm1 6zm-4 8zm-1-1zm-4-3zm-1 0zm-1 2zm-1 1zm-1-3zm-6-1zm-2 0zm0 10zm-2-9zm0 2zm-5 0zm-3 4zm-1-6zm0 5zm-2 2zm0-7zm-2 5zm-4 7zm3 9zm1-6zm0-2zm1-2zm5 7zm3 4zm0-7zm0-4zm1 2zm2 2zm5-4zm1 3zm2 6zm0-7zm4 6zm4-6zm-16 10zm-3 8zm-3 1zm-5-1zm-1 1zm-1-6zm-2 5zm-1 0zm0-5zm-5 1zm-4 4zm-1 2zm-1 0zm0 0zm-1-1zm0-2zm-4 15zm2-9zm1 4zm0-5zm2 10zm4-7zm1 0zm11-1zm1 5zm3 1zm2-5zm9 2zm-7 8zm-2 10zm-1-8zm0-2zm0 2zm0 4zm-2-3zm0 0zm-1-2zm-2 6zm-1 2zm-3-7zm-7-2zm-2 9zm-1-9zm-2 0zm0 8zm-2-7zm-4 4zm-6 5zm-2-3zm-1 15zm0-2zm1-5zm5 1zm2 0zm3 6zm2-1zm1-8zm0 7zm3-7zm3 4zm2 3zm1-7zm3 5zm0-1zm1 3zm2-3zm0 1zm0-4zm0-2zm1 7zm0 0zm0 3zm1-11zm1 2zm4-2zm0 3zm-7 10zm-3 10zm-8-10zm-1 9zm-1-4zm0 5zm0-3zm-2-6zm-4-1zm-1 3zm-1-2zm-5 5zm-4 2zm0 1zm-3 0zm-1 0zm-8 9zm5 0zm1-4zm3-2zm0 4zm2-2zm0 1zm0-2zm5 7zm2 2zm1-1zm2-1zm1-2zm6-3zm0-2zm2 6zm0-7zm1 0zm0 4zm1 2zm0 2zm2-3zm4-5zm-6 14zm-2-2zm-5 0zm-2 2zm-7 3zm0-3zm-4 3zm-8-4zm-6-1z"/>
<path stroke="#2a788e" stroke-width="2.32" stroke-opacity="0.87" d="M925 57zm24 8zm-3 6zm-4-9zm-12 3zm-6-1zm-2-1zm-2 1zm-3 18zm8-3zm1-1zm2 5zm9-2zm1-9zm2 10zm1-5zm2 14zm-9 2zm-6-7zm-1-1zm-2 8zm0-7zm-5 5zm-4 0zm-1 4zm-1-11zm-5 10zm-1-8zm-2 7zm0 0zm-2-1zm-5 13zm1 2zm2-9zm1 9zm1-10zm0 9zm4-3zm1-2zm8-5zm0 8zm1-2zm0 1zm4-7zm3 1zm0 3zm1 6zm2-8zm3 0zm0 2zm8-3zm-9 14zm-4-1zm-4-2zm-3 0zm-1 10zm0-6zm-1 3zm-1 2zm-2 1zm-5 0zm-4 0zm0-7zm-1 0zm0-3zm-2 11zm0-10zm-3-1zm-1 11zm0-10zm-4 7zm-8 11zm2-5zm2-1zm1 10zm1-8zm2 4zm0 0zm1-5zm2 1zm0 4zm2 4zm1-1zm1-2zm1 2zm1-6zm6 7zm2-3zm1-2zm5 2zm5-8zm0 2zm1 6zm4-6zm-5 10zm-9 7zm0 1zm-4-4zm0 5zm-1-9zm-2 2zm0 3zm-2-1zm-2-1zm0-2zm-4 4zm0 5zm-3-7zm-2 4zm-4-2zm-1-1zm0-4zm0 9zm-1-3zm0-5zm0 4zm-1 2zm-3 1zm-3 4zm2 7zm3 0zm1-6zm3 1zm2 7zm0-8zm9 0zm2 1zm0 0zm2 5zm1-1zm0-1zm1-5zm1 9zm1-7zm2 3zm2 3zm1-4zm2 0zm-8 13zm-2-4zm-2 9zm-1-2zm-2-2zm-3-6zm-1 10zm-5-4zm-1-1zm-5 6zm-2-6zm0-5zm-2 1zm-1 5zm0-1zm-1 4zm0-6zm-2-1zm-3 9zm-2 0zm0-7zm0 9zm2 10zm3-9zm1 3zm1-2zm1 3zm0-4zm4 5zm2-5zm3 1zm0 1zm0-2zm2-2zm0 10zm2-3zm1 3zm1-9zm2 9zm2-4zm1 2zm-4 15zm-2 0zm-2-1zm-5-6zm0 1zm0 4zm-4-7zm-1 1zm-1-1zm0 6zm-6-5zm0-3zm0 0zm-2 5zm-5-2zm-4 8zm-2-8zm-1 3zm-4 10zm2-3zm1 8zm2 0zm0-4zm0-4zm4 3zm3 2zm1-6zm1 11zm1-6zm0 2zm2 3zm1-10zm0 11zm1 0zm1 0zm1-3zm8-4zm2-2zm0 9zm5-7zm-6 11zm-2 1zm0-2zm-4 5zm-9-6zm0 5zm-4 0zm-1 4zm-2-3zm-1-3zm-1 0zm0-3zm-1 6zm-2-5zm-1-2zm-2 4z"/>
<path stroke="#23888e" stroke-width="2.32" stroke-opacity="0.87" d="M951 70zm-7-6zm-3 3zm-8 1zm-3-1zm-5 2zm-1 2zm-1-8zm-7 12zm3 4zm6 2zm3 1zm1 1zm2-2zm3-9zm4 5zm3 4zm3-9zm-4 12zm0 10zm-4-5zm-1-4zm-1 8zm-1-6zm-9-3zm-4 9zm-1-4zm-1 1zm-1-6zm-3 9zm-1-2zm0-5zm-1 6zm-3-6zm-2 4zm-1 8zm0 0zm1 5zm4-7zm1 0zm2 8zm1-4zm11 2zm0 4zm3 1zm2-9zm2 2zm1-2zm3 7zm0-6zm0 5zm-9 6zm-1 4zm-2 0zm-3-4zm-1 3zm0 5zm-1-5zm-1 5zm-3-4zm-2-5zm-2 0zm-3 3zm0-1zm-1 3zm0-4zm-1 8zm-1-1zm-1-1zm-2-4zm-1 0zm-4-4zm-1 5zm-1 2zm-2 4zm-6 5zm2 2zm2-5zm2 7zm0 1zm0-7zm5 7zm4-2zm2-4zm1-2zm4 0zm0 3zm2 7zm2-4zm1-4zm3 6zm0-5zm0-4zm4 6zm1-6zm-3 15zm-1-3zm-6 2zm-2 0zm0 7zm-1-9zm-1 0zm-1 1zm-4 5zm-3-4zm-1 7zm-1-9zm-1 4zm0-4zm-1 4zm0 2zm-1 5zm-1-8zm0 7zm-1-4zm-2-3zm-6 3zm0 4zm0-4zm-3 5zm-8 12zm2 0zm1-7zm2-4zm0 8zm2 2zm4-3zm1 2zm7-9zm1 3zm1 5zm1-8zm1 3zm0-1zm6 8zm2-7zm12-1zm-8 15zm-1-2zm-3 7zm-4-10zm0 0zm0 6zm0 4zm-4-9zm-3 4zm-3 3zm-2-7zm-2 1zm-1 7zm-6-5zm-2 3zm-4 2zm-1 0zm0 1zm-1-1zm-1-6zm0 6zm-4 3zm1 5zm2 1zm2-3zm4 4zm3 0zm1-7zm0 7zm0-7zm1 1zm4 2zm0 5zm2 3zm1-10zm1 2zm1 4zm1-4zm1 6zm0-8zm1-1zm1 3zm1 1zm7 3zm-6 8zm0 5zm-1-2zm0-5zm-1 1zm0 8zm-1-1zm0-7zm-2 4zm-1-3zm0-2zm0 5zm-1 1zm-1-5zm0 5zm-1-3zm-4 0zm-1-1zm-2 4zm0-5zm-1 0zm-2 8zm-1-1zm0 0zm-2-8zm-3-1zm-3 1zm0 10zm-2-7zm-1 5zm-4-8zm-1 10zm0-1zm-6 13zm4-8zm1 0zm1-3zm2 9zm1-1zm0 3zm1-5zm0 2zm0-2zm3 3zm0 1zm0-8zm1 4zm0-1zm7 5zm4-4zm0 5zm3-6zm2 2zm2 4zm1-9zm3 4zm2-4zm-5 19zm-1-9zm-2 7zm-3-3zm-1 0zm0 2zm-2 4zm-7-7zm-2 7zm-1-10zm-1 3zm-1 0zm-2-1zm-2 0zm-4 3zm-2-5zm-3 4z"/>
<path stroke="#1f988b" stroke-width="2.32" stroke-opacity="0.87" d="M922 56zm16 11zm0 2zm-14 5zm1-2zm0 2zm1 0zm2 2zm1 2zm3-2zm12 6zm0-10zm5 1zm-8 11zm-11 4zm-6 3zm-4 4zm-3-7zm-5 3zm0 2zm-7 6zm3-3zm1 4zm1 5zm2-7zm1 3zm5-2zm5-2zm7 3zm5 4zm1-5zm1 0zm-12 19zm-2-8zm-4 3zm-7-1zm-2 7zm-4-1zm-16 13zm7-8zm1 6zm4-6zm2 5zm0-6zm3 2zm5 6zm3-8zm1 8zm2-5zm2-3zm1 1zm0 8zm3-8zm-6 15zm0-5zm-2 6zm-3-3zm-3 0zm-1 6zm-1-5zm-3 6zm0-3zm0-1zm-1 3zm-5-2zm-6 3zm-9-1zm-3 10zm2 1zm3 0zm1-8zm2 6zm1-4zm2 8zm4-1zm3-6zm5 1zm3-1zm0 6zm10-9zm2-1zm-16 22zm-11-5zm-1 5zm-5-9zm-1 3zm-1-4zm-1 10zm0-6zm-2 5zm-2-7zm-1 3zm-2 6zm-1-6zm-2 4zm-5 1zm6 12zm2-10zm0 7zm8 3zm5-6zm2 0zm1 7zm8-7zm3 0zm-6 14zm-6 5zm-5-6zm0-3zm-1 4zm0-1zm-5 0zm-1 2zm-1 4zm-1-3zm-8-7zm-3 0zm-2 5zm-7 16zm1-3zm8 4zm16-7zm2-2zm4 5zm1 4zm0-2zm2-2zm5-5zm-20 18zm-1-2zm-3 5zm-1-6zm-2-3zm-1 2zm-1-1zm-5 0zm-2 2z"/>
<path stroke="#22a884" stroke-width="2.32" stroke-opacity="0.87" d="M913 72zm10 4zm4 6zm5 0zm7 11zm-16-4zm-6-1zm-12 16zm1-8zm1 3zm5 5zm4 2zm2-9zm11 8zm6-2zm1-2zm-7 11zm-1 3zm-3-3zm-3 3zm-4-7zm-2 6zm-3-6zm-1 4zm-2 7zm-2 0zm-2-6zm-13 10zm9 0zm0 5zm1-2zm1-5zm3 0zm8 2zm8 4zm-6 11zm-3 4zm-6-7zm-1 5zm-1 2zm0-7zm0 3zm-3 2zm-4-5zm-1 1zm-2 6zm0-5zm-7 3zm-2 3zm-1-3zm-2-2zm-8 17zm4-5zm7-1zm3 5zm5 1zm4-5zm3-3zm8-3zm-4 16zm-1-1zm0-3zm-1 7zm-3-3zm-2 5zm-7 2zm-7-11zm-3 9zm-5 0zm-3-2zm4 7zm0 2zm4 4zm3-4zm1 3zm1 4zm5-8zm1 3zm1 2zm1 9zm-1 4zm-1 0zm-3 2zm-4-6zm-2 1zm-3-2zm-18 17zm5-7zm3 9zm1-3zm5-6zm13 3zm2-3zm2-2zm-7 13zm-9 2zm-3 2zm-2-4zm0 8zm-10-8zm-1 4zm-3-5zm0 6zm-5-3z"/>
<path stroke="#35b779" stroke-width="2.32" stroke-opacity="0.87" d="M899 104zm30 13zm-1 0zm-16-6zm-5 8zm-4-8zm-6 12zm3-2zm-6 15zm-15 17zm18-3zm10 8zm-37 21zm2-10zm2 5zm6 1zm19 1zm-8 14zm-31 12zm14-1z"/>
<path stroke="#54c568" stroke-width="2.32" stroke-opacity="0.87" d="M937 93zm-8 6zm-8 13zm-16 1zm-3 14zm12 12zm-6-6zm-13 5zm-6-6zm-5 9zm19 12zm4-3zm6 2zm-11 14zm-10-8zm-23 10zm19 2zm2 17zm-26 8zm14 2zm8 2z"/>
<path stroke="#7ad151" stroke-width="2.32" stroke-opacity="0.87" d="M911 90zm4 16zm0-1zm14-7zm1 6zm2 3zm-8 12zm-2-2zm-14-6zm-12 1zm-1 17zm7 0zm8-2zm1 3zm0-3zm1 2zm0 0zm3 8zm-9 6zm-5-5zm-4-5zm-3 9zm-5-4zm-6 11zm24 4zm-17 5zm-11 4zm-2-1zm6 9zm1 2zm0 0zm4-2zm0 9zm4-6zm5 3zm-8 8zm-19-4zm-4 22zm1-4zm3 3zm17-8zm2 7zm-22 14zm-14-9zm22 12z"/>
<path stroke="#a5db36" stroke-width="2.32" stroke-opacity="0.87" d="M921 77zm0 17zm10 16zm-35-1zm-7 38zm22 1zm-36 29zm0-8zm21 9zm7-9zm-27 21zm-9-9zm-7 16zm3 0z"/>
<path stroke="#d2e21b" stroke-width="2.32" stroke-opacity="0.87" d="M939 63zm-13 9zm-4 19zm-8 15zm1-1zm0 13zm-12-2zm-1-8zm-2 5zm17 10zm-7 18zm-19 2zm-2 5zm3 0zm3 5zm7-9zm0 9zm2 3zm-24 0zm-6 2zm0 21zm7-10zm4 8zm-17 7zm19 24zm-16 3zm-2-4zm-16-3z"/>
<path stroke="#fde725" stroke-width="2.32" stroke-opacity="0.87" d="M917 75zm12 7zm-8 17zm15 3zm1-2zm-8 11zm-18 3zm-2-4zm0 8zm-15 11zm7-4zm22 4zm-13 14zm-27 10zm28 3zm-31 5zm-6 16zm22-4zm6-4zm-10 16zm-22 4zm-5-8zm11 11zm1 4zm13 0zm1 3zm3-6zm-11 21zm-13-1zm0 0z"/>
<path stroke="#472f7d" stroke-width="2.32" stroke-opacity="0.93" d="M958 95zm7 6zm-31 12zm15 12zm6 14zm-31 1zm-3 4zm-10 13zm23 17zm-1 8zm-2 3zm-1-3zm-4 4zm-22 27zm-6-3zm11 9z"/>
<path stroke="#414487" stroke-width="2.32" stroke-opacity="0.93" d="M948 80zm1 1zm7-3zm1-3zm19 16zm-10 0zm0 1zm-2-5zm-2 6zm-2-5zm0 5zm-6-5zm-5 4zm-9 8zm3 0zm2-4zm3 11zm4-8zm6 2zm6 16zm0 1zm-5-4zm-9-1zm-2 4zm-6-4zm-9 17zm1-10zm8 0zm2 10zm5-10zm5 0zm0 8zm2-4zm1 13zm-4 1zm-4-5zm-7 0zm-1 6zm-3 3zm-12 0zm-3 0zm-1-7zm-2 9zm0 4zm2 6zm1-8zm7 4zm0 2zm0-5zm11 4zm8 0zm-6 16zm-1-5zm-4-6zm-2 8zm-4-2zm-3-5zm-3 10zm-2-2zm-1-8zm-6 5zm-9 4zm-2 8zm3-6zm0 11zm4-5zm4 2zm2 3zm3-4zm1 3zm1-5zm2 0zm0-3zm2 6zm3 9zm0-1zm-3-1zm-2 0zm-1-3zm0 1zm-2 7zm-4 0zm0 1zm0-4zm-8 6zm0-2zm-11-2zm0 12zm2-1zm1-5zm0 3zm2-2zm0-1zm2 10zm0-7zm1 7zm15-9zm6-2zm-10 16zm-3 0zm-6-4zm-1 10zm-14-9zm-2 7zm2 6zm0 6zm23-7z"/>
<path stroke="#39568c" stroke-width="2.32" stroke-opacity="0.93" d="M950 81zm11 0zm14-5zm3 4zm-13 8zm-1 0zm-3-4zm0 4zm-6 6zm-13-4zm-1 1zm-5 16zm6-6zm11 6zm2-5zm8 4zm7-4zm-5 11zm-5 5zm0-8zm-5 5zm-1 3zm0 1zm-3-2zm-3 2zm-5-5zm-1-5zm-2 0zm-5 7zm-1-2zm-10 12zm5 0zm3 5zm10-9zm5 6zm1 3zm1-2zm1-4zm2-4zm1 5zm0-3zm1 1zm2 1zm0-5zm2 10zm-3 6zm-3 7zm0-2zm-1-1zm-3-7zm-6 6zm-1-4zm-7 6zm-3-8zm0 8zm-2 2zm-5-6zm-7 8zm0 10zm1-6zm2 4zm0-5zm6 2zm6 4zm1-4zm0 3zm2-1zm6-1zm2-3zm1-1zm0 4zm0-3zm1-2zm2 1zm8-1zm-10 10zm0 2zm-1 2zm-2 3zm-2-2zm0 0zm0-3zm0 4zm-1-6zm0 11zm-10-6zm-5-3zm-3 0zm-1 9zm-2-8zm0 8zm-2-3zm-2-7zm0 6zm-2 3zm-2-2zm-3 3zm-3 5zm2 3zm0 0zm1-3zm1 4zm2-2zm1-3zm0-2zm2 8zm0-7zm4-1zm4 6zm5 0zm2-1zm1-4zm1 0zm0 6zm6-6zm1-1zm2 2zm-6 11zm-1-1zm0 2zm-2 1zm-8-3zm-1 5zm-3-5zm-1 0zm0 5zm-4-3zm-1 5zm-2-1zm0-6zm-1-1zm0 5zm-1-1zm-2 4zm-2-8zm-3 18zm2-2zm2 5zm7-8zm4 9zm2 1zm1-3zm1-2zm3-5zm0 0zm1 6zm0-3zm0 12zm-2 0zm-1-3zm-4 2zm-8 6zm-1-2zm0-5zm-1 7zm-1-2zm-8 0zm-4-5zm-2 5zm-5 4zm3 1zm4 6zm2-6zm3 4zm12 7zm2 0zm1-9z"/>
<path stroke="#31688e" stroke-width="2.32" stroke-opacity="0.93" d="M950 79zm18-5zm4 17zm-10-6zm-1-1zm-5 4zm-2 3zm-1 0zm-2 3zm-3-1zm-6-5zm-2 7zm0 11zm0-6zm7-3zm2 5zm1-2zm0 4zm1-5zm4 0zm2 0zm0 5zm1 1zm6-3zm5 3zm2 1zm4-10zm-9 12zm-7 7zm0 3zm-5-10zm-2 5zm-2 5zm-4 1zm0-3zm-1 3zm-3-5zm-4-2zm-4-1zm-7 19zm10-6zm5 5zm5 0zm1-7zm2 9zm2-4zm0-3zm1 3zm1-3zm0 3zm1-5zm1 0zm0 3zm5-4zm-5 15zm-3-4zm-4 7zm-3 1zm-2-6zm-1 0zm-3 5zm0 4zm-1-6zm-1-2zm-4 8zm0-6zm-3 0zm0 6zm-3-6zm-2 6zm-2-7zm-2 6zm-1 0zm-1-2zm-5 13zm2-2zm1-6zm1 4zm5 4zm0 2zm1-11zm2 11zm4-5zm1-4zm4 8zm1-10zm0 10zm2-6zm4 1zm5 5zm3-2zm-7 6zm0-1zm-1 8zm0-5zm-4 7zm-2-4zm-1-4zm-2-1zm-5 5zm-2 0zm-3-4zm-1 7zm-2-3zm-2-1zm-4-3zm0 1zm-2 7zm-8 12zm5-10zm4 2zm1 1zm2 7zm1-9zm0 0zm2 7zm3-2zm5 1zm1 0zm7-3zm1 4zm0-3zm2-1zm-11 16zm-1-2zm-4-6zm-2 7zm0 3zm0-5zm-1 3zm-1-9zm-2 8zm-1-3zm-1 6zm0-3zm-1 0zm-3-6zm-2 2zm-1-3zm-2-1zm-5 11zm0-8zm-2 6zm-2-2zm-2 13zm1 1zm0 2zm1-10zm2 1zm1 8zm11-4zm3 3zm2-5zm1 4zm3 2zm0-9zm2 4zm2 5zm1-6zm3 9zm-4 2zm0-1zm-4 3zm-1-1zm-5 3zm-1-5zm-8 9zm-3-9zm-1 8zm-2-7zm-5 4zm0-5zm-2 5zm-4-7zm1 16zm2 0zm8 1zm3-3zm0 4zm1-6zm0 0zm0 5zm5-5zm4 8zm0 3zm1 0zm0-6zm3-1zm0-3zm0 5zm3-4zm2 1zm-8 11zm-1 1z"/>
<path stroke="#2a788e" stroke-width="2.32" stroke-opacity="0.93" d="M957 68zm-8 13zm6-9zm0 0zm1 9zm7-3zm15-2zm0 13zm-3-3zm-6 7zm0-3zm-3-1zm-3 5zm-2 1zm-3 0zm-6 0zm-8-1zm-2 1zm-1 7zm0-2zm1 7zm0-9zm0 5zm6-5zm0 6zm0-8zm3 3zm0-3zm3 3zm1 5zm2-6zm6 1zm1 1zm1 3zm1-2zm0 2zm8-4zm-11 19zm-2 1zm0-2zm-1-1zm-1 3zm-3-2zm0 1zm-2-1zm-2-3zm-1 2zm0 0zm-1-1zm-1-6zm-2 8zm-3-5zm-1 3zm-1-1zm-1-1zm-4 6zm0-1zm-2 0zm-1-9zm0 5zm-11 16zm3 0zm1-4zm1-3zm2 3zm2 5zm1-8zm0-2zm2 10zm1-11zm2 11zm1-8zm1 5zm5 3zm0-7zm0-2zm0-2zm3 7zm0-6zm2-1zm1 7zm0-7zm3 1zm1 7zm1-1zm1 2zm1-3zm0 3zm0-8zm3 3zm-7 15zm-1-5zm-2 0zm-1-1zm-2 4zm-2 0zm-3-5zm-4 4zm-2-3zm-1 2zm-1 3zm-6 0zm-3-3zm-7 5zm-2 9zm7 2zm0-5zm6 9zm1 0zm1-8zm0 4zm8 1zm2-6zm4 3zm-4 10zm0 8zm-1 0zm-4-10zm-4 5zm-1-3zm-4-3zm-1 9zm-2-1zm-1-4zm-1 5zm0-1zm-3 3zm-1-4zm0 1zm-3 3zm-1-4zm-4 1zm-8 11zm3-1zm3-6zm3 6zm1 3zm2-1zm1-7zm0 5zm1-2zm1 6zm1-9zm1-1zm0 7zm3 1zm0-6zm2 7zm7 1zm1-1zm2-9zm0 5zm1 1zm0-4zm2-1zm0 0zm-3 14zm-1-2zm0 5zm-2 2zm0-3zm0-2zm0 3zm-3 4zm-3-6zm-1 7zm-2-5zm0 5zm-1-10zm-1 2zm-2 3zm-2 5zm-3-2zm-3-7zm-2 8zm-5-8zm-3 9zm-2-2zm-3 1zm-2 3zm4 9zm5-5zm1 5zm1-1zm1 1zm0-7zm8 2zm1 6zm1-6zm0-4zm3 4zm4-4zm4 1zm1-2zm1 7zm0 5zm-5 0zm-2 0zm-1 0zm0 9zm0-2zm-3-1zm0 4zm-1-4zm-3 0zm-1 0zm-1 1zm0-6zm-4-1zm-2 5zm-1-3zm-1 1zm-2 3zm-4 1zm-3-2zm-1 6zm-1 0zm-1-3zm-3 3zm0 6zm0 0zm5-2zm5 0zm1-3zm6 5zm1-3zm2 4zm0 5zm3-1zm1-2zm1 1zm2 0zm1-5zm-2 8zm-3 1zm0 1z"/>
<path stroke="#23888e" stroke-width="2.32" stroke-opacity="0.93" d="M949 73zm1 8zm4-3zm0 2zm14-7zm1 7zm7 13zm-7 0zm-3-2zm-3 0zm-4-3zm-3-1zm-3 8zm-1-1zm-1 1zm-4-11zm-3 8zm-2 7zm0-2zm6 9zm1 1zm2-1zm7-9zm6 9zm4 1zm2-7zm4 4zm-6 4zm-1 4zm-3-4zm0 4zm-2 7zm-2-5zm-1 1zm-1 3zm-1-9zm-1 6zm0-4zm-1 7zm-1-1zm-1 1zm-9-1zm-5 0zm-1 2zm-4-2zm-3-3zm-9 16zm6 0zm1-2zm4-5zm1 4zm0-7zm1 1zm3 6zm2-6zm2 5zm2 0zm2 3zm0 0zm1-8zm1 6zm3-5zm1 8zm1-8zm3 6zm1-7zm2 4zm1 3zm1-8zm1 0zm-8 19zm-5 4zm0-7zm-3-1zm-1 5zm-2-8zm-2 7zm-5-1zm-3 5zm-1-11zm-1 4zm-1 3zm0-5zm-4 4zm-2-2zm0 6zm-1 0zm-3-5zm-1 11zm1 5zm0 1zm0-10zm1 3zm2 7zm1-9zm1 0zm1 3zm4-1zm1 5zm2-5zm3 0zm3 5zm0-8zm1 0zm0 3zm2 2zm1 5zm2-9zm1 9zm1 1zm1-8zm3 6zm2-9zm-7 15zm-2 1zm0-1zm-2 0zm-2-3zm-8 2zm-1 7zm-1-1zm-1-1zm-3 4zm-1-8zm-1 3zm-1 3zm-2-2zm-1-3zm-4 5zm-1-7zm-1 7zm-2 0zm-3 0zm0-6zm-7 16zm3 4zm1-1zm1-2zm2-2zm1 3zm0-2zm1-1zm2-4zm2 6zm8-5zm2 4zm1-7zm3 3zm2-3zm1 9zm1-4zm4-5zm1 2zm1 0zm-3 10zm-4 2zm-2 2zm0 2zm0 2zm-1-3zm-2 4zm-1-9zm-6 9zm-1-7zm-2 6zm-4-6zm-2-1zm-3 0zm-3 0zm-6 5zm-1 3zm-3 11zm2 0zm1-5zm1 5zm2-3zm3 0zm2 3zm0-3zm0-5zm1 5zm0 0zm1-5zm3 6zm0 3zm1-6zm2-3zm3 9zm0-8zm4 8zm2-8zm3 0zm0 9zm-3 5zm-2 1zm-3-4zm-5 6zm0-3zm0 3zm0-3zm-1-1zm0 0zm-5-2zm-2 9zm0 2zm0-1zm-4-4zm-1 5zm0-9zm-1 9zm-1-5zm-3 5zm-1-8zm-1 7zm-1-10zm-2 11zm-4 3zm1 2zm3 0zm1 2zm4-1zm1-1zm1-3zm3 2zm2 2zm0 6zm1-11zm2 11zm1-5zm0 1zm1-1zm1 5zm1-3zm0-8zm1 10zm0-3zm2-4zm2 2zm2 3zm0-4zm2-1zm-5 13zm-3-1zm0-3zm-2 1zm-4-1z"/>
<path stroke="#1f988b" stroke-width="2.32" stroke-opacity="0.93" d="M963 79zm11 16zm0-6zm-15 3zm-2 0zm-8 3zm0-5zm-7 10zm20-3zm4 7zm3 0zm4-3zm-4 9zm-3-1zm-6 7zm-4-2zm-3-3zm-4 1zm-2-2zm-1-2zm-3 10zm-4-10zm-4 5zm-1-1zm-1 2zm-7 11zm6-2zm7-3zm6 6zm2-2zm0 6zm6-2zm0-5zm1 7zm2-2zm2 0zm0 0zm-3 5zm0-1zm-1 9zm-11-5zm-6 3zm-5 4zm0-9zm-3 1zm-6 5zm-1-2zm-1 3zm-3 0zm-2 14zm2-7zm1-4zm4 3zm1 3zm11 2zm5 2zm5 0zm2-2zm1-6zm1 1zm-7 11zm0 5zm0-1zm-3 0zm0-5zm-3 3zm-5 6zm-6-2zm-1-1zm-1 1zm-1-6zm-2 8zm-2-7zm-1 6zm-3-8zm-1 5zm0 2zm-12 11zm5-1zm6 2zm3 2zm4-8zm4 8zm3-5zm1-4zm1 8zm0-1zm2-4zm4 12zm-3-3zm-3 5zm-2 5zm-1-5zm-1 2zm-1-8zm0 7zm0 1zm-1-1zm-1 3zm-2 1zm-1-2zm-2 2zm-1-10zm-4 1zm-1 5zm-2-5zm-3 1zm-8 11zm5 4zm0-3zm3-3zm0 4zm1-4zm9 2zm2 5zm2-4zm0 0zm2 18zm-1-9zm-3 2zm0 4zm-1 5zm-1-10zm-2 1zm-1 5zm-14 4zm-1 0zm-1-11zm-3 3zm0 2zm0 3zm-1 3zm-2-9zm-7 13zm4-1zm7 0zm0 6zm2-3zm1 0zm2 2zm1-7zm0 1zm2 1zm0 7zm5-7zm4 0zm4 6zm2-1zm4-3zm-14 10z"/>
<path stroke="#22a884" stroke-width="2.32" stroke-opacity="0.93" d="M972 74zm5 9zm-10 8zm-6-5zm-6 8zm0-10zm-6 5zm-1-2zm-5 16zm8 2zm1 2zm4-9zm0 8zm1-5zm1 3zm0-3zm13-1zm-10 17zm-2 1zm-5-9zm-2 0zm-4 1zm0 4zm-1 0zm-2-4zm-4 1zm-5 4zm-8 10zm3-4zm0 10zm4-3zm2-1zm4 0zm9 4zm2-8zm2 6zm2-7zm4-1zm-3 16zm-24 2zm-5 2zm-1-7zm-2 5zm-2 1zm-5 9zm0-5zm4 11zm1-1zm1-3zm6 2zm4-8zm3 3zm10 7zm-3 3zm-1-2zm-1 10zm-2-10zm-15 0zm-7 3zm-10 5zm6 7zm5 0zm1 8zm0-9zm2 5zm2 4zm2-8zm1-1zm2 4zm1-4zm0-1zm0-1zm4 1zm1 10zm4-11zm-6 12zm0 3zm-3 4zm-9 4zm0-4zm-3-7zm-17 3zm-2 3zm-4 14zm3-1zm1-2zm8-3zm1 4zm2 4zm2-6zm1 4zm2 2zm5-9zm8 8zm2-9zm-14 19zm-9 3zm-4-9zm-9 5zm-2-5zm-6 15zm1-2zm0 2zm0-1zm13 7zm4 0zm2-7zm0 4zm3 4zm4-8zm3 7zm-3 2z"/>
<path stroke="#35b779" stroke-width="2.32" stroke-opacity="0.93" d="M973 75zm3 10zm-1 3zm-24 3zm-3-4zm-11 15zm19 2zm-12 5zm-4 8zm-1 13zm1-4zm18 8zm-22 11zm4 11zm-17 4zm-14 14zm0-4zm29 1zm-23 16zm-15 16zm15-4zm1-1zm3 7z"/>
<path stroke="#54c568" stroke-width="2.32" stroke-opacity="0.93" d="M960 77zm13 14zm-11 1zm-4-3zm-8-3zm-10 9zm1 1zm10 11zm-8 4zm-23 28zm13 14zm11-1zm-3 9zm-22 11zm4 7zm-15 4zm4 43z"/>
<path stroke="#7ad151" stroke-width="2.32" stroke-opacity="0.93" d="M967 76zm4 2zm6 10zm-9 2zm-10 1zm-10 2zm-10 13zm2-5zm6 3zm0-2zm2-3zm9 3zm7-4zm-8 18zm-3-8zm-11 10zm-5-10zm-3 4zm2 13zm26 0zm-13 18zm-2-9zm-6 6zm-4-5zm-19 12zm5 5zm29-2zm-11 14zm-1 3zm-3-8zm-2 2zm-1 2zm-14-1zm-9-5zm4 22zm3-9zm17 6zm2 1zm-11 6zm-6 7zm-9-10zm-1 11zm-2-3zm2 13zm12-6zm10-1zm-25 15zm-5 5zm-5-10zm-7 8zm-2 2zm13 5zm6 3z"/>
<path stroke="#a5db36" stroke-width="2.32" stroke-opacity="0.93" d="M958 103zm-3 6zm-1 4zm-16 6zm0 7zm10 2zm4 3zm-5 12zm-18-11zm-4 2zm-9 15zm19 29zm-13 4zm-18-1zm-6 2zm-1 22zm20 15z"/>
<path stroke="#d2e21b" stroke-width="2.32" stroke-opacity="0.93" d="M948 83zm23-4zm10-3zm-26 15zm-5 2zm-8-1zm-2 12zm31-2zm-29 16zm-7-9zm3 12zm8 0zm5 9zm3-10zm4 2zm4 1zm-41 30zm22-5zm0 11zm-20 2zm-17 11zm20-3zm3 1zm6 14zm-29 4zm-7 0zm0 1zm4 11zm5-4zm9 5zm4 1zm8-2zm-9 12zm-14-5zm-1 3zm-13 3zm-5 1zm17 12zm12 2z"/>
<path stroke="#fde725" stroke-width="2.32" stroke-opacity="0.93" d="M967 78zm-12 19zm1 9zm19-9zm-37 32zm3-5zm4 6zm4 1zm10-10zm-26 30zm14-7zm1 4zm-13 17zm-19-2zm-5 8zm3 5zm18-8zm-14 15zm-7 14zm-3 8zm-4 5zm-4 1zm-7-5z"/>
<path stroke="#472f7d" stroke-width="2.32" d="M992 88zm-13 9zm29 19zm-41 7zm39-2zm-10 14zm-29 5zm-9 3zm1 8zm6-5zm7 1zm9 5zm-29 24zm4 28zm-8 16z"/>
<path stroke="#414487" stroke-width="2.32" d="M983 102zm3 1zm6-6zm7 5zm1 2zm1 0zm8-5zm-7 16zm-9 3zm-1-2zm-12 2zm-9-10zm-12 23zm4-8zm3 0zm14-1zm2 3zm5-1zm1 6zm0-5zm0 2zm1 3zm4-4zm6 3zm1 0zm-1 6zm-5-3zm0 6zm-1 3zm-16 0zm-7-3zm-1 2zm-1 1zm-5-7zm-11 17zm11-2zm1 1zm4 0zm3-2zm6-3zm0 7zm8-2zm9-3zm-8 13zm-4-2zm-4 4zm-1-5zm-26 10zm-2-11zm-13 23zm3 0zm0-1zm2 0zm6 0zm12-3zm1 1zm6-4zm8-3zm-9 14zm-5 2zm-4 2zm-3-6zm0 1zm-1 1zm-2 3zm-3-3zm-2 1zm-4 2zm0-1zm-3-1zm-3 6zm-4 13zm2-8zm4 1zm7 0zm3 3zm0 2zm10-7zm5 1zm1 3zm-8 13zm-2 1zm-5 2zm-4-7zm0 2zm0-3zm-1 0zm-9 2zm-4 4zm-4-5zm10 18zm1 2zm2-8zm1 4zm2-6zm3 10zm3-6zm3-4zm-17 12zm-3 7zm0-2zm-1 3zm-1-8zm-8 3zm-3-1z"/>
<path stroke="#39568c" stroke-width="2.32" d="M1003 83zm-12 6zm-18 17zm9-6zm6 2zm1-3zm1 0zm2 5zm1 3zm6 0zm8-2zm1-2zm6 2zm-4 7zm-8-4zm-8 1zm-10 0zm-10 7zm-6 2zm0 13zm3 0zm0 0zm3-3zm0-2zm2 2zm1-5zm0 3zm4 4zm1-8zm5 5zm3-3zm0-1zm1 5zm4-4zm0 7zm2-6zm5 4zm7-9zm-9 15zm0-3zm-3 7zm-1 2zm-4 0zm-9-2zm-4-4zm-4 5zm0-8zm-3 9zm-2-3zm-11-3zm-1 2zm-1 6zm-1 0zm0 3zm2-2zm1 5zm0 1zm2-2zm1 7zm6-9zm4-2zm1 0zm5 9zm0-2zm3-4zm0 8zm6-11zm2 6zm1 1zm3-5zm2-2zm-8 14zm-4-1zm0 7zm0-4zm-5 6zm-5-5zm-2-4zm-3 8zm-2-6zm0 5zm-7-1zm-5-5zm0 3zm-1-1zm-3-3zm-6 15zm4-1zm1-1zm4 7zm5-1zm8-2zm4 3zm1 0zm0 0zm2 0zm-9 3zm-8 8zm-4-2zm-6 3zm-2 0zm0-6zm0 3zm-13 9zm1-2zm3-1zm2 4zm0 6zm1-4zm5-4zm0 0zm4 3zm1 1zm0-3zm5-1zm1 8zm7-2zm2-3zm-8 9zm-3 1zm-1-2zm-1 5zm-1-5zm-3 0zm-1 2zm-1 1zm0-2zm-7 4zm-1-4zm-2 4zm0 0zm-6 2zm0-2zm-7 2zm0 10zm1 4zm1-9zm2 9zm4-2zm1-2zm1-1zm1-1zm4 3zm2 1zm2-5zm6 5zm1-5zm4-3zm-9 14zm0 1zm-1 1zm-9-3zm-2 6zm-5-3z"/>
<path stroke="#31688e" stroke-width="2.32" d="M986 77zm0 1zm40 16zm-31-9zm-6-1zm-2 7zm-8-1zm-7 17zm3 0zm6-2zm2-3zm4 5zm7-11zm6 1zm13 4zm5 5zm-1 2zm-6 9zm-8-2zm-8-1zm-2 1zm0-6zm-2 3zm0-1zm-2 8zm-8-2zm0-7zm-7 4zm-2 4zm-9 1zm-2 10zm9 2zm1-3zm4-5zm2 4zm1-5zm2 7zm1 1zm1 1zm1-11zm2 9zm1-1zm0-6zm4 0zm4 4zm0 1zm0-7zm2 2zm0 0zm1-2zm1 4zm0 0zm4 7zm0-3zm-1 8zm-3-2zm-3-1zm0 5zm-7-3zm0-1zm-1 9zm-3-11zm-3 0zm-1 7zm-2-5zm-3-1zm-2 6zm0 0zm-1 1zm-1-6zm-1 1zm-1 6zm-1-8zm-1 3zm0 2zm-4 5zm-1-3zm-1-1zm0-4zm-2 0zm-4 15zm1-6zm2 10zm0-5zm1 0zm5 0zm3 3zm4-5zm2 8zm5-4zm3-1zm0 0zm1-6zm2 6zm1 0zm0 0zm1-3zm0 2zm3-2zm2 1zm4-4zm-15 16zm-1-2zm-3 6zm0 0zm-3-5zm-1-1zm-4-2zm-5 11zm-4 0zm-1-11zm-1 5zm-2 2zm-9-5zm-6 17zm3 4zm1-1zm1-9zm2 7zm0-5zm1-3zm1 10zm2-1zm2-2zm0-2zm2 4zm1 0zm4-2zm2 3zm1-9zm5 7zm2-8zm4 9zm1-7zm2 4zm0 0zm2-4zm-8 14zm-4 4zm-2 0zm-2 3zm-3-7zm-1 1zm-1 4zm-3 1zm-1-4zm-1-6zm-6 6zm-1-6zm0 0zm0 0zm-4 6zm-1-3zm-1 3zm-6 2zm-7 14zm5-2zm0 1zm2-5zm5 3zm4 0zm0 3zm7-3zm8 0zm1 3zm1-10zm0 5zm2 1zm-4 8zm-8 2zm-1 5zm-3 0zm0-6zm-1-1zm0 2zm0-2zm0 7zm-3 1zm-5 0zm-3-8zm-1 3zm-4-3zm0 8zm0-4zm-2 1zm-1-6zm-2 9zm-2 8zm7 0zm1-6zm1 2zm3 0zm1 2zm2-3zm1 4zm0-5zm0 7zm0-5zm1 1zm0 0zm1 0zm3 0zm2 8zm4-7zm1 0zm1-4zm0 0zm-15 13zm-9 7zm0-2zm-2-1zm-2 2zm-2-5zm-1 0zm0 3z"/>
<path stroke="#2a788e" stroke-width="2.32" d="M984 83zm25 11zm-6-4zm-9 2zm-2 1zm-1 0zm-4-4zm-4 1zm-11 15zm5-5zm1 3zm3-3zm2 3zm5 4zm2-7zm1 7zm8-9zm2 4zm6-2zm4 3zm5 5zm-5 10zm-3-3zm-5-5zm-2 2zm-1 7zm0-2zm-11-2zm0 1zm-1-4zm-4-2zm-3 1zm-1 6zm-2 0zm-3-9zm-1 0zm-2 9zm0-2zm-5 11zm2 3zm0 0zm5 2zm0-5zm2-4zm2 4zm3-1zm1 6zm0-3zm2 1zm1 2zm3 0zm2-10zm3 8zm2-3zm2 1zm1-3zm2 1zm4 3zm3-5zm-9 14zm-6 6zm0-2zm-2-5zm-5 7zm-3-4zm-1-4zm-2 6zm-1-4zm-4 0zm-1 6zm-2 0zm-2-3zm-7 2zm0-2zm0-4zm-1 3zm-5 4zm-2-1zm1 13zm1-4zm6 1zm1-8zm4 0zm1 5zm0-3zm1-2zm2 10zm1-10zm2 1zm0-1zm2 8zm3-2zm2 3zm7 0zm0 2zm5-7zm2-4zm-19 19zm-1-5zm-6 3zm-2 1zm-3 3zm-1-7zm-1 8zm-2-4zm-2-3zm0-2zm-1 10zm0-2zm-4-6zm-1 5zm-1-2zm0-3zm-3 6zm-9 10zm2 2zm5-1zm2-2zm0-6zm2 8zm2-2zm3 5zm1-3zm1-8zm1 4zm1 5zm5-3zm0-5zm1 8zm2-6zm1 4zm0-5zm2 3zm2 3zm3-2zm3-4zm2 0zm1-2zm-18 23zm0-10zm-3 7zm-1-6zm-1 6zm-1-2zm-1 0zm-3 4zm-1 0zm-3-6zm-3 1zm-1 5zm-8-7zm-1-3zm0 9zm-1 0zm-2 6zm3 8zm0-2zm1-6zm0 6zm0 2zm5-6zm4 4zm0 1zm1-8zm1 4zm2 2zm1-5zm0 6zm1-2zm0-6zm3 0zm2 10zm2 0zm0-1zm3-4zm2-2zm1-2zm-8 12zm-4 4zm-2 2zm-2 3zm-7-6zm-1 5zm0-1zm-2 2zm-1-4zm-2 0zm0-7zm-2 2zm-2 3zm-1 6zm-1-2zm-2-5zm0-3zm-1 10zm-2-2zm-3-1zm-2 9zm0-2zm7 7zm5 1zm2-3zm2-3zm2-4zm1 7zm4-4zm0 2zm2-3zm0 5zm0 3zm2-7zm-6 14zm-2 3zm-6-6zm0-3zm-1 4zm-3 1zm-1-2zm0 1zm-2 3zm-1-1zm0 4zm-1-6zm-2-4zm-5 3zm-1-3z"/>
<path stroke="#23888e" stroke-width="2.32" d="M984 78zm29 12zm-8 2zm-1 3zm-10-11zm-6 0zm-1 7zm-6-6zm-3 7zm-6 15zm1 0zm2-3zm2-4zm0 3zm8-4zm3-1zm1-1zm6 3zm1 6zm4-7zm1 7zm5-5zm0-5zm5 9zm2-8zm3 6zm-7 13zm-2-8zm-2 3zm0 5zm-2-7zm-1 4zm-6 2zm0 3zm0 0zm-1-2zm-3 3zm-1 0zm-2-11zm-7 0zm-3 3zm0 2zm-2-2zm-2 4zm-1 3zm-1 1zm-1-4zm-1 2zm-1-4zm-2-5zm-5 23zm2-10zm0 5zm4 4zm1-10zm1 2zm0 9zm0-4zm0 3zm0-7zm1 3zm7-1zm0-1zm1-2zm3 0zm1 2zm4 6zm5-1zm1 1zm2-2zm3-2zm0 2zm0 7zm-2 6zm0 1zm0 0zm-1 0zm0-1zm-1-1zm-2-7zm-3 6zm-2 3zm-2 0zm-5-9zm-2 2zm-1 3zm0-5zm-1 5zm0 0zm-9-2zm0 3zm-1 3zm0-8zm0 8zm-1-9zm0 10zm-1-6zm-1-3zm-1 7zm0-9zm-5 9zm0-4zm-1-3zm-4 9zm-3 12zm1 0zm1-7zm1-2zm1 6zm2-2zm2-5zm0 7zm1 0zm1-1zm1 4zm2-10zm4 6zm0 1zm0-5zm0 3zm2-1zm0 6zm3-10zm4 8zm3 1zm3-7zm3-2zm1 4zm2-4zm5 1zm0 2zm-11 15zm-3-5zm-2 0zm-1 5zm-1-5zm-3 7zm-1-3zm-3-3zm-1 2zm-1-3zm-1 3zm-1 2zm0-6zm-3 6zm0-4zm-1-3zm-4 7zm0 4zm0-6zm-1-4zm-1-1zm0 10zm-2-5zm-7 3zm-4 10zm0-3zm5 0zm2 2zm1 0zm1 1zm8-4zm0-2zm0 4zm0-1zm0 1zm2 7zm0-3zm1-6zm11 4zm2-4zm0 9zm2-6zm1 0zm0-1zm1 1zm-6 9zm-4-2zm-2 0zm-1 0zm-2 4zm-1-1zm-1 4zm-2 0zm-6 1zm-1 3zm-4-4zm-1 4zm-3-10zm-1 5zm-1-6zm-1 10zm0-2zm0 1zm0 0zm0-4zm-2-4zm-2 10zm-1-3zm-6 14zm2-6zm0-2zm5 6zm3-7zm1 10zm2-4zm0 2zm1 1zm1-10zm2 10zm3-4zm3-5zm3 10zm2-4zm1-7zm1 7zm2-4zm1-3zm0 4zm-5 8zm-3 7zm0-3zm-9-1zm-3 7zm-5-3zm0-7zm-1 0zm0 1zm-3 3zm-4-3zm-1 9zm-1-6zm-10 12zm0 4zm4 1zm0 1zm2-4zm2 3zm0-1zm0-2zm3 4zm3-7zm1 2zm2-4zm2 2zm0 7zm3-9zm2 2zm1 8zm1 0zm0-1zm2 0zm1-5zm0 2zm1-2zm3-5zm0 0zm-9 15zm-4-2zm-2 5zm-2-2zm-1-4zm-6 7zm-4-7zm0 4zm-1 3zm-1 0zm-2-3zm-2-4zm19 12z"/>
<path stroke="#1f988b" stroke-width="2.32" d="M1018 95zm-27-6zm-13 0zm-4 18zm6-4zm0 2zm5 1zm1-3zm14-2zm1 2zm1-5zm2 9zm12 0zm1-3zm-4 7zm-24 5zm-1 1zm0 1zm-7-10zm0 9zm-4 0zm-1 0zm0-7zm-1 1zm-1-3zm-5 9zm0-5zm-1 4zm-2 2zm0 1zm-3 4zm5-1zm1 7zm5-3zm2-4zm0 9zm5-9zm1 4zm0-5zm0 2zm4 3zm2-2zm4 6zm9-6zm1-1zm-9 9zm-3 3zm0-3zm0 9zm-7-1zm0-8zm-1 10zm-5-3zm-3-7zm-1 9zm0-1zm0-2zm-1 2zm-3 1zm-2 0zm-2-9zm0 4zm-2 5zm-2-2zm0 4zm-5 8zm4 1zm2-2zm1-3zm1 3zm1-1zm8-5zm2 8zm4 0zm1-4zm7 9zm-3 5zm-4 1zm-7-4zm-4-3zm-2 4zm-1 1zm-6 1zm-2-1zm-1-2zm-5-2zm-1 7zm-1-5zm-9 17zm2-2zm1-4zm4 2zm2 5zm0-2zm4-1zm1 3zm2-8zm5 0zm12 6zm-6 5zm-4 0zm-3 4zm0-3zm-3 8zm-2-9zm-8 7zm-5-2zm-4-1zm-1 7zm-8 11zm4 0zm1-5zm1 4zm3-2zm3 0zm2-5zm2 6zm6-6zm2 7zm6-9zm-2 14zm-5-1zm-4 2zm-2 4zm-1-4zm-1 0zm-1 8zm-2-11zm-5 10zm-5-10zm-1 9zm-9 2zm-1 3zm0 1zm1-2zm7 9zm7-8zm4 7zm0 0zm4 3zm-6 0zm0 10zm-8-10zm-2 9zm-7-4zm-1-5zm0 7z"/>
<path stroke="#22a884" stroke-width="2.32" d="M1017 95zm-18-6zm-3-5zm-6 0zm-12 17zm2 6zm1-3zm7 0zm11-8zm8 8zm2-2zm-17 13zm-8 0zm-4 4zm0-2zm-9 0zm-1-6zm-2 8zm-5 5zm7-3zm1-1zm2 6zm0 3zm0-1zm10-5zm7 4zm8 4zm7-8zm1-2zm-9 16zm-1 4zm-6-7zm-3 8zm-5-4zm-1 0zm-5 1zm-2-7zm-3 5zm-9-5zm-4 11zm-7 12zm10-1zm6-9zm2 10zm1-7zm15-3zm0 3zm4-4zm1 8zm3-6zm-19 17zm-8-4zm0 1zm-11 2zm-1 4zm-3-3zm-9 13zm7-7zm4 8zm8-1zm8-1zm2-7zm1 4zm1 7zm4-11zm-5 13zm-7 3zm-3-1zm-8 3zm-1-2zm-2 5zm-1-6zm-13-2zm-2 10zm0 7zm16-6zm5 4zm1 6zm1 1zm2-2zm-3 3zm-9 0zm-3 2zm-5 0zm0 7zm-4-9zm-2 5zm-4-3zm-5 5zm-4 6zm2 0zm0 0zm0-1zm1 0zm4 10zm0-4zm1-6zm1 9zm10-7zm7 3zm3-4zm-12 22zm-8-5z"/>
<path stroke="#35b779" stroke-width="2.32" d="M994 105zm4-5zm-5 17zm-31 13zm24 10zm-2-1zm-21-6zm-6 14zm23-3zm1 12zm-9 3zm-12 10zm2 7zm8-2zm-14 11zm-10-1zm-7 5zm14 4zm7 9zm4-7zm-12 20zm-13-8zm-20 14zm16 3zm6 8zm-14-2z"/>
<path stroke="#54c568" stroke-width="2.32" d="M1000 116zm-19 6zm-5 16zm-8-6zm10 30zm-10 26zm-36 4zm12 4zm1 2zm7-3zm12-1zm-46 25z"/>
<path stroke="#7ad151" stroke-width="2.32" d="M985 81zm3-3zm-16 29zm21-7zm4 10zm-1 2zm-5 3zm-10-5zm-4 2zm-4 6zm-11 11zm12-9zm6 11zm2-4zm10 8zm-10 2zm-2 5zm-5-1zm-1-9zm0 3zm-14 19zm-5 5zm-5 5zm-5 14zm13-5zm16 6zm2-6zm-5 7zm-1 5zm-10 3zm-1-7zm-2 8zm-5 0zm-14 4zm5 7zm5 0zm2-3zm3-4zm0 3zm1 14zm-13-4zm-10 10zm3 9zm-16 6zm17 10zm2-1z"/>
<path stroke="#a5db36" stroke-width="2.32" d="M1001 93zm8 15zm-24 6zm-3 3zm12 25zm-2-10zm-12 5zm-10-1zm2 18zm6 1zm3-5zm-13 17zm-19 0zm16 1zm-11 19zm2 18zm-8 6zm-11 15zm12-4zm-14 7z"/>
<path stroke="#d2e21b" stroke-width="2.32" d="M997 106zm16-6zm0-3zm-12 12zm-6 4zm-7-1zm-11 7zm18 5zm3-4zm-18 13zm-30 21zm20-1zm10-2zm3 12zm-17-3zm-2 5zm-19 6zm10 5zm22-3zm4-3zm0-1zm-23 14zm-9 3zm-5-6zm0 9zm-10 7zm3-3zm9 2zm18-1zm-11 17zm-3-5zm-17 9zm-4-5zm2 14zm1-4zm11 9z"/>
<path stroke="#fde725" stroke-width="2.32" d="M993 104zm-25 22zm9-1zm13-3zm-1 21zm-1-3zm-7-6zm-16 3zm0-1zm2 12zm9-2zm-8 14zm-17 17zm17 2zm-15 7zm-8-5zm-9 15zm4 5zm17-9zm6 2zm-12 13zm-28 17zm7 6zm-1 0zm-7-2z"/>
<path stroke="#39568c" stroke-width="2.00" d="M805 104z"/>
<path stroke="#2a788e" stroke-width="2.00" d="M994 140z"/>
<path stroke="#1f988b" stroke-width="2.00" d="M826 115z"/>
<path stroke="#414487" stroke-width="2.72" d="M1019 320zm-5 6zm-1 0zm0 1zm-4 3zm-2 3zm-4 2zm-10 11zm-1 2zm-6 5zm-4 4zm-13 14zm3-4zm5-5zm-9 10zm-2 2zm-2 2zm-5 4zm-16 17zm-2 1zm-2 2zm-5 6zm-7 7zm4-4zm2-1zm-18 18zm0-1zm-3 4zm-10 8zm5-4zm-14 14zm-4 4zm-18 18zm-8 8zm-10 11zm6-6zm2-2zm-16 14zm-5 7z"/>
<path stroke="#39568c" stroke-width="2.72" d="M1017 322zm0 1zm1-2zm1 0zm1-1zm1 0zm-7 4zm-1 4zm0-2zm0 1zm-1 1zm0 0zm0-1zm-1 1zm-1 2zm0-1zm-2 2zm0 0zm0 1zm-4 2zm-12 12zm1 0zm3-3zm0 1zm0 0zm3-4zm2-1zm1-2zm1-1zm1 1zm-15 14zm-1 0zm0 1zm-5 4zm-1 2zm0 0zm-12 11zm1 0zm1-1zm1-2zm0 0zm1-1zm1-1zm0 1zm1-2zm1-1zm1-1zm0 0zm0 1zm0 0zm1-1zm0-1zm2 0zm-13 13zm-1 0zm-1 1zm0 0zm-1 2zm-1-1zm0 0zm-1 2zm-1 1zm-2 1zm-2 3zm0 0zm0 1zm-1 0zm-1 0zm-8 7zm0 2zm1-1zm0 0zm1-1zm0 0zm0 0zm0-1zm0 0zm1 0zm1-1zm0 0zm0 0zm2-3zm0 1zm0-1zm0 1zm2-2zm-14 15zm-1-1zm-4 5zm-1 1zm-1 1zm-1 1zm-1 0zm-8 9zm0 0zm2-2zm1-1zm2-1zm-11 9zm-1 3zm0-2zm-1 2zm-1 0zm0 1zm0 1zm-1 0zm-1 1zm0 0zm0 0zm-2 2zm0 1zm0 1zm-2 1zm0-1zm0-1zm-12 14zm1-1zm1-2zm1-1zm1-2zm1 0zm0 1zm0-1zm2-2zm-10 11zm0-1zm-2 4zm-1 0zm-5 3zm-12 14zm1-1zm0-2zm0 1zm2-3zm1 0zm2-2zm0 1zm0-2zm-8 10zm-1 1zm-1 0zm0 0zm0 0zm-2 2zm0-1zm0 1zm-3 4zm-1 0zm-1 2zm-15 14zm3-2zm0-1zm1 0zm0 0zm1-2zm1-1zm2-2zm0 0zm1 0zm1-2zm0 1zm1-1zm-12 11zm0 1zm-1 0zm-1 1zm-1-1zm-1 4zm-3 3zm0-1zm-1 2z"/>
<path stroke="#31688e" stroke-width="2.72" d="M1017 322zm0 0zm0 1zm-3 3zm0 0zm-1 0zm0 0zm-4 5zm-5 4zm-11 12zm3-4zm1 0zm1-1zm1-2zm1-1zm-11 11zm0 2zm-1 0zm0-1zm-2 3zm-1 0zm-2 3zm-12 12zm2-3zm1 0zm2-3zm2-2zm0 1zm2-2zm-12 13zm0-1zm-2 1zm-1 0zm-2 3zm-2 1zm-2 3zm-14 15zm2-2zm0 0zm0 0zm1-2zm0 0zm2-1zm3-4zm1 1zm1-3zm0 1zm-13 12zm-1 2zm-1 0zm-1 2zm-1 0zm-3 3zm-1 0zm0 2zm0-2zm-1 2zm0 0zm-12 13zm1-2zm1 1zm3-5zm1-1zm-6 8zm-1 0zm-5 5zm-2 2zm-2 2zm-1 2zm-10 9zm0 1zm4-6zm3-1zm-14 13zm-4 4zm0 1zm-16 14zm1 0zm0 0zm1-1zm1-1zm1-1zm0-1zm0 0zm0 2zm0-1zm1-2zm0 2zm1-1zm2-4zm0 0zm2-2zm0 1zm-11 11zm-1 1zm-2 3zm0 0zm0 0zm-1-1zm-1 1zm-1 2zm-1 1zm-3 4zm-13 12zm1 0zm0-1zm2-1zm5-5zm1-2zm1-1zm-11 12zm-3 3zm0-1zm-5 5zm0 1z"/>
<path stroke="#2a788e" stroke-width="2.72" d="M1017 322zm1 1zm0-1zm0-1zm1 0zm-4 4zm0-1zm0 0zm-2 3zm-1 0zm0 1zm-1 1zm0-2zm0 0zm-2 4zm-1 0zm0 0zm-2 3zm0 1zm-1-1zm0-1zm0 2zm0 0zm-1 0zm0 0zm0 0zm-11 12zm0-1zm1-1zm0-1zm1 1zm1-1zm0-1zm1-2zm0 1zm0 1zm0-2zm0 0zm0 2zm1 0zm0-2zm0 0zm2-1zm0-1zm1 0zm0-1zm0 0zm1 1zm1-2zm0-1zm0 1zm0-1zm1 0zm0 0zm-11 12zm-1 0zm0 0zm-1 0zm-1 1zm0 0zm0-1zm-1 2zm-1 2zm-1 0zm0 1zm-1 0zm0 1zm-1 0zm0 1zm-1 0zm0 0zm0 0zm-1 2zm0 0zm0-1zm0 1zm-2 2zm-14 12zm3-1zm0 1zm0-2zm0 0zm0 1zm0-2zm1 1zm2-3zm0-1zm1 0zm1 1zm0-2zm0 1zm0-1zm0 1zm1-2zm2-1zm1-1zm0-1zm1 0zm0 0zm-11 12zm-2 0zm0 2zm0-2zm0 2zm-1 0zm0 1zm0-1zm0 0zm0 0zm0-1zm-1 2zm-1 2zm0-1zm-1 1zm0-1zm0 1zm-1 0zm-1 1zm-1 3zm-2 1zm0 0zm0 0zm0 1zm0 0zm0-1zm-1 0zm-1 1zm0 0zm-12 11zm1 1zm0-1zm0 1zm0 0zm1-2zm0 0zm1 0zm0 0zm1-2zm0 1zm1-1zm0 0zm1-2zm0 0zm0 1zm0-1zm1 0zm0 0zm0 0zm0-1zm2 0zm0-2zm0 1zm1-2zm0 1zm0 0zm-10 10zm0 1zm0-1zm-1 2zm0-2zm-2 3zm0-1zm0 1zm-1 0zm-1 2zm-1 0zm0 0zm0 0zm-1 2zm-2 1zm0 2zm-1-2zm-1 2zm0 1zm-1 0zm-1 0zm0 0zm-9 10zm0 0zm1 0zm0 0zm1 0zm0-1zm0-1zm0 2zm2-2zm0-2zm1-1zm1-1zm1-1zm0 0zm0 0zm0 1zm1-2zm0 1zm2-2zm0 0zm0 0zm0 0zm1 0zm-13 13zm0-1zm-1 1zm0 0zm0 0zm-1 1zm0-1zm0 3zm-1-1zm-1 1zm0-2zm0 2zm-1 0zm0-1zm-1 4zm0-1zm0-2zm0 1zm-1 2zm0 1zm-1 1zm-1 1zm0-1zm0-1zm-1 1zm-1 1zm0 1zm-1 0zm-13 12zm2 0zm1-1zm0-1zm0 1zm0 0zm0-1zm0 2zm1-2zm0 1zm0-2zm0 1zm1-1zm1 0zm0-1zm0 0zm0-2zm1 2zm0-1zm1-2zm0 1zm0 0zm1-1zm1-2zm0 2zm1-3zm0 2zm0-2zm0 1zm0 1zm0-1zm0 0zm0 1zm1-2zm1 0zm0-1zm-12 13zm0-1zm0 0zm0 0zm-1 2zm0-1zm0 0zm0 0zm0 0zm-1 1zm0 1zm0 1zm-1-1zm-1 2zm0-2zm0 1zm-1 2zm0-1zm0 0zm0 1zm0-2zm-1 1zm0 0zm0 2zm0-2zm0 0zm-1 2zm0 0zm-1 1zm0 1zm0-2zm-1 3zm0-2zm-1 2zm0 0zm-1 0zm0 1zm0 0zm-1 0zm0 0zm-11 12zm0 0zm1-2zm0 1zm0 0zm0 1zm1-1zm0-1zm0 0zm1-2zm1-1zm0 1zm0 1zm0-1zm2-3zm0 1zm0 1zm1-2zm0 0zm1-1zm0 0zm0 0zm1-1zm0 0zm0 0zm2-2zm-12 13zm0 0zm0-1zm-1 1zm-1 1zm-1 1zm-1 2zm0-2zm0 2zm0-1zm-1 2zm0-2zm-1 2zm0-1zm0 1zm0 1zm0-1zm-3 3zm0 1zm-1 1zm0 0zm-1-1zm-14 13zm2-1zm0 1zm1 0zm0 0zm1-1zm0 0zm1-1zm0 1zm1-3zm0 0zm1-1zm0-1zm0 0zm0 2zm1-1zm0 0zm1-3zm0 2zm1-3zm0 0zm1 0zm0-2zm1 1zm0 0zm0 0zm2-1zm-13 13zm0-1zm-1 0zm0 0zm-1 2zm-1 1zm-1 1zm0 0zm0 0zm-2 1zm0 2zm-1 0zm0 2zm0-1zm-1 0zm0 1z"/>
<path stroke="#23888e" stroke-width="2.72" d="M1016 322zm1 0zm0-1zm2 0zm1-1zm0 1zm-4 3zm-1 1zm-1 0zm0 0zm0 0zm-1 2zm-1-1zm0 1zm0 1zm-1 1zm0-1zm0 0zm0 1zm0-1zm-1 1zm0 0zm0 0zm0 0zm-1 1zm0 1zm0-2zm-1 2zm0-1zm-1 2zm0 0zm0 1zm-1 0zm0 1zm0-1zm0 0zm-1 0zm0 2zm-1-1zm0 0zm0 1zm0 0zm-12 12zm0-1zm1 0zm0 1zm1-2zm0 0zm1 0zm0 0zm1-2zm0 1zm1-2zm0 1zm0 0zm1-2zm0 0zm1-2zm1 1zm0 0zm1-1zm0-1zm1-1zm1-1zm0 0zm0 0zm1 0zm-12 12zm-1 1zm-1 0zm0 0zm-1 0zm0 1zm0 1zm0 0zm-1 1zm0-1zm-1 2zm0 1zm-1 0zm0 0zm0 0zm0-1zm-2 3zm0-1zm0 0zm-1 1zm0 1zm0-1zm0 1zm0 0zm-1 1zm0 0zm0-2zm-2 3zm-11 11zm0 1zm1-3zm1 0zm1-1zm0 0zm1 0zm0-1zm0 0zm0 0zm0 0zm1-1zm1-2zm0 2zm0-1zm0 0zm1-1zm0 0zm0 2zm0-1zm1-2zm0 1zm0-2zm0 1zm1-1zm0 0zm0 2zm0-1zm1-2zm0 0zm0 2zm-11 10zm-1 1zm-1 1zm0-1zm0 0zm-1 1zm0 1zm0-1zm-1 3zm0-1zm-1 1zm0-2zm-1 2zm0 1zm0 0zm0 0zm0 1zm0-1zm-1 1zm-1 0zm-1 1zm0 1zm-1 0zm-1 1zm0 1zm0-1zm-1 1zm0 0zm0 0zm0 0zm-11 12zm0 0zm1-2zm0 0zm0 2zm1-4zm0 1zm0 0zm0 1zm0-1zm1-1zm0 1zm0-1zm0 0zm1 0zm0-1zm0 2zm0 0zm1-2zm0-1zm0 1zm1-2zm0 0zm0 0zm0 1zm1-1zm0 0zm0-1zm1 1zm0-2zm0 0zm1 0zm0-2zm1 1zm0 0zm0 0zm1-1zm0 0zm1 0zm1 0zm-14 12zm-1 0zm0 1zm0-1zm-1 1zm0 0zm-1 3zm0-1zm0 0zm0-1zm0 1zm0-1zm-1 2zm0-1zm0 0zm0 1zm-1 2zm0-1zm-1 1zm-1 1zm0 0zm-1 1zm0 1zm-1-1zm0 1zm0-1zm-1 2zm0 0zm0-1zm0 1zm0-1zm0 1zm-1 0zm0 1zm0 0zm-1 0zm-12 12zm1 0zm1-1zm0 0zm1-1zm0 1zm0-2zm0 1zm1-1zm0 0zm0-1zm1-1zm1 0zm1-1zm0-2zm1 2zm0-1zm1-1zm0-1zm0 1zm0 0zm1-2zm0 1zm0-1zm1 0zm0-1zm1 0zm0 0zm0 0zm1 0zm-13 14zm0-1zm-2 0zm0 1zm0 0zm0 0zm-1 0zm0 1zm-1 0zm0 2zm-1 0zm0 1zm0-1zm0-1zm0 0zm0 1zm0 0zm-1 2zm0-2zm0 1zm-1 1zm0 0zm-1 1zm0 0zm0-1zm0 1zm-2 3zm0-2zm-1 2zm-13 12zm1 0zm0 0zm1-1zm0-1zm0 0zm0 0zm1 1zm0 0zm0-1zm0 1zm0-1zm1-1zm0 0zm1 0zm0 0zm0 0zm1-1zm0-1zm0 0zm3-3zm1-1zm1-1zm0 0zm0 0zm1-1zm0 0zm-12 12zm0 1zm0-1zm0 1zm-1-1zm0 2zm0-1zm-1 3zm0-2zm-1 0zm0 0zm-1 2zm0 0zm0-1zm-1 2zm0-1zm0 1zm0 0zm-1 1zm0-1zm-2 3zm0 0zm0-1zm0 1zm-1 1zm0 0zm-1 1zm0 1zm0-1zm0 0zm-13 13zm1-2zm0 1zm0 0zm1 0zm0-1zm1 0zm0-1zm0 0zm0 0zm0 0zm1-1zm0 1zm0 0zm0-1zm0 1zm0-1zm1-1zm1-1zm0-1zm0 1zm2-2zm0-1zm0 0zm1 0zm1 0zm0 0zm0-2zm0 1zm1-1zm1 0zm0 0zm-12 12zm-1 1zm0-1zm0 1zm-1 1zm0-1zm-1 3zm0-2zm-1 1zm0 2zm0-1zm0-1zm0-1zm-1 2zm0 0zm0 1zm0 0zm-1 1zm-1 1zm0 0zm-1 0zm0 0zm0-1zm-2 2zm0 1zm0 0zm0 0zm0 1zm0-1zm-1 1zm0-1zm0 1zm-1 1zm-13 12zm1-1zm1 0zm0 0zm1-2zm1 1zm0-1zm0 1zm1-1zm0-1zm1-1zm0 0zm0 1zm1-1zm0-1zm0 0zm1 0zm2-3zm0-1zm0 0zm0 0zm1 1zm0 0zm1-2zm1 0zm-12 12zm-1 0zm0 1zm-1 1zm0-1zm-1 2zm0 0zm0-2zm-2 3zm-1 2zm0-1zm-1 2zm0-1zm0 0zm-1 1zm-1 1z"/>
<path stroke="#1f988b" stroke-width="2.72" d="M1015 323zm4-2zm-4 5zm-4 2zm-1 1zm-3 4zm-1-1zm-1 3zm-12 10zm2-1zm0 1zm4-4zm0 0zm3-4zm1-1zm-13 13zm0 2zm-7 5zm-1 1zm0 2zm0-2zm-13 13zm4-4zm1-1zm5-5zm0 1zm-11 12zm-3 2zm-5 5zm-1 2zm0-2zm-2 2zm0-1zm0 1zm-12 13zm1-2zm0 1zm1-1zm3-3zm0 0zm3-2zm1-3zm0 1zm1-1zm0 0zm1 0zm-12 11zm-1 0zm0 2zm-7 6zm-1 1zm-1 1zm-1 1zm-10 9zm0 0zm0 1zm1-1zm1-1zm2-3zm0 0zm1-1zm0 1zm1-1zm1-1zm-10 10zm-1 1zm-1 1zm0 1zm-2 1zm0-1zm0 1zm-1 2zm-3 3zm0-2zm-2 3zm-1 1zm0 0zm-11 9zm1 1zm2-3zm1 0zm1-1zm2-1zm1-4zm1 0zm0 1zm2-1zm-17 16zm-1 2zm-3 2zm0 1zm-4 2zm-9 11zm0 0zm2-2zm0-1zm2-2zm-7 7zm0 0zm-1 1zm0 0zm-2 3zm-2 1zm-1 1zm-1 2zm-3 2zm-14 13zm0 0zm1 0zm2-2zm0 1zm1-1zm5-6zm1 0zm2-3zm0 1zm0-1zm-11 13zm-3 2zm-3 3zm-1 1zm0-1zm-1 1z"/>
<path stroke="#35b779" stroke-width="2.72" d="M1019 320zm-18 19zm-19 19zm-1 0zm-9 10zm-5 4zm-22 23zm5-5zm-28 27zm-15 16zm-12 12zm-1 1zm-26 26zm-19 18zm1 0zm8-9zm-14 16z"/>
<path stroke="#54c568" stroke-width="2.72" d="M1016 323zm1-2zm0 2zm2-3zm-4 5zm-1 0zm-8 8zm-2 2zm-11 10zm0 1zm2-1zm2-2zm6-6zm-12 12zm0 0zm0 1zm-1 0zm-1 0zm-1 1zm0 0zm0 0zm-1 2zm-1 1zm-5 4zm0 0zm-11 12zm4-5zm1-1zm0 1zm4-3zm-12 10zm-3 4zm-4 6zm-1-1zm-11 10zm1 0zm2-3zm3-2zm0 1zm-11 10zm-2 1zm-3 3zm-1 1zm-3 4zm-1 0zm-13 13zm4-5zm2-1zm3-1zm1-3zm-13 14zm-21 20zm2-2zm4-4zm1 0zm5-5zm-20 20zm0 1zm-3 2zm-10 11zm0-1zm1 0zm0 0zm3-4zm3-3zm-9 10zm-1 0zm0 0zm-1 1zm0 0zm-1 1zm-3 4zm-2 0zm-16 17zm3-2zm4-6zm2-1zm1-1zm2-1zm-14 14zm-3 3zm0 1z"/>
<path stroke="#7ad151" stroke-width="2.72" d="M1012 326zm-11 13zm-95 95zm-55 55z"/>
<path stroke="#2a788e" stroke-width="2.20" d="M825 350z"/>
<path stroke="#23888e" stroke-width="2.20" d="M1006 354z"/>
<path stroke="#1f988b" stroke-width="2.20" d="M865 382zm84 63z"/>
</g>
<path d="M15 104L77 129" stroke="#3a3a3a" stroke-width="0.9"/>
<path d="M77 129L139 104" stroke="#3a3a3a" stroke-width="0.9"/>
<path d="M139 40L139 104" stroke="#3a3a3a" stroke-width="0.9"/>
<text x="62.5" y="140.7" font-size="5.6" text-anchor="start" fill="#1a1a1a" class="b">270.00</text>
<text x="50.7" y="135.8" font-size="5.6" text-anchor="start" fill="#1a1a1a" class="b">270.01</text>
<text x="38.9" y="130.9" font-size="5.6" text-anchor="start" fill="#1a1a1a" class="b">270.02</text>
<text x="27.1" y="126" font-size="5.6" text-anchor="start" fill="#1a1a1a" class="b">270.03</text>
<text x="15.3" y="121.1" font-size="5.6" text-anchor="start" fill="#1a1a1a" class="b">270.04</text>
<text x="3.5" y="116.2" font-size="5.6" text-anchor="start" fill="#1a1a1a" class="b">270.05</text>
<text x="81.3" y="140.7" font-size="5.6" text-anchor="start" fill="#1a1a1a" class="b">0</text>
<text x="95.9" y="132.7" font-size="5.6" text-anchor="start" fill="#1a1a1a" class="b">200</text>
<text x="115.2" y="124.9" font-size="5.6" text-anchor="start" fill="#1a1a1a" class="b">400</text>
<text x="134.6" y="117.1" font-size="5.6" text-anchor="start" fill="#1a1a1a" class="b">600</text>
<text x="149" y="44.8" font-size="5.6" text-anchor="middle" fill="#1a1a1a" class="b">0</text>
<text x="149" y="71" font-size="5.6" text-anchor="middle" fill="#1a1a1a" class="b">200</text>
<text x="149" y="97.3" font-size="5.6" text-anchor="middle" fill="#1a1a1a" class="b">400</text>
<text x="161" y="73.6" font-size="5.6" text-anchor="middle" fill="#1a1a1a" class="l">y</text>
<text x="161" y="80" font-size="5.6" text-anchor="middle" fill="#1a1a1a" class="b">[pixel]</text>
<text x="127.5" y="134.6" font-size="5.6" text-anchor="middle" fill="#1a1a1a" class="l">x [pixel]</text>
<text x="31" y="134.8" font-size="5.6" text-anchor="middle" fill="#1a1a1a" class="l">t [s]</text>
<path d="M138.5 148.5L138.5 254" stroke="#555" stroke-width="1"/>
<path d="M13.3 253.5L138.5 253.5" stroke="#555" stroke-width="1"/>
<text x="14.3" y="268" font-size="7.6" text-anchor="middle" fill="#262626" class="t">0</text>
<text x="52" y="268" font-size="7.6" text-anchor="middle" fill="#262626" class="t">200</text>
<text x="89.8" y="268" font-size="7.6" text-anchor="middle" fill="#262626" class="t">400</text>
<text x="127.5" y="268" font-size="7.6" text-anchor="middle" fill="#262626" class="t">600</text>
<text x="148" y="156.2" font-size="7.6" text-anchor="middle" fill="#262626" class="t">0</text>
<text x="148" y="198.5" font-size="7.6" text-anchor="middle" fill="#262626" class="t">200</text>
<text x="148" y="240.8" font-size="7.6" text-anchor="middle" fill="#262626" class="t">400</text>
<text x="161" y="200.6" font-size="6" text-anchor="middle" fill="#1a1a1a" class="l">y</text>
<text x="160.5" y="209" font-size="6" text-anchor="middle" fill="#1a1a1a" class="b">[pixel]</text>
<text x="75.8" y="276" font-size="6.3" text-anchor="middle" fill="#1a1a1a" class="l">x [pixel]</text>
<text x="75.8" y="291" font-size="12.5" text-anchor="middle" fill="#333">(a)</text>
<path d="M202.5 104L264.5 129" stroke="#3a3a3a" stroke-width="0.9"/>
<path d="M264.5 129L326.5 104" stroke="#3a3a3a" stroke-width="0.9"/>
<path d="M326.5 40L326.5 104" stroke="#3a3a3a" stroke-width="0.9"/>
<text x="250" y="140.7" font-size="5.6" text-anchor="start" fill="#1a1a1a" class="b">270.00</text>
<text x="238.2" y="135.8" font-size="5.6" text-anchor="start" fill="#1a1a1a" class="b">270.01</text>
<text x="226.4" y="130.9" font-size="5.6" text-anchor="start" fill="#1a1a1a" class="b">270.02</text>
<text x="214.6" y="126" font-size="5.6" text-anchor="start" fill="#1a1a1a" class="b">270.03</text>
<text x="202.8" y="121.1" font-size="5.6" text-anchor="start" fill="#1a1a1a" class="b">270.04</text>
<text x="191" y="116.2" font-size="5.6" text-anchor="start" fill="#1a1a1a" class="b">270.05</text>
<text x="268.8" y="140.7" font-size="5.6" text-anchor="start" fill="#1a1a1a" class="b">0</text>
<text x="283.4" y="132.7" font-size="5.6" text-anchor="start" fill="#1a1a1a" class="b">200</text>
<text x="302.8" y="124.9" font-size="5.6" text-anchor="start" fill="#1a1a1a" class="b">400</text>
<text x="322.1" y="117.1" font-size="5.6" text-anchor="start" fill="#1a1a1a" class="b">600</text>
<text x="336.5" y="44.8" font-size="5.6" text-anchor="middle" fill="#1a1a1a" class="b">0</text>
<text x="336.5" y="71" font-size="5.6" text-anchor="middle" fill="#1a1a1a" class="b">200</text>
<text x="336.5" y="97.3" font-size="5.6" text-anchor="middle" fill="#1a1a1a" class="b">400</text>
<text x="348.5" y="73.6" font-size="5.6" text-anchor="middle" fill="#1a1a1a" class="l">y</text>
<text x="348.5" y="80" font-size="5.6" text-anchor="middle" fill="#1a1a1a" class="b">[pixel]</text>
<text x="315" y="134.6" font-size="5.6" text-anchor="middle" fill="#1a1a1a" class="l">x [pixel]</text>
<text x="218.5" y="134.8" font-size="5.6" text-anchor="middle" fill="#1a1a1a" class="l">t [s]</text>
<path d="M329 148.5L329 254" stroke="#555" stroke-width="1"/>
<path d="M203.8 253.5L329 253.5" stroke="#555" stroke-width="1"/>
<text x="204.8" y="268" font-size="7.6" text-anchor="middle" fill="#262626" class="t">0</text>
<text x="242.5" y="268" font-size="7.6" text-anchor="middle" fill="#262626" class="t">200</text>
<text x="280.3" y="268" font-size="7.6" text-anchor="middle" fill="#262626" class="t">400</text>
<text x="318" y="268" font-size="7.6" text-anchor="middle" fill="#262626" class="t">600</text>
<text x="338.5" y="156.2" font-size="7.6" text-anchor="middle" fill="#262626" class="t">0</text>
<text x="338.5" y="198.5" font-size="7.6" text-anchor="middle" fill="#262626" class="t">200</text>
<text x="338.5" y="240.8" font-size="7.6" text-anchor="middle" fill="#262626" class="t">400</text>
<text x="351.5" y="200.6" font-size="6" text-anchor="middle" fill="#1a1a1a" class="l">y</text>
<text x="351" y="209" font-size="6" text-anchor="middle" fill="#1a1a1a" class="b">[pixel]</text>
<text x="266.2" y="276" font-size="6.3" text-anchor="middle" fill="#1a1a1a" class="l">x [pixel]</text>
<text x="266.2" y="291" font-size="12.5" text-anchor="middle" fill="#333">(b)</text>
<path d="M390 104L452 129" stroke="#3a3a3a" stroke-width="0.9"/>
<path d="M452 129L514 104" stroke="#3a3a3a" stroke-width="0.9"/>
<path d="M514 40L514 104" stroke="#3a3a3a" stroke-width="0.9"/>
<text x="437.5" y="140.7" font-size="5.6" text-anchor="start" fill="#1a1a1a" class="b">270.00</text>
<text x="425.7" y="135.8" font-size="5.6" text-anchor="start" fill="#1a1a1a" class="b">270.01</text>
<text x="413.9" y="130.9" font-size="5.6" text-anchor="start" fill="#1a1a1a" class="b">270.02</text>
<text x="402.1" y="126" font-size="5.6" text-anchor="start" fill="#1a1a1a" class="b">270.03</text>
<text x="390.3" y="121.1" font-size="5.6" text-anchor="start" fill="#1a1a1a" class="b">270.04</text>
<text x="378.5" y="116.2" font-size="5.6" text-anchor="start" fill="#1a1a1a" class="b">270.05</text>
<text x="456.3" y="140.7" font-size="5.6" text-anchor="start" fill="#1a1a1a" class="b">0</text>
<text x="470.9" y="132.7" font-size="5.6" text-anchor="start" fill="#1a1a1a" class="b">200</text>
<text x="490.2" y="124.9" font-size="5.6" text-anchor="start" fill="#1a1a1a" class="b">400</text>
<text x="509.6" y="117.1" font-size="5.6" text-anchor="start" fill="#1a1a1a" class="b">600</text>
<text x="524" y="44.8" font-size="5.6" text-anchor="middle" fill="#1a1a1a" class="b">0</text>
<text x="524" y="71" font-size="5.6" text-anchor="middle" fill="#1a1a1a" class="b">200</text>
<text x="524" y="97.3" font-size="5.6" text-anchor="middle" fill="#1a1a1a" class="b">400</text>
<text x="536" y="73.6" font-size="5.6" text-anchor="middle" fill="#1a1a1a" class="l">y</text>
<text x="536" y="80" font-size="5.6" text-anchor="middle" fill="#1a1a1a" class="b">[pixel]</text>
<text x="502.5" y="134.6" font-size="5.6" text-anchor="middle" fill="#1a1a1a" class="l">x [pixel]</text>
<text x="406" y="134.8" font-size="5.6" text-anchor="middle" fill="#1a1a1a" class="l">t [s]</text>
<path d="M513.6 148.5L513.6 254" stroke="#555" stroke-width="1"/>
<path d="M389.4 253.5L513.6 253.5" stroke="#555" stroke-width="1"/>
<text x="390.4" y="268" font-size="7.6" text-anchor="middle" fill="#262626" class="t">0</text>
<text x="428.1" y="268" font-size="7.6" text-anchor="middle" fill="#262626" class="t">200</text>
<text x="465.9" y="268" font-size="7.6" text-anchor="middle" fill="#262626" class="t">400</text>
<text x="503.6" y="268" font-size="7.6" text-anchor="middle" fill="#262626" class="t">600</text>
<text x="523.1" y="156.2" font-size="7.6" text-anchor="middle" fill="#262626" class="t">0</text>
<text x="523.1" y="198.5" font-size="7.6" text-anchor="middle" fill="#262626" class="t">200</text>
<text x="523.1" y="240.8" font-size="7.6" text-anchor="middle" fill="#262626" class="t">400</text>
<text x="536.1" y="200.6" font-size="6" text-anchor="middle" fill="#1a1a1a" class="l">y</text>
<text x="535.6" y="209" font-size="6" text-anchor="middle" fill="#1a1a1a" class="b">[pixel]</text>
<text x="450.8" y="276" font-size="6.3" text-anchor="middle" fill="#1a1a1a" class="l">x [pixel]</text>
<text x="450.8" y="291" font-size="12.5" text-anchor="middle" fill="#333">(c)</text>
</svg></body></html>
